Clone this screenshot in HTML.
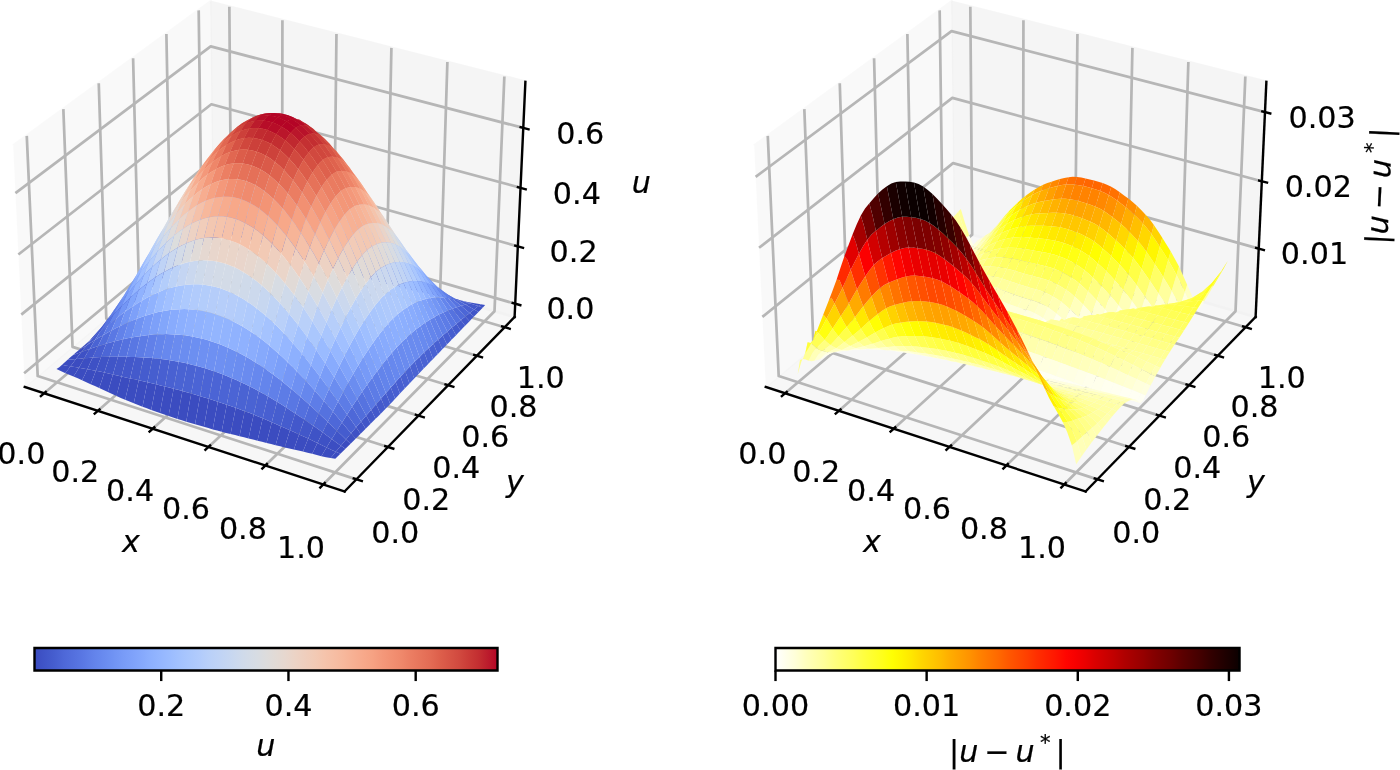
<!DOCTYPE html>
<html lang="en"><head><meta charset="utf-8"><title>u and |u - u*| surfaces</title>
<style>html,body{margin:0;padding:0;background:#fff;overflow:hidden}svg{display:block}text{font-family:"DejaVu Sans","Liberation Sans",sans-serif;stroke:#000;stroke-width:0.07px}</style>
</head><body>
<svg width="1400" height="770" preserveAspectRatio="none" viewBox="0 0 463.448276 254.896552">
<defs>
<style type="text/css">*{stroke-linejoin: round; stroke-linecap: butt}</style>
<linearGradient id="cbg0" x1="0" x2="1" y1="0" y2="0"><stop offset="0" stop-color="#3b4cc0"/><stop offset="0.02083" stop-color="#4055c8"/><stop offset="0.04167" stop-color="#465ecf"/><stop offset="0.0625" stop-color="#4e68d8"/><stop offset="0.08333" stop-color="#5470de"/><stop offset="0.1042" stop-color="#5a78e4"/><stop offset="0.125" stop-color="#6282ea"/><stop offset="0.1458" stop-color="#688aef"/><stop offset="0.1667" stop-color="#6f92f3"/><stop offset="0.1875" stop-color="#779af7"/><stop offset="0.2083" stop-color="#7ea1fa"/><stop offset="0.2292" stop-color="#85a8fc"/><stop offset="0.25" stop-color="#8db0fe"/><stop offset="0.2708" stop-color="#94b6ff"/><stop offset="0.2917" stop-color="#9bbcff"/><stop offset="0.3125" stop-color="#a3c2fe"/><stop offset="0.3333" stop-color="#aac7fd"/><stop offset="0.3542" stop-color="#b1cbfc"/><stop offset="0.375" stop-color="#b9d0f9"/><stop offset="0.3958" stop-color="#bfd3f6"/><stop offset="0.4167" stop-color="#c5d6f2"/><stop offset="0.4375" stop-color="#ccd9ed"/><stop offset="0.4583" stop-color="#d2dbe8"/><stop offset="0.4792" stop-color="#d7dce3"/><stop offset="0.5" stop-color="#dddcdc"/><stop offset="0.5208" stop-color="#e2dad5"/><stop offset="0.5417" stop-color="#e7d7ce"/><stop offset="0.5625" stop-color="#ecd3c5"/><stop offset="0.5833" stop-color="#efcebd"/><stop offset="0.6042" stop-color="#f2cab5"/><stop offset="0.625" stop-color="#f5c4ac"/><stop offset="0.6458" stop-color="#f6bea4"/><stop offset="0.6667" stop-color="#f7b89c"/><stop offset="0.6875" stop-color="#f7b093"/><stop offset="0.7083" stop-color="#f7a98b"/><stop offset="0.7292" stop-color="#f6a283"/><stop offset="0.75" stop-color="#f4987a"/><stop offset="0.7708" stop-color="#f29072"/><stop offset="0.7917" stop-color="#ef886b"/><stop offset="0.8125" stop-color="#eb7d62"/><stop offset="0.8333" stop-color="#e7745b"/><stop offset="0.8542" stop-color="#e36b54"/><stop offset="0.875" stop-color="#dd5f4b"/><stop offset="0.8958" stop-color="#d75445"/><stop offset="0.9167" stop-color="#d1493f"/><stop offset="0.9375" stop-color="#ca3b37"/><stop offset="0.9583" stop-color="#c32e31"/><stop offset="0.9792" stop-color="#bb1b2c"/><stop offset="1" stop-color="#b40426"/></linearGradient><linearGradient id="cbg1" x1="0" x2="1" y1="0" y2="0"><stop offset="0" stop-color="#ffffff"/><stop offset="0.02083" stop-color="#ffffeb"/><stop offset="0.04167" stop-color="#ffffd8"/><stop offset="0.0625" stop-color="#ffffc0"/><stop offset="0.08333" stop-color="#ffffac"/><stop offset="0.1042" stop-color="#ffff99"/><stop offset="0.125" stop-color="#ffff81"/><stop offset="0.1458" stop-color="#ffff6d"/><stop offset="0.1667" stop-color="#ffff5a"/><stop offset="0.1875" stop-color="#ffff42"/><stop offset="0.2083" stop-color="#ffff2e"/><stop offset="0.2292" stop-color="#ffff1b"/><stop offset="0.25" stop-color="#ffff03"/><stop offset="0.2708" stop-color="#fff400"/><stop offset="0.2917" stop-color="#ffe700"/><stop offset="0.3125" stop-color="#ffd700"/><stop offset="0.3333" stop-color="#ffca00"/><stop offset="0.3542" stop-color="#ffbd00"/><stop offset="0.375" stop-color="#ffad00"/><stop offset="0.3958" stop-color="#ffa000"/><stop offset="0.4167" stop-color="#ff9300"/><stop offset="0.4375" stop-color="#ff8300"/><stop offset="0.4583" stop-color="#ff7600"/><stop offset="0.4792" stop-color="#ff6900"/><stop offset="0.5" stop-color="#ff5900"/><stop offset="0.5208" stop-color="#ff4c00"/><stop offset="0.5417" stop-color="#ff3f00"/><stop offset="0.5625" stop-color="#ff2f00"/><stop offset="0.5833" stop-color="#ff2200"/><stop offset="0.6042" stop-color="#ff1500"/><stop offset="0.625" stop-color="#ff0500"/><stop offset="0.6458" stop-color="#f70000"/><stop offset="0.6667" stop-color="#ea0000"/><stop offset="0.6875" stop-color="#da0000"/><stop offset="0.7083" stop-color="#cd0000"/><stop offset="0.7292" stop-color="#c00000"/><stop offset="0.75" stop-color="#b00000"/><stop offset="0.7708" stop-color="#a30000"/><stop offset="0.7917" stop-color="#960000"/><stop offset="0.8125" stop-color="#860000"/><stop offset="0.8333" stop-color="#790000"/><stop offset="0.8542" stop-color="#6c0000"/><stop offset="0.875" stop-color="#5c0000"/><stop offset="0.8958" stop-color="#4f0000"/><stop offset="0.9167" stop-color="#420000"/><stop offset="0.9375" stop-color="#320000"/><stop offset="0.9583" stop-color="#250000"/><stop offset="0.9792" stop-color="#180000"/><stop offset="1" stop-color="#0b0000"/></linearGradient></defs>
<g id="figure_1">
<g id="patch_1">
<path d="M0 254.9L463.45 254.9L463.45 0L0 0z" style="fill: #ffffff"/>
</g>
<g id="patch_2">
<path d="M-1 174.57L182.48 174.57L182.48 -1" style="fill: none; opacity: 0"/>
</g>
<g id="pane3d_1">
<g id="patch_3">
<path d="M8.19 128.09L70.45 75.9L69.58 0.64L4.35 48.25" style="fill: #f5f5f5; opacity: 0.5; stroke: #f5f5f5; stroke-linejoin: miter"/>
</g>
</g>
<g id="pane3d_2">
<g id="patch_4">
<path d="M70.45 75.9L170.35 104.94L173.92 27.09L69.58 0.64" style="fill: #ededed; opacity: 0.5; stroke: #ededed; stroke-linejoin: miter"/>
</g>
</g>
<g id="pane3d_3">
<g id="patch_5">
<path d="M8.19 128.09L114.09 162.67L170.35 104.94L70.45 75.9" style="fill: #f1f1f1; opacity: 0.5; stroke: #f1f1f1; stroke-linejoin: miter"/>
</g>
</g>
<g id="grid3d_1">
<g id="Line3DCollection_1">
<path d="M14.61 130.18L76.53 77.67L75.92 2.25" style="fill: none; stroke: #b6b6b6; stroke-width: 0.9"/>
<path d="M32.42 136L93.38 82.57L93.49 6.7" style="fill: none; stroke: #b6b6b6; stroke-width: 0.9"/>
<path d="M50.55 141.92L110.52 87.55L111.38 11.23" style="fill: none; stroke: #b6b6b6; stroke-width: 0.9"/>
<path d="M69.03 147.95L127.94 92.61L129.57 15.85" style="fill: none; stroke: #b6b6b6; stroke-width: 0.9"/>
<path d="M87.84 154.1L145.67 97.77L148.1 20.54" style="fill: none; stroke: #b6b6b6; stroke-width: 0.9"/>
<path d="M107.01 160.36L163.7 103.01L166.96 25.32" style="fill: none; stroke: #b6b6b6; stroke-width: 0.9"/>
</g>
</g>
<g id="grid3d_2">
<g id="Line3DCollection_2">
<path d="M8.86 44.96L12.48 124.49L117.98 158.68" style="fill: none; stroke: #b6b6b6; stroke-width: 0.9"/>
<path d="M20.97 36.12L24.01 114.83L128.43 147.96" style="fill: none; stroke: #b6b6b6; stroke-width: 0.9"/>
<path d="M32.69 27.57L35.18 105.46L138.54 137.58" style="fill: none; stroke: #b6b6b6; stroke-width: 0.9"/>
<path d="M44.06 19.27L46.03 96.37L148.34 127.52" style="fill: none; stroke: #b6b6b6; stroke-width: 0.9"/>
<path d="M55.08 11.23L56.56 87.54L157.84 117.77" style="fill: none; stroke: #b6b6b6; stroke-width: 0.9"/>
<path d="M65.77 3.43L66.79 78.97L167.06 108.32" style="fill: none; stroke: #b6b6b6; stroke-width: 0.9"/>
</g>
</g>
<g id="grid3d_3">
<g id="Line3DCollection_3">
<path d="M170.55 100.54L70.4 71.64L7.98 123.58" style="fill: none; stroke: #b6b6b6; stroke-width: 0.9"/>
<path d="M171.42 81.56L70.19 53.27L7.04 104.14" style="fill: none; stroke: #b6b6b6; stroke-width: 0.9"/>
<path d="M172.31 62.17L69.97 34.52L6.08 84.26" style="fill: none; stroke: #b6b6b6; stroke-width: 0.9"/>
<path d="M173.22 42.35L69.75 15.37L5.1 63.92" style="fill: none; stroke: #b6b6b6; stroke-width: 0.9"/>
</g>
</g>
<g id="axis3d_1">
<g id="line2d_1">
<path d="M8.19 128.09L114.09 162.67" style="fill: none; stroke: #000000; stroke-width: 0.8; stroke-linecap: square"/>
</g>
<g id="xtick_1">
<g id="line2d_2">
<path d="M15.15 129.72L13.53 131.1" style="fill: none; stroke: #000000; stroke-width: 0.8; stroke-linecap: square"/>
</g>
<g id="text_1">
<text style="font-size: 10px; font-family: 'DejaVu Sans', 'Liberation Sans', sans-serif; text-anchor: middle" x="7.067" y="153.655" transform="rotate(-0 7.067 153.655)">0.0</text>
</g>
</g>
<g id="xtick_2">
<g id="line2d_3">
<path d="M32.95 135.53L31.35 136.93" style="fill: none; stroke: #000000; stroke-width: 0.8; stroke-linecap: square"/>
</g>
<g id="text_2">
<text style="font-size: 10px; font-family: 'DejaVu Sans', 'Liberation Sans', sans-serif; text-anchor: middle" x="24.902" y="159.646" transform="rotate(-0 24.902 159.646)">0.2</text>
</g>
</g>
<g id="xtick_3">
<g id="line2d_4">
<path d="M51.08 141.45L49.51 142.87" style="fill: none; stroke: #000000; stroke-width: 0.8; stroke-linecap: square"/>
</g>
<g id="text_3">
<text style="font-size: 10px; font-family: 'DejaVu Sans', 'Liberation Sans', sans-serif; text-anchor: middle" x="43.067" y="165.748" transform="rotate(-0 43.067 165.748)">0.4</text>
</g>
</g>
<g id="xtick_4">
<g id="line2d_5">
<path d="M69.54 147.47L67.99 148.92" style="fill: none; stroke: #000000; stroke-width: 0.8; stroke-linecap: square"/>
</g>
<g id="text_4">
<text style="font-size: 10px; font-family: 'DejaVu Sans', 'Liberation Sans', sans-serif; text-anchor: middle" x="61.568" y="171.963" transform="rotate(-0 61.568 171.963)">0.6</text>
</g>
</g>
<g id="xtick_5">
<g id="line2d_6">
<path d="M88.35 153.61L86.83 155.09" style="fill: none; stroke: #000000; stroke-width: 0.8; stroke-linecap: square"/>
</g>
<g id="text_5">
<text style="font-size: 10px; font-family: 'DejaVu Sans', 'Liberation Sans', sans-serif; text-anchor: middle" x="80.418" y="178.294" transform="rotate(-0 80.418 178.294)">0.8</text>
</g>
</g>
<g id="xtick_6">
<g id="line2d_7">
<path d="M107.51 159.86L106.02 161.37" style="fill: none; stroke: #000000; stroke-width: 0.8; stroke-linecap: square"/>
</g>
<g id="text_6">
<text style="font-size: 10px; font-family: 'DejaVu Sans', 'Liberation Sans', sans-serif; text-anchor: middle" x="99.624" y="184.746" transform="rotate(-0 99.624 184.746)">1.0</text>
</g>
</g>
<g id="text_7">
<g transform="translate(40.400 183.217)">
<text>
<tspan x="0" y="-0.53125" style="font-style: oblique; font-size: 10px; font-family: 'DejaVu Sans', 'Liberation Sans', sans-serif">x</tspan>
</text>
</g>
</g>
</g>
<g id="axis3d_2">
<g id="line2d_8">
<path d="M170.35 104.94L114.09 162.67" style="fill: none; stroke: #000000; stroke-width: 0.8; stroke-linecap: square"/>
</g>
<g id="xtick_7">
<g id="line2d_9">
<path d="M117.1 158.39L119.77 159.26" style="fill: none; stroke: #000000; stroke-width: 0.8; stroke-linecap: square"/>
</g>
<g id="text_8">
<text style="font-size: 10px; font-family: 'DejaVu Sans', 'Liberation Sans', sans-serif; text-anchor: middle" x="130.869" y="179.844" transform="rotate(-0 130.869 179.844)">0.0</text>
</g>
</g>
<g id="xtick_8">
<g id="line2d_10">
<path d="M127.55 147.68L130.19 148.52" style="fill: none; stroke: #000000; stroke-width: 0.8; stroke-linecap: square"/>
</g>
<g id="text_9">
<text style="font-size: 10px; font-family: 'DejaVu Sans', 'Liberation Sans', sans-serif; text-anchor: middle" x="141.115" y="168.902" transform="rotate(-0 141.115 168.902)">0.2</text>
</g>
</g>
<g id="xtick_9">
<g id="line2d_11">
<path d="M137.67 137.31L140.28 138.12" style="fill: none; stroke: #000000; stroke-width: 0.8; stroke-linecap: square"/>
</g>
<g id="text_10">
<text style="font-size: 10px; font-family: 'DejaVu Sans', 'Liberation Sans', sans-serif; text-anchor: middle" x="151.037" y="158.305" transform="rotate(-0 151.037 158.305)">0.4</text>
</g>
</g>
<g id="xtick_10">
<g id="line2d_12">
<path d="M147.48 127.26L150.07 128.05" style="fill: none; stroke: #000000; stroke-width: 0.8; stroke-linecap: square"/>
</g>
<g id="text_11">
<text style="font-size: 10px; font-family: 'DejaVu Sans', 'Liberation Sans', sans-serif; text-anchor: middle" x="160.651" y="148.038" transform="rotate(-0 160.651 148.038)">0.6</text>
</g>
</g>
<g id="xtick_11">
<g id="line2d_13">
<path d="M156.99 117.52L159.55 118.28" style="fill: none; stroke: #000000; stroke-width: 0.8; stroke-linecap: square"/>
</g>
<g id="text_12">
<text style="font-size: 10px; font-family: 'DejaVu Sans', 'Liberation Sans', sans-serif; text-anchor: middle" x="169.972" y="138.085" transform="rotate(-0 169.972 138.085)">0.8</text>
</g>
</g>
<g id="xtick_12">
<g id="line2d_14">
<path d="M166.22 108.07L168.74 108.81" style="fill: none; stroke: #000000; stroke-width: 0.8; stroke-linecap: square"/>
</g>
<g id="text_13">
<text style="font-size: 10px; font-family: 'DejaVu Sans', 'Liberation Sans', sans-serif; text-anchor: middle" x="179.011" y="128.431" transform="rotate(-0 179.011 128.431)">1.0</text>
</g>
</g>
<g id="text_14">
<g transform="translate(167.465 163.419)">
<text>
<tspan x="0" y="-0.53125" style="font-style: oblique; font-size: 10px; font-family: 'DejaVu Sans', 'Liberation Sans', sans-serif">y</tspan>
</text>
</g>
</g>
</g>
<g id="axis3d_3">
<g id="line2d_15">
<path d="M170.35 104.94L173.92 27.09" style="fill: none; stroke: #000000; stroke-width: 0.8; stroke-linecap: square"/>
</g>
<g id="xtick_13">
<g id="line2d_16">
<path d="M169.71 100.3L172.24 101.03" style="fill: none; stroke: #000000; stroke-width: 0.8; stroke-linecap: square"/>
</g>
<g id="text_15">
<text style="font-size: 10px; font-family: 'DejaVu Sans', 'Liberation Sans', sans-serif; text-anchor: middle" x="188.823" y="105.688" transform="rotate(-0 188.823 105.688)">0.0</text>
</g>
</g>
<g id="xtick_14">
<g id="line2d_17">
<path d="M170.57 81.33L173.12 82.04" style="fill: none; stroke: #000000; stroke-width: 0.8; stroke-linecap: square"/>
</g>
<g id="text_16">
<text style="font-size: 10px; font-family: 'DejaVu Sans', 'Liberation Sans', sans-serif; text-anchor: middle" x="189.886" y="86.767" transform="rotate(-0 189.886 86.767)">0.2</text>
</g>
</g>
<g id="xtick_15">
<g id="line2d_18">
<path d="M171.45 61.94L174.03 62.64" style="fill: none; stroke: #000000; stroke-width: 0.8; stroke-linecap: square"/>
</g>
<g id="text_17">
<text style="font-size: 10px; font-family: 'DejaVu Sans', 'Liberation Sans', sans-serif; text-anchor: middle" x="190.973" y="67.431" transform="rotate(-0 190.973 67.431)">0.4</text>
</g>
</g>
<g id="xtick_16">
<g id="line2d_19">
<path d="M172.35 42.12L174.96 42.8" style="fill: none; stroke: #000000; stroke-width: 0.8; stroke-linecap: square"/>
</g>
<g id="text_18">
<text style="font-size: 10px; font-family: 'DejaVu Sans', 'Liberation Sans', sans-serif; text-anchor: middle" x="192.084" y="47.666" transform="rotate(-0 192.084 47.666)">0.6</text>
</g>
</g>
<g id="text_19">
<g transform="translate(209.160 64.371)">
<text>
<tspan x="0" y="-0.53125" style="font-style: oblique; font-size: 10px; font-family: 'DejaVu Sans', 'Liberation Sans', sans-serif">u</tspan>
</text>
</g>
</g>
</g>
<g id="axes_1">
<g id="Poly3DCollection_1">
<path d="M72.04 76.61L73.38 77.04L74.72 77.44L75.52 77.1L74.18 76.53L72.84 75.93z" fill="#3c4ec2"/>
<path d="M74.72 77.44L76.06 77.8L77.4 78.12L78.2 78.11L76.86 77.63L75.52 77.1z" fill="#3c4ec2"/>
<path d="M70.44 77.98L71.77 78.07L73.11 78.13L73.92 77.78L74.72 77.44L73.38 77.04L72.04 76.61L71.24 77.3z" fill="#3c4ec2"/>
<path d="M77.4 78.12L78.74 78.41L80.09 78.7L80.89 79.02L79.54 78.57L78.2 78.11z" fill="#3c4ec2"/>
<path d="M73.11 78.13L74.45 78.15L75.79 78.13L76.6 78.12L77.4 78.12L76.06 77.8L74.72 77.44L73.92 77.78z" fill="#3f53c6"/>
<path d="M80.09 78.7L81.43 78.99L82.78 79.3L83.58 79.94L82.23 79.47L80.89 79.02z" fill="#3d50c3"/>
<path d="M68.83 79.36L70.16 79.1L71.5 78.83L72.31 78.48L73.11 78.13L71.77 78.07L70.44 77.98L69.63 78.67z" fill="#3c4ec2"/>
<path d="M75.79 78.13L77.14 78.1L78.48 78.06L79.29 78.38L80.09 78.7L78.74 78.41L77.4 78.12L76.6 78.12z" fill="#4358cb"/>
<path d="M82.78 79.3L84.13 79.63L85.49 79.98L86.28 80.92L84.93 80.43L83.58 79.94z" fill="#3e51c5"/>
<path d="M71.5 78.83L72.84 78.52L74.18 78.17L74.99 78.15L75.79 78.13L74.45 78.15L73.11 78.13L72.31 78.48z" fill="#4257c9"/>
<path d="M85.49 79.98L86.84 80.32L88.2 80.67L88.99 81.9L87.63 81.42L86.28 80.92z" fill="#3e51c5"/>
<path d="M78.48 78.06L79.83 78.04L81.18 78.03L81.98 78.67L82.78 79.3L81.43 78.99L80.09 78.7L79.29 78.38z" fill="#465ecf"/>
<path d="M67.21 80.74L68.54 80.15L69.87 79.55L70.69 79.19L71.5 78.83L70.16 79.1L68.83 79.36L68.02 80.05z" fill="#3c4ec2"/>
<path d="M88.2 80.67L89.56 81.01L90.92 81.35L91.7 82.86L90.34 82.38L88.99 81.9z" fill="#3f53c6"/>
<path d="M81.18 78.03L82.53 78.05L83.89 78.09L84.69 79.03L85.49 79.98L84.13 79.63L82.78 79.3L81.98 78.67z" fill="#4a63d3"/>
<path d="M74.18 78.17L75.52 77.81L76.87 77.45L77.67 77.75L78.48 78.06L77.14 78.1L75.79 78.13L74.99 78.15z" fill="#4961d2"/>
<path d="M69.87 79.55L71.21 78.91L72.55 78.24L73.36 78.2L74.18 78.17L72.84 78.52L71.5 78.83L70.69 79.19z" fill="#455cce"/>
<path d="M90.92 81.35L92.28 81.7L93.64 82.04L94.42 83.81L93.06 83.34L91.7 82.86z" fill="#3f53c6"/>
<path d="M65.59 82.12L66.91 81.22L68.24 80.3L69.06 79.92L69.87 79.55L68.54 80.15L67.21 80.74L66.4 81.43z" fill="#3c4ec2"/>
<path d="M83.89 78.09L85.25 78.14L86.61 78.19L87.41 79.43L88.2 80.67L86.84 80.32L85.49 79.98L84.69 79.03z" fill="#4e68d8"/>
<path d="M76.87 77.45L78.21 77.11L79.57 76.79L80.38 77.41L81.18 78.03L79.83 78.04L78.48 78.06L77.67 77.75z" fill="#4f69d9"/>
<path d="M93.64 82.04L95.01 82.39L96.38 82.74L97.15 84.73L95.78 84.27L94.42 83.81z" fill="#3f53c6"/>
<path d="M86.61 78.19L87.97 78.25L89.34 78.33L90.13 79.84L90.92 81.35L89.56 81.01L88.2 80.67L87.41 79.43z" fill="#506bda"/>
<path d="M72.55 78.24L73.89 77.57L75.24 76.89L76.05 77.17L76.87 77.45L75.52 77.81L74.18 78.17L73.36 78.2z" fill="#4f69d9"/>
<path d="M63.95 83.52L65.28 82.31L66.6 81.08L67.42 80.69L68.24 80.3L66.91 81.22L65.59 82.12L64.77 82.82z" fill="#3c4ec2"/>
<path d="M96.38 82.74L97.75 83.09L99.12 83.44L99.88 85.64L98.52 85.19L97.15 84.73z" fill="#4055c8"/>
<path d="M68.24 80.3L69.58 79.35L70.91 78.36L71.73 78.3L72.55 78.24L71.21 78.91L69.87 79.55L69.06 79.92z" fill="#485fd1"/>
<path d="M79.57 76.79L80.92 76.5L82.28 76.24L83.09 77.16L83.89 78.09L82.53 78.05L81.18 78.03L80.38 77.41z" fill="#5673e0"/>
<path d="M89.34 78.33L90.71 78.41L92.08 78.51L92.86 80.27L93.64 82.04L92.28 81.7L90.92 81.35L90.13 79.84z" fill="#5470de"/>
<path d="M99.12 83.44L100.49 83.8L101.87 84.15L102.62 86.53L101.25 86.09L99.88 85.64z" fill="#4055c8"/>
<path d="M75.24 76.89L76.59 76.24L77.94 75.61L78.76 76.19L79.57 76.79L78.21 77.11L76.87 77.45L76.05 77.17z" fill="#5977e3"/>
<path d="M82.28 76.24L83.64 75.99L85.01 75.76L85.81 76.97L86.61 78.19L85.25 78.14L83.89 78.09L83.09 77.16z" fill="#5d7ce6"/>
<path d="M62.31 84.92L63.63 83.42L64.96 81.9L65.78 81.49L66.6 81.08L65.28 82.31L63.95 83.52L63.13 84.22z" fill="#3c4ec2"/>
<path d="M92.08 78.51L93.45 78.62L94.82 78.74L95.6 80.74L96.38 82.74L95.01 82.39L93.64 82.04L92.86 80.27z" fill="#5673e0"/>
<path d="M101.87 84.15L103.25 84.52L104.63 84.89L105.37 87.41L104 86.97L102.62 86.53z" fill="#4257c9"/>
<path d="M70.91 78.36L72.26 77.38L73.6 76.39L74.42 76.63L75.24 76.89L73.89 77.57L72.55 78.24L71.73 78.3z" fill="#5470de"/>
<path d="M66.6 81.08L67.93 79.82L69.27 78.54L70.09 78.44L70.91 78.36L69.58 79.35L68.24 80.3L67.42 80.69z" fill="#4a63d3"/>
<path d="M104.63 84.89L106.01 85.26L107.39 85.64L108.13 88.28L106.75 87.85L105.37 87.41z" fill="#4257c9"/>
<path d="M94.82 78.74L96.2 78.88L97.58 79.03L98.35 81.24L99.12 83.44L97.75 83.09L96.38 82.74L95.6 80.74z" fill="#5977e3"/>
<path d="M85.01 75.76L86.37 75.54L87.74 75.34L88.54 76.83L89.34 78.33L87.97 78.25L86.61 78.19L85.81 76.97z" fill="#6384eb"/>
<path d="M77.94 75.61L79.3 75.02L80.66 74.45L81.47 75.33L82.28 76.24L80.92 76.5L79.57 76.79L78.76 76.19z" fill="#6282ea"/>
<path d="M60.66 86.33L61.98 84.56L63.3 82.77L64.13 82.33L64.96 81.9L63.63 83.42L62.31 84.92L61.49 85.62z" fill="#3c4ec2"/>
<path d="M107.39 85.64L108.78 86.03L110.16 86.41L110.89 89.13L109.51 88.71L108.13 88.28z" fill="#4257c9"/>
<path d="M73.6 76.39L74.95 75.43L76.3 74.51L77.12 75.05L77.94 75.61L76.59 76.24L75.24 76.89L74.42 76.63z" fill="#6282ea"/>
<path d="M97.58 79.03L98.96 79.2L100.34 79.39L101.11 81.77L101.87 84.15L100.49 83.8L99.12 83.44L98.35 81.24z" fill="#5b7ae5"/>
<path d="M64.96 81.9L66.28 80.36L67.62 78.79L68.44 78.66L69.27 78.54L67.93 79.82L66.6 81.08L65.78 81.49z" fill="#4c66d6"/>
<path d="M87.74 75.34L89.12 75.17L90.49 75.01L91.29 76.75L92.08 78.51L90.71 78.41L89.34 78.33L88.54 76.83z" fill="#688aef"/>
<path d="M69.27 78.54L70.61 77.26L71.95 75.98L72.78 76.18L73.6 76.39L72.26 77.38L70.91 78.36L70.09 78.44z" fill="#5a78e4"/>
<path d="M80.66 74.45L82.02 73.91L83.39 73.39L84.2 74.56L85.01 75.76L83.64 75.99L82.28 76.24L81.47 75.33z" fill="#6c8ff1"/>
<path d="M110.16 86.41L111.55 86.8L112.94 87.19L113.66 89.95L112.28 89.54L110.89 89.13z" fill="#4257c9"/>
<path d="M100.34 79.39L101.73 79.6L103.12 79.83L103.87 82.36L104.63 84.89L103.25 84.52L101.87 84.15L101.11 81.77z" fill="#5e7de7"/>
<path d="M59.01 87.74L60.32 85.72L61.64 83.69L62.47 83.22L63.3 82.77L61.98 84.56L60.66 86.33L59.84 87.03z" fill="#3c4ec2"/>
<path d="M90.49 75.01L91.87 74.89L93.25 74.78L94.04 76.75L94.82 78.74L93.45 78.62L92.08 78.51L91.29 76.75z" fill="#6e90f2"/>
<path d="M112.94 87.19L114.33 87.59L115.73 87.99L116.44 90.76L115.05 90.35L113.66 89.95z" fill="#4257c9"/>
<path d="M76.3 74.51L77.66 73.62L79.02 72.76L79.84 73.59L80.66 74.45L79.3 75.02L77.94 75.61L77.12 75.05z" fill="#6f92f3"/>
<path d="M103.12 79.83L104.51 80.09L105.9 80.36L106.65 83L107.39 85.64L106.01 85.26L104.63 84.89L103.87 82.36z" fill="#5f7fe8"/>
<path d="M63.3 82.77L64.62 80.96L65.95 79.13L66.79 78.95L67.62 78.79L66.28 80.36L64.96 81.9L64.13 82.33z" fill="#4f69d9"/>
<path d="M83.39 73.39L84.76 72.9L86.14 72.44L86.94 73.88L87.74 75.34L86.37 75.54L85.01 75.76L84.2 74.56z" fill="#7699f6"/>
<path d="M71.95 75.98L73.3 74.73L74.66 73.52L75.48 74L76.3 74.51L74.95 75.43L73.6 76.39L72.78 76.18z" fill="#6a8bef"/>
<path d="M67.62 78.79L68.95 77.23L70.3 75.67L71.13 75.81L71.95 75.98L70.61 77.26L69.27 78.54L68.44 78.66z" fill="#5f7fe8"/>
<path d="M115.73 87.99L117.12 88.4L118.52 88.82L119.23 91.57L117.84 91.17L116.44 90.76z" fill="#4257c9"/>
<path d="M93.25 74.78L94.64 74.71L96.02 74.67L96.8 76.84L97.58 79.03L96.2 78.88L94.82 78.74L94.04 76.75z" fill="#7396f5"/>
<path d="M57.35 89.16L58.65 86.92L59.96 84.66L60.8 84.17L61.64 83.69L60.32 85.72L59.01 87.74L58.18 88.45z" fill="#3c4ec2"/>
<path d="M105.9 80.36L107.29 80.66L108.69 80.97L109.43 83.69L110.16 86.41L108.78 86.03L107.39 85.64L106.65 83z" fill="#6180e9"/>
<path d="M118.52 88.82L119.92 89.24L121.32 89.67L122.02 92.36L120.63 91.97L119.23 91.57z" fill="#4257c9"/>
<path d="M79.02 72.76L80.39 71.94L81.76 71.14L82.58 72.25L83.39 73.39L82.02 73.91L80.66 74.45L79.84 73.59z" fill="#7b9ff9"/>
<path d="M86.14 72.44L87.51 72.01L88.89 71.61L89.69 73.3L90.49 75.01L89.12 75.17L87.74 75.34L86.94 73.88z" fill="#7ea1fa"/>
<path d="M96.02 74.67L97.41 74.65L98.8 74.67L99.57 77.02L100.34 79.39L98.96 79.2L97.58 79.03L96.8 76.84z" fill="#799cf8"/>
<path d="M61.64 83.69L62.96 81.63L64.28 79.56L65.12 79.33L65.95 79.13L64.62 80.96L63.3 82.77L62.47 83.22z" fill="#516ddb"/>
<path d="M108.69 80.97L110.08 81.3L111.48 81.66L112.21 84.42L112.94 87.19L111.55 86.8L110.16 86.41L109.43 83.69z" fill="#6282ea"/>
<path d="M121.32 89.67L122.73 90.09L124.13 90.52L124.83 93.13L123.42 92.75L122.02 92.36z" fill="#4257c9"/>
<path d="M74.66 73.52L76.01 72.34L77.38 71.21L78.2 71.97L79.02 72.76L77.66 73.62L76.3 74.51L75.48 74z" fill="#7b9ff9"/>
<path d="M55.68 90.59L56.98 88.15L58.28 85.7L59.13 85.17L59.96 84.66L58.65 86.92L57.35 89.16L56.51 89.87z" fill="#3b4cc0"/>
<path d="M65.95 79.13L67.29 77.3L68.63 75.48L69.46 75.56L70.3 75.67L68.95 77.23L67.62 78.79L66.79 78.95z" fill="#6485ec"/>
<path d="M70.3 75.67L71.64 74.14L73 72.66L73.83 73.07L74.66 73.52L73.3 74.73L71.95 75.98L71.13 75.81z" fill="#7396f5"/>
<path d="M111.48 81.66L112.88 82.04L114.28 82.44L115.01 85.21L115.73 87.99L114.33 87.59L112.94 87.19L112.21 84.42z" fill="#6282ea"/>
<path d="M98.8 74.67L100.19 74.73L101.59 74.82L102.36 77.32L103.12 79.83L101.73 79.6L100.34 79.39L99.57 77.02z" fill="#7da0f9"/>
<path d="M88.89 71.61L90.28 71.25L91.66 70.92L92.46 72.84L93.25 74.78L91.87 74.89L90.49 75.01L89.69 73.3z" fill="#86a9fc"/>
<path d="M81.76 71.14L83.13 70.38L84.51 69.66L85.33 71.03L86.14 72.44L84.76 72.9L83.39 73.39L82.58 72.25z" fill="#88abfd"/>
<path d="M124.13 90.52L125.54 90.95L126.95 91.4L127.64 93.89L126.23 93.51L124.83 93.13z" fill="#4257c9"/>
<path d="M59.96 84.66L61.28 82.38L62.61 80.09L63.45 79.81L64.28 79.56L62.96 81.63L61.64 83.69L60.8 84.17z" fill="#5470de"/>
<path d="M114.28 82.44L115.69 82.86L117.09 83.31L117.81 86.06L118.52 88.82L117.12 88.4L115.73 87.99L115.01 85.21z" fill="#6282ea"/>
<path d="M101.59 74.82L102.99 74.95L104.39 75.12L105.14 77.73L105.9 80.36L104.51 80.09L103.12 79.83L102.36 77.32z" fill="#80a3fa"/>
<path d="M54 92.02L55.29 89.42L56.6 86.8L57.44 86.24L58.28 85.7L56.98 88.15L55.68 90.59L54.84 91.3z" fill="#3b4cc0"/>
<path d="M126.95 91.4L128.36 91.84L129.77 92.29L130.46 94.63L129.04 94.26L127.64 93.89z" fill="#4257c9"/>
<path d="M77.38 71.21L78.74 70.11L80.12 69.05L80.94 70.07L81.76 71.14L80.39 71.94L79.02 72.76L78.2 71.97z" fill="#8badfd"/>
<path d="M91.66 70.92L93.05 70.64L94.45 70.4L95.24 72.52L96.02 74.67L94.64 74.71L93.25 74.78L92.46 72.84z" fill="#8fb1fe"/>
<path d="M64.28 79.56L65.62 77.49L66.95 75.43L67.79 75.44L68.63 75.48L67.29 77.3L65.95 79.13L65.12 79.33z" fill="#6a8bef"/>
<path d="M117.09 83.31L118.5 83.78L119.91 84.27L120.62 86.97L121.32 89.67L119.92 89.24L118.52 88.82L117.81 86.06z" fill="#6282ea"/>
<path d="M84.51 69.66L85.89 68.98L87.28 68.34L88.09 69.95L88.89 71.61L87.51 72.01L86.14 72.44L85.33 71.03z" fill="#94b6ff"/>
<path d="M73 72.66L74.36 71.21L75.72 69.81L76.55 70.49L77.38 71.21L76.01 72.34L74.66 73.52L73.83 73.07z" fill="#86a9fc"/>
<path d="M68.63 75.48L69.98 73.7L71.33 71.95L72.16 72.28L73 72.66L71.64 74.14L70.3 75.67L69.46 75.56z" fill="#7b9ff9"/>
<path d="M104.39 75.12L105.79 75.33L107.19 75.57L107.94 78.26L108.69 80.97L107.29 80.66L105.9 80.36L105.14 77.73z" fill="#82a6fb"/>
<path d="M129.77 92.29L131.18 92.74L132.6 93.19L133.28 95.35L131.87 94.99L130.46 94.63z" fill="#4055c8"/>
<path d="M119.91 84.27L121.32 84.77L122.73 85.29L123.43 87.91L124.13 90.52L122.73 90.09L121.32 89.67L120.62 86.97z" fill="#6282ea"/>
<path d="M58.28 85.7L59.6 83.22L60.92 80.74L61.76 80.4L62.61 80.09L61.28 82.38L59.96 84.66L59.13 85.17z" fill="#5572df"/>
<path d="M94.45 70.4L95.84 70.2L97.24 70.05L98.02 72.35L98.8 74.67L97.41 74.65L96.02 74.67L95.24 72.52z" fill="#96b7ff"/>
<path d="M52.31 93.46L53.6 90.72L54.9 87.96L55.75 87.37L56.6 86.8L55.29 89.42L54 92.02L53.15 92.74z" fill="#3b4cc0"/>
<path d="M132.6 93.19L134.02 93.65L135.44 94.1L136.12 96.05L134.7 95.71L133.28 95.35z" fill="#4055c8"/>
<path d="M107.19 75.57L108.6 75.85L110 76.17L110.74 78.9L111.48 81.66L110.08 81.3L108.69 80.97L107.94 78.26z" fill="#84a7fc"/>
<path d="M80.12 69.05L81.49 68.02L82.87 67.05L83.69 68.33L84.51 69.66L83.13 70.38L81.76 71.14L80.94 70.07z" fill="#9abbff"/>
<path d="M122.73 85.29L124.14 85.84L125.56 86.41L126.25 88.9L126.95 91.4L125.54 90.95L124.13 90.52L123.43 87.91z" fill="#6180e9"/>
<path d="M87.28 68.34L88.67 67.75L90.06 67.21L90.86 69.04L91.66 70.92L90.28 71.25L88.89 71.61L88.09 69.95z" fill="#9fbfff"/>
<path d="M62.61 80.09L63.93 77.8L65.27 75.53L66.11 75.46L66.95 75.43L65.62 77.49L64.28 79.56L63.45 79.81z" fill="#6e90f2"/>
<path d="M97.24 70.05L98.64 69.96L100.04 69.91L100.82 72.35L101.59 74.82L100.19 74.73L98.8 74.67L98.02 72.35z" fill="#9bbcff"/>
<path d="M135.44 94.1L136.86 94.54L138.28 94.99L138.96 96.7L137.54 96.38L136.12 96.05z" fill="#4055c8"/>
<path d="M110 76.17L111.41 76.52L112.82 76.92L113.56 79.67L114.28 82.44L112.88 82.04L111.48 81.66L110.74 78.9z" fill="#85a8fc"/>
<path d="M75.72 69.81L77.09 68.45L78.46 67.13L79.29 68.06L80.12 69.05L78.74 70.11L77.38 71.21L76.55 70.49z" fill="#9abbff"/>
<path d="M125.56 86.41L126.97 87L128.39 87.6L129.08 89.95L129.77 92.29L128.36 91.84L126.95 91.4L126.25 88.9z" fill="#5f7fe8"/>
<path d="M66.95 75.43L68.3 73.41L69.65 71.43L70.49 71.67L71.33 71.95L69.98 73.7L68.63 75.48L67.79 75.44z" fill="#82a6fb"/>
<path d="M56.6 86.8L57.91 84.16L59.22 81.51L60.07 81.11L60.92 80.74L59.6 83.22L58.28 85.7L57.44 86.24z" fill="#5673e0"/>
<path d="M50.62 94.91L51.91 92.06L53.2 89.2L54.05 88.57L54.9 87.96L53.6 90.72L52.31 93.46L51.46 94.18z" fill="#3b4cc0"/>
<path d="M71.33 71.95L72.69 70.25L74.05 68.6L74.88 69.18L75.72 69.81L74.36 71.21L73 72.66L72.16 72.28z" fill="#92b4fe"/>
<path d="M138.28 94.99L139.71 95.45L141.14 95.91L141.82 97.35L140.39 97.03L138.96 96.7z" fill="#4055c8"/>
<path d="M112.82 76.92L114.23 77.36L115.65 77.84L116.37 80.56L117.09 83.31L115.69 82.86L114.28 82.44L113.56 79.67z" fill="#85a8fc"/>
<path d="M90.06 67.21L91.45 66.72L92.85 66.29L93.65 68.32L94.45 70.4L93.05 70.64L91.66 70.92L90.86 69.04z" fill="#a9c6fd"/>
<path d="M128.39 87.6L129.8 88.23L131.22 88.87L131.91 91.03L132.6 93.19L131.18 92.74L129.77 92.29L129.08 89.95z" fill="#5d7ce6"/>
<path d="M82.87 67.05L84.26 66.13L85.65 65.26L86.46 66.77L87.28 68.34L85.89 68.98L84.51 69.66L83.69 68.33z" fill="#a9c6fd"/>
<path d="M100.04 69.91L101.45 69.92L102.85 69.99L103.62 72.54L104.39 75.12L102.99 74.95L101.59 74.82L100.82 72.35z" fill="#9fbfff"/>
<path d="M60.92 80.74L62.24 78.26L63.58 75.8L64.42 75.65L65.27 75.53L63.93 77.8L62.61 80.09L61.76 80.4z" fill="#7295f4"/>
<path d="M115.65 77.84L117.06 78.35L118.47 78.9L119.19 81.57L119.91 84.27L118.5 83.78L117.09 83.31L116.37 80.56z" fill="#85a8fc"/>
<path d="M131.22 88.87L132.64 89.53L134.07 90.2L134.75 92.14L135.44 94.1L134.02 93.65L132.6 93.19L131.91 91.03z" fill="#5b7ae5"/>
<path d="M141.14 95.91L142.56 96.36L144 96.82L144.68 97.98L143.25 97.67L141.82 97.35z" fill="#3f53c6"/>
<path d="M48.91 96.36L50.2 93.4L51.49 90.43L52.35 89.78L53.2 89.2L51.91 92.06L50.62 94.91L49.76 95.63z" fill="#3b4cc0"/>
<path d="M54.9 87.96L56.21 85.19L57.52 82.41L58.38 81.94L59.22 81.51L57.91 84.16L56.6 86.8L55.75 87.37z" fill="#5875e1"/>
<path d="M78.46 67.13L79.84 65.87L81.22 64.66L82.05 65.82L82.87 67.05L81.49 68.02L80.12 69.05L79.29 68.06z" fill="#aac7fd"/>
<path d="M102.85 69.99L104.26 70.1L105.67 70.28L106.44 72.9L107.19 75.57L105.79 75.33L104.39 75.12L103.62 72.54z" fill="#a3c2fe"/>
<path d="M92.85 66.29L94.25 65.91L95.66 65.6L96.45 67.8L97.24 70.05L95.84 70.2L94.45 70.4L93.65 68.32z" fill="#b1cbfc"/>
<path d="M65.27 75.53L66.61 73.3L67.96 71.1L68.81 71.24L69.65 71.43L68.3 73.41L66.95 75.43L66.11 75.46z" fill="#89acfd"/>
<path d="M134.07 90.2L135.49 90.88L136.91 91.57L137.6 93.28L138.28 94.99L136.86 94.54L135.44 94.1L134.75 92.14z" fill="#5977e3"/>
<path d="M118.47 78.9L119.89 79.49L121.31 80.11L122.02 82.69L122.73 85.29L121.32 84.77L119.91 84.27L119.19 81.57z" fill="#84a7fc"/>
<path d="M144 96.82L145.43 97.26L146.86 97.71L147.55 98.55L146.12 98.27L144.68 97.98z" fill="#3f53c6"/>
<path d="M74.05 68.6L75.42 67L76.79 65.45L77.63 66.26L78.46 67.13L77.09 68.45L75.72 69.81L74.88 69.18z" fill="#a6c4fe"/>
<path d="M85.65 65.26L87.04 64.45L88.44 63.7L89.25 65.42L90.06 67.21L88.67 67.75L87.28 68.34L86.46 66.77z" fill="#b5cdfa"/>
<path d="M69.65 71.43L71.01 69.5L72.37 67.62L73.21 68.08L74.05 68.6L72.69 70.25L71.33 71.95L70.49 71.67z" fill="#9bbcff"/>
<path d="M105.67 70.28L107.09 70.5L108.5 70.78L109.26 73.46L110 76.17L108.6 75.85L107.19 75.57L106.44 72.9z" fill="#a6c4fe"/>
<path d="M136.91 91.57L138.34 92.29L139.76 93.02L140.45 94.46L141.14 95.91L139.71 95.45L138.28 94.99L137.6 93.28z" fill="#5673e0"/>
<path d="M121.31 80.11L122.73 80.77L124.15 81.46L124.85 83.93L125.56 86.41L124.14 85.84L122.73 85.29L122.02 82.69z" fill="#81a4fb"/>
<path d="M59.22 81.51L60.55 78.87L61.88 76.25L62.73 76L63.58 75.8L62.24 78.26L60.92 80.74L60.07 81.11z" fill="#7597f6"/>
<path d="M47.2 97.82L48.49 94.82L49.78 91.82L50.64 91.11L51.49 90.43L50.2 93.4L48.91 96.36L48.06 97.09z" fill="#3b4cc0"/>
<path d="M146.86 97.71L148.3 98.15L149.74 98.6L150.44 99.12L148.99 98.84L147.55 98.55z" fill="#3f53c6"/>
<path d="M53.2 89.2L54.51 86.33L55.82 83.45L56.67 82.91L57.52 82.41L56.21 85.19L54.9 87.96L54.05 88.57z" fill="#5977e3"/>
<path d="M95.66 65.6L97.06 65.35L98.48 65.17L99.26 67.52L100.04 69.91L98.64 69.96L97.24 70.05L96.45 67.8z" fill="#b7cff9"/>
<path d="M124.15 81.46L125.57 82.2L126.99 82.96L127.69 85.28L128.39 87.6L126.97 87L125.56 86.41L124.85 83.93z" fill="#7ea1fa"/>
<path d="M139.76 93.02L141.19 93.76L142.62 94.51L143.31 95.66L144 96.82L142.56 96.36L141.14 95.91L140.45 94.46z" fill="#536edd"/>
<path d="M81.22 64.66L82.61 63.5L84 62.41L84.82 63.8L85.65 65.26L84.26 66.13L82.87 67.05L82.05 65.82z" fill="#bad0f8"/>
<path d="M108.5 70.78L109.92 71.12L111.34 71.52L112.08 74.2L112.82 76.92L111.41 76.52L110 76.17L109.26 73.46z" fill="#a7c5fe"/>
<path d="M88.44 63.7L89.84 63.01L91.24 62.39L92.05 64.31L92.85 66.29L91.45 66.72L90.06 67.21L89.25 65.42z" fill="#c0d4f5"/>
<path d="M63.58 75.8L64.92 73.38L66.26 71L67.11 71.02L67.96 71.1L66.61 73.3L65.27 75.53L64.42 75.65z" fill="#8fb1fe"/>
<path d="M149.74 98.6L151.18 99.05L152.62 99.5L153.33 99.67L151.88 99.39L150.44 99.12z" fill="#3e51c5"/>
<path d="M126.99 82.96L128.41 83.76L129.83 84.6L130.53 86.72L131.22 88.87L129.8 88.23L128.39 87.6L127.69 85.28z" fill="#7b9ff9"/>
<path d="M142.62 94.51L144.05 95.26L145.48 96.03L146.17 96.86L146.86 97.71L145.43 97.26L144 96.82L143.31 95.66z" fill="#506bda"/>
<path d="M76.79 65.45L78.17 63.95L79.56 62.51L80.39 63.55L81.22 64.66L79.84 65.87L78.46 67.13L77.63 66.26z" fill="#bad0f8"/>
<path d="M98.48 65.17L99.89 65.06L101.3 65.02L102.08 67.48L102.85 69.99L101.45 69.92L100.04 69.91L99.26 67.52z" fill="#bed2f6"/>
<path d="M111.34 71.52L112.76 71.97L114.18 72.47L114.91 75.14L115.65 77.84L114.23 77.36L112.82 76.92L112.08 74.2z" fill="#a7c5fe"/>
<path d="M45.48 99.29L46.77 96.3L48.06 93.3L48.92 92.55L49.78 91.82L48.49 94.82L47.2 97.82L46.34 98.55z" fill="#3b4cc0"/>
<path d="M67.96 71.1L69.32 68.96L70.68 66.87L71.52 67.21L72.37 67.62L71.01 69.5L69.65 71.43L68.81 71.24z" fill="#a3c2fe"/>
<path d="M57.52 82.41L58.84 79.64L60.17 76.89L61.03 76.55L61.88 76.25L60.55 78.87L59.22 81.51L58.38 81.94z" fill="#779af7"/>
<path d="M72.37 67.62L73.74 65.79L75.11 64.02L75.95 64.7L76.79 65.45L75.42 67L74.05 68.6L73.21 68.08z" fill="#b2ccfb"/>
<path d="M51.49 90.43L52.79 87.46L54.1 84.49L54.96 83.91L55.82 83.45L54.51 86.33L53.2 89.2L52.35 89.78z" fill="#5977e3"/>
<path d="M129.83 84.6L131.25 85.46L132.68 86.34L133.37 88.26L134.07 90.2L132.64 89.53L131.22 88.87L130.53 86.72z" fill="#779af7"/>
<path d="M152.62 99.5L154.07 99.96L155.52 100.41L156.23 100.21L154.78 99.94L153.33 99.67z" fill="#3e51c5"/>
<path d="M145.48 96.03L146.91 96.8L148.34 97.59L149.04 98.09L149.74 98.6L148.3 98.15L146.86 97.71L146.17 96.86z" fill="#4c66d6"/>
<path d="M114.18 72.47L115.6 73.03L117.02 73.65L117.75 76.26L118.47 78.9L117.06 78.35L115.65 77.84L114.91 75.14z" fill="#a7c5fe"/>
<path d="M91.24 62.39L92.65 61.85L94.06 61.37L94.86 63.45L95.66 65.6L94.25 65.91L92.85 66.29L92.05 64.31z" fill="#c9d7f0"/>
<path d="M84 62.41L85.4 61.39L86.8 60.44L87.62 62.03L88.44 63.7L87.04 64.45L85.65 65.26L84.82 63.8z" fill="#c9d7f0"/>
<path d="M132.68 86.34L134.1 87.26L135.52 88.2L136.22 89.88L136.91 91.57L135.49 90.88L134.07 90.2L133.37 88.26z" fill="#7295f4"/>
<path d="M101.3 65.02L102.72 65.06L104.14 65.16L104.91 67.69L105.67 70.28L104.26 70.1L102.85 69.99L102.08 67.48z" fill="#c1d4f4"/>
<path d="M148.34 97.59L149.78 98.38L151.21 99.19L151.92 99.34L152.62 99.5L151.18 99.05L149.74 98.6L149.04 98.09z" fill="#4a63d3"/>
<path d="M61.88 76.25L63.22 73.67L64.56 71.13L65.41 71.03L66.26 71L64.92 73.38L63.58 75.8L62.73 76z" fill="#93b5fe"/>
<path d="M155.52 100.41L156.96 100.86L158.41 101.31L159.14 100.74L157.68 100.48L156.23 100.21z" fill="#3e51c5"/>
<path d="M117.02 73.65L118.44 74.31L119.87 75.03L120.59 77.55L121.31 80.11L119.89 79.49L118.47 78.9L117.75 76.26z" fill="#a5c3fe"/>
<path d="M135.52 88.2L136.95 89.18L138.37 90.17L139.07 91.59L139.76 93.02L138.34 92.29L136.91 91.57L136.22 89.88z" fill="#6e90f2"/>
<path d="M43.76 100.76L45.04 97.82L46.33 94.86L47.19 94.07L48.06 93.3L46.77 96.3L45.48 99.29L44.62 100.02z" fill="#3b4cc0"/>
<path d="M49.78 91.82L51.08 88.81L52.38 85.81L53.24 85.13L54.1 84.49L52.79 87.46L51.49 90.43L50.64 91.11z" fill="#5a78e4"/>
<path d="M55.82 83.45L57.13 80.58L58.46 77.73L59.32 77.29L60.17 76.89L58.84 79.64L57.52 82.41L56.67 82.91z" fill="#799cf8"/>
<path d="M79.56 62.51L80.94 61.14L82.34 59.85L83.17 61.09L84 62.41L82.61 63.5L81.22 64.66L80.39 63.55z" fill="#cad8ef"/>
<path d="M151.21 99.19L152.65 100L154.08 100.81L154.8 100.61L155.52 100.41L154.07 99.96L152.62 99.5L151.92 99.34z" fill="#465ecf"/>
<path d="M138.37 90.17L139.8 91.2L141.22 92.24L141.92 93.37L142.62 94.51L141.19 93.76L139.76 93.02L139.07 91.59z" fill="#6788ee"/>
<path d="M104.14 65.16L105.56 65.33L106.98 65.58L107.75 68.15L108.5 70.78L107.09 70.5L105.67 70.28L104.91 67.69z" fill="#c5d6f2"/>
<path d="M158.41 101.31L159.87 101.76L160.6 101L159.14 100.74z" fill="#3e51c5"/>
<path d="M119.87 75.03L121.29 75.8L122.72 76.63L123.43 79.03L124.15 81.46L122.73 80.77L121.31 80.11L120.59 77.55z" fill="#a2c1ff"/>
<path d="M66.26 71L67.62 68.67L68.98 66.4L69.83 66.6L70.68 66.87L69.32 68.96L67.96 71.1L67.11 71.02z" fill="#abc8fd"/>
<path d="M94.06 61.37L95.47 60.98L96.89 60.67L97.68 62.89L98.48 65.17L97.06 65.35L95.66 65.6L94.86 63.45z" fill="#d1dae9"/>
<path d="M75.11 64.02L76.49 62.3L77.88 60.66L78.72 61.55L79.56 62.51L78.17 63.95L76.79 65.45L75.95 64.7z" fill="#c6d6f1"/>
<path d="M141.22 92.24L142.65 93.31L144.08 94.39L144.78 95.2L145.48 96.03L144.05 95.26L142.62 94.51L141.92 93.37z" fill="#6282ea"/>
<path d="M70.68 66.87L72.05 64.84L73.42 62.87L74.27 63.41L75.11 64.02L73.74 65.79L72.37 67.62L71.52 67.21z" fill="#bcd2f7"/>
<path d="M86.8 60.44L88.2 59.56L89.61 58.77L90.43 60.54L91.24 62.39L89.84 63.01L88.44 63.7L87.62 62.03z" fill="#d4dbe6"/>
<path d="M154.08 100.81L155.52 101.63L156.96 102.45L157.69 101.88L158.41 101.31L156.96 100.86L155.52 100.41L154.8 100.61z" fill="#4358cb"/>
<path d="M122.72 76.63L124.14 77.5L125.57 78.43L126.28 80.68L126.99 82.96L125.57 82.2L124.15 81.46L123.43 79.03z" fill="#9ebeff"/>
<path d="M106.98 65.58L108.41 65.9L109.83 66.29L110.59 68.88L111.34 71.52L109.92 71.12L108.5 70.78L107.75 68.15z" fill="#c6d6f1"/>
<path d="M42.02 102.24L43.3 99.37L44.6 96.5L45.46 95.67L46.33 94.86L45.04 97.82L43.76 100.76L42.89 101.5z" fill="#3b4cc0"/>
<path d="M144.08 94.39L145.5 95.49L146.93 96.61L147.64 97.09L148.34 97.59L146.91 96.8L145.48 96.03L144.78 95.2z" fill="#5b7ae5"/>
<path d="M60.17 76.89L61.51 74.18L62.85 71.51L63.71 71.29L64.56 71.13L63.22 73.67L61.88 76.25L61.03 76.55z" fill="#97b8ff"/>
<path d="M156.96 102.45L158.4 103.27L159.14 102.51L159.87 101.76L158.41 101.31L157.69 101.88z" fill="#3f53c6"/>
<path d="M125.57 78.43L126.99 79.4L128.42 80.42L129.13 82.49L129.83 84.6L128.41 83.76L126.99 82.96L126.28 80.68z" fill="#9abbff"/>
<path d="M48.06 93.3L49.35 90.3L50.66 87.3L51.52 86.53L52.38 85.81L51.08 88.81L49.78 91.82L48.92 92.55z" fill="#5a78e4"/>
<path d="M146.93 96.61L148.36 97.75L149.79 98.9L150.5 99.04L151.21 99.19L149.78 98.38L148.34 97.59L147.64 97.09z" fill="#5572df"/>
<path d="M54.1 84.49L55.42 81.54L56.74 78.62L57.6 78.09L58.46 77.73L57.13 80.58L55.82 83.45L54.96 83.91z" fill="#7b9ff9"/>
<path d="M96.89 60.67L98.31 60.45L99.73 60.31L100.52 62.63L101.3 65.02L99.89 65.06L98.48 65.17L97.68 62.89z" fill="#d6dce4"/>
<path d="M128.42 80.42L129.84 81.49L131.27 82.59L131.97 84.45L132.68 86.34L131.25 85.46L129.83 84.6L129.13 82.49z" fill="#93b5fe"/>
<path d="M109.83 66.29L111.26 66.75L112.69 67.29L113.43 69.85L114.18 72.47L112.76 71.97L111.34 71.52L110.59 68.88z" fill="#c7d7f0"/>
<path d="M82.34 59.85L83.74 58.62L85.14 57.48L85.97 58.92L86.8 60.44L85.4 61.39L84 62.41L83.17 61.09z" fill="#d8dce2"/>
<path d="M149.79 98.9L151.21 100.07L152.64 101.24L153.36 101.02L154.08 100.81L152.65 100L151.21 99.19L150.5 99.04z" fill="#4e68d8"/>
<path d="M131.27 82.59L132.69 83.74L134.12 84.92L134.82 86.55L135.52 88.2L134.1 87.26L132.68 86.34L131.97 84.45z" fill="#8db0fe"/>
<path d="M64.56 71.13L65.91 68.65L67.27 66.22L68.13 66.27L68.98 66.4L67.62 68.67L66.26 71L65.41 71.03z" fill="#b1cbfc"/>
<path d="M89.61 58.77L91.02 58.06L92.44 57.43L93.25 59.36L94.06 61.37L92.65 61.85L91.24 62.39L90.43 60.54z" fill="#dddcdc"/>
<path d="M152.64 101.24L154.07 102.42L155.5 103.61L156.23 103.03L156.96 102.45L155.52 101.63L154.08 100.81L153.36 101.02z" fill="#485fd1"/>
<path d="M40.28 103.73L41.56 100.97L42.85 98.19L43.73 97.34L44.6 96.5L43.3 99.37L42.02 102.24L41.15 102.99z" fill="#3b4cc0"/>
<path d="M134.12 84.92L135.54 86.15L136.97 87.42L137.67 88.78L138.37 90.17L136.95 89.18L135.52 88.2L134.82 86.55z" fill="#85a8fc"/>
<path d="M112.69 67.29L114.11 67.9L115.54 68.57L116.28 71.08L117.02 73.65L115.6 73.03L114.18 72.47L113.43 69.85z" fill="#c6d6f1"/>
<path d="M77.88 60.66L79.27 59.09L80.67 57.6L81.5 58.68L82.34 59.85L80.94 61.14L79.56 62.51L78.72 61.55z" fill="#d7dce3"/>
<path d="M99.73 60.31L101.15 60.26L102.58 60.29L103.36 62.69L104.14 65.16L102.72 65.06L101.3 65.02L100.52 62.63z" fill="#dbdcde"/>
<path d="M155.5 103.61L156.93 104.79L157.67 104.03L158.4 103.27L156.96 102.45L156.23 103.03z" fill="#4055c8"/>
<path d="M46.33 94.86L47.63 91.9L48.93 88.95L49.79 88.11L50.66 87.3L49.35 90.3L48.06 93.3L47.19 94.07z" fill="#5977e3"/>
<path d="M68.98 66.4L70.35 64.19L71.72 62.05L72.57 62.42L73.42 62.87L72.05 64.84L70.68 66.87L69.83 66.6z" fill="#c4d5f3"/>
<path d="M136.97 87.42L138.39 88.72L139.82 90.06L140.52 91.14L141.22 92.24L139.8 91.2L138.37 90.17L137.67 88.78z" fill="#7da0f9"/>
<path d="M58.46 77.73L59.79 74.92L61.13 72.15L61.99 71.8L62.85 71.51L61.51 74.18L60.17 76.89L59.32 77.29z" fill="#9abbff"/>
<path d="M73.42 62.87L74.8 60.97L76.19 59.14L77.03 59.86L77.88 60.66L76.49 62.3L75.11 64.02L74.27 63.41z" fill="#d1dae9"/>
<path d="M52.38 85.81L53.7 82.82L55.02 79.86L55.88 79.21L56.74 78.62L55.42 81.54L54.1 84.49L53.24 85.13z" fill="#7b9ff9"/>
<path d="M139.82 90.06L141.24 91.43L142.66 92.82L143.37 93.59L144.08 94.39L142.65 93.31L141.22 92.24L140.52 91.14z" fill="#7396f5"/>
<path d="M115.54 68.57L116.97 69.31L118.4 70.12L119.14 72.55L119.87 75.03L118.44 74.31L117.02 73.65L116.28 71.08z" fill="#c4d5f3"/>
<path d="M142.66 92.82L144.08 94.25L145.51 95.7L146.22 96.15L146.93 96.61L145.5 95.49L144.08 94.39L143.37 93.59z" fill="#6a8bef"/>
<path d="M92.44 57.43L93.86 56.9L95.28 56.47L96.09 58.53L96.89 60.67L95.47 60.98L94.06 61.37L93.25 59.36z" fill="#e4d9d2"/>
<path d="M145.51 95.7L146.93 97.17L148.35 98.67L149.07 98.78L149.79 98.9L148.36 97.75L146.93 96.61L146.22 96.15z" fill="#6180e9"/>
<path d="M85.14 57.48L86.55 56.43L87.97 55.47L88.79 57.08L89.61 58.77L88.2 59.56L86.8 60.44L85.97 58.92z" fill="#e3d9d3"/>
<path d="M102.58 60.29L104.01 60.42L105.44 60.63L106.21 63.07L106.98 65.58L105.56 65.33L104.14 65.16L103.36 62.69z" fill="#dedcdb"/>
<path d="M118.4 70.12L119.83 71.01L121.26 71.96L121.99 74.27L122.72 76.63L121.29 75.8L119.87 75.03L119.14 72.55z" fill="#c0d4f5"/>
<path d="M38.53 105.23L39.81 102.6L41.11 99.96L41.98 99.07L42.85 98.19L41.56 100.97L40.28 103.73L39.4 104.48z" fill="#3b4cc0"/>
<path d="M148.35 98.67L149.77 100.18L151.19 101.71L151.92 101.47L152.64 101.24L151.21 100.07L149.79 98.9L149.07 98.78z" fill="#5673e0"/>
<path d="M151.19 101.71L152.61 103.24L154.03 104.78L154.77 104.19L155.5 103.61L154.07 102.42L152.64 101.24L151.92 101.47z" fill="#4c66d6"/>
<path d="M62.85 71.51L64.2 68.9L65.56 66.35L66.42 66.24L67.27 66.22L65.91 68.65L64.56 71.13L63.71 71.29z" fill="#b6cefa"/>
<path d="M44.6 96.5L45.89 93.61L47.2 90.74L48.06 89.83L48.93 88.95L47.63 91.9L46.33 94.86L45.46 95.67z" fill="#5875e1"/>
<path d="M154.03 104.78L155.45 106.32L156.19 105.55L156.93 104.79L155.5 103.61L154.77 104.19z" fill="#4257c9"/>
<path d="M121.26 71.96L122.69 72.97L124.12 74.05L124.85 76.22L125.57 78.43L124.14 77.5L122.72 76.63L121.99 74.27z" fill="#bcd2f7"/>
<path d="M50.66 87.3L51.97 84.32L53.29 81.37L54.15 80.59L55.02 79.86L53.7 82.82L52.38 85.81L51.52 86.53z" fill="#7b9ff9"/>
<path d="M56.74 78.62L58.07 75.72L59.41 72.88L60.27 72.41L61.13 72.15L59.79 74.92L58.46 77.73L57.6 78.09z" fill="#9dbdff"/>
<path d="M105.44 60.63L106.87 60.93L108.3 61.31L109.07 63.77L109.83 66.29L108.41 65.9L106.98 65.58L106.21 63.07z" fill="#dfdbd9"/>
<path d="M124.12 74.05L125.55 75.2L126.98 76.4L127.7 78.39L128.42 80.42L126.99 79.4L125.57 78.43L124.85 76.22z" fill="#b6cefa"/>
<path d="M80.67 57.6L82.07 56.2L83.48 54.89L84.31 56.14L85.14 57.48L83.74 58.62L82.34 59.85L81.5 58.68z" fill="#e5d8d1"/>
<path d="M67.27 66.22L68.64 63.86L70.01 61.56L70.87 61.76L71.72 62.05L70.35 64.19L68.98 66.4L68.13 66.27z" fill="#cbd8ee"/>
<path d="M95.28 56.47L96.71 56.13L98.14 55.9L98.94 58.06L99.73 60.31L98.31 60.45L96.89 60.67L96.09 58.53z" fill="#ead4c8"/>
<path d="M126.98 76.4L128.41 77.67L129.84 78.99L130.56 80.77L131.27 82.59L129.84 81.49L128.42 80.42L127.7 78.39z" fill="#aec9fc"/>
<path d="M36.77 106.72L38.06 104.26L39.36 101.8L40.23 100.87L41.11 99.96L39.81 102.6L38.53 105.23L37.65 105.97z" fill="#3b4cc0"/>
<path d="M76.19 59.14L77.58 57.39L78.98 55.73L79.82 56.62L80.67 57.6L79.27 59.09L77.88 60.66L77.03 59.86z" fill="#e2dad5"/>
<path d="M71.72 62.05L73.1 59.97L74.49 57.98L75.34 58.51L76.19 59.14L74.8 60.97L73.42 62.87L72.57 62.42z" fill="#d9dce1"/>
<path d="M129.84 78.99L131.27 80.36L132.69 81.79L133.41 83.33L134.12 84.92L132.69 83.74L131.27 82.59L130.56 80.77z" fill="#a6c4fe"/>
<path d="M87.97 55.47L89.38 54.6L90.81 53.84L91.63 55.59L92.44 57.43L91.02 58.06L89.61 58.77L88.79 57.08z" fill="#ecd3c5"/>
<path d="M108.3 61.31L109.74 61.79L111.17 62.35L111.93 64.79L112.69 67.29L111.26 66.75L109.83 66.29L109.07 63.77z" fill="#e0dbd8"/>
<path d="M42.85 98.19L44.15 95.42L45.46 92.65L46.33 91.68L47.2 90.74L45.89 93.61L44.6 96.5L43.73 97.34z" fill="#5875e1"/>
<path d="M132.69 81.79L134.12 83.27L135.54 84.8L136.26 86.09L136.97 87.42L135.54 86.15L134.12 84.92L133.41 83.33z" fill="#9dbdff"/>
<path d="M135.54 84.8L136.97 86.38L138.39 88L139.1 89.01L139.82 90.06L138.39 88.72L136.97 87.42L136.26 86.09z" fill="#92b4fe"/>
<path d="M152.55 105.97L153.97 107.85L154.71 107.08L155.45 106.32L154.03 104.78L153.29 105.37z" fill="#4358cb"/>
<path d="M149.73 102.21L151.14 104.09L152.55 105.97L153.29 105.37L154.03 104.78L152.61 103.24L151.19 101.71L150.46 101.95z" fill="#506bda"/>
<path d="M138.39 88L139.81 89.66L141.23 91.36L141.95 92.08L142.66 92.82L141.24 91.43L139.82 90.06L139.1 89.01z" fill="#85a8fc"/>
<path d="M146.9 98.5L148.32 100.35L149.73 102.21L150.46 101.95L151.19 101.71L149.77 100.18L148.35 98.67L147.63 98.57z" fill="#5e7de7"/>
<path d="M141.23 91.36L142.65 93.1L144.07 94.87L144.79 95.27L145.51 95.7L144.08 94.25L142.66 92.82L141.95 92.08z" fill="#799cf8"/>
<path d="M144.07 94.87L145.49 96.67L146.9 98.5L147.63 98.57L148.35 98.67L146.93 97.17L145.51 95.7L144.79 95.27z" fill="#6b8df0"/>
<path d="M61.13 72.15L62.48 69.44L63.84 66.8L64.7 66.53L65.56 66.35L64.2 68.9L62.85 71.51L61.99 71.8z" fill="#bad0f8"/>
<path d="M48.93 88.95L50.24 86.02L51.56 83.11L52.43 82.21L53.29 81.37L51.97 84.32L50.66 87.3L49.79 88.11z" fill="#7a9df8"/>
<path d="M98.14 55.9L99.57 55.77L101 55.74L101.8 57.97L102.58 60.29L101.15 60.26L99.73 60.31L98.94 58.06z" fill="#eed0c0"/>
<path d="M111.17 62.35L112.61 63.01L114.05 63.74L114.8 66.12L115.54 68.57L114.11 67.9L112.69 67.29L111.93 64.79z" fill="#dfdbd9"/>
<path d="M55.02 79.86L56.35 76.94L57.68 74.06L58.55 73.42L59.41 72.88L58.07 75.72L56.74 78.62L55.88 79.21z" fill="#9ebeff"/>
<path d="M35 108.23L36.29 105.97L37.6 103.71L38.48 102.74L39.36 101.8L38.06 104.26L36.77 106.72L35.88 107.48z" fill="#3b4cc0"/>
<path d="M83.48 54.89L84.89 53.67L86.31 52.55L87.14 53.96L87.97 55.47L86.55 56.43L85.14 57.48L84.31 56.14z" fill="#efcebd"/>
<path d="M114.05 63.74L115.48 64.56L116.92 65.46L117.66 67.76L118.4 70.12L116.97 69.31L115.54 68.57L114.8 66.12z" fill="#dddcdc"/>
<path d="M41.11 99.96L42.41 97.32L43.72 94.7L44.59 93.66L45.46 92.65L44.15 95.42L42.85 98.19L41.98 99.07z" fill="#5572df"/>
<path d="M65.56 66.35L66.92 63.86L68.3 61.44L69.15 61.46L70.01 61.56L68.64 63.86L67.27 66.22L66.42 66.24z" fill="#d1dae9"/>
<path d="M90.81 53.84L92.23 53.18L93.66 52.63L94.47 54.5L95.28 56.47L93.86 56.9L92.44 57.43L91.63 55.59z" fill="#f2cbb7"/>
<path d="M151.07 107.19L152.47 109.4L153.22 108.62L153.97 107.85L152.55 105.97L151.81 106.57z" fill="#445acc"/>
<path d="M101 55.74L102.44 55.82L103.88 56L104.66 58.27L105.44 60.63L104.01 60.42L102.58 60.29L101.8 57.97z" fill="#f0cdbb"/>
<path d="M47.2 90.74L48.51 87.88L49.83 85.05L50.7 84.05L51.56 83.11L50.24 86.02L48.93 88.95L48.06 89.83z" fill="#799cf8"/>
<path d="M116.92 65.46L118.35 66.45L119.79 67.52L120.53 69.71L121.26 71.96L119.83 71.01L118.4 70.12L117.66 67.76z" fill="#d9dce1"/>
<path d="M78.98 55.73L80.38 54.16L81.79 52.69L82.64 53.73L83.48 54.89L82.07 56.2L80.67 57.6L79.82 56.62z" fill="#efcfbf"/>
<path d="M148.26 102.78L149.66 104.98L151.07 107.19L151.81 106.57L152.55 105.97L151.14 104.09L149.73 102.21L148.99 102.49z" fill="#5572df"/>
<path d="M70.01 61.56L71.39 59.34L72.78 57.21L73.63 57.54L74.49 57.98L73.1 59.97L71.72 62.05L70.87 61.76z" fill="#e0dbd8"/>
<path d="M59.41 72.88L60.76 70.08L62.11 67.35L62.97 66.95L63.84 66.8L62.48 69.44L61.13 72.15L60.27 72.41z" fill="#bcd2f7"/>
<path d="M74.49 57.98L75.88 56.07L77.28 54.26L78.13 54.94L78.98 55.73L77.58 57.39L76.19 59.14L75.34 58.51z" fill="#ead4c8"/>
<path d="M53.29 81.37L54.62 78.45L55.95 75.58L56.82 74.78L57.68 74.06L56.35 76.94L55.02 79.86L54.15 80.59z" fill="#9ebeff"/>
<path d="M145.44 98.42L146.85 100.59L148.26 102.78L148.99 102.49L149.73 102.21L148.32 100.35L146.9 98.5L146.17 98.45z" fill="#6485ec"/>
<path d="M119.79 67.52L121.23 68.68L122.66 69.91L123.4 71.95L124.12 74.05L122.69 72.97L121.26 71.96L120.53 69.71z" fill="#d5dbe5"/>
<path d="M142.62 94.16L144.03 96.27L145.44 98.42L146.17 98.45L146.9 98.5L145.49 96.67L144.07 94.87L143.34 94.5z" fill="#7699f6"/>
<path d="M33.22 109.75L34.52 107.72L35.83 105.69L36.72 104.69L37.6 103.71L36.29 105.97L35 108.23L34.11 108.99z" fill="#3b4cc0"/>
<path d="M122.66 69.91L124.1 71.22L125.53 72.6L126.26 74.47L126.98 76.4L125.55 75.2L124.12 74.05L123.4 71.95z" fill="#cedaeb"/>
<path d="M39.36 101.8L40.66 99.33L41.97 96.88L42.84 95.77L43.72 94.7L42.41 97.32L41.11 99.96L40.23 100.87z" fill="#5470de"/>
<path d="M139.79 90.04L141.2 92.08L142.62 94.16L143.34 94.5L144.07 94.87L142.65 93.1L141.23 91.36L140.51 90.68z" fill="#86a9fc"/>
<path d="M103.88 56L105.32 56.28L106.76 56.66L107.53 58.94L108.3 61.31L106.87 60.93L105.44 60.63L104.66 58.27z" fill="#f1ccb8"/>
<path d="M125.53 72.6L126.96 74.06L128.39 75.59L129.12 77.26L129.84 78.99L128.41 77.67L126.98 76.4L126.26 74.47z" fill="#c6d6f1"/>
<path d="M136.95 86.09L138.37 88.04L139.79 90.04L140.51 90.68L141.23 91.36L139.81 89.66L138.39 88L137.67 87.02z" fill="#96b7ff"/>
<path d="M93.66 52.63L95.09 52.19L96.53 51.87L97.34 53.83L98.14 55.9L96.71 56.13L95.28 56.47L94.47 54.5z" fill="#f5c4ac"/>
<path d="M128.39 75.59L129.82 77.18L131.25 78.84L131.97 80.29L132.69 81.79L131.27 80.36L129.84 78.99L129.12 77.26z" fill="#bcd2f7"/>
<path d="M86.31 52.55L87.73 51.55L89.15 50.65L89.98 52.19L90.81 53.84L89.38 54.6L87.97 55.47L87.14 53.96z" fill="#f5c4ac"/>
<path d="M134.1 82.35L135.53 84.19L136.95 86.09L137.67 87.02L138.39 88L136.97 86.38L135.54 84.8L134.83 83.55z" fill="#a5c3fe"/>
<path d="M131.25 78.84L132.68 80.56L134.1 82.35L134.83 83.55L135.54 84.8L134.12 83.27L132.69 81.79L131.97 80.29z" fill="#b2ccfb"/>
<path d="M45.46 92.65L46.77 89.9L48.09 87.18L48.96 86.09L49.83 85.05L48.51 87.88L47.2 90.74L46.33 91.68z" fill="#7699f6"/>
<path d="M149.58 108.43L150.97 110.95L151.72 110.17L152.47 109.4L151.07 107.19L150.32 107.81z" fill="#455cce"/>
<path d="M63.84 66.8L65.2 64.21L66.57 61.71L67.44 61.53L68.3 61.44L66.92 63.86L65.56 66.35L64.7 66.53z" fill="#d4dbe6"/>
<path d="M106.76 56.66L108.2 57.15L109.64 57.74L110.41 60L111.17 62.35L109.74 61.79L108.3 61.31L107.53 58.94z" fill="#f1ccb8"/>
<path d="M51.56 83.11L52.89 80.23L54.22 77.4L55.09 76.45L55.95 75.58L54.62 78.45L53.29 81.37L52.43 82.21z" fill="#9bbcff"/>
<path d="M146.77 103.41L148.18 105.92L149.58 108.43L150.32 107.81L151.07 107.19L149.66 104.98L148.26 102.78L147.52 103.08z" fill="#5977e3"/>
<path d="M57.68 74.06L59.03 71.23L60.38 68.46L61.25 67.85L62.11 67.35L60.76 70.08L59.41 72.88L58.55 73.42z" fill="#bed2f6"/>
<path d="M31.43 111.27L32.75 109.51L34.06 107.74L34.95 106.71L35.83 105.69L34.52 107.72L33.22 109.75L32.33 110.51z" fill="#3b4cc0"/>
<path d="M37.6 103.71L38.91 101.45L40.22 99.19L41.1 98.02L41.97 96.88L40.66 99.33L39.36 101.8L38.48 102.74z" fill="#536edd"/>
<path d="M81.79 52.69L83.21 51.32L84.63 50.07L85.47 51.26L86.31 52.55L84.89 53.67L83.48 54.89L82.64 53.73z" fill="#f5c2aa"/>
<path d="M68.3 61.44L69.68 59.11L71.06 56.86L71.92 56.98L72.78 57.21L71.39 59.34L70.01 61.56L69.15 61.46z" fill="#e5d8d1"/>
<path d="M96.53 51.87L97.97 51.66L99.41 51.57L100.21 53.6L101 55.74L99.57 55.77L98.14 55.9L97.34 53.83z" fill="#f6bda2"/>
<path d="M143.97 98.44L145.37 100.92L146.77 103.41L147.52 103.08L148.26 102.78L146.85 100.59L145.44 98.42L144.71 98.42z" fill="#6c8ff1"/>
<path d="M109.64 57.74L111.08 58.43L112.52 59.23L113.29 61.44L114.05 63.74L112.61 63.01L111.17 62.35L110.41 60z" fill="#f1cdba"/>
<path d="M43.72 94.7L45.03 92.08L46.36 89.5L47.22 88.31L48.09 87.18L46.77 89.9L45.46 92.65L44.59 93.66z" fill="#7396f5"/>
<path d="M77.28 54.26L78.69 52.54L80.1 50.93L80.95 51.75L81.79 52.69L80.38 54.16L78.98 55.73L78.13 54.94z" fill="#f4c6af"/>
<path d="M72.78 57.21L74.17 55.17L75.57 53.22L76.43 53.68L77.28 54.26L75.88 56.07L74.49 57.98L73.63 57.54z" fill="#efcebd"/>
<path d="M89.15 50.65L90.58 49.87L92.02 49.21L92.84 50.86L93.66 52.63L92.23 53.18L90.81 53.84L89.98 52.19z" fill="#f7b99e"/>
<path d="M141.15 93.58L142.56 96L143.97 98.44L144.71 98.42L145.44 98.42L144.03 96.27L142.62 94.16L141.89 93.85z" fill="#80a3fa"/>
<path d="M148.07 109.72L149.47 112.51L150.22 111.73L150.97 110.95L149.58 108.43L148.83 109.07z" fill="#465ecf"/>
<path d="M112.52 59.23L113.97 60.12L115.41 61.11L116.17 63.24L116.92 65.46L115.48 64.56L114.05 63.74L113.29 61.44z" fill="#efcebd"/>
<path d="M49.83 85.05L51.16 82.25L52.49 79.49L53.36 78.42L54.22 77.4L52.89 80.23L51.56 83.11L50.7 84.05z" fill="#9abbff"/>
<path d="M138.32 88.88L139.74 91.21L141.15 93.58L141.89 93.85L142.62 94.16L141.2 92.08L139.79 90.04L139.06 89.44z" fill="#94b6ff"/>
<path d="M62.11 67.35L63.47 64.68L64.84 62.09L65.71 61.75L66.57 61.71L65.2 64.21L63.84 66.8L62.97 66.95z" fill="#d7dce3"/>
<path d="M35.83 105.69L37.15 103.66L38.47 101.64L39.35 100.4L40.22 99.19L38.91 101.45L37.6 103.71L36.72 104.69z" fill="#506bda"/>
<path d="M99.41 51.57L100.85 51.6L102.29 51.75L103.09 53.82L103.88 56L102.44 55.82L101 55.74L100.21 53.6z" fill="#f7b89c"/>
<path d="M29.64 112.8L30.96 111.34L32.29 109.85L33.18 108.79L34.06 107.74L32.75 109.51L31.43 111.27L30.54 112.04z" fill="#3b4cc0"/>
<path d="M145.28 104.14L146.68 106.93L148.07 109.72L148.83 109.07L149.58 108.43L148.18 105.92L146.77 103.41L146.03 103.76z" fill="#5d7ce6"/>
<path d="M115.41 61.11L116.85 62.2L118.29 63.39L119.05 65.41L119.79 67.52L118.35 66.45L116.92 65.46L116.17 63.24z" fill="#edd2c3"/>
<path d="M55.95 75.58L57.3 72.76L58.65 69.99L59.52 69.18L60.38 68.46L59.03 71.23L57.68 74.06L56.82 74.78z" fill="#bed2f6"/>
<path d="M135.49 84.38L136.91 86.61L138.32 88.88L139.06 89.44L139.79 90.04L138.37 88.04L136.95 86.09L136.22 85.21z" fill="#a6c4fe"/>
<path d="M41.97 96.88L43.29 94.44L44.62 92.02L45.49 90.74L46.36 89.5L45.03 92.08L43.72 94.7L42.84 95.77z" fill="#6f92f3"/>
<path d="M118.29 63.39L119.74 64.67L121.18 66.05L121.92 67.94L122.66 69.91L121.23 68.68L119.79 67.52L119.05 65.41z" fill="#e9d5cb"/>
<path d="M132.64 80.12L134.07 82.22L135.49 84.38L136.22 85.21L136.95 86.09L135.53 84.19L134.1 82.35L133.37 81.21z" fill="#b6cefa"/>
<path d="M84.63 50.07L86.06 48.93L87.49 47.92L88.32 49.22L89.15 50.65L87.73 51.55L86.31 52.55L85.47 51.26z" fill="#f7b396"/>
<path d="M129.79 76.13L131.22 78.09L132.64 80.12L133.37 81.21L134.1 82.35L132.68 80.56L131.25 78.84L130.52 77.45z" fill="#c5d6f2"/>
<path d="M121.18 66.05L122.62 67.52L124.05 69.08L124.79 70.8L125.53 72.6L124.1 71.22L122.66 69.91L121.92 67.94z" fill="#e2dad5"/>
<path d="M126.92 72.44L128.36 74.25L129.79 76.13L130.52 77.45L131.25 78.84L129.82 77.18L128.39 75.59L127.66 73.98z" fill="#d1dae9"/>
<path d="M124.05 69.08L125.49 70.72L126.92 72.44L127.66 73.98L128.39 75.59L126.96 74.06L125.53 72.6L124.79 70.8z" fill="#dadce0"/>
<path d="M142.48 98.62L143.88 101.37L145.28 104.14L146.03 103.76L146.77 103.41L145.37 100.92L143.97 98.44L143.23 98.51z" fill="#7396f5"/>
<path d="M92.02 49.21L93.46 48.68L94.9 48.27L95.71 50.01L96.53 51.87L95.09 52.19L93.66 52.63L92.84 50.86z" fill="#f7af91"/>
<path d="M66.57 61.71L67.95 59.28L69.34 56.95L70.2 56.85L71.06 56.86L69.68 59.11L68.3 61.44L67.44 61.53z" fill="#e9d5cb"/>
<path d="M48.09 87.18L49.42 84.49L50.76 81.84L51.63 80.64L52.49 79.49L51.16 82.25L49.83 85.05L48.96 86.09z" fill="#96b7ff"/>
<path d="M102.29 51.75L103.74 52.02L105.18 52.4L105.97 54.48L106.76 56.66L105.32 56.28L103.88 56L103.09 53.82z" fill="#f7b599"/>
<path d="M146.56 111.04L147.95 114.08L148.71 113.3L149.47 112.51L148.07 109.72L147.32 110.37z" fill="#485fd1"/>
<path d="M34.06 107.74L35.39 105.97L36.72 104.21L37.59 102.91L38.47 101.64L37.15 103.66L35.83 105.69L34.95 106.71z" fill="#4e68d8"/>
<path d="M80.1 50.93L81.52 49.44L82.94 48.06L83.79 49L84.63 50.07L83.21 51.32L81.79 52.69L80.95 51.75z" fill="#f7b497"/>
<path d="M27.84 114.35L29.17 113.2L30.51 112.02L31.4 110.93L32.29 109.85L30.96 111.34L29.64 112.8L28.74 113.58z" fill="#3b4cc0"/>
<path d="M139.67 93.2L141.07 95.89L142.48 98.62L143.23 98.51L143.97 98.44L142.56 96L141.15 93.58L140.41 93.36z" fill="#89acfd"/>
<path d="M71.06 56.86L72.46 54.71L73.86 52.66L74.72 52.88L75.57 53.22L74.17 55.17L72.78 57.21L71.92 56.98z" fill="#f3c8b2"/>
<path d="M54.22 77.4L55.57 74.62L56.92 71.9L57.79 70.9L58.65 69.99L57.3 72.76L55.95 75.58L55.09 76.45z" fill="#bbd1f8"/>
<path d="M40.22 99.19L41.55 96.96L42.87 94.75L43.75 93.36L44.62 92.02L43.29 94.44L41.97 96.88L41.1 98.02z" fill="#6b8df0"/>
<path d="M60.38 68.46L61.74 65.76L63.11 63.14L63.98 62.55L64.84 62.09L63.47 64.68L62.11 67.35L61.25 67.85z" fill="#d8dce2"/>
<path d="M75.57 53.22L76.98 51.38L78.4 49.66L79.25 50.23L80.1 50.93L78.69 52.54L77.28 54.26L76.43 53.68z" fill="#f6bda2"/>
<path d="M143.78 104.96L145.17 108L146.56 111.04L147.32 110.37L148.07 109.72L146.68 106.93L145.28 104.14L144.53 104.54z" fill="#5f7fe8"/>
<path d="M105.18 52.4L106.63 52.9L108.08 53.51L108.86 55.57L109.64 57.74L108.2 57.15L106.76 56.66L105.97 54.48z" fill="#f7b599"/>
<path d="M136.84 87.94L138.26 90.55L139.67 93.2L140.41 93.36L141.15 93.58L139.74 91.21L138.32 88.88L137.59 88.38z" fill="#9fbfff"/>
<path d="M46.36 89.5L47.69 86.95L49.02 84.43L49.89 83.1L50.76 81.84L49.42 84.49L48.09 87.18L47.22 88.31z" fill="#92b4fe"/>
<path d="M94.9 48.27L96.34 48L97.79 47.85L98.6 49.65L99.41 51.57L97.97 51.66L96.53 51.87L95.71 50.01z" fill="#f6a586"/>
<path d="M87.49 47.92L88.92 47.03L90.36 46.27L91.19 47.68L92.02 49.21L90.58 49.87L89.15 50.65L88.32 49.22z" fill="#f6a586"/>
<path d="M32.29 109.85L33.62 108.37L34.96 106.9L35.84 105.54L36.72 104.21L35.39 105.97L34.06 107.74L33.18 108.79z" fill="#4a63d3"/>
<path d="M108.08 53.51L109.53 54.24L110.98 55.09L111.76 57.11L112.52 59.23L111.08 58.43L109.64 57.74L108.86 55.57z" fill="#f7b79b"/>
<path d="M145.04 112.39L146.43 115.65L147.19 114.87L147.95 114.08L146.56 111.04L145.8 111.71z" fill="#4961d2"/>
<path d="M134.01 82.92L135.43 85.4L136.84 87.94L137.59 88.38L138.32 88.88L136.91 86.61L135.49 84.38L134.75 83.62z" fill="#b3cdfb"/>
<path d="M38.47 101.64L39.8 99.64L41.13 97.67L42 96.19L42.87 94.75L41.55 96.96L40.22 99.19L39.35 100.4z" fill="#6788ee"/>
<path d="M140.98 98.94L142.38 101.94L143.78 104.96L144.53 104.54L145.28 104.14L143.88 101.37L142.48 98.62L141.73 98.76z" fill="#799cf8"/>
<path d="M64.84 62.09L66.22 59.58L67.61 57.17L68.47 56.89L69.34 56.95L67.95 59.28L66.57 61.71L65.71 61.75z" fill="#ecd3c5"/>
<path d="M52.49 79.49L53.84 76.79L55.19 74.15L56.05 72.98L56.92 71.9L55.57 74.62L54.22 77.4L53.36 78.42z" fill="#b9d0f9"/>
<path d="M26.03 115.91L27.37 115.1L28.72 114.25L29.62 113.13L30.51 112.02L29.17 113.2L27.84 114.35L26.93 115.13z" fill="#3b4cc0"/>
<path d="M131.16 78.16L132.59 80.5L134.01 82.92L134.75 83.62L135.49 84.38L134.07 82.22L132.64 80.12L131.9 79.1z" fill="#c6d6f1"/>
<path d="M110.98 55.09L112.43 56.05L113.88 57.13L114.65 59.07L115.41 61.11L113.97 60.12L112.52 59.23L111.76 57.11z" fill="#f7b99e"/>
<path d="M58.65 69.99L60.01 67.3L61.38 64.68L62.25 63.85L63.11 63.14L61.74 65.76L60.38 68.46L59.52 69.18z" fill="#d8dce2"/>
<path d="M44.62 92.02L45.95 89.64L47.29 87.3L48.16 85.83L49.02 84.43L47.69 86.95L46.36 89.5L45.49 90.74z" fill="#8caffe"/>
<path d="M97.79 47.85L99.24 47.84L100.69 47.96L101.49 49.8L102.29 51.75L100.85 51.6L99.41 51.57L98.6 49.65z" fill="#f59f80"/>
<path d="M82.94 48.06L84.37 46.81L85.8 45.69L86.65 46.74L87.49 47.92L86.06 48.93L84.63 50.07L83.79 49z" fill="#f6a283"/>
<path d="M142.26 105.86L143.65 109.12L145.04 112.39L145.8 111.71L146.56 111.04L145.17 108L143.78 104.96L143.02 105.4z" fill="#6282ea"/>
<path d="M128.3 73.71L129.73 75.89L131.16 78.16L131.9 79.1L132.64 80.12L131.22 78.09L129.79 76.13L129.05 74.88z" fill="#d5dbe5"/>
<path d="M138.17 93.03L139.57 95.97L140.98 98.94L141.73 98.76L142.48 98.62L141.07 95.89L139.67 93.2L138.92 93.09z" fill="#92b4fe"/>
<path d="M113.88 57.13L115.33 58.31L116.78 59.61L117.54 61.45L118.29 63.39L116.85 62.2L115.41 61.11L114.65 59.07z" fill="#f6bfa6"/>
<path d="M69.34 56.95L70.73 54.71L72.14 52.58L73 52.56L73.86 52.66L72.46 54.71L71.06 56.86L70.2 56.85z" fill="#f5c4ac"/>
<path d="M30.51 112.02L31.85 110.85L33.2 109.68L34.08 108.28L34.96 106.9L33.62 108.37L32.29 109.85L31.4 110.93z" fill="#485fd1"/>
<path d="M36.72 104.21L38.05 102.47L39.39 100.76L40.26 99.19L41.13 97.67L39.8 99.64L38.47 101.64L37.59 102.91z" fill="#6282ea"/>
<path d="M125.43 69.61L126.87 71.61L128.3 73.71L129.05 74.88L129.79 76.13L128.36 74.25L126.92 72.44L126.18 70.98z" fill="#e0dbd8"/>
<path d="M116.78 59.61L118.22 61.02L119.67 62.54L120.43 64.25L121.18 66.05L119.74 64.67L118.29 63.39L117.54 61.45z" fill="#f4c6af"/>
<path d="M122.55 65.87L124 67.69L125.43 69.61L126.18 70.98L126.92 72.44L125.49 70.72L124.05 69.08L123.31 67.43z" fill="#ead4c8"/>
<path d="M119.67 62.54L121.11 64.15L122.55 65.87L123.31 67.43L124.05 69.08L122.62 67.52L121.18 66.05L120.43 64.25z" fill="#f1cdba"/>
<path d="M78.4 49.66L79.82 48.05L81.24 46.57L82.09 47.25L82.94 48.06L81.52 49.44L80.1 50.93L79.25 50.23z" fill="#f7a889"/>
<path d="M90.36 46.27L91.8 45.65L93.25 45.17L94.08 46.66L94.9 48.27L93.46 48.68L92.02 49.21L91.19 47.68z" fill="#f39778"/>
<path d="M73.86 52.66L75.27 50.72L76.68 48.9L77.54 49.21L78.4 49.66L76.98 51.38L75.57 53.22L74.72 52.88z" fill="#f7b497"/>
<path d="M50.76 81.84L52.1 79.24L53.45 76.7L54.32 75.39L55.19 74.15L53.84 76.79L52.49 79.49L51.63 80.64z" fill="#b5cdfa"/>
<path d="M143.51 113.77L144.9 117.23L145.67 116.44L146.43 115.65L145.04 112.39L144.28 113.07z" fill="#4961d2"/>
<path d="M24.21 117.5L25.57 117.04L26.93 116.54L27.83 115.39L28.72 114.25L27.37 115.1L26.03 115.91L25.12 116.7z" fill="#3b4cc0"/>
<path d="M135.35 87.29L136.76 90.14L138.17 93.03L138.92 93.09L139.67 93.2L138.26 90.55L136.84 87.94L136.1 87.58z" fill="#aac7fd"/>
<path d="M42.87 94.75L44.21 92.57L45.55 90.43L46.42 88.84L47.29 87.3L45.95 89.64L44.62 92.02L43.75 93.36z" fill="#86a9fc"/>
<path d="M100.69 47.96L102.14 48.21L103.59 48.59L104.39 50.43L105.18 52.4L103.74 52.02L102.29 51.75L101.49 49.8z" fill="#f59c7d"/>
<path d="M139.46 99.4L140.86 102.62L142.26 105.86L143.02 105.4L143.78 104.96L142.38 101.94L140.98 98.94L140.22 99.15z" fill="#7ea1fa"/>
<path d="M63.11 63.14L64.49 60.6L65.88 58.16L66.74 57.59L67.61 57.17L66.22 59.58L64.84 62.09L63.98 62.55z" fill="#edd2c3"/>
<path d="M56.92 71.9L58.28 69.25L59.65 66.68L60.51 65.63L61.38 64.68L60.01 67.3L58.65 69.99L57.79 70.9z" fill="#d6dce4"/>
<path d="M34.96 106.9L36.3 105.44L37.65 104.01L38.52 102.36L39.39 100.76L38.05 102.47L36.72 104.21L35.84 105.54z" fill="#5d7ce6"/>
<path d="M28.72 114.25L30.07 113.4L31.43 112.56L32.31 111.11L33.2 109.68L31.85 110.85L30.51 112.02L29.62 113.13z" fill="#445acc"/>
<path d="M132.51 81.77L133.93 84.5L135.35 87.29L136.1 87.58L136.84 87.94L135.43 85.4L134.01 82.92L133.26 82.29z" fill="#c0d4f5"/>
<path d="M140.73 106.85L142.12 110.3L143.51 113.77L144.28 113.07L145.04 112.39L143.65 109.12L142.26 105.86L141.5 106.34z" fill="#6485ec"/>
<path d="M49.02 84.43L50.37 81.97L51.72 79.57L52.59 78.09L53.45 76.7L52.1 79.24L50.76 81.84L49.89 83.1z" fill="#aec9fc"/>
<path d="M103.59 48.59L105.05 49.1L106.5 49.74L107.3 51.56L108.08 53.51L106.63 52.9L105.18 52.4L104.39 50.43z" fill="#f49a7b"/>
<path d="M85.8 45.69L87.24 44.71L88.69 43.87L89.53 45L90.36 46.27L88.92 47.03L87.49 47.92L86.65 46.74z" fill="#f29072"/>
<path d="M41.13 97.67L42.47 95.72L43.82 93.81L44.69 92.09L45.55 90.43L44.21 92.57L42.87 94.75L42 96.19z" fill="#7ea1fa"/>
<path d="M93.25 45.17L94.7 44.84L96.15 44.64L96.97 46.18L97.79 47.85L96.34 48L94.9 48.27L94.08 46.66z" fill="#f18d6f"/>
<path d="M136.65 93.05L138.06 96.2L139.46 99.4L140.22 99.15L140.98 98.94L139.57 95.97L138.17 93.03L137.41 93.02z" fill="#9abbff"/>
<path d="M67.61 57.17L69 54.86L70.4 52.66L71.27 52.43L72.14 52.58L70.73 54.71L69.34 56.95L68.47 56.89z" fill="#f6bfa6"/>
<path d="M22.38 119.12L23.76 119.02L25.13 118.88L26.03 117.7L26.93 116.54L25.57 117.04L24.21 117.5L23.29 118.3z" fill="#3b4cc0"/>
<path d="M129.66 76.51L131.09 79.1L132.51 81.77L133.26 82.29L134.01 82.92L132.59 80.5L131.16 78.16L130.41 77.29z" fill="#d3dbe7"/>
<path d="M141.98 115.18L143.36 118.81L144.13 118.02L144.9 117.23L143.51 113.77L142.75 114.47z" fill="#4a63d3"/>
<path d="M33.2 109.68L34.55 108.54L35.9 107.41L36.78 105.69L37.65 104.01L36.3 105.44L34.96 106.9L34.08 108.28z" fill="#5673e0"/>
<path d="M55.19 74.15L56.55 71.57L57.92 69.07L58.78 67.83L59.65 66.68L58.28 69.25L56.92 71.9L56.05 72.98z" fill="#d3dbe7"/>
<path d="M26.93 116.54L28.29 116.03L29.66 115.53L30.55 114.04L31.43 112.56L30.07 113.4L28.72 114.25L27.83 115.39z" fill="#4257c9"/>
<path d="M106.5 49.74L107.96 50.5L109.42 51.4L110.2 53.19L110.98 55.09L109.53 54.24L108.08 53.51L107.3 51.56z" fill="#f59c7d"/>
<path d="M81.24 46.57L82.67 45.23L84.11 44.02L84.96 44.78L85.8 45.69L84.37 46.81L82.94 48.06L82.09 47.25z" fill="#f29274"/>
<path d="M61.38 64.68L62.76 62.16L64.14 59.72L65.01 58.88L65.88 58.16L64.49 60.6L63.11 63.14L62.25 63.85z" fill="#edd2c3"/>
<path d="M72.14 52.58L73.54 50.57L74.96 48.68L75.82 48.72L76.68 48.9L75.27 50.72L73.86 52.66L73 52.56z" fill="#f7ac8e"/>
<path d="M47.29 87.3L48.64 85.01L49.99 82.77L50.86 81.13L51.72 79.57L50.37 81.97L49.02 84.43L48.16 85.83z" fill="#a7c5fe"/>
<path d="M39.39 100.76L40.74 99.07L42.09 97.41L42.96 95.58L43.82 93.81L42.47 95.72L41.13 97.67L40.26 99.19z" fill="#779af7"/>
<path d="M126.8 71.63L128.23 74.02L129.66 76.51L130.41 77.29L131.16 78.16L129.73 75.89L128.3 73.71L127.55 72.62z" fill="#e1dad6"/>
<path d="M137.94 99.99L139.34 103.41L140.73 106.85L141.5 106.34L142.26 105.86L140.86 102.62L139.46 99.4L138.7 99.67z" fill="#82a6fb"/>
<path d="M76.68 48.9L78.1 47.2L79.53 45.64L80.39 46.03L81.24 46.57L79.82 48.05L78.4 49.66L77.54 49.21z" fill="#f59c7d"/>
<path d="M109.42 51.4L110.87 52.42L112.33 53.58L113.11 55.29L113.88 57.13L112.43 56.05L110.98 55.09L110.2 53.19z" fill="#f5a081"/>
<path d="M133.83 86.88L135.24 89.94L136.65 93.05L137.41 93.02L138.17 93.03L136.76 90.14L135.35 87.29L134.59 87.06z" fill="#b3cdfb"/>
<path d="M96.15 44.64L97.61 44.6L99.06 44.69L99.88 46.26L100.69 47.96L99.24 47.84L97.79 47.85L96.97 46.18z" fill="#ee8468"/>
<path d="M123.92 67.13L125.36 69.33L126.8 71.63L127.55 72.62L128.3 73.71L126.87 71.61L125.43 69.61L124.68 68.32z" fill="#edd2c3"/>
<path d="M31.43 112.56L32.79 111.75L34.16 110.95L35.03 109.16L35.9 107.41L34.55 108.54L33.2 109.68L32.31 111.11z" fill="#506bda"/>
<path d="M139.19 107.93L140.59 111.55L141.98 115.18L142.75 114.47L143.51 113.77L142.12 110.3L140.73 106.85L139.96 107.37z" fill="#6788ee"/>
<path d="M112.33 53.58L113.78 54.85L115.24 56.25L116.01 57.88L116.78 59.61L115.33 58.31L113.88 57.13L113.11 55.29z" fill="#f7a889"/>
<path d="M121.03 63.05L122.48 65.04L123.92 67.13L124.68 68.32L125.43 69.61L124 67.69L122.55 65.87L121.8 64.41z" fill="#f3c7b1"/>
<path d="M88.69 43.87L90.13 43.17L91.58 42.63L92.42 43.83L93.25 45.17L91.8 45.65L90.36 46.27L89.53 45z" fill="#ec8165"/>
<path d="M20.55 120.77L21.94 121.05L23.33 121.28L24.23 120.08L25.13 118.88L23.76 119.02L22.38 119.12L21.46 119.95z" fill="#3b4cc0"/>
<path d="M115.24 56.25L116.69 57.78L118.14 59.42L118.91 60.92L119.67 62.54L118.22 61.02L116.78 59.61L116.01 57.88z" fill="#f7b194"/>
<path d="M53.45 76.7L54.82 74.23L56.18 71.83L57.05 70.41L57.92 69.07L56.55 71.57L55.19 74.15L54.32 75.39z" fill="#cedaeb"/>
<path d="M118.14 59.42L119.59 61.18L121.03 63.05L121.8 64.41L122.55 65.87L121.11 64.15L119.67 62.54L118.91 60.92z" fill="#f7bca1"/>
<path d="M25.13 118.88L26.51 118.73L27.89 118.58L28.78 117.05L29.66 115.53L28.29 116.03L26.93 116.54L26.03 117.7z" fill="#3e51c5"/>
<path d="M37.65 104.01L39 102.6L40.36 101.23L41.22 99.29L42.09 97.41L40.74 99.07L39.39 100.76L38.52 102.36z" fill="#6e90f2"/>
<path d="M45.55 90.43L46.91 88.34L48.26 86.29L49.13 84.49L49.99 82.77L48.64 85.01L47.29 87.3L46.42 88.84z" fill="#9fbfff"/>
<path d="M140.43 116.64L141.82 120.4L142.59 119.61L143.36 118.81L141.98 115.18L141.21 115.9z" fill="#4a63d3"/>
<path d="M130.99 80.94L132.41 83.88L133.83 86.88L134.59 87.06L135.35 87.29L133.93 84.5L132.51 81.77L131.75 81.32z" fill="#cad8ef"/>
<path d="M65.88 58.16L67.27 55.83L68.67 53.6L69.54 53.05L70.4 52.66L69 54.86L67.61 57.17L66.74 57.59z" fill="#f6bda2"/>
<path d="M135.12 93.26L136.53 96.6L137.94 99.99L138.7 99.67L139.46 99.4L138.06 96.2L136.65 93.05L135.89 93.13z" fill="#9fbfff"/>
<path d="M59.65 66.68L61.02 64.19L62.41 61.8L63.28 60.7L64.14 59.72L62.76 62.16L61.38 64.68L60.51 65.63z" fill="#ebd3c6"/>
<path d="M29.66 115.53L31.04 115.06L32.41 114.61L33.29 112.77L34.16 110.95L32.79 111.75L31.43 112.56L30.55 114.04z" fill="#4a63d3"/>
<path d="M99.06 44.69L100.52 44.92L101.98 45.3L102.79 46.87L103.59 48.59L102.14 48.21L100.69 47.96L99.88 46.26z" fill="#ec7f63"/>
<path d="M35.9 107.41L37.26 106.31L38.63 105.23L39.5 103.21L40.36 101.23L39 102.6L37.65 104.01L36.78 105.69z" fill="#6485ec"/>
<path d="M43.82 93.81L45.18 91.93L46.54 90.11L47.4 88.17L48.26 86.29L46.91 88.34L45.55 90.43L44.69 92.09z" fill="#97b8ff"/>
<path d="M84.11 44.02L85.55 42.95L87 42.04L87.84 42.88L88.69 43.87L87.24 44.71L85.8 45.69L84.96 44.78z" fill="#ec7f63"/>
<path d="M51.72 79.57L53.08 77.23L54.45 74.97L55.32 73.35L56.18 71.83L54.82 74.23L53.45 76.7L52.59 78.09z" fill="#c9d7f0"/>
<path d="M136.4 100.74L137.8 104.32L139.19 107.93L139.96 107.37L140.73 106.85L139.34 103.41L137.94 99.99L137.17 100.34z" fill="#86a9fc"/>
<path d="M23.33 121.28L24.72 121.49L26.12 121.7L27.01 120.14L27.89 118.58L26.51 118.73L25.13 118.88L24.23 120.08z" fill="#3b4cc0"/>
<path d="M128.14 75.29L129.57 78.07L130.99 80.94L131.75 81.32L132.51 81.77L131.09 79.1L129.66 76.51L128.9 75.85z" fill="#dcdddd"/>
<path d="M70.4 52.66L71.81 50.58L73.23 48.63L74.09 48.45L74.96 48.68L73.54 50.57L72.14 52.58L71.27 52.43z" fill="#f7a688"/>
<path d="M137.65 109.11L139.04 112.87L140.43 116.64L141.21 115.9L141.98 115.18L140.59 111.55L139.19 107.93L138.42 108.51z" fill="#688aef"/>
<path d="M18.69 122.15L20.1 122.83L21.51 123.44L22.42 122.46L23.33 121.28L21.94 121.05L20.55 120.77L19.62 121.57z" fill="#3b4cc0"/>
<path d="M91.58 42.63L93.04 42.24L94.5 42L95.33 43.25L96.15 44.64L94.7 44.84L93.25 45.17L92.42 43.83z" fill="#e7745b"/>
<path d="M27.89 118.58L29.28 118.47L30.67 118.37L31.54 116.47L32.41 114.61L31.04 115.06L29.66 115.53L28.78 117.05z" fill="#4358cb"/>
<path d="M101.98 45.3L103.44 45.81L104.9 46.47L105.71 48.04L106.5 49.74L105.05 49.1L103.59 48.59L102.79 46.87z" fill="#ec7f63"/>
<path d="M79.53 45.64L80.96 44.21L82.4 42.94L83.26 43.4L84.11 44.02L82.67 45.23L81.24 46.57L80.39 46.03z" fill="#ee8468"/>
<path d="M34.16 110.95L35.53 110.17L36.9 109.41L37.77 107.3L38.63 105.23L37.26 106.31L35.9 107.41L35.03 109.16z" fill="#5b7ae5"/>
<path d="M74.96 48.68L76.38 46.91L77.81 45.29L78.67 45.39L79.53 45.64L78.1 47.2L76.68 48.9L75.82 48.72z" fill="#f39475"/>
<path d="M132.3 86.71L133.71 89.96L135.12 93.26L135.89 93.13L136.65 93.05L135.24 89.94L133.83 86.88L133.07 86.76z" fill="#bbd1f8"/>
<path d="M42.09 97.41L43.45 95.79L44.82 94.21L45.68 92.13L46.54 90.11L45.18 91.93L43.82 93.81L42.96 95.58z" fill="#8caffe"/>
<path d="M57.92 69.07L59.29 66.66L60.68 64.35L61.54 63.02L62.41 61.8L61.02 64.19L59.65 66.68L58.78 67.83z" fill="#e8d6cc"/>
<path d="M138.88 118.14L140.27 122.01L141.04 121.2L141.82 120.4L140.43 116.64L139.66 117.38z" fill="#4a63d3"/>
<path d="M125.27 69.97L126.7 72.58L128.14 75.29L128.9 75.85L129.66 76.51L128.23 74.02L126.8 71.63L126.04 70.73z" fill="#ebd3c6"/>
<path d="M64.14 59.72L65.54 57.4L66.94 55.18L67.8 54.32L68.67 53.6L67.27 55.83L65.88 58.16L65.01 58.88z" fill="#f6bea4"/>
<path d="M49.99 82.77L51.35 80.6L52.73 78.49L53.59 76.68L54.45 74.97L53.08 77.23L51.72 79.57L50.86 81.13z" fill="#c1d4f4"/>
<path d="M104.9 46.47L106.37 47.27L107.83 48.21L108.62 49.74L109.42 51.4L107.96 50.5L106.5 49.74L105.71 48.04z" fill="#ec8165"/>
<path d="M32.41 114.61L33.79 114.17L35.18 113.75L36.04 111.56L36.9 109.41L35.53 110.17L34.16 110.95L33.29 112.77z" fill="#516ddb"/>
<path d="M21.51 123.44L22.92 124.03L24.33 124.62L25.23 123.25L26.12 121.7L24.72 121.49L23.33 121.28L22.42 122.46z" fill="#3b4cc0"/>
<path d="M26.12 121.7L27.52 121.95L28.92 122.2L29.79 120.28L30.67 118.37L29.28 118.47L27.89 118.58L27.01 120.14z" fill="#3c4ec2"/>
<path d="M40.36 101.23L41.73 99.88L43.1 98.58L43.96 96.36L44.82 94.21L43.45 95.79L42.09 97.41L41.22 99.29z" fill="#81a4fb"/>
<path d="M133.58 93.68L134.99 97.19L136.4 100.74L137.17 100.34L137.94 99.99L136.53 96.6L135.12 93.26L134.35 93.44z" fill="#a5c3fe"/>
<path d="M122.39 65.07L123.83 67.46L125.27 69.97L126.04 70.73L126.8 71.63L125.36 69.33L123.92 67.13L123.16 66.04z" fill="#f4c6af"/>
<path d="M129.45 80.41L130.88 83.52L132.3 86.71L133.07 86.76L133.83 86.88L132.41 83.88L130.99 80.94L130.22 80.64z" fill="#d2dbe8"/>
<path d="M94.5 42L95.96 41.92L97.42 41.99L98.24 43.26L99.06 44.69L97.61 44.6L96.15 44.64L95.33 43.25z" fill="#e36b54"/>
<path d="M107.83 48.21L109.29 49.29L110.75 50.51L111.54 51.98L112.33 53.58L110.87 52.42L109.42 51.4L108.62 49.74z" fill="#ee8669"/>
<path d="M87 42.04L88.45 41.28L89.9 40.68L90.75 41.58L91.58 42.63L90.13 43.17L88.69 43.87L87.84 42.88z" fill="#e36c55"/>
<path d="M48.26 86.29L49.63 84.31L51 82.38L51.86 80.39L52.73 78.49L51.35 80.6L49.99 82.77L49.13 84.49z" fill="#b7cff9"/>
<path d="M119.49 60.66L120.94 62.8L122.39 65.07L123.16 66.04L123.92 67.13L122.48 65.04L121.03 63.05L120.27 61.8z" fill="#f7b89c"/>
<path d="M134.84 101.65L136.25 105.37L137.65 109.11L138.42 108.51L139.19 107.93L137.8 104.32L136.4 100.74L135.62 101.17z" fill="#89acfd"/>
<path d="M30.67 118.37L32.06 118.28L33.45 118.2L34.32 115.95L35.18 113.75L33.79 114.17L32.41 114.61L31.54 116.47z" fill="#485fd1"/>
<path d="M56.18 71.83L57.56 69.53L58.95 67.31L59.81 65.78L60.68 64.35L59.29 66.66L57.92 69.07L57.05 70.41z" fill="#e3d9d3"/>
<path d="M38.63 105.23L40 104.19L41.38 103.17L42.24 100.85L43.1 98.58L41.73 99.88L40.36 101.23L39.5 103.21z" fill="#7396f5"/>
<path d="M136.08 110.41L137.48 114.27L138.88 118.14L139.66 117.38L140.43 116.64L139.04 112.87L137.65 109.11L136.87 109.75z" fill="#6a8bef"/>
<path d="M110.75 50.51L112.21 51.87L113.67 53.36L114.46 54.75L115.24 56.25L113.78 54.85L112.33 53.58L111.54 51.98z" fill="#f29072"/>
<path d="M116.59 56.75L118.04 58.64L119.49 60.66L120.27 61.8L121.03 63.05L119.59 61.18L118.14 59.42L117.37 58.03z" fill="#f7a98b"/>
<path d="M68.67 53.6L70.08 51.5L71.5 49.53L72.36 48.99L73.23 48.63L71.81 50.58L70.4 52.66L69.54 53.05z" fill="#f6a385"/>
<path d="M113.67 53.36L115.13 54.99L116.59 56.75L117.37 58.03L118.14 59.42L116.69 57.78L115.24 56.25L114.46 54.75z" fill="#f59c7d"/>
<path d="M24.33 124.62L25.74 125.24L27.16 125.88L28.04 124.12L28.92 122.2L27.52 121.95L26.12 121.7L25.23 123.25z" fill="#3b4cc0"/>
<path d="M137.31 119.68L138.71 123.63L139.49 122.82L140.27 122.01L138.88 118.14L138.1 118.91z" fill="#4a63d3"/>
<path d="M62.41 61.8L63.8 59.52L65.2 57.35L66.07 56.2L66.94 55.18L65.54 57.4L64.14 59.72L63.28 60.7z" fill="#f5c0a7"/>
<path d="M36.9 109.41L38.29 108.68L39.67 107.98L40.53 105.55L41.38 103.17L40 104.19L38.63 105.23L37.77 107.3z" fill="#6788ee"/>
<path d="M28.92 122.2L30.32 122.47L31.73 122.74L32.59 120.46L33.45 118.2L32.06 118.28L30.67 118.37L29.79 120.28z" fill="#3e51c5"/>
<path d="M46.54 90.11L47.91 88.34L49.28 86.64L50.14 84.47L51 82.38L49.63 84.31L48.26 86.29L47.4 88.17z" fill="#adc9fd"/>
<path d="M82.4 42.94L83.85 41.81L85.3 40.84L86.15 41.36L87 42.04L85.55 42.95L84.11 44.02L83.26 43.4z" fill="#e46e56"/>
<path d="M126.59 74.41L128.03 77.37L129.45 80.41L130.22 80.64L130.99 80.94L129.57 78.07L128.14 75.29L127.37 74.8z" fill="#e4d9d2"/>
<path d="M130.75 86.81L132.17 90.21L133.58 93.68L134.35 93.44L135.12 93.26L133.71 89.96L132.3 86.71L131.53 86.72z" fill="#c1d4f4"/>
<path d="M73.23 48.63L74.65 46.81L76.08 45.14L76.95 44.99L77.81 45.29L76.38 46.91L74.96 48.68L74.09 48.45z" fill="#f08b6e"/>
<path d="M97.42 41.99L98.88 42.21L100.35 42.58L101.17 43.86L101.98 45.3L100.52 44.92L99.06 44.69L98.24 43.26z" fill="#e0654f"/>
<path d="M77.81 45.29L79.25 43.81L80.69 42.48L81.55 42.63L82.4 42.94L80.96 44.21L79.53 45.64L78.67 45.39z" fill="#e97a5f"/>
<path d="M54.45 74.97L55.83 72.78L57.22 70.69L58.08 68.94L58.95 67.31L57.56 69.53L56.18 71.83L55.32 73.35z" fill="#dddcdc"/>
<path d="M35.18 113.75L36.57 113.34L37.96 112.97L38.82 110.45L39.67 107.98L38.29 108.68L36.9 109.41L36.04 111.56z" fill="#5a78e4"/>
<path d="M44.82 94.21L46.19 92.69L47.57 91.22L48.42 88.89L49.28 86.64L47.91 88.34L46.54 90.11L45.68 92.13z" fill="#a1c0ff"/>
<path d="M27.16 125.88L28.58 126.52L30 127.16L30.87 125.01L31.73 122.74L30.32 122.47L28.92 122.2L28.04 124.12z" fill="#3b4cc0"/>
<path d="M132.02 94.32L133.43 97.97L134.84 101.65L135.62 101.17L136.4 100.74L134.99 97.19L133.58 93.68L132.8 93.97z" fill="#a9c6fd"/>
<path d="M89.9 40.68L91.36 40.25L92.82 39.97L93.66 40.91L94.5 42L93.04 42.24L91.58 42.63L90.75 41.58z" fill="#dc5d4a"/>
<path d="M33.45 118.2L34.85 118.13L36.26 118.09L37.11 115.51L37.96 112.97L36.57 113.34L35.18 113.75L34.32 115.95z" fill="#4c66d6"/>
<path d="M123.72 68.77L125.16 71.54L126.59 74.41L127.37 74.8L128.14 75.29L126.7 72.58L125.27 69.97L124.5 69.32z" fill="#f1ccb8"/>
<path d="M133.28 102.74L134.68 106.57L136.08 110.41L136.87 109.75L137.65 109.11L136.25 105.37L134.84 101.65L134.06 102.17z" fill="#8badfd"/>
<path d="M43.1 98.58L44.47 97.32L45.86 96.11L46.71 93.63L47.57 91.22L46.19 92.69L44.82 94.21L43.96 96.36z" fill="#92b4fe"/>
<path d="M134.51 111.79L135.92 115.73L137.31 119.68L138.1 118.91L138.88 118.14L137.48 114.27L136.08 110.41L135.3 111.08z" fill="#6a8bef"/>
<path d="M60.68 64.35L62.07 62.14L63.47 60.04L64.34 58.63L65.2 57.35L63.8 59.52L62.41 61.8L61.54 63.02z" fill="#f4c5ad"/>
<path d="M100.35 42.58L101.81 43.1L103.28 43.77L104.1 45.05L104.9 46.47L103.44 45.81L101.98 45.3L101.17 43.86z" fill="#df634e"/>
<path d="M31.73 122.74L33.14 123.02L34.55 123.31L35.4 120.69L36.26 118.09L34.85 118.13L33.45 118.2L32.59 120.46z" fill="#3f53c6"/>
<path d="M66.94 55.18L68.35 53.09L69.76 51.14L70.63 50.25L71.5 49.53L70.08 51.5L68.67 53.6L67.8 54.32z" fill="#f6a586"/>
<path d="M52.73 78.49L54.1 76.46L55.49 74.51L56.35 72.54L57.22 70.69L55.83 72.78L54.45 74.97L53.59 76.68z" fill="#d6dce4"/>
<path d="M127.9 80.2L129.33 83.47L130.75 86.81L131.53 86.72L132.3 86.71L130.88 83.52L129.45 80.41L128.68 80.26z" fill="#d8dce2"/>
<path d="M135.74 121.28L137.14 125.27L137.93 124.45L138.71 123.63L137.31 119.68L136.53 120.48z" fill="#4a63d3"/>
<path d="M41.38 103.17L42.76 102.2L44.15 101.28L45 98.66L45.86 96.11L44.47 97.32L43.1 98.58L42.24 100.85z" fill="#82a6fb"/>
<path d="M30 127.16L31.42 127.8L32.84 128.45L33.7 125.94L34.55 123.31L33.14 123.02L31.73 122.74L30.87 125.01z" fill="#3b4cc0"/>
<path d="M120.83 63.55L122.28 66.11L123.72 68.77L124.5 69.32L125.27 69.97L123.83 67.46L122.39 65.07L121.61 64.24z" fill="#f7ba9f"/>
<path d="M39.67 107.98L41.06 107.32L42.45 106.68L43.3 103.95L44.15 101.28L42.76 102.2L41.38 103.17L40.53 105.55z" fill="#7295f4"/>
<path d="M103.28 43.77L104.75 44.6L106.22 45.58L107.03 46.82L107.83 48.21L106.37 47.27L104.9 46.47L104.1 45.05z" fill="#e16751"/>
<path d="M85.3 40.84L86.75 40.03L88.21 39.39L89.06 39.95L89.9 40.68L88.45 41.28L87 42.04L86.15 41.36z" fill="#da5a49"/>
<path d="M51 82.38L52.38 80.53L53.77 78.76L54.63 76.58L55.49 74.51L54.1 76.46L52.73 78.49L51.86 80.39z" fill="#ccd9ed"/>
<path d="M37.96 112.97L39.36 112.62L40.76 112.3L41.61 109.47L42.45 106.68L41.06 107.32L39.67 107.98L38.82 110.45z" fill="#6282ea"/>
<path d="M92.82 39.97L94.29 39.87L95.76 39.91L96.59 40.87L97.42 41.99L95.96 41.92L94.5 42L93.66 40.91z" fill="#d65244"/>
<path d="M117.93 58.79L119.38 61.11L120.83 63.55L121.61 64.24L122.39 65.07L120.94 62.8L119.49 60.66L118.71 59.65z" fill="#f7a889"/>
<path d="M129.18 87.19L130.61 90.73L132.02 94.32L132.8 93.97L133.58 93.68L132.17 90.21L130.75 86.81L129.97 86.96z" fill="#c5d6f2"/>
<path d="M71.5 49.53L72.92 47.69L74.35 46.01L75.22 45.47L76.08 45.14L74.65 46.81L73.23 48.63L72.36 48.99z" fill="#ef886b"/>
<path d="M36.26 118.09L37.66 118.07L39.07 118.07L39.92 115.17L40.76 112.3L39.36 112.62L37.96 112.97L37.11 115.51z" fill="#516ddb"/>
<path d="M58.95 67.31L60.34 65.19L61.74 63.18L62.6 61.55L63.47 60.04L62.07 62.14L60.68 64.35L59.81 65.78z" fill="#f2cbb7"/>
<path d="M106.22 45.58L107.69 46.71L109.16 47.99L109.96 49.18L110.75 50.51L109.29 49.29L107.83 48.21L107.03 46.82z" fill="#e36c55"/>
<path d="M34.55 123.31L35.97 123.63L37.39 123.95L38.23 121L39.07 118.07L37.66 118.07L36.26 118.09L35.4 120.69z" fill="#4055c8"/>
<path d="M125.03 73.9L126.47 77.01L127.9 80.2L128.68 80.26L129.45 80.41L128.03 77.37L126.59 74.41L125.82 74.11z" fill="#ead4c8"/>
<path d="M80.69 42.48L82.14 41.31L83.59 40.3L84.44 40.48L85.3 40.84L83.85 41.81L82.4 42.94L81.55 42.63z" fill="#df634e"/>
<path d="M32.84 128.45L34.27 129.12L35.7 129.78L36.54 126.91L37.39 123.95L35.97 123.63L34.55 123.31L33.7 125.94z" fill="#3b4cc0"/>
<path d="M115.01 54.59L116.47 56.61L117.93 58.79L118.71 59.65L119.49 60.66L118.04 58.64L116.59 56.75L115.8 55.61z" fill="#f39577"/>
<path d="M76.08 45.14L77.52 43.61L78.96 42.24L79.83 42.12L80.69 42.48L79.25 43.81L77.81 45.29L76.95 44.99z" fill="#e57058"/>
<path d="M49.28 86.64L50.66 84.99L52.05 83.42L52.91 81.04L53.77 78.76L52.38 80.53L51 82.38L50.14 84.47z" fill="#c0d4f5"/>
<path d="M109.16 47.99L110.62 49.41L112.09 50.99L112.88 52.11L113.67 53.36L112.21 51.87L110.75 50.51L109.96 49.18z" fill="#e9785d"/>
<path d="M130.45 95.21L131.86 98.96L133.28 102.74L134.06 102.17L134.84 101.65L133.43 97.97L132.02 94.32L131.24 94.74z" fill="#abc8fd"/>
<path d="M112.09 50.99L113.55 52.72L115.01 54.59L115.8 55.61L116.59 56.75L115.13 54.99L113.67 53.36L112.88 52.11z" fill="#ee8669"/>
<path d="M65.2 57.35L66.61 55.3L68.03 53.39L68.9 52.19L69.76 51.14L68.35 53.09L66.94 55.18L66.07 56.2z" fill="#f7a98b"/>
<path d="M132.93 113.31L134.34 117.29L135.74 121.28L136.53 120.48L137.31 119.68L135.92 115.73L134.51 111.79L133.73 112.53z" fill="#6b8df0"/>
<path d="M131.7 103.96L133.11 107.86L134.51 111.79L135.3 111.08L136.08 110.41L134.68 106.57L133.28 102.74L132.49 103.33z" fill="#8caffe"/>
<path d="M47.57 91.22L48.95 89.8L50.34 88.46L51.2 85.89L52.05 83.42L50.66 84.99L49.28 86.64L48.42 88.89z" fill="#b2ccfb"/>
<path d="M134.16 122.94L135.57 126.92L136.35 126.1L137.14 125.27L135.74 121.28L134.95 122.1z" fill="#4a63d3"/>
<path d="M57.22 70.69L58.61 68.68L60.01 66.78L60.87 64.92L61.74 63.18L60.34 65.19L58.95 67.31L58.08 68.94z" fill="#eed0c0"/>
<path d="M95.76 39.91L97.23 40.12L98.7 40.48L99.52 41.45L100.35 42.58L98.88 42.21L97.42 41.99L96.59 40.87z" fill="#d24b40"/>
<path d="M45.86 96.11L47.25 94.95L48.64 93.85L49.49 91.11L50.34 88.46L48.95 89.8L47.57 91.22L46.71 93.63z" fill="#a2c1ff"/>
<path d="M122.15 67.99L123.59 70.9L125.03 73.9L125.82 74.11L126.59 74.41L125.16 71.54L123.72 68.77L122.94 68.33z" fill="#f5c4ac"/>
<path d="M35.7 129.78L37.13 130.43L38.56 131.08L39.39 127.87L40.23 124.6L38.8 124.27L37.39 123.95L36.54 126.91z" fill="#3b4cc0"/>
<path d="M126.33 80.33L127.76 83.72L129.18 87.19L129.97 86.96L130.75 86.81L129.33 83.47L127.9 80.2L127.12 80.22z" fill="#dddcdc"/>
<path d="M88.21 39.39L89.67 38.92L91.14 38.61L91.98 39.21L92.82 39.97L91.36 40.25L89.9 40.68L89.06 39.95z" fill="#d1493f"/>
<path d="M37.39 123.95L38.8 124.27L40.23 124.6L41.06 121.34L41.9 118.11L40.48 118.08L39.07 118.07L38.23 121z" fill="#4257c9"/>
<path d="M44.15 101.28L45.55 100.39L46.95 99.55L47.79 96.66L48.64 93.85L47.25 94.95L45.86 96.11L45 98.66z" fill="#90b2fe"/>
<path d="M39.07 118.07L40.48 118.08L41.9 118.11L42.74 114.9L43.58 111.73L42.17 112L40.76 112.3L39.92 115.17z" fill="#5572df"/>
<path d="M42.45 106.68L43.85 106.08L45.26 105.52L46.1 102.5L46.95 99.55L45.55 100.39L44.15 101.28L43.3 103.95z" fill="#7da0f9"/>
<path d="M40.76 112.3L42.17 112L43.58 111.73L44.42 108.6L45.26 105.52L43.85 106.08L42.45 106.68L41.61 109.47z" fill="#688aef"/>
<path d="M69.76 51.14L71.19 49.32L72.62 47.64L73.48 46.74L74.35 46.01L72.92 47.69L71.5 49.53L70.63 50.25z" fill="#f08a6c"/>
<path d="M63.47 60.04L64.88 58.05L66.29 56.19L67.16 54.72L68.03 53.39L66.61 55.3L65.2 57.35L64.34 58.63z" fill="#f7af91"/>
<path d="M55.49 74.51L56.88 72.65L58.28 70.89L59.15 68.78L60.01 66.78L58.61 68.68L57.22 70.69L56.35 72.54z" fill="#e7d7ce"/>
<path d="M127.6 87.88L129.03 91.52L130.45 95.21L131.24 94.74L132.02 94.32L130.61 90.73L129.18 87.19L128.4 87.5z" fill="#c9d7f0"/>
<path d="M98.7 40.48L100.17 41L101.64 41.68L102.47 42.65L103.28 43.77L101.81 43.1L100.35 42.58L99.52 41.45z" fill="#d1493f"/>
<path d="M119.25 62.52L120.7 65.2L122.15 67.99L122.94 68.33L123.72 68.77L122.28 66.11L120.83 63.55L120.04 62.97z" fill="#f7af91"/>
<path d="M38.56 131.08L39.99 131.72L41.42 132.33L42.25 128.82L43.08 125.26L41.65 124.93L40.23 124.6L39.39 127.87z" fill="#3b4cc0"/>
<path d="M83.59 40.3L85.04 39.46L86.51 38.78L87.36 39L88.21 39.39L86.75 40.03L85.3 40.84L84.44 40.48z" fill="#d24b40"/>
<path d="M131.34 114.98L132.75 118.96L134.16 122.94L134.95 122.1L135.74 121.28L134.34 117.29L132.93 113.31L132.14 114.13z" fill="#6a8bef"/>
<path d="M128.86 96.27L130.28 100.09L131.7 103.96L132.49 103.33L133.28 102.74L131.86 98.96L130.45 95.21L129.66 95.7z" fill="#aec9fc"/>
<path d="M130.11 105.41L131.52 109.35L132.93 113.31L133.73 112.53L134.51 111.79L133.11 107.86L131.7 103.96L130.9 104.65z" fill="#8db0fe"/>
<path d="M74.35 46.01L75.79 44.47L77.23 43.1L78.1 42.57L78.96 42.24L77.52 43.61L76.08 45.14L75.22 45.47z" fill="#e36c55"/>
<path d="M53.77 78.76L55.16 77.07L56.57 75.47L57.42 73.12L58.28 70.89L56.88 72.65L55.49 74.51L54.63 76.58z" fill="#dddcdc"/>
<path d="M123.45 73.8L124.89 77.02L126.33 80.33L127.12 80.22L127.9 80.2L126.47 77.01L125.03 73.9L124.25 73.8z" fill="#efcfbf"/>
<path d="M132.57 124.65L133.98 128.59L134.78 127.76L135.57 126.92L134.16 122.94L133.37 123.79z" fill="#4961d2"/>
<path d="M40.23 124.6L41.65 124.93L43.08 125.26L43.91 121.72L44.74 118.2L43.32 118.15L41.9 118.11L41.06 121.34z" fill="#4358cb"/>
<path d="M78.96 42.24L80.41 41.03L81.87 40L82.73 39.9L83.59 40.3L82.14 41.31L80.69 42.48L79.83 42.12z" fill="#d85646"/>
<path d="M116.34 57.53L117.8 59.96L119.25 62.52L120.04 62.97L120.83 63.55L119.38 61.11L117.93 58.79L117.14 58.09z" fill="#f49a7b"/>
<path d="M101.64 41.68L103.12 42.53L104.59 43.53L105.41 44.48L106.22 45.58L104.75 44.6L103.28 43.77L102.47 42.65z" fill="#d44e41"/>
<path d="M91.14 38.61L92.61 38.48L94.08 38.5L94.92 39.12L95.76 39.91L94.29 39.87L92.82 39.97L91.98 39.21z" fill="#cb3e38"/>
<path d="M61.74 63.18L63.15 61.28L64.56 59.5L65.43 57.79L66.29 56.19L64.88 58.05L63.47 60.04L62.6 61.55z" fill="#f7b79b"/>
<path d="M41.9 118.11L43.32 118.15L44.74 118.2L45.57 114.72L46.41 111.27L44.99 111.49L43.58 111.73L42.74 114.9z" fill="#5977e3"/>
<path d="M52.05 83.42L53.45 81.92L54.85 80.51L55.71 77.94L56.57 75.47L55.16 77.07L53.77 78.76L52.91 81.04z" fill="#d2dbe8"/>
<path d="M41.42 132.33L42.86 132.93L44.29 133.49L45.11 129.71L45.94 125.89L44.51 125.58L43.08 125.26L42.25 128.82z" fill="#3b4cc0"/>
<path d="M113.42 53.07L114.88 55.23L116.34 57.53L117.14 58.09L117.93 58.79L116.47 56.61L115.01 54.59L114.22 53.74z" fill="#ee8468"/>
<path d="M43.58 111.73L44.99 111.49L46.41 111.27L47.24 107.87L48.08 104.52L46.67 105L45.26 105.52L44.42 108.6z" fill="#7093f3"/>
<path d="M68.03 53.39L69.45 51.6L70.88 49.96L71.75 48.72L72.62 47.64L71.19 49.32L69.76 51.14L68.9 52.19z" fill="#f18f71"/>
<path d="M104.59 43.53L106.06 44.7L107.54 46.03L108.35 46.94L109.16 47.99L107.69 46.71L106.22 45.58L105.41 44.48z" fill="#d75445"/>
<path d="M50.34 88.46L51.74 87.18L53.15 85.97L54 83.19L54.85 80.51L53.45 81.92L52.05 83.42L51.2 85.89z" fill="#c3d5f4"/>
<path d="M45.26 105.52L46.67 105L48.08 104.52L48.92 101.23L49.76 98.02L48.35 98.76L46.95 99.55L46.1 102.5z" fill="#88abfd"/>
<path d="M124.74 80.83L126.17 84.32L127.6 87.88L128.4 87.5L129.18 87.19L127.76 83.72L126.33 80.33L125.53 80.53z" fill="#e0dbd8"/>
<path d="M110.48 49.2L111.95 51.06L113.42 53.07L114.22 53.74L115.01 54.59L113.55 52.72L112.09 50.99L111.29 50.02z" fill="#e67259"/>
<path d="M107.54 46.03L109.01 47.53L110.48 49.2L111.29 50.02L112.09 50.99L110.62 49.41L109.16 47.99L108.35 46.94z" fill="#de614d"/>
<path d="M48.64 93.85L50.04 92.8L51.45 91.82L52.3 88.85L53.15 85.97L51.74 87.18L50.34 88.46L49.49 91.11z" fill="#b1cbfc"/>
<path d="M46.95 99.55L48.35 98.76L49.76 98.02L50.6 94.88L51.45 91.82L50.04 92.8L48.64 93.85L47.79 96.66z" fill="#9dbdff"/>
<path d="M120.56 67.66L122.01 70.67L123.45 73.8L124.25 73.8L125.03 73.9L123.59 70.9L122.15 67.99L121.36 67.77z" fill="#f6bda2"/>
<path d="M43.08 125.26L44.51 125.58L45.94 125.89L46.76 122.1L47.59 118.33L46.16 118.26L44.74 118.2L43.91 121.72z" fill="#445acc"/>
<path d="M60.01 66.78L61.42 64.99L62.83 63.32L63.7 61.34L64.56 59.5L63.15 61.28L61.74 63.18L60.87 64.92z" fill="#f5c0a7"/>
<path d="M129.74 116.78L131.16 120.71L132.57 124.65L133.37 123.79L134.16 122.94L132.75 118.96L131.34 114.98L130.54 115.86z" fill="#688aef"/>
<path d="M126.01 88.78L127.44 92.49L128.86 96.27L129.66 95.7L130.45 95.21L129.03 91.52L127.6 87.88L126.81 88.29z" fill="#cbd8ee"/>
<path d="M86.51 38.78L87.97 38.29L89.44 37.97L90.29 38.2L91.14 38.61L89.67 38.92L88.21 39.39L87.36 39z" fill="#c83836"/>
<path d="M94.08 38.5L95.55 38.69L97.03 39.03L97.87 39.67L98.7 40.48L97.23 40.12L95.76 39.91L94.92 39.12z" fill="#c73635"/>
<path d="M128.5 107.08L129.92 111.02L131.34 114.98L132.14 114.13L132.93 113.31L131.52 109.35L130.11 105.41L129.31 106.22z" fill="#8caffe"/>
<path d="M127.26 97.64L128.69 101.5L130.11 105.41L130.9 104.65L131.7 103.96L130.28 100.09L128.86 96.27L128.06 96.91z" fill="#aec9fc"/>
<path d="M44.29 133.49L45.73 134.05L47.17 134.61L47.99 130.59L48.81 126.55L47.37 126.22L45.94 125.89L45.11 129.71z" fill="#3b4cc0"/>
<path d="M130.97 126.42L132.39 130.28L133.19 129.44L133.98 128.59L132.57 124.65L131.77 125.53z" fill="#485fd1"/>
<path d="M72.62 47.64L74.06 46.12L75.5 44.75L76.37 43.83L77.23 43.1L75.79 44.47L74.35 46.01L73.48 46.74z" fill="#e46e56"/>
<path d="M44.74 118.2L46.16 118.26L47.59 118.33L48.42 114.6L49.25 110.9L47.83 111.07L46.41 111.27L45.57 114.72z" fill="#5d7ce6"/>
<path d="M66.29 56.19L67.72 54.46L69.15 52.87L70.02 51.34L70.88 49.96L69.45 51.6L68.03 53.39L67.16 54.72z" fill="#f39778"/>
<path d="M58.28 70.89L59.69 69.23L61.11 67.68L61.97 65.43L62.83 63.32L61.42 64.99L60.01 66.78L59.15 68.78z" fill="#f2cab5"/>
<path d="M117.65 61.98L119.11 64.76L120.56 67.66L121.36 67.77L122.15 67.99L120.7 65.2L119.25 62.52L118.46 62.18z" fill="#f7a688"/>
<path d="M81.87 40L83.32 39.13L84.79 38.43L85.65 38.35L86.51 38.78L85.04 39.46L83.59 40.3L82.73 39.9z" fill="#cb3e38"/>
<path d="M77.23 43.1L78.68 41.88L80.14 40.83L81 40.31L81.87 40L80.41 41.03L78.96 42.24L78.1 42.57z" fill="#d65244"/>
<path d="M121.85 74.11L123.3 77.42L124.74 80.83L125.53 80.53L126.33 80.33L124.89 77.02L123.45 73.8L122.66 73.9z" fill="#f1ccb8"/>
<path d="M46.41 111.27L47.83 111.07L49.25 110.9L50.08 107.25L50.92 103.66L49.5 104.07L48.08 104.52L47.24 107.87z" fill="#779af7"/>
<path d="M97.03 39.03L98.51 39.53L99.99 40.21L100.82 40.87L101.64 41.68L100.17 41L98.7 40.48L97.87 39.67z" fill="#c53334"/>
<path d="M45.94 125.89L47.37 126.22L48.81 126.55L49.63 122.53L50.46 118.54L49.02 118.43L47.59 118.33L46.76 122.1z" fill="#455cce"/>
<path d="M56.57 75.47L57.97 73.97L59.39 72.56L60.25 70.06L61.11 67.68L59.69 69.23L58.28 70.89L57.42 73.12z" fill="#ebd3c6"/>
<path d="M48.08 104.52L49.5 104.07L50.92 103.66L51.76 100.14L52.6 96.69L51.18 97.33L49.76 98.02L48.92 101.23z" fill="#90b2fe"/>
<path d="M47.17 134.61L48.61 135.15L50.05 135.69L50.87 131.47L51.69 127.23L50.25 126.89L48.81 126.55L47.99 130.59z" fill="#3b4cc0"/>
<path d="M114.73 56.8L116.19 59.32L117.65 61.98L118.46 62.18L119.25 62.52L117.8 59.96L116.34 57.53L115.54 57.09z" fill="#f18d6f"/>
<path d="M54.85 80.51L56.26 79.18L57.68 77.94L58.53 75.19L59.39 72.56L57.97 73.97L56.57 75.47L55.71 77.94z" fill="#dfdbd9"/>
<path d="M89.44 37.97L90.91 37.74L92.39 37.52L93.24 38.05L94.08 38.5L92.61 38.48L91.14 38.61L90.29 38.2z" fill="#c12b30"/>
<path d="M123.13 81.57L124.57 85.14L126.01 88.78L126.81 88.29L127.6 87.88L126.17 84.32L124.74 80.83L123.94 81.15z" fill="#e3d9d3"/>
<path d="M49.76 98.02L51.18 97.33L52.6 96.69L53.44 93.33L54.28 90.05L52.86 90.9L51.45 91.82L50.6 94.88z" fill="#a9c6fd"/>
<path d="M64.56 59.5L65.99 57.85L67.42 56.33L68.28 54.54L69.15 52.87L67.72 54.46L66.29 56.19L65.43 57.79z" fill="#f5a081"/>
<path d="M128.12 118.69L129.55 122.55L130.97 126.42L131.77 125.53L132.57 124.65L131.16 120.71L129.74 116.78L128.93 117.72z" fill="#6788ee"/>
<path d="M53.15 85.97L54.56 84.84L55.98 83.78L56.83 80.81L57.68 77.94L56.26 79.18L54.85 80.51L54 83.19z" fill="#d1dae9"/>
<path d="M51.45 91.82L52.86 90.9L54.28 90.05L55.13 86.87L55.98 83.78L54.56 84.84L53.15 85.97L52.3 88.85z" fill="#bfd3f6"/>
<path d="M99.99 40.21L101.46 41.06L102.94 42.1L103.77 42.74L104.59 43.53L103.12 42.53L101.64 41.68L100.82 40.87z" fill="#c73635"/>
<path d="M126.89 108.96L128.31 112.86L129.74 116.78L130.54 115.86L131.34 114.98L129.92 111.02L128.5 107.08L127.7 108z" fill="#8badfd"/>
<path d="M47.59 118.33L49.02 118.43L50.46 118.54L51.28 114.59L52.11 110.67L50.68 110.77L49.25 110.9L48.42 114.6z" fill="#6180e9"/>
<path d="M70.88 49.96L72.32 48.46L73.77 47.12L74.63 45.85L75.5 44.75L74.06 46.12L72.62 47.64L71.75 48.72z" fill="#e7745b"/>
<path d="M124.4 90.08L125.83 93.83L127.26 97.64L128.06 96.91L128.86 96.27L127.44 92.49L126.01 88.78L125.2 89.38z" fill="#ccd9ed"/>
<path d="M125.64 99.32L127.08 103.18L128.5 107.08L129.31 106.22L130.11 105.41L128.69 101.5L127.26 97.64L126.45 98.44z" fill="#aec9fc"/>
<path d="M129.36 128.26L130.79 132.02L131.59 131.15L132.39 130.28L130.97 126.42L130.17 127.33z" fill="#485fd1"/>
<path d="M111.8 52.18L113.27 54.42L114.73 56.8L115.54 57.09L116.34 57.53L114.88 55.23L113.42 53.07L112.61 52.55z" fill="#e8765c"/>
<path d="M118.95 67.8L120.41 70.9L121.85 74.11L122.66 73.9L123.45 73.8L122.01 70.67L120.56 67.66L119.76 67.67z" fill="#f7b79b"/>
<path d="M102.94 42.1L104.42 43.35L105.9 44.79L106.72 45.29L107.54 46.03L106.06 44.7L104.59 43.53L103.77 42.74z" fill="#cc403a"/>
<path d="M48.81 126.55L50.25 126.89L51.69 127.23L52.51 123.03L53.33 118.85L51.89 118.68L50.46 118.54L49.63 122.53z" fill="#465ecf"/>
<path d="M108.85 48.17L110.33 50.1L111.8 52.18L112.61 52.55L113.42 53.07L111.95 51.06L110.48 49.2L109.67 48.6z" fill="#de614d"/>
<path d="M50.05 135.69L51.49 136.22L52.94 136.73L53.76 132.33L54.58 127.94L53.13 127.59L51.69 127.23L50.87 131.47z" fill="#3b4cc0"/>
<path d="M105.9 44.79L107.38 46.4L108.85 48.17L109.67 48.6L110.48 49.2L109.01 47.53L107.54 46.03L106.72 45.29z" fill="#d44e41"/>
<path d="M49.25 110.9L50.68 110.77L52.11 110.67L52.94 106.81L53.78 103L52.35 103.3L50.92 103.66L50.08 107.25z" fill="#7da0f9"/>
<path d="M84.79 38.43L86.26 37.91L87.73 37.57L88.59 37.51L89.44 37.97L87.97 38.29L86.51 38.78L85.65 38.35z" fill="#c0282f"/>
<path d="M62.83 63.32L64.26 61.76L65.69 60.33L66.55 58.26L67.42 56.33L65.99 57.85L64.56 59.5L63.7 61.34z" fill="#f7ad90"/>
<path d="M75.5 44.75L76.95 43.54L78.41 42.49L79.27 41.56L80.14 40.83L78.68 41.88L77.23 43.1L76.37 43.83z" fill="#d75445"/>
<path d="M92.39 37.52L93.87 37.74L95.35 38.13L96.19 38.51L97.03 39.03L95.55 38.69L94.08 38.5L93.24 38.05z" fill="#ba162b"/>
<path d="M80.14 40.83L81.6 39.95L83.06 39.25L83.93 38.73L84.79 38.43L83.32 39.13L81.87 40L81 40.31z" fill="#ca3b37"/>
<path d="M120.24 74.72L121.69 78.1L123.13 81.57L123.94 81.15L124.74 80.83L123.3 77.42L121.85 74.11L121.05 74.35z" fill="#f2c9b4"/>
<path d="M50.92 103.66L52.35 103.3L53.78 103L54.61 99.27L55.45 95.62L54.02 96.12L52.6 96.69L51.76 100.14z" fill="#9abbff"/>
<path d="M116.04 61.96L117.5 64.82L118.95 67.8L119.76 67.67L120.56 67.66L119.11 64.76L117.65 61.98L116.85 61.9z" fill="#f59d7e"/>
<path d="M69.15 52.87L70.59 51.43L72.03 50.13L72.9 48.55L73.77 47.12L72.32 48.46L70.88 49.96L70.02 51.34z" fill="#eb7d62"/>
<path d="M50.46 118.54L51.89 118.68L53.33 118.85L54.16 114.7L54.99 110.6L53.55 110.62L52.11 110.67L51.28 114.59z" fill="#6485ec"/>
<path d="M61.11 67.68L62.53 66.24L63.96 64.93L64.82 62.56L65.69 60.33L64.26 61.76L62.83 63.32L61.97 65.43z" fill="#f7ba9f"/>
<path d="M126.5 120.75L127.93 124.5L129.36 128.26L130.17 127.33L130.97 126.42L129.55 122.55L128.12 118.69L127.31 119.71z" fill="#6485ec"/>
<path d="M52.94 136.73L54.38 137.22L55.83 137.71L56.65 133.19L57.48 128.68L56.03 128.31L54.58 127.94L53.76 132.33z" fill="#3b4cc0"/>
<path d="M125.26 111.03L126.69 114.85L128.12 118.69L128.93 117.72L129.74 116.78L128.31 112.86L126.89 108.96L126.07 109.97z" fill="#88abfd"/>
<path d="M51.69 127.23L53.13 127.59L54.58 127.94L55.4 123.58L56.22 119.25L54.78 119.04L53.33 118.85L52.51 123.03z" fill="#485fd1"/>
<path d="M121.51 82.8L122.96 86.4L124.4 90.08L125.2 89.38L126.01 88.78L124.57 85.14L123.13 81.57L122.33 82.13z" fill="#e4d9d2"/>
<path d="M52.6 96.69L54.02 96.12L55.45 95.62L56.29 92.05L57.14 88.58L55.71 89.28L54.28 90.05L53.44 93.33z" fill="#b3cdfb"/>
<path d="M124.02 101.29L125.45 105.11L126.89 108.96L127.7 108L128.5 107.08L127.08 103.18L125.64 99.32L124.83 100.27z" fill="#abc8fd"/>
<path d="M59.39 72.56L60.81 71.27L62.24 70.08L63.1 67.43L63.96 64.93L62.53 66.24L61.11 67.68L60.25 70.06z" fill="#f3c8b2"/>
<path d="M122.77 91.77L124.21 95.52L125.64 99.32L126.45 98.44L127.26 97.64L125.83 93.83L124.4 90.08L123.58 90.88z" fill="#cbd8ee"/>
<path d="M127.75 130.09L129.18 133.72L129.99 132.88L130.79 132.02L129.36 128.26L128.56 129.18z" fill="#465ecf"/>
<path d="M95.35 38.13L96.83 38.71L98.31 39.47L99.15 39.68L99.99 40.21L98.51 39.53L97.03 39.03L96.19 38.51z" fill="#ba162b"/>
<path d="M54.28 90.05L55.71 89.28L57.14 88.58L57.98 85.21L58.83 81.94L57.4 82.82L55.98 83.78L55.13 86.87z" fill="#cad8ef"/>
<path d="M57.68 77.94L59.1 76.8L60.53 75.77L61.39 72.86L62.24 70.08L60.81 71.27L59.39 72.56L58.53 75.19z" fill="#ead4c8"/>
<path d="M113.11 56.64L114.57 59.23L116.04 61.96L116.85 61.9L117.65 61.98L116.19 59.32L114.73 56.8L113.92 56.65z" fill="#ee8468"/>
<path d="M55.98 83.78L57.4 82.82L58.83 81.94L59.68 78.8L60.53 75.77L59.1 76.8L57.68 77.94L56.83 80.81z" fill="#dcdddd"/>
<path d="M52.11 110.67L53.55 110.62L54.99 110.6L55.82 106.55L56.65 102.56L55.21 102.75L53.78 103L52.94 106.81z" fill="#82a6fb"/>
<path d="M87.73 37.57L89.21 37.41L90.68 37.44L91.54 37.38L92.39 37.52L90.91 37.74L89.44 37.97L88.59 37.51z" fill="#b8122a"/>
<path d="M67.42 56.33L68.85 54.95L70.3 53.71L71.16 51.85L72.03 50.13L70.59 51.43L69.15 52.87L68.28 54.54z" fill="#f08a6c"/>
<path d="M73.77 47.12L75.22 45.93L76.67 44.91L77.54 43.61L78.41 42.49L76.95 43.54L75.5 44.75L74.63 45.85z" fill="#da5a49"/>
<path d="M117.33 68.28L118.79 71.44L120.24 74.72L121.05 74.35L121.85 74.11L120.41 70.9L118.95 67.8L118.15 67.97z" fill="#f7b396"/>
<path d="M55.83 137.71L57.28 138.2L58.74 138.68L59.56 134.06L60.38 129.46L58.93 129.06L57.48 128.68L56.65 133.19z" fill="#3b4cc0"/>
<path d="M98.31 39.47L99.79 40.42L101.28 41.54L102.11 41.72L102.94 42.1L101.46 41.06L99.99 40.21L99.15 39.68z" fill="#bd1f2d"/>
<path d="M53.33 118.85L54.78 119.04L56.22 119.25L57.05 114.95L57.88 110.69L56.43 110.63L54.99 110.6L54.16 114.7z" fill="#6788ee"/>
<path d="M110.16 51.9L111.63 54.2L113.11 56.64L113.92 56.65L114.73 56.8L113.27 54.42L111.8 52.18L110.98 51.96z" fill="#e36b54"/>
<path d="M54.58 127.94L56.03 128.31L57.48 128.68L58.3 124.2L59.13 119.74L57.67 119.48L56.22 119.25L55.4 123.58z" fill="#4961d2"/>
<path d="M83.06 39.25L84.54 38.72L86.01 38.37L86.87 37.86L87.73 37.57L86.26 37.91L84.79 38.43L83.93 38.73z" fill="#bd1f2d"/>
<path d="M78.41 42.49L79.87 41.62L81.34 40.92L82.2 39.98L83.06 39.25L81.6 39.95L80.14 40.83L79.27 41.56z" fill="#cb3e38"/>
<path d="M53.78 103L55.21 102.75L56.65 102.56L57.49 98.64L58.33 94.82L56.89 95.18L55.45 95.62L54.61 99.27z" fill="#a1c0ff"/>
<path d="M107.21 47.78L108.68 49.76L110.16 51.9L110.98 51.96L111.8 52.18L110.33 50.1L108.85 48.17L108.03 47.89z" fill="#d75445"/>
<path d="M101.28 41.54L102.76 42.84L104.24 44.31L105.07 44.47L105.9 44.79L104.42 43.35L102.94 42.1L102.11 41.72z" fill="#c32e31"/>
<path d="M124.87 122.85L126.31 126.47L127.75 130.09L128.56 129.18L129.36 128.26L127.93 124.5L126.5 120.75L125.69 121.8z" fill="#6384eb"/>
<path d="M118.61 75.88L120.06 79.29L121.51 82.8L122.33 82.13L123.13 81.57L121.69 78.1L120.24 74.72L119.43 75.23z" fill="#f3c8b2"/>
<path d="M65.69 60.33L67.12 59.04L68.57 57.88L69.43 55.72L70.3 53.71L68.85 54.95L67.42 56.33L66.55 58.26z" fill="#f4987a"/>
<path d="M123.62 113.29L125.06 117.01L126.5 120.75L127.31 119.71L128.12 118.69L126.69 114.85L125.26 111.03L124.44 112.14z" fill="#85a8fc"/>
<path d="M104.24 44.31L105.73 45.96L107.21 47.78L108.03 47.89L108.85 48.17L107.38 46.4L105.9 44.79L105.07 44.47z" fill="#cc403a"/>
<path d="M122.38 103.5L123.82 107.24L125.26 111.03L126.07 109.97L126.89 108.96L125.45 105.11L124.02 101.29L123.2 102.36z" fill="#a9c6fd"/>
<path d="M119.87 84.5L121.32 88.1L122.77 91.77L123.58 90.88L124.4 90.08L122.96 86.4L121.51 82.8L120.7 83.6z" fill="#e3d9d3"/>
<path d="M121.13 93.82L122.57 97.52L124.02 101.29L124.83 100.27L125.64 99.32L124.21 95.52L122.77 91.77L121.95 92.76z" fill="#cad8ef"/>
<path d="M90.68 37.44L92.17 37.65L93.65 38.05L94.5 37.99L95.35 38.13L93.87 37.74L92.39 37.52L91.54 37.38z" fill="#b40426"/>
<path d="M114.4 62.31L115.87 65.23L117.33 68.28L118.15 67.97L118.95 67.8L117.5 64.82L116.04 61.96L115.22 62.06z" fill="#f4987a"/>
<path d="M55.45 95.62L56.89 95.18L58.33 94.82L59.17 91.08L60.01 87.44L58.57 87.97L57.14 88.58L56.29 92.05z" fill="#bcd2f7"/>
<path d="M126.13 131.93L127.57 135.38L128.38 134.55L129.18 133.72L127.75 130.09L126.94 131.01z" fill="#455cce"/>
<path d="M72.03 50.13L73.48 48.98L74.94 48L75.81 46.38L76.67 44.91L75.22 45.93L73.77 47.12L72.9 48.55z" fill="#e16751"/>
<path d="M54.99 110.6L56.43 110.63L57.88 110.69L58.71 106.48L59.55 102.34L58.1 102.42L56.65 102.56L55.82 106.55z" fill="#88abfd"/>
<path d="M58.74 138.68L60.19 139.14L61.65 139.6L62.47 134.93L63.3 130.28L61.84 129.87L60.38 129.46L59.56 134.06z" fill="#3b4cc0"/>
<path d="M63.96 64.93L65.4 63.73L66.84 62.67L67.7 60.2L68.57 57.88L67.12 59.04L65.69 60.33L64.82 62.56z" fill="#f7a98b"/>
<path d="M57.48 128.68L58.93 129.06L60.38 129.46L61.21 124.9L62.04 120.36L60.58 120.04L59.13 119.74L58.3 124.2z" fill="#4a63d3"/>
<path d="M56.22 119.25L57.67 119.48L59.13 119.74L59.96 115.32L60.79 110.95L59.33 110.8L57.88 110.69L57.05 114.95z" fill="#6a8bef"/>
<path d="M57.14 88.58L58.57 87.97L60.01 87.44L60.86 83.91L61.71 80.49L60.26 81.17L58.83 81.94L57.98 85.21z" fill="#d3dbe7"/>
<path d="M62.24 70.08L63.68 69.01L65.12 68.06L65.98 65.3L66.84 62.67L65.4 63.73L63.96 64.93L63.1 67.43z" fill="#f7ba9f"/>
<path d="M58.83 81.94L60.26 81.17L61.71 80.49L62.56 77.19L63.41 74.01L61.97 74.84L60.53 75.77L59.68 78.8z" fill="#e6d7cf"/>
<path d="M60.53 75.77L61.97 74.84L63.41 74.01L64.26 70.97L65.12 68.06L63.68 69.01L62.24 70.08L61.39 72.86z" fill="#f2cbb7"/>
<path d="M111.46 56.89L112.94 59.53L114.4 62.31L115.22 62.06L116.04 61.96L114.57 59.23L113.11 56.64L112.29 56.68z" fill="#eb7d62"/>
<path d="M76.67 44.91L78.14 44.06L79.6 43.38L80.47 42.06L81.34 40.92L79.87 41.62L78.41 42.49L77.54 43.61z" fill="#cf453c"/>
<path d="M86.01 38.37L87.49 38.21L88.97 38.24L89.83 37.72L90.68 37.44L89.21 37.41L87.73 37.57L86.87 37.86z" fill="#b50927"/>
<path d="M115.69 69.37L117.15 72.57L118.61 75.88L119.43 75.23L120.24 74.72L118.79 71.44L117.33 68.28L116.51 68.75z" fill="#f7b093"/>
<path d="M93.65 38.05L95.14 38.63L96.62 39.4L97.47 39.34L98.31 39.47L96.83 38.71L95.35 38.13L94.5 37.99z" fill="#b40426"/>
<path d="M56.65 102.56L58.1 102.42L59.55 102.34L60.38 98.28L61.22 94.31L59.77 94.52L58.33 94.82L57.49 98.64z" fill="#a7c5fe"/>
<path d="M70.3 53.71L71.75 52.63L73.2 51.7L74.07 49.78L74.94 48L73.48 48.98L72.03 50.13L71.16 51.85z" fill="#e8765c"/>
<path d="M121.97 115.67L123.42 119.25L124.87 122.85L125.69 121.8L126.5 120.75L125.06 117.01L123.62 113.29L122.8 114.47z" fill="#81a4fb"/>
<path d="M123.23 125.03L124.68 128.48L126.13 131.93L126.94 131.01L127.75 130.09L126.31 126.47L124.87 122.85L124.05 123.93z" fill="#5f7fe8"/>
<path d="M61.65 139.6L63.11 140.04L64.57 140.47L65.4 135.79L66.23 131.14L64.77 130.71L63.3 130.28L62.47 134.93z" fill="#3b4cc0"/>
<path d="M81.34 40.92L82.81 40.4L84.28 40.06L85.15 39.11L86.01 38.37L84.54 38.72L83.06 39.25L82.2 39.98z" fill="#be242e"/>
<path d="M120.72 105.97L122.17 109.61L123.62 113.29L124.44 112.14L125.26 111.03L123.82 107.24L122.38 103.5L121.55 104.71z" fill="#a5c3fe"/>
<path d="M116.96 77.59L118.42 81L119.87 84.5L120.7 83.6L121.51 82.8L120.06 79.29L118.61 75.88L117.79 76.67z" fill="#f2c9b4"/>
<path d="M119.48 96.17L120.93 99.81L122.38 103.5L123.2 102.36L124.02 101.29L122.57 97.52L121.13 93.82L120.3 94.96z" fill="#c6d6f1"/>
<path d="M60.38 129.46L61.84 129.87L63.3 130.28L64.13 125.67L64.96 121.09L63.5 120.71L62.04 120.36L61.21 124.9z" fill="#4a63d3"/>
<path d="M57.88 110.69L59.33 110.8L60.79 110.95L61.62 106.62L62.45 102.37L61 102.32L59.55 102.34L58.71 106.48z" fill="#8caffe"/>
<path d="M108.51 52.05L109.99 54.39L111.46 56.89L112.29 56.68L113.11 56.64L111.63 54.2L110.16 51.9L109.34 51.89z" fill="#df634e"/>
<path d="M118.22 86.62L119.68 90.18L121.13 93.82L121.95 92.76L122.77 91.77L121.32 88.1L119.87 84.5L119.05 85.52z" fill="#e1dad6"/>
<path d="M96.62 39.4L98.11 40.36L99.6 41.5L100.44 41.42L101.28 41.54L99.79 40.42L98.31 39.47L97.47 39.34z" fill="#b50927"/>
<path d="M59.13 119.74L60.58 120.04L62.04 120.36L62.87 115.86L63.7 111.4L62.24 111.15L60.79 110.95L59.96 115.32z" fill="#6b8df0"/>
<path d="M58.33 94.82L59.77 94.52L61.22 94.31L62.06 90.43L62.91 86.65L61.46 87L60.01 87.44L59.17 91.08z" fill="#c4d5f3"/>
<path d="M124.5 133.78L125.95 137.03L126.76 136.21L127.57 135.38L126.13 131.93L125.31 132.86z" fill="#445acc"/>
<path d="M68.57 57.88L70.02 56.87L71.47 56L72.34 53.77L73.2 51.7L71.75 52.63L70.3 53.71L69.43 55.72z" fill="#ee8669"/>
<path d="M105.54 47.85L107.03 49.87L108.51 52.05L109.34 51.89L110.16 51.9L108.68 49.76L107.21 47.78L106.38 47.72z" fill="#d1493f"/>
<path d="M99.6 41.5L101.09 42.82L102.57 44.32L103.41 44.22L104.24 44.31L102.76 42.84L101.28 41.54L100.44 41.42z" fill="#bb1b2c"/>
<path d="M112.75 63.35L114.22 66.3L115.69 69.37L116.51 68.75L117.33 68.28L115.87 65.23L114.4 62.31L113.58 62.74z" fill="#f39577"/>
<path d="M102.57 44.32L104.06 46L105.54 47.85L106.38 47.72L107.21 47.78L105.73 45.96L104.24 44.31L103.41 44.22z" fill="#c53334"/>
<path d="M74.94 48L76.4 47.18L77.87 46.53L78.74 44.87L79.6 43.38L78.14 44.06L76.67 44.91L75.81 46.38z" fill="#d65244"/>
<path d="M88.97 38.24L90.45 38.45L91.94 38.85L92.8 38.33L93.65 38.05L92.17 37.65L90.68 37.44L89.83 37.72z" fill="#b40426"/>
<path d="M64.57 140.47L66.03 140.89L67.5 141.31L68.33 136.65L69.17 132.03L67.7 131.58L66.23 131.14L65.4 135.79z" fill="#3b4cc0"/>
<path d="M60.01 87.44L61.46 87L62.91 86.65L63.75 82.98L64.6 79.43L63.15 79.91L61.71 80.49L60.86 83.91z" fill="#dadce0"/>
<path d="M66.84 62.67L68.29 61.75L69.75 60.96L70.61 58.4L71.47 56L70.02 56.87L68.57 57.88L67.7 60.2z" fill="#f49a7b"/>
<path d="M59.55 102.34L61 102.32L62.45 102.37L63.29 98.19L64.13 94.1L62.68 94.16L61.22 94.31L60.38 98.28z" fill="#adc9fd"/>
<path d="M63.3 130.28L64.77 130.71L66.23 131.14L67.06 126.52L67.9 121.93L66.43 121.49L64.96 121.09L64.13 125.67z" fill="#4b64d5"/>
<path d="M61.71 80.49L63.15 79.91L64.6 79.43L65.46 76.01L66.31 72.72L64.86 73.31L63.41 74.01L62.56 77.19z" fill="#edd2c3"/>
<path d="M120.32 118.19L121.77 121.6L123.23 125.03L124.05 123.93L124.87 122.85L123.42 119.25L121.97 115.67L121.15 116.91z" fill="#7da0f9"/>
<path d="M65.12 68.06L66.57 67.24L68.02 66.55L68.88 63.68L69.75 60.96L68.29 61.75L66.84 62.67L65.98 65.3z" fill="#f7ad90"/>
<path d="M79.6 43.38L81.08 42.87L82.55 42.54L83.42 41.21L84.28 40.06L82.81 40.4L81.34 40.92L80.47 42.06z" fill="#c43032"/>
<path d="M114.03 71.09L115.5 74.28L116.96 77.59L117.79 76.67L118.61 75.88L117.15 72.57L115.69 69.37L114.86 70.16z" fill="#f7b194"/>
<path d="M119.06 108.62L120.52 112.13L121.97 115.67L122.8 114.47L123.62 113.29L122.17 109.61L120.72 105.97L119.89 107.27z" fill="#9fbfff"/>
<path d="M84.28 40.06L85.76 39.9L87.25 39.93L88.11 38.98L88.97 38.24L87.49 38.21L86.01 38.37L85.15 39.11z" fill="#b70d28"/>
<path d="M63.41 74.01L64.86 73.31L66.31 72.72L67.17 69.56L68.02 66.55L66.57 67.24L65.12 68.06L64.26 70.97z" fill="#f5c1a9"/>
<path d="M121.58 127.29L123.04 130.53L124.5 133.78L125.31 132.86L126.13 131.93L124.68 128.48L123.23 125.03L122.41 126.15z" fill="#5d7ce6"/>
<path d="M62.04 120.36L63.5 120.71L64.96 121.09L65.8 116.54L66.64 112.03L65.17 111.69L63.7 111.4L62.87 115.86z" fill="#6c8ff1"/>
<path d="M60.79 110.95L62.24 111.15L63.7 111.4L64.54 106.99L65.38 102.65L63.91 102.47L62.45 102.37L61.62 106.62z" fill="#8fb1fe"/>
<path d="M117.81 98.84L119.27 102.38L120.72 105.97L121.55 104.71L122.38 103.5L120.93 99.81L119.48 96.17L118.64 97.47z" fill="#c1d4f4"/>
<path d="M109.8 57.87L111.28 60.54L112.75 63.35L113.58 62.74L114.4 62.31L112.94 59.53L111.46 56.89L110.63 57.28z" fill="#e97a5f"/>
<path d="M115.3 79.78L116.76 83.15L118.22 86.62L119.05 85.52L119.87 84.5L118.42 81L116.96 77.59L116.13 78.63z" fill="#f2cbb7"/>
<path d="M116.56 89.12L118.02 92.61L119.48 96.17L120.3 94.96L121.13 93.82L119.68 90.18L118.22 86.62L117.39 87.83z" fill="#dddcdc"/>
<path d="M91.94 38.85L93.43 39.44L94.92 40.22L95.77 39.69L96.62 39.4L95.14 38.63L93.65 38.05L92.8 38.33z" fill="#b40426"/>
<path d="M73.2 51.7L74.67 50.92L76.13 50.31L77 48.35L77.87 46.53L76.4 47.18L74.94 48L74.07 49.78z" fill="#df634e"/>
<path d="M61.22 94.31L62.68 94.16L64.13 94.1L64.98 90.11L65.82 86.23L64.36 86.39L62.91 86.65L62.06 90.43z" fill="#cad8ef"/>
<path d="M67.5 141.31L68.96 141.72L70.43 142.14L71.27 137.55L72.11 132.99L70.64 132.51L69.17 132.03L68.33 136.65z" fill="#3b4cc0"/>
<path d="M122.86 135.65L124.32 138.66L125.14 137.85L125.95 137.03L124.5 133.78L123.68 134.71z" fill="#4358cb"/>
<path d="M66.23 131.14L67.7 131.58L69.17 132.03L70.01 127.44L70.85 122.89L69.37 122.39L67.9 121.93L67.06 126.52z" fill="#4b64d5"/>
<path d="M106.84 52.99L108.32 55.35L109.8 57.87L110.63 57.28L111.46 56.89L109.99 54.39L108.51 52.05L107.68 52.42z" fill="#dd5f4b"/>
<path d="M94.92 40.22L96.41 41.18L97.9 42.33L98.75 41.8L99.6 41.5L98.11 40.36L96.62 39.4L95.77 39.69z" fill="#b40426"/>
<path d="M62.45 102.37L63.91 102.47L65.38 102.65L66.22 98.39L67.06 94.22L65.6 94.12L64.13 94.1L63.29 98.19z" fill="#b1cbfc"/>
<path d="M111.08 65.07L112.56 68.01L114.03 71.09L114.86 70.16L115.69 69.37L114.22 66.3L112.75 63.35L111.92 64.13z" fill="#f39778"/>
<path d="M71.47 56L72.93 55.29L74.4 54.73L75.27 52.43L76.13 50.31L74.67 50.92L73.2 51.7L72.34 53.77z" fill="#e8765c"/>
<path d="M64.96 121.09L66.43 121.49L67.9 121.93L68.74 117.37L69.58 112.85L68.11 112.42L66.64 112.03L65.8 116.54z" fill="#6e90f2"/>
<path d="M62.91 86.65L64.36 86.39L65.82 86.23L66.67 82.46L67.52 78.8L66.06 79.06L64.6 79.43L63.75 82.98z" fill="#e0dbd8"/>
<path d="M77.87 46.53L79.34 46.05L80.82 45.74L81.69 44.06L82.55 42.54L81.08 42.87L79.6 43.38L78.74 44.87z" fill="#cc403a"/>
<path d="M87.25 39.93L88.73 40.15L90.22 40.55L91.08 39.59L91.94 38.85L90.45 38.45L88.97 38.24L88.11 38.98z" fill="#b40426"/>
<path d="M63.7 111.4L65.17 111.69L66.64 112.03L67.48 107.58L68.32 103.19L66.85 102.89L65.38 102.65L64.54 106.99z" fill="#90b2fe"/>
<path d="M103.86 48.74L105.35 50.78L106.84 52.99L107.68 52.42L108.51 52.05L107.03 49.87L105.54 47.85L104.71 48.19z" fill="#d0473d"/>
<path d="M117.39 111.48L118.86 114.82L120.32 118.19L121.15 116.91L121.97 115.67L120.52 112.13L119.06 108.62L118.23 110.02z" fill="#98b9ff"/>
<path d="M118.65 120.86L120.12 124.07L121.58 127.29L122.41 126.15L123.23 125.03L121.77 121.6L120.32 118.19L119.49 119.51z" fill="#779af7"/>
<path d="M97.9 42.33L99.39 43.66L100.89 45.18L101.73 44.64L102.57 44.32L101.09 42.82L99.6 41.5L98.75 41.8z" fill="#b8122a"/>
<path d="M116.14 101.76L117.6 105.16L119.06 108.62L119.89 107.27L120.72 105.97L119.27 102.38L117.81 98.84L116.97 100.27z" fill="#bbd1f8"/>
<path d="M100.89 45.18L102.38 46.88L103.86 48.74L104.71 48.19L105.54 47.85L104.06 46L102.57 44.32L101.73 44.64z" fill="#c32e31"/>
<path d="M82.55 42.54L84.03 42.4L85.52 42.43L86.38 41.09L87.25 39.93L85.76 39.9L84.28 40.06L83.42 41.21z" fill="#bb1b2c"/>
<path d="M112.36 73.35L113.83 76.51L115.3 79.78L116.13 78.63L116.96 77.59L115.5 74.28L114.03 71.09L113.2 72.15z" fill="#f7b599"/>
<path d="M70.43 142.14L71.9 142.54L73.38 142.93L74.22 138.44L75.07 133.99L73.59 133.49L72.11 132.99L71.27 137.55z" fill="#3b4cc0"/>
<path d="M69.75 60.96L71.21 60.32L72.67 59.82L73.54 57.19L74.4 54.73L72.93 55.29L71.47 56L70.61 58.4z" fill="#f08b6e"/>
<path d="M64.6 79.43L66.06 79.06L67.52 78.8L68.38 75.28L69.23 71.9L67.77 72.25L66.31 72.72L65.46 76.01z" fill="#f1cdba"/>
<path d="M119.92 129.64L121.39 132.64L122.86 135.65L123.68 134.71L124.5 133.78L123.04 130.53L121.58 127.29L120.75 128.45z" fill="#5a78e4"/>
<path d="M114.88 91.98L116.35 95.38L117.81 98.84L118.64 97.47L119.48 96.17L118.02 92.61L116.56 89.12L115.72 90.51z" fill="#d9dce1"/>
<path d="M113.62 82.41L115.09 85.72L116.56 89.12L117.39 87.83L118.22 86.62L116.76 83.15L115.3 79.78L114.46 81.04z" fill="#efcebd"/>
<path d="M66.31 72.72L67.77 72.25L69.23 71.9L70.09 68.65L70.95 65.56L69.48 65.98L68.02 66.55L67.17 69.56z" fill="#f7b89c"/>
<path d="M68.02 66.55L69.48 65.98L70.95 65.56L71.81 62.61L72.67 59.82L71.21 60.32L69.75 60.96L68.88 63.68z" fill="#f6a283"/>
<path d="M69.17 132.03L70.64 132.51L72.11 132.99L72.96 128.47L73.8 123.98L72.32 123.41L70.85 122.89L70.01 127.44z" fill="#4b64d5"/>
<path d="M64.13 94.1L65.6 94.12L67.06 94.22L67.91 90.16L68.76 86.2L67.29 86.17L65.82 86.23L64.98 90.11z" fill="#cedaeb"/>
<path d="M108.12 59.59L109.61 62.26L111.08 65.07L111.92 64.13L112.75 63.35L111.28 60.54L109.8 57.87L108.96 58.64z" fill="#ea7b60"/>
<path d="M76.13 50.31L77.61 49.87L79.08 49.59L79.95 47.59L80.82 45.74L79.34 46.05L77.87 46.53L77 48.35z" fill="#d65244"/>
<path d="M67.9 121.93L69.37 122.39L70.85 122.89L71.69 118.36L72.53 113.87L71.06 113.34L69.58 112.85L68.74 117.37z" fill="#6e90f2"/>
<path d="M90.22 40.55L91.71 41.14L93.21 41.92L94.06 40.96L94.92 40.22L93.43 39.44L91.94 38.85L91.08 39.59z" fill="#b40426"/>
<path d="M65.38 102.65L66.85 102.89L68.32 103.19L69.16 98.89L70.01 94.68L68.53 94.41L67.06 94.22L66.22 98.39z" fill="#b3cdfb"/>
<path d="M66.64 112.03L68.11 112.42L69.58 112.85L70.42 108.39L71.27 104L69.79 103.56L68.32 103.19L67.48 107.58z" fill="#92b4fe"/>
<path d="M121.21 137.56L122.68 140.29L123.5 139.48L124.32 138.66L122.86 135.65L122.03 136.6z" fill="#4257c9"/>
<path d="M115.71 114.54L117.18 117.68L118.65 120.86L119.49 119.51L120.32 118.19L118.86 114.82L117.39 111.48L116.55 112.99z" fill="#92b4fe"/>
<path d="M73.38 142.93L74.85 143.3L76.33 143.67L77.18 139.33L78.03 135.02L76.55 134.5L75.07 133.99L74.22 138.44z" fill="#3b4cc0"/>
<path d="M109.4 67.39L110.88 70.3L112.36 73.35L113.2 72.15L114.03 71.09L112.56 68.01L111.08 65.07L110.25 66.16z" fill="#f59c7d"/>
<path d="M65.82 86.23L67.29 86.17L68.76 86.2L69.61 82.35L70.46 78.63L68.99 78.66L67.52 78.8L66.67 82.46z" fill="#e5d8d1"/>
<path d="M105.15 54.71L106.64 57.07L108.12 59.59L108.96 58.64L109.8 57.87L108.32 55.35L106.84 52.99L106 53.75z" fill="#de614d"/>
<path d="M80.82 45.74L82.3 45.61L83.79 45.66L84.65 43.96L85.52 42.43L84.03 42.4L82.55 42.54L81.69 44.06z" fill="#c53334"/>
<path d="M114.45 104.95L115.92 108.19L117.39 111.48L118.23 110.02L119.06 108.62L117.6 105.16L116.14 101.76L115.3 103.32z" fill="#b3cdfb"/>
<path d="M85.52 42.43L87.01 42.66L88.5 43.06L89.36 41.71L90.22 40.55L88.73 40.15L87.25 39.93L86.38 41.09z" fill="#b70d28"/>
<path d="M116.98 123.67L118.45 126.64L119.92 129.64L120.75 128.45L121.58 127.29L120.12 124.07L118.65 120.86L117.82 122.25z" fill="#7295f4"/>
<path d="M72.11 132.99L73.59 133.49L75.07 133.99L75.92 129.58L76.77 125.19L75.28 124.57L73.8 123.98L72.96 128.47z" fill="#4b64d5"/>
<path d="M93.21 41.92L94.7 42.89L96.19 44.04L97.05 43.08L97.9 42.33L96.41 41.18L94.92 40.22L94.06 40.96z" fill="#b40426"/>
<path d="M113.2 95.15L114.67 98.42L116.14 101.76L116.97 100.27L117.81 98.84L116.35 95.38L114.88 91.98L114.04 93.53z" fill="#d3dbe7"/>
<path d="M74.4 54.73L75.87 54.33L77.35 54.09L78.22 51.75L79.08 49.59L77.61 49.87L76.13 50.31L75.27 52.43z" fill="#e16751"/>
<path d="M110.67 76.09L112.15 79.2L113.62 82.41L114.46 81.04L115.3 79.78L113.83 76.51L112.36 73.35L111.52 74.66z" fill="#f7ba9f"/>
<path d="M111.94 85.45L113.41 88.67L114.88 91.98L115.72 90.51L116.56 89.12L115.09 85.72L113.62 82.41L112.78 83.88z" fill="#ebd3c6"/>
<path d="M70.85 122.89L72.32 123.41L73.8 123.98L74.65 119.52L75.5 115.1L74.01 114.46L72.53 113.87L71.69 118.36z" fill="#6e90f2"/>
<path d="M102.17 50.46L103.66 52.5L105.15 54.71L106 53.75L106.84 52.99L105.35 50.78L103.86 48.74L103.02 49.5z" fill="#d1493f"/>
<path d="M67.52 78.8L68.99 78.66L70.46 78.63L71.32 75.04L72.17 71.59L70.7 71.68L69.23 71.9L68.38 75.28z" fill="#f3c7b1"/>
<path d="M118.26 132.07L119.74 134.81L121.21 137.56L122.03 136.6L122.86 135.65L121.39 132.64L119.92 129.64L119.09 130.84z" fill="#5673e0"/>
<path d="M96.19 44.04L97.69 45.38L99.18 46.9L100.04 45.94L100.89 45.18L99.39 43.66L97.9 42.33L97.05 43.08z" fill="#ba162b"/>
<path d="M67.06 94.22L68.53 94.41L70.01 94.68L70.86 90.57L71.71 86.56L70.23 86.33L68.76 86.2L67.91 90.16z" fill="#d1dae9"/>
<path d="M99.18 46.9L100.68 48.59L102.17 50.46L103.02 49.5L103.86 48.74L102.38 46.88L100.89 45.18L100.04 45.94z" fill="#c43032"/>
<path d="M72.67 59.82L74.14 59.47L75.62 59.27L76.48 56.6L77.35 54.09L75.87 54.33L74.4 54.73L73.54 57.19z" fill="#ec7f63"/>
<path d="M69.58 112.85L71.06 113.34L72.53 113.87L73.38 109.44L74.23 105.07L72.75 104.5L71.27 104L70.42 108.39z" fill="#93b5fe"/>
<path d="M68.32 103.19L69.79 103.56L71.27 104L72.11 99.68L72.96 95.46L71.48 95.03L70.01 94.68L69.16 98.89z" fill="#b5cdfa"/>
<path d="M69.23 71.9L70.7 71.68L72.17 71.59L73.03 68.28L73.89 65.12L72.42 65.27L70.95 65.56L70.09 68.65z" fill="#f7b194"/>
<path d="M70.95 65.56L72.42 65.27L73.89 65.12L74.76 62.12L75.62 59.27L74.14 59.47L72.67 59.82L71.81 62.61z" fill="#f4987a"/>
<path d="M106.43 61.96L107.92 64.61L109.4 67.39L110.25 66.16L111.08 65.07L109.61 62.26L108.12 59.59L107.28 60.7z" fill="#ec8165"/>
<path d="M79.08 49.59L80.57 49.49L82.05 49.55L82.92 47.53L83.79 45.66L82.3 45.61L80.82 45.74L79.95 47.59z" fill="#d0473d"/>
<path d="M88.5 43.06L89.99 43.66L91.48 44.44L92.35 43.08L93.21 41.92L91.71 41.14L90.22 40.55L89.36 41.71z" fill="#b70d28"/>
<path d="M76.33 143.67L77.81 144.03L79.29 144.39L80.15 140.23L81 136.1L79.52 135.55L78.03 135.02L77.18 139.33z" fill="#3b4cc0"/>
<path d="M75.07 133.99L76.55 134.5L78.03 135.02L78.88 130.74L79.74 126.5L78.25 125.83L76.77 125.19L75.92 129.58z" fill="#4b64d5"/>
<path d="M112.76 108.4L114.24 111.45L115.71 114.54L116.55 112.99L117.39 111.48L115.92 108.19L114.45 104.95L113.61 106.64z" fill="#aac7fd"/>
<path d="M114.02 117.81L115.5 120.72L116.98 123.67L117.82 122.25L118.65 120.86L117.18 117.68L115.71 114.54L114.87 116.15z" fill="#89acfd"/>
<path d="M83.79 45.66L85.28 45.89L86.77 46.31L87.63 44.6L88.5 43.06L87.01 42.66L85.52 42.43L84.65 43.96z" fill="#c12b30"/>
<path d="M111.5 98.66L112.98 101.77L114.45 104.95L115.3 103.32L116.14 101.76L114.67 98.42L113.2 95.15L112.35 96.86z" fill="#cbd8ee"/>
<path d="M68.76 86.2L70.23 86.33L71.71 86.56L72.56 82.67L73.42 78.91L71.94 78.71L70.46 78.63L69.61 82.35z" fill="#e8d6cc"/>
<path d="M107.71 70.25L109.19 73.11L110.67 76.09L111.52 74.66L112.36 73.35L110.88 70.3L109.4 67.39L108.56 68.75z" fill="#f6a385"/>
<path d="M73.8 123.98L75.28 124.57L76.77 125.19L77.62 120.83L78.47 116.51L76.98 115.78L75.5 115.1L74.65 119.52z" fill="#6c8ff1"/>
<path d="M110.24 88.86L111.72 91.96L113.2 95.15L114.04 93.53L114.88 91.98L113.41 88.67L111.94 85.45L111.09 87.11z" fill="#e6d7cf"/>
<path d="M115.3 126.62L116.78 129.33L118.26 132.07L119.09 130.84L119.92 129.64L118.45 126.64L116.98 123.67L116.14 125.13z" fill="#6b8df0"/>
<path d="M108.98 79.31L110.46 82.33L111.94 85.45L112.78 83.88L113.62 82.41L112.15 79.2L110.67 76.09L109.83 77.65z" fill="#f5c1a9"/>
<path d="M119.56 139.49L121.04 141.93L121.86 141.11L122.68 140.29L121.21 137.56L120.38 138.52z" fill="#4055c8"/>
<path d="M103.45 57.12L104.94 59.47L106.43 61.96L107.28 60.7L108.12 59.59L106.64 57.07L105.15 54.71L104.3 55.83z" fill="#e26952"/>
<path d="M72.53 113.87L74.01 114.46L75.5 115.1L76.35 110.73L77.2 106.42L75.71 105.71L74.23 105.07L73.38 109.44z" fill="#92b4fe"/>
<path d="M77.35 54.09L78.83 54.01L80.32 54.1L81.18 51.74L82.05 49.55L80.57 49.49L79.08 49.59L78.22 51.75z" fill="#dc5d4a"/>
<path d="M91.48 44.44L92.98 45.4L94.48 46.55L95.34 45.2L96.19 44.04L94.7 42.89L93.21 41.92L92.35 43.08z" fill="#ba162b"/>
<path d="M70.01 94.68L71.48 95.03L72.96 95.46L73.82 91.34L74.67 87.33L73.19 86.9L71.71 86.56L70.86 90.57z" fill="#d3dbe7"/>
<path d="M71.27 104L72.75 104.5L74.23 105.07L75.08 100.79L75.93 96.59L74.45 95.98L72.96 95.46L72.11 99.68z" fill="#b6cefa"/>
<path d="M70.46 78.63L71.94 78.71L73.42 78.91L74.27 75.28L75.13 71.79L73.65 71.62L72.17 71.59L71.32 75.04z" fill="#f5c4ac"/>
<path d="M100.47 52.92L101.96 54.94L103.45 57.12L104.3 55.83L105.15 54.71L103.66 52.5L102.17 50.46L101.32 51.6z" fill="#d55042"/>
<path d="M78.03 135.02L79.52 135.55L81 136.1L81.86 132L82.72 127.93L81.23 127.2L79.74 126.5L78.88 130.74z" fill="#4a63d3"/>
<path d="M94.48 46.55L95.98 47.87L97.47 49.38L98.33 48.05L99.18 46.9L97.69 45.38L96.19 44.04L95.34 45.2z" fill="#c0282f"/>
<path d="M116.58 134.58L118.07 137.04L119.56 139.49L120.38 138.52L121.21 137.56L119.74 134.81L118.26 132.07L117.42 133.31z" fill="#516ddb"/>
<path d="M79.29 144.39L80.78 144.76L82.27 145.13L83.12 141.18L83.98 137.25L82.49 136.67L81 136.1L80.15 140.23z" fill="#3b4cc0"/>
<path d="M75.62 59.27L77.1 59.23L78.58 59.34L79.45 56.64L80.32 54.1L78.83 54.01L77.35 54.09L76.48 56.6z" fill="#e8765c"/>
<path d="M97.47 49.38L98.97 51.06L100.47 52.92L101.32 51.6L102.17 50.46L100.68 48.59L99.18 46.9L98.33 48.05z" fill="#ca3b37"/>
<path d="M76.77 125.19L78.25 125.83L79.74 126.5L80.59 122.28L81.45 118.1L79.96 117.28L78.47 116.51L77.62 120.83z" fill="#6b8df0"/>
<path d="M72.17 71.59L73.65 71.62L75.13 71.79L75.99 68.45L76.86 65.25L75.37 65.12L73.89 65.12L73.03 68.28z" fill="#f7ac8e"/>
<path d="M104.73 64.92L106.22 67.52L107.71 70.25L108.56 68.75L109.4 67.39L107.92 64.61L106.43 61.96L105.58 63.37z" fill="#f08b6e"/>
<path d="M82.05 49.55L83.54 49.8L85.03 50.21L85.9 48.18L86.77 46.31L85.28 45.89L83.79 45.66L82.92 47.53z" fill="#cc403a"/>
<path d="M86.77 46.31L88.26 46.9L89.76 47.67L90.62 45.97L91.48 44.44L89.99 43.66L88.5 43.06L87.63 44.6z" fill="#c0282f"/>
<path d="M111.06 112.12L112.54 114.94L114.02 117.81L114.87 116.15L115.71 114.54L114.24 111.45L112.76 108.4L111.91 110.23z" fill="#a1c0ff"/>
<path d="M73.89 65.12L75.37 65.12L76.86 65.25L77.72 62.22L78.58 59.34L77.1 59.23L75.62 59.27L74.76 62.12z" fill="#f29072"/>
<path d="M109.8 102.49L111.28 105.41L112.76 108.4L113.61 106.64L114.45 104.95L112.98 101.77L111.5 98.66L110.65 100.53z" fill="#c1d4f4"/>
<path d="M112.33 121.27L113.81 123.93L115.3 126.62L116.14 125.13L116.98 123.67L115.5 120.72L114.02 117.81L113.18 119.52z" fill="#80a3fa"/>
<path d="M108.53 92.67L110.02 95.62L111.5 98.66L112.35 96.86L113.2 95.15L111.72 91.96L110.24 88.86L109.39 90.71z" fill="#dedcdb"/>
<path d="M75.5 115.1L76.98 115.78L78.47 116.51L79.33 112.24L80.18 108.04L78.69 107.2L77.2 106.42L76.35 110.73z" fill="#90b2fe"/>
<path d="M71.71 86.56L73.19 86.9L74.67 87.33L75.53 83.43L76.38 79.66L74.9 79.22L73.42 78.91L72.56 82.67z" fill="#ead5c9"/>
<path d="M106 73.62L107.49 76.41L108.98 79.31L109.83 77.65L110.67 76.09L109.19 73.11L107.71 70.25L106.86 71.87z" fill="#f7ac8e"/>
<path d="M107.27 82.95L108.76 85.85L110.24 88.86L111.09 87.11L111.94 85.45L110.46 82.33L108.98 79.31L108.12 81.07z" fill="#f2cab5"/>
<path d="M74.23 105.07L75.71 105.71L77.2 106.42L78.06 102.2L78.91 98.06L77.42 97.28L75.93 96.59L75.08 100.79z" fill="#b5cdfa"/>
<path d="M72.96 95.46L74.45 95.98L75.93 96.59L76.79 92.5L77.65 88.51L76.16 87.87L74.67 87.33L73.82 91.34z" fill="#d3dbe7"/>
<path d="M113.61 129.71L115.1 132.14L116.58 134.58L117.42 133.31L118.26 132.07L116.78 129.33L115.3 126.62L114.45 128.15z" fill="#6485ec"/>
<path d="M101.74 60.17L103.24 62.47L104.73 64.92L105.58 63.37L106.43 61.96L104.94 59.47L103.45 57.12L102.6 58.57z" fill="#e67259"/>
<path d="M89.76 47.67L91.25 48.63L92.75 49.76L93.62 48.07L94.48 46.55L92.98 45.4L91.48 44.44L90.62 45.97z" fill="#c32e31"/>
<path d="M80.32 54.1L81.81 54.36L83.3 54.78L84.17 52.41L85.03 50.21L83.54 49.8L82.05 49.55L81.18 51.74z" fill="#d95847"/>
<path d="M81 136.1L82.49 136.67L83.98 137.25L84.85 133.36L85.71 129.49L84.21 128.69L82.72 127.93L81.86 132z" fill="#4a63d3"/>
<path d="M79.74 126.5L81.23 127.2L82.72 127.93L83.58 123.88L84.44 119.88L82.95 118.96L81.45 118.1L80.59 122.28z" fill="#6a8bef"/>
<path d="M73.42 78.91L74.9 79.22L76.38 79.66L77.24 76.02L78.11 72.52L76.62 72.09L75.13 71.79L74.27 75.28z" fill="#f5c1a9"/>
<path d="M82.27 145.13L83.75 145.51L85.25 145.89L86.11 142.17L86.97 138.48L85.48 137.86L83.98 137.25L83.12 141.18z" fill="#3b4cc0"/>
<path d="M85.03 50.21L86.53 50.81L88.02 51.57L88.89 49.54L89.76 47.67L88.26 46.9L86.77 46.31L85.9 48.18z" fill="#cb3e38"/>
<path d="M108.09 106.64L109.57 109.35L111.06 112.12L111.91 110.23L112.76 108.4L111.28 105.41L109.8 102.49L108.94 104.52z" fill="#b6cefa"/>
<path d="M78.47 116.51L79.96 117.28L81.45 118.1L82.31 113.97L83.17 109.9L81.68 108.94L80.18 108.04L79.33 112.24z" fill="#8fb1fe"/>
<path d="M109.35 116.08L110.84 118.66L112.33 121.27L113.18 119.52L114.02 117.81L112.54 114.94L111.06 112.12L110.21 114.07z" fill="#96b7ff"/>
<path d="M98.75 56.03L100.25 58.02L101.74 60.17L102.6 58.57L103.45 57.12L101.96 54.94L100.47 52.92L99.61 54.4z" fill="#dc5d4a"/>
<path d="M117.89 141.46L119.38 143.57L120.21 142.75L121.04 141.93L119.56 139.49L118.72 140.47z" fill="#3f53c6"/>
<path d="M92.75 49.76L94.25 51.07L95.75 52.55L96.61 50.89L97.47 49.38L95.98 47.87L94.48 46.55L93.62 48.07z" fill="#c83836"/>
<path d="M106.82 96.86L108.31 99.63L109.8 102.49L110.65 100.53L111.5 98.66L110.02 95.62L108.53 92.67L107.68 94.71z" fill="#d5dbe5"/>
<path d="M103.02 68.43L104.51 70.96L106 73.62L106.86 71.87L107.71 70.25L106.22 67.52L104.73 64.92L103.88 66.61z" fill="#f39778"/>
<path d="M78.58 59.34L80.07 59.61L81.56 60.04L82.43 57.32L83.3 54.78L81.81 54.36L80.32 54.1L79.45 56.64z" fill="#e67259"/>
<path d="M75.13 71.79L76.62 72.09L78.11 72.52L78.97 69.17L79.83 65.97L78.34 65.54L76.86 65.25L75.99 68.45z" fill="#f7a889"/>
<path d="M95.75 52.55L97.25 54.21L98.75 56.03L99.61 54.4L100.47 52.92L98.97 51.06L97.47 49.38L96.61 50.89z" fill="#d1493f"/>
<path d="M77.2 106.42L78.69 107.2L80.18 108.04L81.04 103.91L81.9 99.87L80.41 98.93L78.91 98.06L78.06 102.2z" fill="#b2ccfb"/>
<path d="M105.56 87.03L107.05 89.8L108.53 92.67L109.39 90.71L110.24 88.86L108.76 85.85L107.27 82.95L106.41 84.93z" fill="#edd2c3"/>
<path d="M110.63 124.92L112.12 127.3L113.61 129.71L114.45 128.15L115.3 126.62L113.81 123.93L112.33 121.27L111.48 123.08z" fill="#7699f6"/>
<path d="M74.67 87.33L76.16 87.87L77.65 88.51L78.5 84.63L79.37 80.88L77.87 80.21L76.38 79.66L75.53 83.43z" fill="#ead5c9"/>
<path d="M104.29 77.46L105.78 80.15L107.27 82.95L108.12 81.07L108.98 79.31L107.49 76.41L106 73.62L105.15 75.48z" fill="#f7b89c"/>
<path d="M76.86 65.25L78.34 65.54L79.83 65.97L80.7 62.92L81.56 60.04L80.07 59.61L78.58 59.34L77.72 62.22z" fill="#f18d6f"/>
<path d="M75.93 96.59L77.42 97.28L78.91 98.06L79.77 94.03L80.63 90.1L79.14 89.25L77.65 88.51L76.79 92.5z" fill="#d2dbe8"/>
<path d="M114.9 137.18L116.4 139.32L117.89 141.46L118.72 140.47L119.56 139.49L118.07 137.04L116.58 134.58L115.75 135.87z" fill="#4e68d8"/>
<path d="M82.72 127.93L84.21 128.69L85.71 129.49L86.57 125.65L87.43 121.85L85.94 120.84L84.44 119.88L83.58 123.88z" fill="#6788ee"/>
<path d="M83.98 137.25L85.48 137.86L86.97 138.48L87.84 134.82L88.7 131.19L87.2 130.33L85.71 129.49L84.85 133.36z" fill="#4961d2"/>
<path d="M81.45 118.1L82.95 118.96L84.44 119.88L85.3 115.92L86.17 112.01L84.67 110.93L83.17 109.9L82.31 113.97z" fill="#8badfd"/>
<path d="M88.02 51.57L89.52 52.51L91.02 53.63L91.89 51.62L92.75 49.76L91.25 48.63L89.76 47.67L88.89 49.54z" fill="#cd423b"/>
<path d="M83.3 54.78L84.79 55.37L86.29 56.12L87.16 53.76L88.02 51.57L86.53 50.81L85.03 50.21L84.17 52.41z" fill="#d85646"/>
<path d="M100.03 63.8L101.52 66.05L103.02 68.43L103.88 66.61L104.73 64.92L103.24 62.47L101.74 60.17L100.89 61.92z" fill="#ec8165"/>
<path d="M106.37 111.08L107.86 113.56L109.35 116.08L110.21 114.07L111.06 112.12L109.57 109.35L108.09 106.64L107.23 108.82z" fill="#a9c6fd"/>
<path d="M76.38 79.66L77.87 80.21L79.37 80.88L80.23 77.26L81.09 73.78L79.6 73.09L78.11 72.52L77.24 76.02z" fill="#f5c0a7"/>
<path d="M105.1 101.41L106.59 103.99L108.09 106.64L108.94 104.52L109.8 102.49L108.31 99.63L106.82 96.86L105.96 99.09z" fill="#c9d7f0"/>
<path d="M111.91 132.91L113.41 135.04L114.9 137.18L115.75 135.87L116.58 134.58L115.1 132.14L113.61 129.71L112.76 131.3z" fill="#5d7ce6"/>
<path d="M80.18 108.04L81.68 108.94L83.17 109.9L84.03 105.91L84.9 102L83.4 100.89L81.9 99.87L81.04 103.91z" fill="#afcafc"/>
<path d="M107.64 120.28L109.13 122.59L110.63 124.92L111.48 123.08L112.33 121.27L110.84 118.66L109.35 116.08L108.5 118.16z" fill="#88abfd"/>
<path d="M85.25 145.89L86.74 146.26L88.24 146.64L89.1 143.18L89.97 139.76L88.47 139.11L86.97 138.48L86.11 142.17z" fill="#3b4cc0"/>
<path d="M103.84 91.56L105.33 94.16L106.82 96.86L107.68 94.71L108.53 92.67L107.05 89.8L105.56 87.03L104.7 89.24z" fill="#e4d9d2"/>
<path d="M101.3 72.46L102.8 74.9L104.29 77.46L105.15 75.48L106 73.62L104.51 70.96L103.02 68.43L102.16 70.38z" fill="#f6a385"/>
<path d="M91.02 53.63L92.52 54.91L94.03 56.37L94.89 54.39L95.75 52.55L94.25 51.07L92.75 49.76L91.89 51.62z" fill="#d24b40"/>
<path d="M78.91 98.06L80.41 98.93L81.9 99.87L82.76 95.93L83.63 92.09L82.13 91.04L80.63 90.1L79.77 94.03z" fill="#cfdaea"/>
<path d="M97.03 59.77L98.53 61.71L100.03 63.8L100.89 61.92L101.74 60.17L100.25 58.02L98.75 56.03L97.89 57.83z" fill="#e36c55"/>
<path d="M102.57 81.81L104.06 84.36L105.56 87.03L106.41 84.93L107.27 82.95L105.78 80.15L104.29 77.46L103.43 79.57z" fill="#f5c2aa"/>
<path d="M81.56 60.04L83.06 60.62L84.56 61.36L85.42 58.66L86.29 56.12L84.79 55.37L83.3 54.78L82.43 57.32z" fill="#e57058"/>
<path d="M77.65 88.51L79.14 89.25L80.63 90.1L81.49 86.27L82.36 82.57L80.86 81.67L79.37 80.88L78.5 84.63z" fill="#e9d5cb"/>
<path d="M78.11 72.52L79.6 73.09L81.09 73.78L81.96 70.45L82.82 67.26L81.33 66.54L79.83 65.97L78.97 69.17z" fill="#f7a889"/>
<path d="M85.71 129.49L87.2 130.33L88.7 131.19L89.57 127.58L90.43 124L88.93 122.9L87.43 121.85L86.57 125.65z" fill="#6485ec"/>
<path d="M94.03 56.37L95.53 57.99L97.03 59.77L97.89 57.83L98.75 56.03L97.25 54.21L95.75 52.55L94.89 54.39z" fill="#da5a49"/>
<path d="M84.44 119.88L85.94 120.84L87.43 121.85L88.3 118.09L89.17 114.38L87.67 113.17L86.17 112.01L85.3 115.92z" fill="#86a9fc"/>
<path d="M79.83 65.97L81.33 66.54L82.82 67.26L83.69 64.23L84.56 61.36L83.06 60.62L81.56 60.04L80.7 62.92z" fill="#f08b6e"/>
<path d="M108.92 128.74L110.42 130.81L111.91 132.91L112.76 131.3L113.61 129.71L112.12 127.3L110.63 124.92L109.77 126.81z" fill="#6b8df0"/>
<path d="M86.29 56.12L87.79 57.04L89.29 58.13L90.16 55.79L91.02 53.63L89.52 52.51L88.02 51.57L87.16 53.76z" fill="#da5a49"/>
<path d="M86.97 138.48L88.47 139.11L89.97 139.76L90.84 136.36L91.7 132.99L90.2 132.07L88.7 131.19L87.84 134.82z" fill="#485fd1"/>
<path d="M83.17 109.9L84.67 110.93L86.17 112.01L87.03 108.19L87.9 104.44L86.4 103.18L84.9 102L84.03 105.91z" fill="#abc8fd"/>
<path d="M103.38 106.32L104.87 108.67L106.37 111.08L107.23 108.82L108.09 106.64L106.59 103.99L105.1 101.41L104.24 103.82z" fill="#bad0f8"/>
<path d="M104.65 115.81L106.14 118.03L107.64 120.28L108.5 118.16L109.35 116.08L107.86 113.56L106.37 111.08L105.51 113.41z" fill="#9abbff"/>
<path d="M102.11 96.49L103.61 98.91L105.1 101.41L105.96 99.09L106.82 96.86L105.33 94.16L103.84 91.56L102.97 93.97z" fill="#d8dce2"/>
<path d="M98.3 67.99L99.8 70.16L101.3 72.46L102.16 70.38L103.02 68.43L101.52 66.05L100.03 63.8L99.16 65.82z" fill="#f29072"/>
<path d="M79.37 80.88L80.86 81.67L82.36 82.57L83.22 79.01L84.09 75.57L82.59 74.61L81.09 73.78L80.23 77.26z" fill="#f5c2aa"/>
<path d="M81.9 99.87L83.4 100.89L84.9 102L85.76 98.18L86.63 94.46L85.12 93.22L83.63 92.09L82.76 95.93z" fill="#ccd9ed"/>
<path d="M105.92 124.69L107.42 126.7L108.92 128.74L109.77 126.81L110.63 124.92L109.13 122.59L107.64 120.28L106.78 122.46z" fill="#7a9df8"/>
<path d="M87.43 121.85L88.93 122.9L90.43 124L91.3 120.47L92.17 116.99L90.67 115.66L89.17 114.38L88.3 118.09z" fill="#81a4fb"/>
<path d="M100.84 86.64L102.34 89.05L103.84 91.56L104.7 89.24L105.56 87.03L104.06 84.36L102.57 81.81L101.71 84.16z" fill="#efcebd"/>
<path d="M80.63 90.1L82.13 91.04L83.63 92.09L84.49 88.35L85.35 84.73L83.85 83.6L82.36 82.57L81.49 86.27z" fill="#e7d7ce"/>
<path d="M99.57 77.04L101.07 79.36L102.57 81.81L103.43 79.57L104.29 77.46L102.8 74.9L101.3 72.46L100.44 74.68z" fill="#f7b396"/>
<path d="M88.7 131.19L90.2 132.07L91.7 132.99L92.57 129.64L93.44 126.32L91.94 125.14L90.43 124L89.57 127.58z" fill="#6180e9"/>
<path d="M89.29 58.13L90.79 59.38L92.29 60.79L93.16 58.5L94.03 56.37L92.52 54.91L91.02 53.63L90.16 55.79z" fill="#df634e"/>
<path d="M116.22 143.45L117.72 145.22L118.55 144.39L119.38 143.57L117.89 141.46L117.06 142.45z" fill="#3e51c5"/>
<path d="M84.56 61.36L86.05 62.26L87.55 63.31L88.42 60.64L89.29 58.13L87.79 57.04L86.29 56.12L85.42 58.66z" fill="#e7745b"/>
<path d="M86.17 112.01L87.67 113.17L89.17 114.38L90.03 110.75L90.9 107.18L89.4 105.77L87.9 104.44L87.03 108.19z" fill="#a5c3fe"/>
<path d="M95.3 64.09L96.8 65.97L98.3 67.99L99.16 65.82L100.03 63.8L98.53 61.71L97.03 59.77L96.16 61.85z" fill="#eb7d62"/>
<path d="M101.65 111.54L103.15 113.65L104.65 115.81L105.51 113.41L106.37 111.08L104.87 108.67L103.38 106.32L102.51 108.89z" fill="#aac7fd"/>
<path d="M81.09 73.78L82.59 74.61L84.09 75.57L84.95 72.28L85.82 69.14L84.32 68.13L82.82 67.26L81.96 70.45z" fill="#f7a98b"/>
<path d="M88.24 146.64L89.74 147.01L91.24 147.38L92.11 144.22L92.97 141.08L91.47 140.42L89.97 139.76L89.1 143.18z" fill="#3b4cc0"/>
<path d="M113.22 139.85L114.72 141.66L116.22 143.45L117.06 142.45L117.89 141.46L116.4 139.32L114.9 137.18L114.06 138.5z" fill="#4961d2"/>
<path d="M92.29 60.79L93.8 62.36L95.3 64.09L96.16 61.85L97.03 59.77L95.53 57.99L94.03 56.37L93.16 58.5z" fill="#e46e56"/>
<path d="M82.82 67.26L84.32 68.13L85.82 69.14L86.69 66.15L87.55 63.31L86.05 62.26L84.56 61.36L83.69 64.23z" fill="#f18f71"/>
<path d="M100.38 101.82L101.88 104.03L103.38 106.32L104.24 103.82L105.1 101.41L103.61 98.91L102.11 96.49L101.24 99.11z" fill="#cad8ef"/>
<path d="M102.92 120.79L104.42 122.72L105.92 124.69L106.78 122.46L107.64 120.28L106.14 118.03L104.65 115.81L103.78 118.27z" fill="#89acfd"/>
<path d="M84.9 102L86.4 103.18L87.9 104.44L88.76 100.77L89.63 97.2L88.13 95.78L86.63 94.46L85.76 98.18z" fill="#c7d7f0"/>
<path d="M90.43 124L91.94 125.14L93.44 126.32L94.31 123.04L95.17 119.81L93.67 118.37L92.17 116.99L91.3 120.47z" fill="#7b9ff9"/>
<path d="M110.21 136.23L111.71 138.04L113.22 139.85L114.06 138.5L114.9 137.18L113.41 135.04L111.91 132.91L111.06 134.56z" fill="#5572df"/>
<path d="M89.97 139.76L91.47 140.42L92.97 141.08L93.84 137.97L94.71 134.88L93.21 133.92L91.7 132.99L90.84 136.36z" fill="#465ecf"/>
<path d="M99.11 91.92L100.61 94.16L102.11 96.49L102.97 93.97L103.84 91.56L102.34 89.05L100.84 86.64L99.98 89.22z" fill="#e5d8d1"/>
<path d="M89.17 114.38L90.67 115.66L92.17 116.99L93.04 113.57L93.9 110.22L92.4 108.67L90.9 107.18L90.03 110.75z" fill="#9ebeff"/>
<path d="M82.36 82.57L83.85 83.6L85.35 84.73L86.22 81.24L87.09 77.88L85.59 76.67L84.09 75.57L83.22 79.01z" fill="#f4c5ad"/>
<path d="M96.57 72.77L98.07 74.84L99.57 77.04L100.44 74.68L101.3 72.46L99.8 70.16L98.3 67.99L97.44 70.31z" fill="#f6a283"/>
<path d="M83.63 92.09L85.12 93.22L86.63 94.46L87.49 90.84L88.36 87.33L86.86 85.98L85.35 84.73L84.49 88.35z" fill="#e3d9d3"/>
<path d="M87.55 63.31L89.06 64.52L90.56 65.88L91.43 63.25L92.29 60.79L90.79 59.38L89.29 58.13L88.42 60.64z" fill="#ea7b60"/>
<path d="M97.84 82.14L99.34 84.33L100.84 86.64L101.71 84.16L102.57 81.81L101.07 79.36L99.57 77.04L98.71 79.52z" fill="#f5c1a9"/>
<path d="M99.92 117.05L101.42 118.9L102.92 120.79L103.78 118.27L104.65 115.81L103.15 113.65L101.65 111.54L100.78 114.27z" fill="#97b8ff"/>
<path d="M98.65 107.51L100.15 109.5L101.65 111.54L102.51 108.89L103.38 106.32L101.88 104.03L100.38 101.82L99.51 104.62z" fill="#b9d0f9"/>
<path d="M107.2 132.7L108.71 134.45L110.21 136.23L111.06 134.56L111.91 132.91L110.42 130.81L108.92 128.74L108.06 130.7z" fill="#6180e9"/>
<path d="M91.7 132.99L93.21 133.92L94.71 134.88L95.58 131.81L96.45 128.77L94.94 127.53L93.44 126.32L92.57 129.64z" fill="#5d7ce6"/>
<path d="M87.9 104.44L89.4 105.77L90.9 107.18L91.77 103.71L92.63 100.31L91.13 98.71L89.63 97.2L88.76 100.77z" fill="#c0d4f5"/>
<path d="M92.17 116.99L93.67 118.37L95.17 119.81L96.04 116.63L96.91 113.52L95.41 111.84L93.9 110.22L93.04 113.57z" fill="#96b7ff"/>
<path d="M97.38 97.64L98.88 99.69L100.38 101.82L101.24 99.11L102.11 96.49L100.61 94.16L99.11 91.92L98.24 94.73z" fill="#d7dce3"/>
<path d="M104.2 129.28L105.7 130.98L107.2 132.7L108.06 130.7L108.92 128.74L107.42 126.7L105.92 124.69L105.06 126.96z" fill="#6c8ff1"/>
<path d="M93.44 126.32L94.94 127.53L96.45 128.77L97.31 125.77L98.18 122.81L96.68 121.29L95.17 119.81L94.31 123.04z" fill="#7597f6"/>
<path d="M96.91 113.52L98.41 115.26L99.92 117.05L100.78 114.27L101.65 111.54L100.15 109.5L98.65 107.51L97.78 110.48z" fill="#a3c2fe"/>
<path d="M93.57 69.04L95.07 70.83L96.57 72.77L97.44 70.31L98.3 67.99L96.8 65.97L95.3 64.09L94.43 66.49z" fill="#f29274"/>
<path d="M84.09 75.57L85.59 76.67L87.09 77.88L87.95 74.66L88.82 71.59L87.32 70.29L85.82 69.14L84.95 72.28z" fill="#f7af91"/>
<path d="M90.56 65.88L92.06 67.38L93.57 69.04L94.43 66.49L95.3 64.09L93.8 62.36L92.29 60.79L91.43 63.25z" fill="#ee8468"/>
<path d="M85.82 69.14L87.32 70.29L88.82 71.59L89.69 68.65L90.56 65.88L89.06 64.52L87.55 63.31L86.69 66.15z" fill="#f39475"/>
<path d="M90.9 107.18L92.4 108.67L93.9 110.22L94.77 106.95L95.64 103.76L94.14 102L92.63 100.31L91.77 103.71z" fill="#b9d0f9"/>
<path d="M95.17 119.81L96.68 121.29L98.18 122.81L99.05 119.9L99.92 117.05L98.41 115.26L96.91 113.52L96.04 116.63z" fill="#8db0fe"/>
<path d="M101.19 125.98L102.69 127.61L104.2 129.28L105.06 126.96L105.92 124.69L104.42 122.72L102.92 120.79L102.05 123.36z" fill="#779af7"/>
<path d="M86.63 94.46L88.13 95.78L89.63 97.2L90.5 93.73L91.36 90.37L89.86 88.8L88.36 87.33L87.49 90.84z" fill="#dedcdb"/>
<path d="M93.9 110.22L95.41 111.84L96.91 113.52L97.78 110.48L98.65 107.51L97.14 105.6L95.64 103.76L94.77 106.95z" fill="#aec9fc"/>
<path d="M98.18 122.81L99.69 124.38L101.19 125.98L102.05 123.36L102.92 120.79L101.42 118.9L99.92 117.05L99.05 119.9z" fill="#82a6fb"/>
<path d="M95.64 103.76L97.14 105.6L98.65 107.51L99.51 104.62L100.38 101.82L98.88 99.69L97.38 97.64L96.51 100.65z" fill="#c5d6f2"/>
<path d="M96.11 87.74L97.61 89.78L99.11 91.92L99.98 89.22L100.84 86.64L99.34 84.33L97.84 82.14L96.97 84.88z" fill="#efcfbf"/>
<path d="M85.35 84.73L86.86 85.98L88.36 87.33L89.23 83.95L90.09 80.7L88.59 79.23L87.09 77.88L86.22 81.24z" fill="#f2cab5"/>
<path d="M94.84 78.11L96.34 80.07L97.84 82.14L98.71 79.52L99.57 77.04L98.07 74.84L96.57 72.77L95.7 75.37z" fill="#f7b497"/>
<path d="M89.63 97.2L91.13 98.71L92.63 100.31L93.5 97.01L94.37 93.81L92.87 92.04L91.36 90.37L90.5 93.73z" fill="#d7dce3"/>
<path d="M92.63 100.31L94.14 102L95.64 103.76L96.51 100.65L97.38 97.64L95.87 95.68L94.37 93.81L93.5 97.01z" fill="#cfdaea"/>
<path d="M94.37 93.81L95.87 95.68L97.38 97.64L98.24 94.73L99.11 91.92L97.61 89.78L96.11 87.74L95.24 90.72z" fill="#e1dad6"/>
<path d="M96.45 128.77L97.95 130.05L99.46 131.35L100.32 128.64L101.19 125.98L99.69 124.38L98.18 122.81L97.31 125.77z" fill="#6e90f2"/>
<path d="M88.82 71.59L90.33 73.02L91.83 74.58L92.7 71.74L93.57 69.04L92.06 67.38L90.56 65.88L89.69 68.65z" fill="#f59d7e"/>
<path d="M87.09 77.88L88.59 79.23L90.09 80.7L90.96 77.57L91.83 74.58L90.33 73.02L88.82 71.59L87.95 74.66z" fill="#f7b497"/>
<path d="M91.83 74.58L93.33 76.28L94.84 78.11L95.7 75.37L96.57 72.77L95.07 70.83L93.57 69.04L92.7 71.74z" fill="#f7a889"/>
<path d="M88.36 87.33L89.86 88.8L91.36 90.37L92.23 87.12L93.1 83.99L91.6 82.28L90.09 80.7L89.23 83.95z" fill="#efcfbf"/>
<path d="M94.71 134.88L96.22 135.86L97.72 136.85L98.59 134.09L99.46 131.35L97.95 130.05L96.45 128.77L95.58 131.81z" fill="#5977e3"/>
<path d="M93.1 83.99L94.6 85.81L96.11 87.74L96.97 84.88L97.84 82.14L96.34 80.07L94.84 78.11L93.97 80.99z" fill="#f3c7b1"/>
<path d="M91.36 90.37L92.87 92.04L94.37 93.81L95.24 90.72L96.11 87.74L94.6 85.81L93.1 83.99L92.23 87.12z" fill="#ead5c9"/>
<path d="M92.97 141.08L94.48 141.75L95.99 142.43L96.85 139.63L97.72 136.85L96.22 135.86L94.71 134.88L93.84 137.97z" fill="#455cce"/>
<path d="M90.09 80.7L91.6 82.28L93.1 83.99L93.97 80.99L94.84 78.11L93.33 76.28L91.83 74.58L90.96 77.57z" fill="#f6bda2"/>
<path d="M91.24 147.38L92.74 147.75L94.25 148.11L95.12 145.25L95.99 142.43L94.48 141.75L92.97 141.08L92.11 144.22z" fill="#3b4cc0"/>
<path d="M99.46 131.35L100.96 132.67L102.47 134.02L103.33 131.64L104.2 129.28L102.69 127.61L101.19 125.98L100.32 128.64z" fill="#6687ed"/>
<path d="M102.47 134.02L103.98 135.4L105.48 136.79L106.35 134.73L107.2 132.7L105.7 130.98L104.2 129.28L103.33 131.64z" fill="#5e7de7"/>
<path d="M105.48 136.79L106.99 138.2L108.5 139.65L109.36 137.93L110.21 136.23L108.71 134.45L107.2 132.7L106.35 134.73z" fill="#5572df"/>
<path d="M97.72 136.85L99.23 137.85L100.74 138.87L101.6 136.44L102.47 134.02L100.96 132.67L99.46 131.35L98.59 134.09z" fill="#5470de"/>
<path d="M108.5 139.65L110.01 141.11L111.52 142.58L112.37 141.21L113.22 139.85L111.71 138.04L110.21 136.23L109.36 137.93z" fill="#4e68d8"/>
<path d="M111.52 142.58L113.03 144.04L114.54 145.48L115.38 144.46L116.22 143.45L114.72 141.66L113.22 139.85L112.37 141.21z" fill="#455cce"/>
<path d="M114.54 145.48L116.05 146.87L116.89 146.04L117.72 145.22L116.22 143.45L115.38 144.46z" fill="#3d50c3"/>
<path d="M95.99 142.43L97.5 143.11L99.01 143.8L99.87 141.33L100.74 138.87L99.23 137.85L97.72 136.85L96.85 139.63z" fill="#4358cb"/>
<path d="M100.74 138.87L102.25 139.91L103.76 140.96L104.62 138.86L105.48 136.79L103.98 135.4L102.47 134.02L101.6 136.44z" fill="#506bda"/>
<path d="M94.25 148.11L95.76 148.46L97.27 148.8L98.14 146.29L99.01 143.8L97.5 143.11L95.99 142.43L95.12 145.25z" fill="#3b4cc0"/>
<path d="M103.76 140.96L105.27 142.03L106.79 143.13L107.65 141.38L108.5 139.65L106.99 138.2L105.48 136.79L104.62 138.86z" fill="#4b64d5"/>
<path d="M99.01 143.8L100.52 144.49L102.03 145.19L102.9 143.07L103.76 140.96L102.25 139.91L100.74 138.87L99.87 141.33z" fill="#4257c9"/>
<path d="M106.79 143.13L108.3 144.24L109.82 145.35L110.67 143.96L111.52 142.58L110.01 141.11L108.5 139.65L107.65 141.38z" fill="#455cce"/>
<path d="M109.82 145.35L111.33 146.45L112.85 147.52L113.7 146.5L114.54 145.48L113.03 144.04L111.52 142.58L110.67 143.96z" fill="#4055c8"/>
<path d="M97.27 148.8L98.78 149.15L100.3 149.5L101.17 147.34L102.03 145.19L100.52 144.49L99.01 143.8L98.14 146.29z" fill="#3b4cc0"/>
<path d="M102.03 145.19L103.55 145.91L105.07 146.65L105.93 144.88L106.79 143.13L105.27 142.03L103.76 140.96L102.9 143.07z" fill="#3f53c6"/>
<path d="M112.85 147.52L114.37 148.53L115.21 147.7L116.05 146.87L114.54 145.48L113.7 146.5z" fill="#3b4cc0"/>
<path d="M105.07 146.65L106.59 147.4L108.11 148.15L108.96 146.75L109.82 145.35L108.3 144.24L106.79 143.13L105.93 144.88z" fill="#3e51c5"/>
<path d="M100.3 149.5L101.82 149.85L103.34 150.23L104.2 148.43L105.07 146.65L103.55 145.91L102.03 145.19L101.17 147.34z" fill="#3b4cc0"/>
<path d="M108.11 148.15L109.63 148.88L111.16 149.57L112.01 148.54L112.85 147.52L111.33 146.45L109.82 145.35L108.96 146.75z" fill="#3c4ec2"/>
<path d="M103.34 150.23L104.87 150.62L106.39 151L107.25 149.57L108.11 148.15L106.59 147.4L105.07 146.65L104.2 148.43z" fill="#3b4cc0"/>
<path d="M111.16 149.57L112.68 150.19L113.53 149.36L114.37 148.53L112.85 147.52L112.01 148.54z" fill="#3b4cc0"/>
<path d="M106.39 151L107.92 151.35L109.45 151.65L110.31 150.61L111.16 149.57L109.63 148.88L108.11 148.15L107.25 149.57z" fill="#3b4cc0"/>
<path d="M109.45 151.65L110.99 151.86L111.84 151.02L112.68 150.19L111.16 149.57L110.31 150.61z" fill="#3b4cc0"/>
</g>
</g>
<g id="patch_6">
<path d="M239.26 174.57L427.78 174.57L427.78 -1 M239.26 -1L239.26 174.57" style="fill: none; opacity: 0"/>
</g>
<g id="pane3d_4">
<g id="patch_7">
<path d="M253.49 128.09L315.75 75.9L314.88 0.64L249.65 48.25" style="fill: #f5f5f5; opacity: 0.5; stroke: #f5f5f5; stroke-linejoin: miter"/>
</g>
</g>
<g id="pane3d_5">
<g id="patch_8">
<path d="M315.75 75.9L415.65 104.94L419.21 27.09L314.88 0.64" style="fill: #ededed; opacity: 0.5; stroke: #ededed; stroke-linejoin: miter"/>
</g>
</g>
<g id="pane3d_6">
<g id="patch_9">
<path d="M253.49 128.09L359.39 162.67L415.65 104.94L315.75 75.9" style="fill: #f1f1f1; opacity: 0.5; stroke: #f1f1f1; stroke-linejoin: miter"/>
</g>
</g>
<g id="grid3d_4">
<g id="Line3DCollection_4">
<path d="M259.9 130.18L321.82 77.67L321.21 2.25" style="fill: none; stroke: #b6b6b6; stroke-width: 0.9"/>
<path d="M277.71 136L338.68 82.57L338.79 6.7" style="fill: none; stroke: #b6b6b6; stroke-width: 0.9"/>
<path d="M295.85 141.92L355.81 87.55L356.67 11.23" style="fill: none; stroke: #b6b6b6; stroke-width: 0.9"/>
<path d="M314.32 147.95L373.24 92.61L374.87 15.85" style="fill: none; stroke: #b6b6b6; stroke-width: 0.9"/>
<path d="M333.14 154.1L390.97 97.77L393.39 20.54" style="fill: none; stroke: #b6b6b6; stroke-width: 0.9"/>
<path d="M352.31 160.36L409 103.01L412.25 25.32" style="fill: none; stroke: #b6b6b6; stroke-width: 0.9"/>
</g>
</g>
<g id="grid3d_5">
<g id="Line3DCollection_5">
<path d="M254.16 44.96L257.78 124.49L363.28 158.68" style="fill: none; stroke: #b6b6b6; stroke-width: 0.9"/>
<path d="M266.26 36.12L269.3 114.83L373.73 147.96" style="fill: none; stroke: #b6b6b6; stroke-width: 0.9"/>
<path d="M277.99 27.57L280.48 105.46L383.84 137.58" style="fill: none; stroke: #b6b6b6; stroke-width: 0.9"/>
<path d="M289.35 19.27L291.33 96.37L393.64 127.52" style="fill: none; stroke: #b6b6b6; stroke-width: 0.9"/>
<path d="M300.37 11.23L301.86 87.54L403.14 117.77" style="fill: none; stroke: #b6b6b6; stroke-width: 0.9"/>
<path d="M311.06 3.43L312.09 78.97L412.36 108.32" style="fill: none; stroke: #b6b6b6; stroke-width: 0.9"/>
</g>
</g>
<g id="grid3d_6">
<g id="Line3DCollection_6">
<path d="M416.68 82.32L315.5 54L252.37 104.91" style="fill: none; stroke: #b6b6b6; stroke-width: 0.9"/>
<path d="M417.7 60L315.25 32.42L251.27 82.03" style="fill: none; stroke: #b6b6b6; stroke-width: 0.9"/>
<path d="M418.75 37.11L314.99 10.31L250.14 58.54" style="fill: none; stroke: #b6b6b6; stroke-width: 0.9"/>
</g>
</g>
<g id="axis3d_4">
<g id="line2d_20">
<path d="M253.49 128.09L359.39 162.67" style="fill: none; stroke: #000000; stroke-width: 0.8; stroke-linecap: square"/>
</g>
<g id="xtick_17">
<g id="line2d_21">
<path d="M260.44 129.72L258.82 131.1" style="fill: none; stroke: #000000; stroke-width: 0.8; stroke-linecap: square"/>
</g>
<g id="text_20">
<text style="font-size: 10px; font-family: 'DejaVu Sans', 'Liberation Sans', sans-serif; text-anchor: middle" x="252.363" y="153.655" transform="rotate(-0 252.363 153.655)">0.0</text>
</g>
</g>
<g id="xtick_18">
<g id="line2d_22">
<path d="M278.25 135.53L276.65 136.93" style="fill: none; stroke: #000000; stroke-width: 0.8; stroke-linecap: square"/>
</g>
<g id="text_21">
<text style="font-size: 10px; font-family: 'DejaVu Sans', 'Liberation Sans', sans-serif; text-anchor: middle" x="270.199" y="159.646" transform="rotate(-0 270.199 159.646)">0.2</text>
</g>
</g>
<g id="xtick_19">
<g id="line2d_23">
<path d="M296.37 141.45L294.8 142.87" style="fill: none; stroke: #000000; stroke-width: 0.8; stroke-linecap: square"/>
</g>
<g id="text_22">
<text style="font-size: 10px; font-family: 'DejaVu Sans', 'Liberation Sans', sans-serif; text-anchor: middle" x="288.363" y="165.748" transform="rotate(-0 288.363 165.748)">0.4</text>
</g>
</g>
<g id="xtick_20">
<g id="line2d_24">
<path d="M314.84 147.47L313.29 148.92" style="fill: none; stroke: #000000; stroke-width: 0.8; stroke-linecap: square"/>
</g>
<g id="text_23">
<text style="font-size: 10px; font-family: 'DejaVu Sans', 'Liberation Sans', sans-serif; text-anchor: middle" x="306.865" y="171.963" transform="rotate(-0 306.865 171.963)">0.6</text>
</g>
</g>
<g id="xtick_21">
<g id="line2d_25">
<path d="M333.64 153.61L332.13 155.09" style="fill: none; stroke: #000000; stroke-width: 0.8; stroke-linecap: square"/>
</g>
<g id="text_24">
<text style="font-size: 10px; font-family: 'DejaVu Sans', 'Liberation Sans', sans-serif; text-anchor: middle" x="325.714" y="178.294" transform="rotate(-0 325.714 178.294)">0.8</text>
</g>
</g>
<g id="xtick_22">
<g id="line2d_26">
<path d="M352.8 159.86L351.32 161.37" style="fill: none; stroke: #000000; stroke-width: 0.8; stroke-linecap: square"/>
</g>
<g id="text_25">
<text style="font-size: 10px; font-family: 'DejaVu Sans', 'Liberation Sans', sans-serif; text-anchor: middle" x="344.920" y="184.746" transform="rotate(-0 344.920 184.746)">1.0</text>
</g>
</g>
<g id="text_26">
<g transform="translate(285.696 183.217)">
<text>
<tspan x="0" y="-0.53125" style="font-style: oblique; font-size: 10px; font-family: 'DejaVu Sans', 'Liberation Sans', sans-serif">x</tspan>
</text>
</g>
</g>
</g>
<g id="axis3d_5">
<g id="line2d_27">
<path d="M415.65 104.94L359.39 162.67" style="fill: none; stroke: #000000; stroke-width: 0.8; stroke-linecap: square"/>
</g>
<g id="xtick_23">
<g id="line2d_28">
<path d="M362.39 158.39L365.06 159.26" style="fill: none; stroke: #000000; stroke-width: 0.8; stroke-linecap: square"/>
</g>
<g id="text_27">
<text style="font-size: 10px; font-family: 'DejaVu Sans', 'Liberation Sans', sans-serif; text-anchor: middle" x="376.165" y="179.844" transform="rotate(-0 376.165 179.844)">0.0</text>
</g>
</g>
<g id="xtick_24">
<g id="line2d_29">
<path d="M372.85 147.68L375.49 148.52" style="fill: none; stroke: #000000; stroke-width: 0.8; stroke-linecap: square"/>
</g>
<g id="text_28">
<text style="font-size: 10px; font-family: 'DejaVu Sans', 'Liberation Sans', sans-serif; text-anchor: middle" x="386.411" y="168.902" transform="rotate(-0 386.411 168.902)">0.2</text>
</g>
</g>
<g id="xtick_25">
<g id="line2d_30">
<path d="M382.97 137.31L385.58 138.12" style="fill: none; stroke: #000000; stroke-width: 0.8; stroke-linecap: square"/>
</g>
<g id="text_29">
<text style="font-size: 10px; font-family: 'DejaVu Sans', 'Liberation Sans', sans-serif; text-anchor: middle" x="396.334" y="158.305" transform="rotate(-0 396.334 158.305)">0.4</text>
</g>
</g>
<g id="xtick_26">
<g id="line2d_31">
<path d="M392.78 127.26L395.36 128.05" style="fill: none; stroke: #000000; stroke-width: 0.8; stroke-linecap: square"/>
</g>
<g id="text_30">
<text style="font-size: 10px; font-family: 'DejaVu Sans', 'Liberation Sans', sans-serif; text-anchor: middle" x="405.948" y="148.038" transform="rotate(-0 405.948 148.038)">0.6</text>
</g>
</g>
<g id="xtick_27">
<g id="line2d_32">
<path d="M402.29 117.52L404.84 118.28" style="fill: none; stroke: #000000; stroke-width: 0.8; stroke-linecap: square"/>
</g>
<g id="text_31">
<text style="font-size: 10px; font-family: 'DejaVu Sans', 'Liberation Sans', sans-serif; text-anchor: middle" x="415.268" y="138.085" transform="rotate(-0 415.268 138.085)">0.8</text>
</g>
</g>
<g id="xtick_28">
<g id="line2d_33">
<path d="M411.51 108.07L414.04 108.81" style="fill: none; stroke: #000000; stroke-width: 0.8; stroke-linecap: square"/>
</g>
<g id="text_32">
<text style="font-size: 10px; font-family: 'DejaVu Sans', 'Liberation Sans', sans-serif; text-anchor: middle" x="424.308" y="128.431" transform="rotate(-0 424.308 128.431)">1.0</text>
</g>
</g>
<g id="text_33">
<g transform="translate(412.761 163.419)">
<text>
<tspan x="0" y="-0.53125" style="font-style: oblique; font-size: 10px; font-family: 'DejaVu Sans', 'Liberation Sans', sans-serif">y</tspan>
</text>
</g>
</g>
</g>
<g id="axis3d_6">
<g id="line2d_34">
<path d="M415.65 104.94L419.21 27.09" style="fill: none; stroke: #000000; stroke-width: 0.8; stroke-linecap: square"/>
</g>
<g id="xtick_29">
<g id="line2d_35">
<path d="M415.83 82.08L418.38 82.79" style="fill: none; stroke: #000000; stroke-width: 0.8; stroke-linecap: square"/>
</g>
<g id="text_34">
<text style="font-size: 10px; font-family: 'DejaVu Sans', 'Liberation Sans', sans-serif; text-anchor: middle" x="435.141" y="87.515" transform="rotate(-0 435.141 87.515)">0.01</text>
</g>
</g>
<g id="xtick_30">
<g id="line2d_36">
<path d="M416.84 59.77L419.43 60.46" style="fill: none; stroke: #000000; stroke-width: 0.8; stroke-linecap: square"/>
</g>
<g id="text_35">
<text style="font-size: 10px; font-family: 'DejaVu Sans', 'Liberation Sans', sans-serif; text-anchor: middle" x="436.391" y="65.264" transform="rotate(-0 436.391 65.264)">0.02</text>
</g>
</g>
<g id="xtick_31">
<g id="line2d_37">
<path d="M417.88 36.89L420.5 37.56" style="fill: none; stroke: #000000; stroke-width: 0.8; stroke-linecap: square"/>
</g>
<g id="text_36">
<text style="font-size: 10px; font-family: 'DejaVu Sans', 'Liberation Sans', sans-serif; text-anchor: middle" x="437.674" y="42.444" transform="rotate(-0 437.674 42.444)">0.03</text>
</g>
</g>
<g id="text_37">
<g transform="translate(460.118 81.094) rotate(-87.378092)">
<text>
<tspan x="0" y="-0.976562" style="font-size: 10px; font-family: 'DejaVu Sans', 'Liberation Sans', sans-serif">|</tspan>
<tspan x="11.655273" y="-0.976562" style="font-size: 10px; font-family: 'DejaVu Sans', 'Liberation Sans', sans-serif">−</tspan>
<tspan x="35.267904" y="-0.976562" style="font-size: 10px; font-family: 'DejaVu Sans', 'Liberation Sans', sans-serif">|</tspan>
<tspan x="3.369141" y="-0.976562" style="font-style: oblique; font-size: 10px; font-family: 'DejaVu Sans', 'Liberation Sans', sans-serif">u</tspan>
<tspan x="21.982422" y="-0.976562" style="font-style: oblique; font-size: 10px; font-family: 'DejaVu Sans', 'Liberation Sans', sans-serif">u</tspan>
<tspan x="30.130697" y="-4.804688" style="font-size: 7px; font-family: 'DejaVu Sans', 'Liberation Sans', sans-serif">*</tspan>
</text>
</g>
</g>
</g>
<g id="axes_2">
<g id="Poly3DCollection_2">
<path d="M320.02 78.53L321.39 81.6L322.71 80.56L323.51 79.72L322.18 81.03L320.82 77.88z" fill="#ffffe7"/>
<path d="M317.27 70.04L318.65 74.56L320.02 78.53L320.82 77.88L319.45 73.81L318.07 69.17z" fill="#ffff99"/>
<path d="M318.43 79.83L319.79 82.74L321.12 82.25L321.92 81.41L322.71 80.56L321.39 81.6L320.02 78.53L319.23 79.17z" fill="#ffffe7"/>
<path d="M322.71 80.56L324.05 79.64L325.38 78.91L326.18 77.98L324.84 78.75L323.51 79.72z" fill="#ffffd4"/>
<path d="M315.66 71.78L317.05 76.06L318.43 79.83L319.23 79.17L320.02 78.53L318.65 74.56L317.27 70.04L316.47 70.91z" fill="#ffff9d"/>
<path d="M321.12 82.25L322.46 81.42L323.8 80.76L324.59 79.83L325.38 78.91L324.05 79.64L322.71 80.56L321.92 81.41z" fill="#ffffd8"/>
<path d="M316.82 81.14L318.19 83.9L319.53 83.93L320.33 83.09L321.12 82.25L319.79 82.74L318.43 79.83L317.62 80.48z" fill="#ffffe7"/>
<path d="M325.38 78.91L326.73 78.09L328.07 76.95L328.86 75.92L327.52 77.12L326.18 77.98z" fill="#ffffac"/>
<path d="M314.05 73.53L315.44 77.58L316.82 81.14L317.62 80.48L318.43 79.83L317.05 76.06L315.66 71.78L314.86 72.66z" fill="#ffff9d"/>
<path d="M319.53 83.93L320.86 83.18L322.2 82.6L323 81.68L323.8 80.76L322.46 81.42L321.12 82.25L320.33 83.09z" fill="#ffffdf"/>
<path d="M315.21 82.47L316.58 85.08L317.92 85.6L318.73 84.77L319.53 83.93L318.19 83.9L316.82 81.14L316.01 81.8z" fill="#ffffe7"/>
<path d="M323.8 80.76L325.14 80.03L326.48 79L327.28 77.98L328.07 76.95L326.73 78.09L325.38 78.91L324.59 79.83z" fill="#ffffb0"/>
<path d="M312.43 75.29L313.82 79.11L315.21 82.47L316.01 81.8L316.82 81.14L315.44 77.58L314.05 73.53L313.24 74.41z" fill="#ffffa0"/>
<path d="M317.92 85.6L319.26 84.94L320.6 84.43L321.4 83.52L322.2 82.6L320.86 83.18L319.53 83.93L318.73 84.77z" fill="#ffffe3"/>
<path d="M328.07 76.95L329.41 75.52L330.76 73.95L331.56 72.77L330.21 74.42L328.86 75.92z" fill="#ffff79"/>
<path d="M322.2 82.6L323.55 81.96L324.89 81.04L325.69 80.03L326.48 79L325.14 80.03L323.8 80.76L323 81.68z" fill="#ffffbc"/>
<path d="M313.58 83.81L314.96 86.27L316.31 87.27L317.12 86.44L317.92 85.6L316.58 85.08L315.21 82.47L314.4 83.14z" fill="#ffffe7"/>
<path d="M326.48 79L327.83 77.71L329.18 76.29L329.97 75.13L330.76 73.95L329.41 75.52L328.07 76.95L327.28 77.98z" fill="#ffff81"/>
<path d="M310.81 77.06L312.2 80.65L313.58 83.81L314.4 83.14L315.21 82.47L313.82 79.11L312.43 75.29L311.62 76.17z" fill="#ffffa4"/>
<path d="M316.31 87.27L317.65 86.69L318.99 86.26L319.8 85.35L320.6 84.43L319.26 84.94L317.92 85.6L317.12 86.44z" fill="#ffffeb"/>
<path d="M320.6 84.43L321.95 83.88L323.29 83.07L324.09 82.06L324.89 81.04L323.55 81.96L322.2 82.6L321.4 83.52z" fill="#ffffc4"/>
<path d="M311.96 85.17L313.33 87.48L314.69 88.93L315.5 88.1L316.31 87.27L314.96 86.27L313.58 83.81L312.77 84.49z" fill="#ffffeb"/>
<path d="M324.89 81.04L326.24 79.88L327.59 78.61L328.39 77.46L329.18 76.29L327.83 77.71L326.48 79L325.69 80.03z" fill="#ffff8d"/>
<path d="M330.76 73.95L332.12 72.38L333.48 70.96L334.27 69.62L332.91 71.12L331.56 72.77z" fill="#ffff3a"/>
<path d="M314.69 88.93L316.03 88.43L317.38 88.07L318.19 87.17L318.99 86.26L317.65 86.69L316.31 87.27L315.5 88.1z" fill="#ffffef"/>
<path d="M309.18 78.83L310.57 82.2L311.96 85.17L312.77 84.49L313.58 83.81L312.2 80.65L310.81 77.06L309.99 77.94z" fill="#ffffa4"/>
<path d="M318.99 86.26L320.34 85.78L321.69 85.08L322.49 84.07L323.29 83.07L321.95 83.88L320.6 84.43L319.8 85.35z" fill="#ffffcc"/>
<path d="M329.18 76.29L330.54 74.88L331.9 73.62L332.69 72.29L333.48 70.96L332.12 72.38L330.76 73.95L329.97 75.13z" fill="#ffff4a"/>
<path d="M323.29 83.07L324.64 82.04L325.99 80.91L326.79 79.77L327.59 78.61L326.24 79.88L324.89 81.04L324.09 82.06z" fill="#ffff99"/>
<path d="M310.32 86.54L311.7 88.71L313.06 90.25L313.88 89.69L314.69 88.93L313.33 87.48L311.96 85.17L311.14 85.85z" fill="#ffffeb"/>
<path d="M313.06 90.25L314.41 90.16L315.76 89.87L316.57 88.97L317.38 88.07L316.03 88.43L314.69 88.93L313.88 89.69z" fill="#fffff3"/>
<path d="M307.54 80.61L308.93 83.76L310.32 86.54L311.14 85.85L311.96 85.17L310.57 82.2L309.18 78.83L308.36 79.72z" fill="#ffffa8"/>
<path d="M317.38 88.07L318.73 87.67L320.08 87.07L320.88 86.08L321.69 85.08L320.34 85.78L318.99 86.26L318.19 87.17z" fill="#ffffd4"/>
<path d="M327.59 78.61L328.94 77.36L330.31 76.25L331.1 74.93L331.9 73.62L330.54 74.88L329.18 76.29L328.39 77.46z" fill="#ffff5a"/>
<path d="M333.48 70.96L334.85 69.67L336.21 68.44L337.01 66.93L335.64 68.25L334.27 69.62z" fill="#ffff03"/>
<path d="M321.69 85.08L323.04 84.17L324.39 83.19L325.19 82.05L325.99 80.91L324.64 82.04L323.29 83.07L322.49 84.07z" fill="#ffffa4"/>
<path d="M308.68 87.92L310.05 89.95L311.42 91.41L312.24 90.83L313.06 90.25L311.7 88.71L310.32 86.54L309.5 87.23z" fill="#ffffe7"/>
<path d="M331.9 73.62L333.26 72.49L334.63 71.42L335.42 69.93L336.21 68.44L334.85 69.67L333.48 70.96L332.69 72.29z" fill="#ffff17"/>
<path d="M325.99 80.91L327.35 79.81L328.71 78.84L329.51 77.55L330.31 76.25L328.94 77.36L327.59 78.61L326.79 79.77z" fill="#ffff69"/>
<path d="M315.76 89.87L317.11 89.55L318.46 89.05L319.27 88.06L320.08 87.07L318.73 87.67L317.38 88.07L316.57 88.97z" fill="#ffffdc"/>
<path d="M311.42 91.41L312.78 91.88L314.13 91.66L314.94 90.77L315.76 89.87L314.41 90.16L313.06 90.25L312.24 90.83z" fill="#fffff7"/>
<path d="M305.89 82.39L307.29 85.33L308.68 87.92L309.5 87.23L310.32 86.54L308.93 83.76L307.54 80.61L306.72 81.5z" fill="#ffffac"/>
<path d="M320.08 87.07L321.43 86.29L322.78 85.44L323.59 84.32L324.39 83.19L323.04 84.17L321.69 85.08L320.88 86.08z" fill="#ffffb0"/>
<path d="M330.31 76.25L331.67 75.27L333.04 74.35L333.83 72.89L334.63 71.42L333.26 72.49L331.9 73.62L331.1 74.93z" fill="#ffff2a"/>
<path d="M307.03 89.33L308.41 91.22L309.78 92.58L310.6 91.99L311.42 91.41L310.05 89.95L308.68 87.92L307.85 88.62z" fill="#ffffe7"/>
<path d="M324.39 83.19L325.75 82.23L327.11 81.41L327.91 80.13L328.71 78.84L327.35 79.81L325.99 80.91L325.19 82.05z" fill="#ffff79"/>
<path d="M336.21 68.44L337.59 67.29L338.97 66.27L339.76 64.6L338.38 65.7L337.01 66.93z" fill="#ffe100"/>
<path d="M314.13 91.66L315.48 91.42L316.83 91.01L317.65 90.03L318.46 89.05L317.11 89.55L315.76 89.87L314.94 90.77z" fill="#ffffe3"/>
<path d="M309.78 92.58L311.14 93.59L312.49 93.44L313.31 92.55L314.13 91.66L312.78 91.88L311.42 91.41L310.6 91.99z" fill="#fffff7"/>
<path d="M304.24 84.19L305.64 86.92L307.03 89.33L307.85 88.62L308.68 87.92L307.29 85.33L305.89 82.39L305.07 83.29z" fill="#ffffb0"/>
<path d="M318.46 89.05L319.81 88.39L321.17 87.67L321.97 86.56L322.78 85.44L321.43 86.29L320.08 87.07L319.27 88.06z" fill="#ffffbc"/>
<path d="M334.63 71.42L336 70.43L337.38 69.57L338.17 67.93L338.97 66.27L337.59 67.29L336.21 68.44L335.42 69.93z" fill="#ffef00"/>
<path d="M328.71 78.84L330.08 78.01L331.44 77.25L332.24 75.8L333.04 74.35L331.67 75.27L330.31 76.25L329.51 77.55z" fill="#ffff42"/>
<path d="M322.78 85.44L324.14 84.62L325.5 83.94L326.31 82.68L327.11 81.41L325.75 82.23L324.39 83.19L323.59 84.32z" fill="#ffff89"/>
<path d="M305.37 90.75L306.75 92.51L308.12 93.79L308.95 93.18L309.78 92.58L308.41 91.22L307.03 89.33L306.2 90.04z" fill="#ffffe3"/>
<path d="M333.04 74.35L334.41 73.53L335.79 72.82L336.58 71.2L337.38 69.57L336 70.43L334.63 71.42L333.83 72.89z" fill="#ffff03"/>
<path d="M312.49 93.44L313.85 93.27L315.2 92.95L316.02 91.98L316.83 91.01L315.48 91.42L314.13 91.66L313.31 92.55z" fill="#ffffeb"/>
<path d="M327.11 81.41L328.47 80.72L329.84 80.1L330.65 78.68L331.44 77.25L330.08 78.01L328.71 78.84L327.91 80.13z" fill="#ffff56"/>
<path d="M316.83 91.01L318.19 90.46L319.55 89.87L320.36 88.77L321.17 87.67L319.81 88.39L318.46 89.05L317.65 90.03z" fill="#ffffc8"/>
<path d="M302.58 85.99L303.98 88.52L305.37 90.75L306.2 90.04L307.03 89.33L305.64 86.92L304.24 84.19L303.41 85.09z" fill="#ffffb0"/>
<path d="M308.12 93.79L309.49 94.81L310.85 95.2L311.67 94.32L312.49 93.44L311.14 93.59L309.78 92.58L308.95 93.18z" fill="#fffffb"/>
<path d="M338.97 66.27L340.35 65.38L341.73 64.56L342.53 62.73L341.14 63.63L339.76 64.6z" fill="#ffc500"/>
<path d="M321.17 87.67L322.53 86.99L323.89 86.44L324.7 85.19L325.5 83.94L324.14 84.62L322.78 85.44L321.97 86.56z" fill="#ffff99"/>
<path d="M331.44 77.25L332.82 76.57L334.19 76.02L334.99 74.43L335.79 72.82L334.41 73.53L333.04 74.35L332.24 75.8z" fill="#ffff1b"/>
<path d="M337.38 69.57L338.76 68.85L340.14 68.19L340.94 66.39L341.73 64.56L340.35 65.38L338.97 66.27L338.17 67.93z" fill="#ffd400"/>
<path d="M325.5 83.94L326.87 83.39L328.24 82.9L329.04 81.5L329.84 80.1L328.47 80.72L327.11 81.41L326.31 82.68z" fill="#ffff69"/>
<path d="M310.85 95.2L312.21 95.09L313.56 94.86L314.38 93.91L315.2 92.95L313.85 93.27L312.49 93.44L311.67 94.32z" fill="#ffffef"/>
<path d="M303.7 92.2L305.08 93.83L306.46 95.02L307.29 94.4L308.12 93.79L306.75 92.51L305.37 90.75L304.54 91.47z" fill="#ffffe3"/>
<path d="M315.2 92.95L316.56 92.51L317.92 92.04L318.73 90.96L319.55 89.87L318.19 90.46L316.83 91.01L316.02 91.98z" fill="#ffffd0"/>
<path d="M335.79 72.82L337.17 72.25L338.55 71.75L339.35 69.98L340.14 68.19L338.76 68.85L337.38 69.57L336.58 71.2z" fill="#ffe900"/>
<path d="M300.92 87.8L302.31 90.13L303.7 92.2L304.54 91.47L305.37 90.75L303.98 88.52L302.58 85.99L301.75 86.9z" fill="#ffffb4"/>
<path d="M329.84 80.1L331.22 79.57L332.6 79.16L333.4 77.6L334.19 76.02L332.82 76.57L331.44 77.25L330.65 78.68z" fill="#ffff36"/>
<path d="M306.46 95.02L307.83 95.98L309.2 96.83L310.03 96.07L310.85 95.2L309.49 94.81L308.12 93.79L307.29 94.4z" fill="#fffffb"/>
<path d="M319.55 89.87L320.91 89.32L322.27 88.9L323.08 87.67L323.89 86.44L322.53 86.99L321.17 87.67L320.36 88.77z" fill="#ffffa8"/>
<path d="M341.73 64.56L343.12 63.82L344.51 63.19L345.31 61.19L343.91 61.9L342.53 62.73z" fill="#ffad00"/>
<path d="M323.89 86.44L325.26 86.01L326.63 85.66L327.44 84.29L328.24 82.9L326.87 83.39L325.5 83.94L324.7 85.19z" fill="#ffff7d"/>
<path d="M334.19 76.02L335.57 75.59L336.96 75.24L337.76 73.5L338.55 71.75L337.17 72.25L335.79 72.82L334.99 74.43z" fill="#fffe00"/>
<path d="M340.14 68.19L341.53 67.61L342.92 67.14L343.72 65.17L344.51 63.19L343.12 63.82L341.73 64.56L340.94 66.39z" fill="#ffbf00"/>
<path d="M328.24 82.9L329.61 82.51L330.99 82.24L331.79 80.7L332.6 79.16L331.22 79.57L329.84 80.1L329.04 81.5z" fill="#ffff4e"/>
<path d="M309.2 96.83L310.56 96.89L311.92 96.75L312.74 95.81L313.56 94.86L312.21 95.09L310.85 95.2L310.03 96.07z" fill="#fffff7"/>
<path d="M313.56 94.86L314.92 94.53L316.28 94.18L317.1 93.11L317.92 92.04L316.56 92.51L315.2 92.95L314.38 93.91z" fill="#ffffdc"/>
<path d="M302.03 93.66L303.41 95.17L304.79 96.28L305.62 95.65L306.46 95.02L305.08 93.83L303.7 92.2L302.87 92.93z" fill="#ffffe3"/>
<path d="M317.92 92.04L319.28 91.62L320.65 91.32L321.46 90.11L322.27 88.9L320.91 89.32L319.55 89.87L318.73 90.96z" fill="#ffffb8"/>
<path d="M299.24 89.62L300.64 91.76L302.03 93.66L302.87 92.93L303.7 92.2L302.31 90.13L300.92 87.8L300.08 88.71z" fill="#ffffb8"/>
<path d="M338.55 71.75L339.94 71.33L341.33 71L342.13 69.08L342.92 67.14L341.53 67.61L340.14 68.19L339.35 69.98z" fill="#ffd700"/>
<path d="M332.6 79.16L333.98 78.87L335.36 78.65L336.16 76.95L336.96 75.24L335.57 75.59L334.19 76.02L333.4 77.6z" fill="#ffff1b"/>
<path d="M322.27 88.9L323.64 88.6L325.01 88.37L325.82 87.02L326.63 85.66L325.26 86.01L323.89 86.44L323.08 87.67z" fill="#ffff8d"/>
<path d="M304.79 96.28L306.16 97.18L307.53 97.98L308.37 97.4L309.2 96.83L307.83 95.98L306.46 95.02L305.62 95.65z" fill="#fffff7"/>
<path d="M326.63 85.66L328.01 85.4L329.38 85.26L330.19 83.75L330.99 82.24L329.61 82.51L328.24 82.9L327.44 84.29z" fill="#ffff65"/>
<path d="M344.51 63.19L345.91 62.69L347.3 62.3L348.1 60.14L346.7 60.61L345.31 61.19z" fill="#ff9800"/>
<path d="M336.96 75.24L338.34 74.96L339.73 74.78L340.53 72.9L341.33 71L339.94 71.33L338.55 71.75L337.76 73.5z" fill="#ffef00"/>
<path d="M311.92 96.75L313.28 96.52L314.64 96.27L315.46 95.23L316.28 94.18L314.92 94.53L313.56 94.86L312.74 95.81z" fill="#ffffe3"/>
<path d="M342.92 67.14L344.31 66.78L345.71 66.54L346.51 64.43L347.3 62.3L345.91 62.69L344.51 63.19L343.72 65.17z" fill="#ffad00"/>
<path d="M330.99 82.24L332.37 82.08L333.76 81.99L334.56 80.33L335.36 78.65L333.98 78.87L332.6 79.16L331.79 80.7z" fill="#ffff3a"/>
<path d="M307.53 97.98L308.9 98.68L310.26 98.61L311.09 97.68L311.92 96.75L310.56 96.89L309.2 96.83L308.37 97.4z" fill="#fffffb"/>
<path d="M316.28 94.18L317.65 93.87L319.02 93.69L319.83 92.51L320.65 91.32L319.28 91.62L317.92 92.04L317.1 93.11z" fill="#ffffc4"/>
<path d="M320.65 91.32L322.02 91.13L323.39 91.02L324.2 89.7L325.01 88.37L323.64 88.6L322.27 88.9L321.46 90.11z" fill="#ffffa0"/>
<path d="M300.35 95.14L301.73 96.53L303.11 97.56L303.95 96.92L304.79 96.28L303.41 95.17L302.03 93.66L301.19 94.4z" fill="#ffffdf"/>
<path d="M297.56 91.44L298.96 93.4L300.35 95.14L301.19 94.4L302.03 93.66L300.64 91.76L299.24 89.62L298.4 90.53z" fill="#ffffbc"/>
<path d="M335.36 78.65L336.74 78.51L338.13 78.46L338.93 76.63L339.73 74.78L338.34 74.96L336.96 75.24L336.16 76.95z" fill="#ffff07"/>
<path d="M341.33 71L342.72 70.79L344.12 70.68L344.91 68.62L345.71 66.54L344.31 66.78L342.92 67.14L342.13 69.08z" fill="#ffc700"/>
<path d="M325.01 88.37L326.39 88.24L327.77 88.21L328.58 86.74L329.38 85.26L328.01 85.4L326.63 85.66L325.82 87.02z" fill="#ffff79"/>
<path d="M303.11 97.56L304.48 98.4L305.85 99.15L306.69 98.56L307.53 97.98L306.16 97.18L304.79 96.28L303.95 96.92z" fill="#fffff3"/>
<path d="M329.38 85.26L330.76 85.22L332.15 85.26L332.95 83.64L333.76 81.99L332.37 82.08L330.99 82.24L330.19 83.75z" fill="#ffff52"/>
<path d="M347.3 62.3L348.7 61.92L350.11 61.57L350.9 59.27L349.5 59.69L348.1 60.14z" fill="#ff8800"/>
<path d="M339.73 74.78L341.12 74.7L342.52 74.71L343.32 72.71L344.12 70.68L342.72 70.79L341.33 71L340.53 72.9z" fill="#ffe100"/>
<path d="M333.76 81.99L335.14 81.98L336.53 82.06L337.33 80.27L338.13 78.46L336.74 78.51L335.36 78.65L334.56 80.33z" fill="#ffff2a"/>
<path d="M310.26 98.61L311.63 98.48L312.99 98.34L313.82 97.31L314.64 96.27L313.28 96.52L311.92 96.75L311.09 97.68z" fill="#ffffeb"/>
<path d="M314.64 96.27L316.01 96.08L317.38 96.01L318.2 94.85L319.02 93.69L317.65 93.87L316.28 94.18L315.46 95.23z" fill="#ffffd0"/>
<path d="M345.71 66.54L347.11 66.3L348.51 66.08L349.31 63.84L350.11 61.57L348.7 61.92L347.3 62.3L346.51 64.43z" fill="#ffa000"/>
<path d="M319.02 93.69L320.39 93.61L321.77 93.61L322.58 92.33L323.39 91.02L322.02 91.13L320.65 91.32L319.83 92.51z" fill="#ffffb0"/>
<path d="M305.85 99.15L307.23 99.89L308.6 100.45L309.43 99.53L310.26 98.61L308.9 98.68L307.53 97.98L306.69 98.56z" fill="#fffffb"/>
<path d="M323.39 91.02L324.77 91L326.15 91.09L326.96 89.66L327.77 88.21L326.39 88.24L325.01 88.37L324.2 89.7z" fill="#ffff91"/>
<path d="M338.13 78.46L339.52 78.51L340.92 78.64L341.72 76.69L342.52 74.71L341.12 74.7L339.73 74.78L338.93 76.63z" fill="#fffc00"/>
<path d="M327.77 88.21L329.15 88.29L330.54 88.44L331.34 86.86L332.15 85.26L330.76 85.22L329.38 85.26L328.58 86.74z" fill="#ffff6d"/>
<path d="M344.12 70.68L345.51 70.57L346.91 70.48L347.71 68.29L348.51 66.08L347.11 66.3L345.71 66.54L344.91 68.62z" fill="#ffbd00"/>
<path d="M295.87 93.28L297.27 95.05L298.66 96.64L299.5 95.89L300.35 95.14L298.96 93.4L297.56 91.44L296.72 92.36z" fill="#ffffc0"/>
<path d="M298.66 96.64L300.04 97.91L301.42 98.86L302.26 98.21L303.11 97.56L301.73 96.53L300.35 95.14L299.5 95.89z" fill="#ffffdf"/>
<path d="M332.15 85.26L333.54 85.37L334.93 85.55L335.73 83.82L336.53 82.06L335.14 81.98L333.76 81.99L332.95 83.64z" fill="#ffff46"/>
<path d="M342.52 74.71L343.91 74.73L345.31 74.75L346.11 72.63L346.91 70.48L345.51 70.57L344.12 70.68L343.32 72.71z" fill="#ffda00"/>
<path d="M336.53 82.06L337.92 82.22L339.32 82.45L340.12 80.56L340.92 78.64L339.52 78.51L338.13 78.46L337.33 80.27z" fill="#ffff1f"/>
<path d="M301.42 98.86L302.8 99.64L304.17 100.34L305.01 99.74L305.85 99.15L304.48 98.4L303.11 97.56L302.26 98.21z" fill="#ffffef"/>
<path d="M350.11 61.57L351.51 61.27L352.92 61.06L353.72 58.65L352.31 58.91L350.9 59.27z" fill="#ff7900"/>
<path d="M312.99 98.34L314.36 98.25L315.74 98.27L316.56 97.15L317.38 96.01L316.01 96.08L314.64 96.27L313.82 97.31z" fill="#ffffdc"/>
<path d="M317.38 96.01L318.75 96.03L320.13 96.14L320.95 94.88L321.77 93.61L320.39 93.61L319.02 93.69L318.2 94.85z" fill="#ffffc0"/>
<path d="M321.77 93.61L323.15 93.7L324.53 93.88L325.34 92.5L326.15 91.09L324.77 91L323.39 91.02L322.58 92.33z" fill="#ffffa4"/>
<path d="M308.6 100.45L309.97 100.41L311.34 100.37L312.17 99.36L312.99 98.34L311.63 98.48L310.26 98.61L309.43 99.53z" fill="#fffff3"/>
<path d="M326.15 91.09L327.54 91.27L328.92 91.52L329.73 89.99L330.54 88.44L329.15 88.29L327.77 88.21L326.96 89.66z" fill="#ffff85"/>
<path d="M348.51 66.08L349.91 65.91L351.32 65.81L352.12 63.45L352.92 61.06L351.51 61.27L350.11 61.57L349.31 63.84z" fill="#ff9300"/>
<path d="M330.54 88.44L331.93 88.65L333.32 88.94L334.12 87.26L334.93 85.55L333.54 85.37L332.15 85.26L331.34 86.86z" fill="#ffff65"/>
<path d="M340.92 78.64L342.31 78.77L343.71 78.9L344.51 76.84L345.31 74.75L343.91 74.73L342.52 74.71L341.72 76.69z" fill="#fff400"/>
<path d="M334.93 85.55L336.32 85.82L337.71 86.15L338.51 84.32L339.32 82.45L337.92 82.22L336.53 82.06L335.73 83.82z" fill="#ffff42"/>
<path d="M346.91 70.48L348.31 70.42L349.72 70.42L350.52 68.13L351.32 65.81L349.91 65.91L348.51 66.08L347.71 68.29z" fill="#ffb200"/>
<path d="M304.17 100.34L305.55 101.04L306.93 101.79L307.77 101.25L308.6 100.45L307.23 99.89L305.85 99.15L305.01 99.74z" fill="#fffffb"/>
<path d="M339.32 82.45L340.71 82.69L342.11 82.92L342.91 80.93L343.71 78.9L342.31 78.77L340.92 78.64L340.12 80.56z" fill="#ffff17"/>
<path d="M294.18 95.12L295.55 95.85L296.93 96.53L297.78 96.01L298.66 96.64L297.27 95.05L295.87 93.28L295.03 94.2z" fill="#ffffbc"/>
<path d="M345.31 74.75L346.71 74.8L348.12 74.89L348.92 72.67L349.72 70.42L348.31 70.42L346.91 70.48L346.11 72.63z" fill="#ffd200"/>
<path d="M324.53 93.88L325.91 94.17L327.3 94.51L328.11 93.03L328.92 91.52L327.54 91.27L326.15 91.09L325.34 92.5z" fill="#ffff9d"/>
<path d="M320.13 96.14L321.51 96.32L322.9 96.6L323.71 95.25L324.53 93.88L323.15 93.7L321.77 93.61L320.95 94.88z" fill="#ffffb8"/>
<path d="M328.92 91.52L330.31 91.84L331.7 92.22L332.51 90.59L333.32 88.94L331.93 88.65L330.54 88.44L329.73 89.99z" fill="#ffff81"/>
<path d="M315.74 98.27L317.11 98.4L318.49 98.59L319.31 97.37L320.13 96.14L318.75 96.03L317.38 96.01L316.56 97.15z" fill="#ffffd0"/>
<path d="M352.92 61.06L354.33 60.98L355.74 61.05L356.54 58.56L355.13 58.52L353.72 58.65z" fill="#ff6e00"/>
<path d="M333.32 88.94L334.71 89.3L336.1 89.72L336.91 87.95L337.71 86.15L336.32 85.82L334.93 85.55L334.12 87.26z" fill="#ffff61"/>
<path d="M311.34 100.37L312.71 100.38L314.09 100.5L314.91 99.39L315.74 98.27L314.36 98.25L312.99 98.34L312.17 99.36z" fill="#ffffe7"/>
<path d="M351.32 65.81L352.73 65.8L354.14 65.92L354.94 63.5L355.74 61.05L354.33 60.98L352.92 61.06L352.12 63.45z" fill="#ff8800"/>
<path d="M343.71 78.9L345.11 79.05L346.51 79.23L347.32 77.08L348.12 74.89L346.71 74.8L345.31 74.75L344.51 76.84z" fill="#ffef00"/>
<path d="M296.93 96.53L298.3 97.12L299.67 97.62L300.53 97.33L301.42 98.86L300.04 97.91L298.66 96.64L297.78 96.01z" fill="#ffffcc"/>
<path d="M306.93 101.79L308.3 102.31L309.67 102.37L310.51 101.37L311.34 100.37L309.97 100.41L308.6 100.45L307.77 101.25z" fill="#fffffb"/>
<path d="M337.71 86.15L339.11 86.48L340.5 86.8L341.31 84.88L342.11 82.92L340.71 82.69L339.32 82.45L338.51 84.32z" fill="#ffff3e"/>
<path d="M349.72 70.42L351.13 70.49L352.53 70.66L353.33 68.31L354.14 65.92L352.73 65.8L351.32 65.81L350.52 68.13z" fill="#ffaa00"/>
<path d="M342.11 82.92L343.51 83.16L344.91 83.41L345.71 81.34L346.51 79.23L345.11 79.05L343.71 78.9L342.91 80.93z" fill="#ffff0f"/>
<path d="M327.3 94.51L328.69 94.91L330.08 95.37L330.89 93.81L331.7 92.22L330.31 91.84L328.92 91.52L328.11 93.03z" fill="#ffff99"/>
<path d="M348.12 74.89L349.52 75.04L350.93 75.25L351.73 72.97L352.53 70.66L351.13 70.49L349.72 70.42L348.92 72.67z" fill="#ffca00"/>
<path d="M331.7 92.22L333.09 92.66L334.49 93.15L335.3 91.46L336.1 89.72L334.71 89.3L333.32 88.94L332.51 90.59z" fill="#ffff81"/>
<path d="M322.9 96.6L324.28 96.96L325.67 97.38L326.49 95.96L327.3 94.51L325.91 94.17L324.53 93.88L323.71 95.25z" fill="#ffffb4"/>
<path d="M299.67 97.62L301.04 98.06L302.42 98.46L303.28 98.3L304.17 100.34L302.8 99.64L301.42 98.86L300.53 97.33z" fill="#ffffd4"/>
<path d="M336.1 89.72L337.5 90.13L338.9 90.53L339.7 88.69L340.5 86.8L339.11 86.48L337.71 86.15L336.91 87.95z" fill="#ffff5e"/>
<path d="M318.49 98.59L319.88 98.86L321.26 99.22L322.08 97.92L322.9 96.6L321.51 96.32L320.13 96.14L319.31 97.37z" fill="#ffffc8"/>
<path d="M355.74 61.05L357.15 61.29L358.56 61.6L359.36 59.08L357.95 58.79L356.54 58.56z" fill="#ff6900"/>
<path d="M314.09 100.5L315.46 100.7L316.85 100.98L317.67 99.79L318.49 98.59L317.11 98.4L315.74 98.27L314.91 99.39z" fill="#ffffdc"/>
<path d="M354.14 65.92L355.55 66.19L356.96 66.53L357.76 64.08L358.56 61.6L357.15 61.29L355.74 61.05L354.94 63.5z" fill="#ff8300"/>
<path d="M346.51 79.23L347.92 79.44L349.33 79.69L350.13 77.49L350.93 75.25L349.52 75.04L348.12 74.89L347.32 77.08z" fill="#ffe900"/>
<path d="M340.5 86.8L341.9 87.12L343.31 87.44L344.11 85.45L344.91 83.41L343.51 83.16L342.11 82.92L341.31 84.88z" fill="#ffff3a"/>
<path d="M292.48 96.97L293.85 97.5L295.22 98.02L296.07 97.2L296.93 96.53L295.55 95.85L294.18 95.12L293.33 96.04z" fill="#ffffbc"/>
<path d="M309.67 102.37L311.05 102.47L312.43 102.67L313.26 101.59L314.09 100.5L312.71 100.38L311.34 100.37L310.51 101.37z" fill="#ffffef"/>
<path d="M352.53 70.66L353.94 70.95L355.35 71.32L356.15 68.95L356.96 66.53L355.55 66.19L354.14 65.92L353.33 68.31z" fill="#ffa500"/>
<path d="M330.08 95.37L331.48 95.88L332.87 96.44L333.68 94.81L334.49 93.15L333.09 92.66L331.7 92.22L330.89 93.81z" fill="#ffff9d"/>
<path d="M302.42 98.46L303.79 98.83L305.17 99.19L306.03 99.19L306.93 101.79L305.55 101.04L304.17 100.34L303.28 98.3z" fill="#ffffd8"/>
<path d="M344.91 83.41L346.32 83.68L347.72 83.98L348.52 81.86L349.33 79.69L347.92 79.44L346.51 79.23L345.71 81.34z" fill="#ffff0b"/>
<path d="M334.49 93.15L335.89 93.63L337.28 94.1L338.09 92.34L338.9 90.53L337.5 90.13L336.1 89.72L335.3 91.46z" fill="#ffff81"/>
<path d="M325.67 97.38L327.06 97.86L328.46 98.38L329.27 96.89L330.08 95.37L328.69 94.91L327.3 94.51L326.49 95.96z" fill="#ffffb4"/>
<path d="M350.93 75.25L352.34 75.57L353.75 75.97L354.55 73.66L355.35 71.32L353.94 70.95L352.53 70.66L351.73 72.97z" fill="#ffc700"/>
<path d="M338.9 90.53L340.3 90.92L341.7 91.3L342.5 89.4L343.31 87.44L341.9 87.12L340.5 86.8L339.7 88.69z" fill="#ffff5e"/>
<path d="M321.26 99.22L322.65 99.65L324.04 100.14L324.86 98.78L325.67 97.38L324.28 96.96L322.9 96.6L322.08 97.92z" fill="#ffffc8"/>
<path d="M358.56 61.6L359.97 61.94L361.39 62.32L362.19 59.76L360.78 59.4L359.36 59.08z" fill="#ff6600"/>
<path d="M295.22 98.02L296.59 98.48L297.96 98.89L298.82 98.14L299.67 97.62L298.3 97.12L296.93 96.53L296.07 97.2z" fill="#ffffc0"/>
<path d="M356.96 66.53L358.37 66.92L359.78 67.35L360.59 64.86L361.39 62.32L359.97 61.94L358.56 61.6L357.76 64.08z" fill="#ff8300"/>
<path d="M316.85 100.98L318.23 101.33L319.62 101.75L320.44 100.5L321.26 99.22L319.88 98.86L318.49 98.59L317.67 99.79z" fill="#ffffd8"/>
<path d="M349.33 79.69L350.73 80.03L352.14 80.46L352.95 78.23L353.75 75.97L352.34 75.57L350.93 75.25L350.13 77.49z" fill="#ffe700"/>
<path d="M343.31 87.44L344.71 87.77L346.11 88.1L346.92 86.06L347.72 83.98L346.32 83.68L344.91 83.41L344.11 85.45z" fill="#ffff36"/>
<path d="M392.19 96.73L393.55 99.65L394.9 102.6L395.68 100.51L394.34 97.36L392.99 94.27z" fill="#ffffc4"/>
<path d="M312.43 102.67L313.81 102.96L315.19 103.3L316.02 102.15L316.85 100.98L315.46 100.7L314.09 100.5L313.26 101.59z" fill="#ffffe7"/>
<path d="M355.35 71.32L356.76 71.75L358.18 72.24L358.98 69.81L359.78 67.35L358.37 66.92L356.96 66.53L356.15 68.95z" fill="#ffa500"/>
<path d="M332.87 96.44L334.27 96.97L335.67 97.5L336.48 95.82L337.28 94.1L335.89 93.63L334.49 93.15L333.68 94.81z" fill="#ffff9d"/>
<path d="M305.17 99.19L306.55 99.52L307.93 99.8L308.79 100.01L309.67 102.37L308.3 102.31L306.93 101.79L306.03 99.19z" fill="#ffffd8"/>
<path d="M337.28 94.1L338.68 94.55L340.09 94.99L340.89 93.17L341.7 91.3L340.3 90.92L338.9 90.53L338.09 92.34z" fill="#ffff81"/>
<path d="M394.9 102.6L396.38 101.77L397.92 99.54L398.62 99.73L397.08 102.2L395.68 100.51z" fill="#ffffdf"/>
<path d="M328.46 98.38L329.85 98.95L331.25 99.55L332.06 98.01L332.87 96.44L331.48 95.88L330.08 95.37L329.27 96.89z" fill="#ffffb4"/>
<path d="M347.72 83.98L349.13 84.33L350.54 84.79L351.34 82.64L352.14 80.46L350.73 80.03L349.33 79.69L348.52 81.86z" fill="#ffff0b"/>
<path d="M290.77 98.82L292.14 99.39L293.52 99.94L294.37 98.94L295.22 98.02L293.85 97.5L292.48 96.97L291.62 97.89z" fill="#ffffc0"/>
<path d="M353.75 75.97L355.16 76.43L356.57 76.97L357.37 74.62L358.18 72.24L356.76 71.75L355.35 71.32L354.55 73.66z" fill="#ffc700"/>
<path d="M324.04 100.14L325.43 100.68L326.83 101.25L327.64 99.83L328.46 98.38L327.06 97.86L325.67 97.38L324.86 98.78z" fill="#ffffc8"/>
<path d="M341.7 91.3L343.1 91.68L344.51 92.04L345.31 90.09L346.11 88.1L344.71 87.77L343.31 87.44L342.5 89.4z" fill="#ffff5e"/>
<path d="M390.6 101.49L391.97 104.08L393.47 102.82L394.16 103.36L394.9 102.6L393.55 99.65L392.19 96.73L391.4 99.14z" fill="#ffffdc"/>
<path d="M361.39 62.32L362.81 62.75L364.22 63.24L365.03 60.6L363.61 60.15L362.19 59.76z" fill="#ff6600"/>
<path d="M297.96 98.89L299.34 99.25L300.71 99.58L301.56 98.88L302.42 98.46L301.04 98.06L299.67 97.62L298.82 98.14z" fill="#ffffc0"/>
<path d="M359.78 67.35L361.2 67.84L362.61 68.4L363.42 65.84L364.22 63.24L362.81 62.75L361.39 62.32L360.59 64.86z" fill="#ff8300"/>
<path d="M319.62 101.75L321.01 102.25L322.4 102.78L323.22 101.48L324.04 100.14L322.65 99.65L321.26 99.22L320.44 100.5z" fill="#ffffd8"/>
<path d="M352.14 80.46L353.55 80.96L354.96 81.54L355.77 79.27L356.57 76.97L355.16 76.43L353.75 75.97L352.95 78.23z" fill="#ffe700"/>
<path d="M346.11 88.1L347.52 88.47L348.93 88.95L349.73 86.89L350.54 84.79L349.13 84.33L347.72 83.98L346.92 86.06z" fill="#ffff32"/>
<path d="M358.18 72.24L359.59 72.79L361 73.41L361.81 70.92L362.61 68.4L361.2 67.84L359.78 67.35L358.98 69.81z" fill="#ffa800"/>
<path d="M315.19 103.3L316.58 103.72L317.97 104.19L318.8 102.98L319.62 101.75L318.23 101.33L316.85 100.98L316.02 102.15z" fill="#ffffe7"/>
<path d="M389.47 91L390.83 93.79L392.19 96.73L392.99 94.27L391.64 91.18L390.28 88.26z" fill="#ffff75"/>
<path d="M335.67 97.5L337.07 98L338.47 98.47L339.28 96.75L340.09 94.99L338.68 94.55L337.28 94.1L336.48 95.82z" fill="#ffffa0"/>
<path d="M331.25 99.55L332.65 100.13L334.05 100.69L334.86 99.12L335.67 97.5L334.27 96.97L332.87 96.44L332.06 98.01z" fill="#ffffb8"/>
<path d="M387.86 96.32L389.23 98.86L390.6 101.49L391.4 99.14L392.19 96.73L390.83 93.79L389.47 91L388.66 93.69z" fill="#ffffa0"/>
<path d="M340.09 94.99L341.49 95.4L342.9 95.79L343.7 93.94L344.51 92.04L343.1 91.68L341.7 91.3L340.89 93.17z" fill="#ffff81"/>
<path d="M356.57 76.97L357.98 77.58L359.4 78.26L360.2 75.85L361 73.41L359.59 72.79L358.18 72.24L357.37 74.62z" fill="#ffca00"/>
<path d="M350.54 84.79L351.95 85.33L353.36 85.95L354.16 83.77L354.96 81.54L353.55 80.96L352.14 80.46L351.34 82.64z" fill="#ffff0b"/>
<path d="M293.52 99.94L294.89 100.44L296.26 100.87L297.11 99.82L297.96 98.89L296.59 98.48L295.22 98.02L294.37 98.94z" fill="#ffffc0"/>
<path d="M326.83 101.25L328.22 101.86L329.62 102.49L330.44 101.04L331.25 99.55L329.85 98.95L328.46 98.38L327.64 99.83z" fill="#ffffcc"/>
<path d="M307.93 99.8L309.31 100.04L310.7 100.22L311.55 100.62L312.43 102.67L311.05 102.47L309.67 102.37L308.79 100.01z" fill="#ffffd4"/>
<path d="M364.22 63.24L365.64 63.79L367.06 64.53L367.87 61.81L366.45 61.12L365.03 60.6z" fill="#ff6900"/>
<path d="M344.51 92.04L345.91 92.43L347.32 92.93L348.13 90.96L348.93 88.95L347.52 88.47L346.11 88.1L345.31 90.09z" fill="#ffff5a"/>
<path d="M362.61 68.4L364.03 69.03L365.44 69.83L366.25 67.2L367.06 64.53L365.64 63.79L364.22 63.24L363.42 65.84z" fill="#ff8800"/>
<path d="M386.26 101.41L387.64 103.71L389.06 104.68L389.81 103.79L390.6 101.49L389.23 98.86L387.86 96.32L387.06 98.9z" fill="#ffffd4"/>
<path d="M354.96 81.54L356.38 82.21L357.79 82.95L358.59 80.63L359.4 78.26L357.98 77.58L356.57 76.97L355.77 79.27z" fill="#ffec00"/>
<path d="M322.4 102.78L323.8 103.36L325.19 103.96L326.01 102.63L326.83 101.25L325.43 100.68L324.04 100.14L323.22 101.48z" fill="#ffffdc"/>
<path d="M300.71 99.58L302.09 99.88L303.47 100.16L304.32 99.51L305.17 99.19L303.79 98.83L302.42 98.46L301.56 98.88z" fill="#ffffbc"/>
<path d="M361 73.41L362.42 74.11L363.83 74.99L364.64 72.43L365.44 69.83L364.03 69.03L362.61 68.4L361.81 70.92z" fill="#ffad00"/>
<path d="M348.93 88.95L350.34 89.52L351.75 90.19L352.56 88.1L353.36 85.95L351.95 85.33L350.54 84.79L349.73 86.89z" fill="#ffff36"/>
<path d="M289.05 100.69L290.43 101.37L291.81 102.01L292.66 100.97L293.52 99.94L292.14 99.39L290.77 98.82L289.91 99.75z" fill="#ffffc8"/>
<path d="M393.47 102.82L394.98 101.04L396.5 99.26L397.21 99.38L397.92 99.54L396.38 101.77L394.9 102.6L394.16 103.36z" fill="#ffffd0"/>
<path d="M386.71 86.11L388.09 88.48L389.47 91L390.28 88.26L388.91 85.65L387.53 83.21z" fill="#ffff32"/>
<path d="M359.4 78.26L360.81 79.04L362.22 79.97L363.03 77.5L363.83 74.99L362.42 74.11L361 73.41L360.2 75.85z" fill="#ffd200"/>
<path d="M385.09 91.74L386.48 93.98L387.86 96.32L388.66 93.69L389.47 91L388.09 88.48L386.71 86.11L385.9 88.96z" fill="#ffff5e"/>
<path d="M317.97 104.19L319.36 104.73L320.76 105.29L321.58 104.06L322.4 102.78L321.01 102.25L319.62 101.75L318.8 102.98z" fill="#ffffe7"/>
<path d="M334.05 100.69L335.45 101.23L336.85 101.73L337.66 100.13L338.47 98.47L337.07 98L335.67 97.5L334.86 99.12z" fill="#ffffbc"/>
<path d="M353.36 85.95L354.77 86.67L356.18 87.48L356.99 85.24L357.79 82.95L356.38 82.21L354.96 81.54L354.16 83.77z" fill="#ffff13"/>
<path d="M338.47 98.47L339.88 98.91L341.28 99.32L342.09 97.58L342.9 95.79L341.49 95.4L340.09 94.99L339.28 96.75z" fill="#ffffa0"/>
<path d="M383.48 97.14L384.87 99.25L386.26 101.41L387.06 98.9L387.86 96.32L386.48 93.98L385.09 91.74L384.29 94.47z" fill="#ffff9d"/>
<path d="M367.06 64.53L368.47 65.43L369.89 66.44L370.7 63.66L369.28 62.68L367.87 61.81z" fill="#ff7100"/>
<path d="M389.06 104.68L390.56 103.26L392.06 101.87L392.76 102.32L393.47 102.82L391.97 104.08L390.6 101.49L389.81 103.79z" fill="#ffffe3"/>
<path d="M329.62 102.49L331.02 103.09L332.42 103.67L333.24 102.21L334.05 100.69L332.65 100.13L331.25 99.55L330.44 101.04z" fill="#ffffd4"/>
<path d="M365.44 69.83L366.86 70.8L368.27 71.88L369.08 69.18L369.89 66.44L368.47 65.43L367.06 64.53L366.25 67.2z" fill="#ff9000"/>
<path d="M342.9 95.79L344.3 96.19L345.71 96.72L346.52 94.85L347.32 92.93L345.91 92.43L344.51 92.04L343.7 93.94z" fill="#ffff81"/>
<path d="M357.79 82.95L359.2 83.8L360.61 84.79L361.42 82.4L362.22 79.97L360.81 79.04L359.4 78.26L358.59 80.63z" fill="#fff400"/>
<path d="M296.26 100.87L297.64 101.25L299.02 101.59L299.86 100.51L300.71 99.58L299.34 99.25L297.96 98.89L297.11 99.82z" fill="#ffffc0"/>
<path d="M363.83 74.99L365.24 76.01L366.66 77.15L367.46 74.54L368.27 71.88L366.86 70.8L365.44 69.83L364.64 72.43z" fill="#ffb700"/>
<path d="M381.87 102.3L383.27 104.27L384.67 105.7L385.46 103.87L386.26 101.41L384.87 99.25L383.48 97.14L382.68 99.75z" fill="#ffffd0"/>
<path d="M347.32 92.93L348.73 93.54L350.14 94.25L350.95 92.25L351.75 90.19L350.34 89.52L348.93 88.95L348.13 90.96z" fill="#ffff5e"/>
<path d="M325.19 103.96L326.59 104.59L327.99 105.22L328.81 103.88L329.62 102.49L328.22 101.86L326.83 101.25L326.01 102.63z" fill="#ffffdf"/>
<path d="M310.7 100.22L312.08 100.35L313.47 100.43L314.32 101L315.19 103.3L313.81 102.96L312.43 102.67L311.55 100.62z" fill="#ffffcc"/>
<path d="M362.22 79.97L363.63 81.06L365.04 82.26L365.85 79.73L366.66 77.15L365.24 76.01L363.83 74.99L363.03 77.5z" fill="#ffdc00"/>
<path d="M382.32 87.49L383.71 89.58L385.09 91.74L385.9 88.96L386.71 86.11L385.33 83.86L383.94 81.7L383.13 84.62z" fill="#ffff26"/>
<path d="M380.7 93.05L382.09 95.08L383.48 97.14L384.29 94.47L385.09 91.74L383.71 89.58L382.32 87.49L381.51 90.3z" fill="#ffff65"/>
<path d="M351.75 90.19L353.16 90.96L354.58 91.83L355.38 89.67L356.18 87.48L354.77 86.67L353.36 85.95L352.56 88.1z" fill="#ffff3e"/>
<path d="M383.94 81.7L385.33 83.86L386.71 86.11L387.53 83.21L386.14 80.91L384.76 78.72z" fill="#fff900"/>
<path d="M369.89 66.44L371.3 67.51L372.71 68.59L373.53 65.74L372.11 64.7L370.7 63.66z" fill="#ff7e00"/>
<path d="M379.08 98.39L380.48 100.34L381.87 102.3L382.68 99.75L383.48 97.14L382.09 95.08L380.7 93.05L379.89 95.75z" fill="#ffffa0"/>
<path d="M368.27 71.88L369.68 73.02L371.09 74.18L371.9 71.41L372.71 68.59L371.3 67.51L369.89 66.44L369.08 69.18z" fill="#ff9d00"/>
<path d="M356.18 87.48L357.59 88.38L359.01 89.44L359.81 87.14L360.61 84.79L359.2 83.8L357.79 82.95L356.99 85.24z" fill="#ffff1f"/>
<path d="M366.66 77.15L368.07 78.35L369.48 79.58L370.29 76.9L371.09 74.18L369.68 73.02L368.27 71.88L367.46 74.54z" fill="#ffc500"/>
<path d="M291.81 102.01L293.19 102.58L294.56 103.08L295.42 101.97L296.26 100.87L294.89 100.44L293.52 99.94L292.66 100.97z" fill="#ffffcc"/>
<path d="M384.67 105.7L386.16 104.5L387.65 103.3L388.36 103.95L389.06 104.68L387.64 103.71L386.26 101.41L385.46 103.87z" fill="#ffffe7"/>
<path d="M360.61 84.79L362.02 85.94L363.43 87.19L364.24 84.74L365.04 82.26L363.63 81.06L362.22 79.97L361.42 82.4z" fill="#fffe00"/>
<path d="M303.47 100.16L304.85 100.39L306.23 100.57L307.08 99.99L307.93 99.8L306.55 99.52L305.17 99.19L304.32 99.51z" fill="#ffffb8"/>
<path d="M365.04 82.26L366.45 83.52L367.86 84.81L368.67 82.22L369.48 79.58L368.07 78.35L366.66 77.15L365.85 79.73z" fill="#ffec00"/>
<path d="M320.76 105.29L322.15 105.89L323.55 106.49L324.37 105.25L325.19 103.96L323.8 103.36L322.4 102.78L321.58 104.06z" fill="#ffffeb"/>
<path d="M377.91 89.02L379.3 91.02L380.7 93.05L381.51 90.3L382.32 87.49L380.92 85.4L379.53 83.36L378.72 86.22z" fill="#ffff36"/>
<path d="M377.47 103.48L378.87 105.34L380.3 106.01L381.07 104.78L381.87 102.3L380.48 100.34L379.08 98.39L378.28 100.97z" fill="#ffffd8"/>
<path d="M379.53 83.36L380.92 85.4L382.32 87.49L383.13 84.62L383.94 81.7L382.55 79.56L381.16 77.49L380.34 80.45z" fill="#fff600"/>
<path d="M376.29 94.46L377.69 96.42L379.08 98.39L379.89 95.75L380.7 93.05L379.3 91.02L377.91 89.02L377.1 91.77z" fill="#ffff71"/>
<path d="M336.85 101.73L338.26 102.2L339.67 102.63L340.48 101.01L341.28 99.32L339.88 98.91L338.47 98.47L337.66 100.13z" fill="#ffffc0"/>
<path d="M371.09 74.18L372.51 75.43L373.92 76.79L374.73 73.95L375.54 71.07L374.13 69.77L372.71 68.59L371.9 71.41z" fill="#ffad00"/>
<path d="M369.48 79.58L370.89 80.9L372.3 82.33L373.11 79.58L373.92 76.79L372.51 75.43L371.09 74.18L370.29 76.9z" fill="#ffd700"/>
<path d="M372.71 68.59L374.13 69.77L375.54 71.07L376.35 68.14L374.94 66.88L373.53 65.74z" fill="#ff8e00"/>
<path d="M381.16 77.49L382.55 79.56L383.94 81.7L384.76 78.72L383.37 76.56L381.97 74.48z" fill="#ffd400"/>
<path d="M341.28 99.32L342.69 99.74L344.1 100.3L344.91 98.54L345.71 96.72L344.3 96.19L342.9 95.79L342.09 97.58z" fill="#ffffa0"/>
<path d="M332.42 103.67L333.83 104.22L335.23 104.74L336.04 103.27L336.85 101.73L335.45 101.23L334.05 100.69L333.24 102.21z" fill="#ffffd8"/>
<path d="M374.68 99.67L376.08 101.58L377.47 103.48L378.28 100.97L379.08 98.39L377.69 96.42L376.29 94.46L375.48 97.09z" fill="#ffffac"/>
<path d="M363.43 87.19L364.84 88.5L366.25 89.86L367.06 87.36L367.86 84.81L366.45 83.52L365.04 82.26L364.24 84.74z" fill="#ffff1b"/>
<path d="M345.71 96.72L347.12 97.37L348.54 98.13L349.34 96.21L350.14 94.25L348.73 93.54L347.32 92.93L346.52 94.85z" fill="#ffff85"/>
<path d="M367.86 84.81L369.27 86.2L370.68 87.67L371.49 85.02L372.3 82.33L370.89 80.9L369.48 79.58L368.67 82.22z" fill="#fffe00"/>
<path d="M359.01 89.44L360.42 90.64L361.82 91.94L362.63 89.59L363.43 87.19L362.02 85.94L360.61 84.79L359.81 87.14z" fill="#ffff32"/>
<path d="M350.14 94.25L351.56 95.07L352.97 96L353.77 93.94L354.58 91.83L353.16 90.96L351.75 90.19L350.95 92.25z" fill="#ffff69"/>
<path d="M354.58 91.83L355.99 92.8L357.4 93.91L358.2 91.7L359.01 89.44L357.59 88.38L356.18 87.48L355.38 89.67z" fill="#ffff4e"/>
<path d="M375.11 85.44L376.51 87.13L377.91 89.02L378.72 86.22L379.53 83.36L378.13 81.47L376.73 79.8L375.92 82.64z" fill="#ffff07"/>
<path d="M397.92 99.54L399.46 97.26L401.02 94.93L401.73 94.61L400.17 97.2L398.62 99.73z" fill="#ffff99"/>
<path d="M372.3 82.33L373.7 83.84L375.11 85.44L375.92 82.64L376.73 79.8L375.32 78.25L373.92 76.79L373.11 79.58z" fill="#ffec00"/>
<path d="M373.49 90.87L374.89 92.59L376.29 94.46L377.1 91.77L377.91 89.02L376.51 87.13L375.11 85.44L374.3 88.18z" fill="#ffff46"/>
<path d="M373.92 76.79L375.32 78.25L376.73 79.8L377.54 76.91L378.36 73.97L376.95 72.47L375.54 71.07L374.73 73.95z" fill="#ffbf00"/>
<path d="M376.73 79.8L378.13 81.47L379.53 83.36L380.34 80.45L381.16 77.49L379.76 75.6L378.36 73.97L377.54 76.91z" fill="#ffd700"/>
<path d="M370.68 87.67L372.09 89.24L373.49 90.87L374.3 88.18L375.11 85.44L373.7 83.84L372.3 82.33L371.49 85.02z" fill="#ffff1f"/>
<path d="M375.54 71.07L376.95 72.47L378.36 73.97L379.17 70.98L377.76 69.51L376.35 68.14z" fill="#ffa000"/>
<path d="M366.25 89.86L367.66 91.3L369.07 92.83L369.87 90.27L370.68 87.67L369.27 86.2L367.86 84.81L367.06 87.36z" fill="#ffff36"/>
<path d="M371.88 96.09L373.28 97.82L374.68 99.67L375.48 97.09L376.29 94.46L374.89 92.59L373.49 90.87L372.68 93.51z" fill="#ffff81"/>
<path d="M378.36 73.97L379.76 75.6L381.16 77.49L381.97 74.48L380.58 72.59L379.17 70.98z" fill="#ffb700"/>
<path d="M327.99 105.22L329.39 105.82L330.79 106.4L331.61 105.07L332.42 103.67L331.02 103.09L329.62 102.49L328.81 103.88z" fill="#ffffe7"/>
<path d="M369.07 92.83L370.47 94.43L371.88 96.09L372.68 93.51L373.49 90.87L372.09 89.24L370.68 87.67L369.87 90.27z" fill="#ffff5a"/>
<path d="M299.02 101.59L300.4 101.91L301.78 102.2L302.62 101.08L303.47 100.16L302.09 99.88L300.71 99.58L299.86 100.51z" fill="#ffffc0"/>
<path d="M361.82 91.94L363.23 93.31L364.64 94.72L365.45 92.31L366.25 89.86L364.84 88.5L363.43 87.19L362.63 89.59z" fill="#ffff4e"/>
<path d="M287.33 102.56L288.71 103.31L290.09 104.01L290.95 103.02L291.81 102.01L290.43 101.37L289.05 100.69L288.19 101.62z" fill="#ffffd0"/>
<path d="M373.07 104.64L374.47 106.48L375.92 106.15L376.67 105.93L377.47 103.48L376.08 101.58L374.68 99.67L373.87 102.19z" fill="#ffffdf"/>
<path d="M380.3 106.01L381.77 105.03L383.25 104.07L383.96 104.85L384.67 105.7L383.27 104.27L381.87 102.3L381.07 104.78z" fill="#ffffe7"/>
<path d="M370.27 101.09L371.67 102.82L373.07 104.64L373.87 102.19L374.68 99.67L373.28 97.82L371.88 96.09L371.07 98.62z" fill="#ffffb8"/>
<path d="M357.4 93.91L358.81 95.16L360.22 96.51L361.02 94.25L361.82 91.94L360.42 90.64L359.01 89.44L358.2 91.7z" fill="#ffff65"/>
<path d="M364.64 94.72L366.05 96.21L367.46 97.78L368.26 95.33L369.07 92.83L367.66 91.3L366.25 89.86L365.45 92.31z" fill="#ffff6d"/>
<path d="M367.46 97.78L368.86 99.41L370.27 101.09L371.07 98.62L371.88 96.09L370.47 94.43L369.07 92.83L368.26 95.33z" fill="#ffff91"/>
<path d="M352.97 96L354.38 97.03L355.79 98.21L356.59 96.08L357.4 93.91L355.99 92.8L354.58 91.83L353.77 93.94z" fill="#ffff79"/>
<path d="M313.47 100.43L314.85 100.48L316.24 100.51L317.1 101.21L317.97 104.19L316.58 103.72L315.19 103.3L314.32 101z" fill="#ffffc8"/>
<path d="M323.55 106.49L324.95 107.1L326.35 107.7L327.17 106.5L327.99 105.22L326.59 104.59L325.19 103.96L324.37 105.25z" fill="#fffff3"/>
<path d="M294.56 103.08L295.94 103.53L297.32 103.94L298.17 102.76L299.02 101.59L297.64 101.25L296.26 100.87L295.42 101.97z" fill="#ffffcc"/>
<path d="M360.22 96.51L361.63 97.92L363.03 99.39L363.84 97.08L364.64 94.72L363.23 93.31L361.82 91.94L361.02 94.25z" fill="#ffff81"/>
<path d="M348.54 98.13L349.95 99.01L351.36 100L352.16 98.02L352.97 96L351.56 95.07L350.14 94.25L349.34 96.21z" fill="#ffff91"/>
<path d="M363.03 99.39L364.44 100.92L365.85 102.52L366.65 100.17L367.46 97.78L366.05 96.21L364.64 94.72L363.84 97.08z" fill="#ffffa0"/>
<path d="M344.1 100.3L345.51 100.99L346.92 101.82L347.73 100L348.54 98.13L347.12 97.37L345.71 96.72L344.91 98.54z" fill="#ffffa8"/>
<path d="M365.85 102.52L367.25 104.17L368.66 105.86L369.46 103.5L370.27 101.09L368.86 99.41L367.46 97.78L366.65 100.17z" fill="#ffffc4"/>
<path d="M339.67 102.63L341.08 103.06L342.49 103.66L343.29 102.01L344.1 100.3L342.69 99.74L341.28 99.32L340.48 101.01z" fill="#ffffc0"/>
<path d="M306.23 100.57L307.61 100.7L308.99 100.79L309.84 100.26L310.7 100.22L309.31 100.04L307.93 99.8L307.08 99.99z" fill="#ffffb0"/>
<path d="M368.66 105.86L370.07 107.27L371.53 106.36L372.27 107.02L373.07 104.64L371.67 102.82L370.27 101.09L369.46 103.5z" fill="#ffffe3"/>
<path d="M335.23 104.74L336.64 105.22L338.05 105.65L338.86 104.18L339.67 102.63L338.26 102.2L336.85 101.73L336.04 103.27z" fill="#ffffd8"/>
<path d="M355.79 98.21L357.2 99.51L358.61 100.9L359.41 98.73L360.22 96.51L358.81 95.16L357.4 93.91L356.59 96.08z" fill="#ffff91"/>
<path d="M375.92 106.15L377.39 105.23L378.86 104.36L379.58 105.14L380.3 106.01L378.87 105.34L377.47 103.48L376.67 105.93z" fill="#ffffe7"/>
<path d="M330.79 106.4L332.2 106.93L333.6 107.44L334.42 106.13L335.23 104.74L333.83 104.22L332.42 103.67L331.61 105.07z" fill="#ffffeb"/>
<path d="M358.61 100.9L360.02 102.36L361.43 103.87L362.23 101.65L363.03 99.39L361.63 97.92L360.22 96.51L359.41 98.73z" fill="#ffffac"/>
<path d="M290.09 104.01L291.47 104.63L292.85 105.19L293.71 104.16L294.56 103.08L293.19 102.58L291.81 102.01L290.95 103.02z" fill="#ffffd4"/>
<path d="M351.36 100L352.77 101.1L354.18 102.34L354.99 100.29L355.79 98.21L354.38 97.03L352.97 96L352.16 98.02z" fill="#ffffa0"/>
<path d="M361.43 103.87L362.84 105.44L364.24 107.06L365.05 104.81L365.85 102.52L364.44 100.92L363.03 99.39L362.23 101.65z" fill="#ffffd0"/>
<path d="M392.06 101.87L393.56 100.49L395.07 99.14L395.79 99.18L396.5 99.26L394.98 101.04L393.47 102.82L392.76 102.32z" fill="#ffffb4"/>
<path d="M301.78 102.2L303.16 102.46L304.54 102.67L305.38 101.5L306.23 100.57L304.85 100.39L303.47 100.16L302.62 101.08z" fill="#ffffb8"/>
<path d="M346.92 101.82L348.34 102.77L349.75 103.84L350.55 101.94L351.36 100L349.95 99.01L348.54 98.13L347.73 100z" fill="#ffffb4"/>
<path d="M326.35 107.7L327.75 108.27L329.16 108.79L329.98 107.64L330.79 106.4L329.39 105.82L327.99 105.22L327.17 106.5z" fill="#fffff7"/>
<path d="M354.18 102.34L355.59 103.7L357 105.14L357.81 103.04L358.61 100.9L357.2 99.51L355.79 98.21L354.99 100.29z" fill="#ffffbc"/>
<path d="M387.65 103.3L389.14 102.19L390.63 101.14L391.35 101.48L392.06 101.87L390.56 103.26L389.06 104.68L388.36 103.95z" fill="#ffffc8"/>
<path d="M364.24 107.06L365.67 107.37L367.12 106.55L367.87 107.32L368.66 105.86L367.25 104.17L365.85 102.52L365.05 104.81z" fill="#ffffe7"/>
<path d="M357 105.14L358.41 106.65L359.82 108.2L360.62 106.05L361.43 103.87L360.02 102.36L358.61 100.9L357.81 103.04z" fill="#ffffdc"/>
<path d="M342.49 103.66L343.9 104.42L345.31 105.32L346.12 103.59L346.92 101.82L345.51 100.99L344.1 100.3L343.29 102.01z" fill="#ffffc8"/>
<path d="M297.32 103.94L298.7 104.33L300.09 104.7L300.93 103.44L301.78 102.2L300.4 101.91L299.02 101.59L298.17 102.76z" fill="#ffffcc"/>
<path d="M316.24 100.51L317.64 100.52L319.03 100.52L319.88 101.31L320.76 105.29L319.36 104.73L317.97 104.19L317.1 101.21z" fill="#ffffc0"/>
<path d="M396.5 99.26L398.03 97.46L399.57 95.64L400.29 95.27L401.02 94.93L399.46 97.26L397.92 99.54L397.21 99.38z" fill="#ffff89"/>
<path d="M285.59 104.43L286.98 105.15L288.36 105.83L289.23 104.94L290.09 104.01L288.71 103.31L287.33 102.56L286.46 103.5z" fill="#ffffd4"/>
<path d="M338.05 105.65L339.46 106.11L340.87 106.78L341.68 105.25L342.49 103.66L341.08 103.06L339.67 102.63L338.86 104.18z" fill="#ffffdc"/>
<path d="M371.53 106.36L372.99 105.45L374.45 104.58L375.19 105.33L375.92 106.15L374.47 106.48L373.07 104.64L372.27 107.02z" fill="#ffffe7"/>
<path d="M349.75 103.84L351.16 105.02L352.57 106.34L353.38 104.35L354.18 102.34L352.77 101.1L351.36 100L350.55 101.94z" fill="#ffffc8"/>
<path d="M292.85 105.19L294.23 105.7L295.62 106.18L296.47 105.09L297.32 103.94L295.94 103.53L294.56 103.08L293.71 104.16z" fill="#ffffd8"/>
<path d="M383.25 104.07L384.73 103.1L386.22 102.18L386.93 102.7L387.65 103.3L386.16 104.5L384.67 105.7L383.96 104.85z" fill="#ffffd0"/>
<path d="M333.6 107.44L335.01 107.91L336.42 108.35L337.23 107.05L338.05 105.65L336.64 105.22L335.23 104.74L334.42 106.13z" fill="#ffffeb"/>
<path d="M308.99 100.79L310.38 100.84L311.77 100.86L312.61 100.37L313.47 100.43L312.08 100.35L310.7 100.22L309.84 100.26z" fill="#ffffa8"/>
<path d="M359.82 108.2L361.26 107.55L362.71 106.78L363.47 107.45L364.24 107.06L362.84 105.44L361.43 103.87L360.62 106.05z" fill="#ffffeb"/>
<path d="M352.57 106.34L353.98 107.77L355.4 108.47L356.2 107.22L357 105.14L355.59 103.7L354.18 102.34L353.38 104.35z" fill="#ffffe3"/>
<path d="M345.31 105.32L346.72 106.38L348.14 107.56L348.94 105.71L349.75 103.84L348.34 102.77L346.92 101.82L346.12 103.59z" fill="#ffffd4"/>
<path d="M329.16 108.79L330.56 109.21L331.97 109.63L332.79 108.64L333.6 107.44L332.2 106.93L330.79 106.4L329.98 107.64z" fill="#fffffb"/>
<path d="M340.87 106.78L342.28 107.64L343.69 108.7L344.5 107.02L345.31 105.32L343.9 104.42L342.49 103.66L341.68 105.25z" fill="#ffffe3"/>
<path d="M304.54 102.67L305.92 102.84L307.31 102.96L308.15 101.72L308.99 100.79L307.61 100.7L306.23 100.57L305.38 101.5z" fill="#ffffb0"/>
<path d="M288.36 105.83L289.74 106.44L291.13 107.01L291.99 106.14L292.85 105.19L291.47 104.63L290.09 104.01L289.23 104.94z" fill="#ffffdc"/>
<path d="M367.12 106.55L368.58 105.73L370.04 104.9L370.79 105.59L371.53 106.36L370.07 107.27L368.66 105.86L367.87 107.32z" fill="#ffffe3"/>
<path d="M348.14 107.56L349.55 108.87L350.97 108.7L351.77 108.32L352.57 106.34L351.16 105.02L349.75 103.84L348.94 105.71z" fill="#ffffeb"/>
<path d="M300.09 104.7L301.47 105.04L302.86 105.35L303.7 103.99L304.54 102.67L303.16 102.46L301.78 102.2L300.93 103.44z" fill="#ffffc8"/>
<path d="M378.86 104.36L380.33 103.53L381.81 102.77L382.53 103.37L383.25 104.07L381.77 105.03L380.3 106.01L379.58 105.14z" fill="#ffffcc"/>
<path d="M355.4 108.47L356.84 107.77L358.28 107.04L359.05 107.65L359.82 108.2L358.41 106.65L357 105.14L356.2 107.22z" fill="#ffffef"/>
<path d="M319.03 100.52L320.43 100.53L321.83 100.58L322.68 101.41L323.55 106.49L322.15 105.89L320.76 105.29L319.88 101.31z" fill="#ffffbc"/>
<path d="M336.42 108.35L337.83 108.84L339.25 109.68L340.06 108.24L340.87 106.78L339.46 106.11L338.05 105.65L337.23 107.05z" fill="#ffffef"/>
<path d="M295.62 106.18L297 106.64L298.39 107.09L299.24 105.93L300.09 104.7L298.7 104.33L297.32 103.94L296.47 105.09z" fill="#ffffd8"/>
<path d="M343.69 108.7L345.11 109.46L346.53 108.94L347.33 109.35L348.14 107.56L346.72 106.38L345.31 105.32L344.5 107.02z" fill="#ffffef"/>
<path d="M331.97 109.63L333.38 110.07L334.79 110.53L335.61 109.52L336.42 108.35L335.01 107.91L333.6 107.44L332.79 108.64z" fill="#fffffb"/>
<path d="M283.85 106.27L285.24 106.92L286.62 107.55L287.49 106.67L288.36 105.83L286.98 105.15L285.59 104.43L284.73 105.36z" fill="#ffffdc"/>
<path d="M311.77 100.86L313.16 100.85L314.55 100.84L315.4 100.37L316.24 100.51L314.85 100.48L313.47 100.43L312.61 100.37z" fill="#ffff9d"/>
<path d="M401.02 94.93L402.58 92.53L404.15 90.06L404.89 89.19L403.31 91.94L401.73 94.61z" fill="#ffff3e"/>
<path d="M362.71 106.78L364.16 105.99L365.61 105.22L366.37 105.85L367.12 106.55L365.67 107.37L364.24 107.06L363.47 107.45z" fill="#ffffdf"/>
<path d="M291.13 107.01L292.51 107.54L293.9 108.04L294.76 107.17L295.62 106.18L294.23 105.7L292.85 105.19L291.99 106.14z" fill="#ffffdf"/>
<path d="M350.97 108.7L352.41 108.04L353.84 107.31L354.62 107.9L355.4 108.47L353.98 107.77L352.57 106.34L351.77 108.32z" fill="#ffffeb"/>
<path d="M374.45 104.58L375.92 103.79L377.39 103.07L378.13 103.66L378.86 104.36L377.39 105.23L375.92 106.15L375.19 105.33z" fill="#ffffc8"/>
<path d="M390.63 101.14L392.13 100.14L393.63 99.19L394.35 99.14L395.07 99.14L393.56 100.49L392.06 101.87L391.35 101.48z" fill="#ffff95"/>
<path d="M339.25 109.68L340.66 109.81L342.08 109.21L342.89 109.61L343.69 108.7L342.28 107.64L340.87 106.78L340.06 108.24z" fill="#fffff3"/>
<path d="M307.31 102.96L308.7 103.07L310.09 103.14L310.93 101.82L311.77 100.86L310.38 100.84L308.99 100.79L308.15 101.72z" fill="#ffffa8"/>
<path d="M302.86 105.35L304.24 105.62L305.63 105.86L306.47 104.38L307.31 102.96L305.92 102.84L304.54 102.67L303.7 103.99z" fill="#ffffc0"/>
<path d="M395.07 99.14L396.59 97.8L398.11 96.46L398.84 96.03L399.57 95.64L398.03 97.46L396.5 99.26L395.79 99.18z" fill="#ffff75"/>
<path d="M321.83 100.58L323.24 100.67L324.64 100.84L325.48 101.62L326.35 107.7L324.95 107.1L323.55 106.49L322.68 101.41z" fill="#ffffb4"/>
<path d="M298.39 107.09L299.77 107.51L301.16 107.91L302.01 106.68L302.86 105.35L301.47 105.04L300.09 104.7L299.24 105.93z" fill="#ffffd8"/>
<path d="M386.22 102.18L387.7 101.37L389.19 100.66L389.91 100.87L390.63 101.14L389.14 102.19L387.65 103.3L386.93 102.7z" fill="#ffffa4"/>
<path d="M286.62 107.55L288.01 108.13L289.39 108.68L290.26 107.82L291.13 107.01L289.74 106.44L288.36 105.83L287.49 106.67z" fill="#ffffdf"/>
<path d="M346.53 108.94L347.96 108.3L349.4 107.56L350.19 108.17L350.97 108.7L349.55 108.87L348.14 107.56L347.33 109.35z" fill="#ffffeb"/>
<path d="M358.28 107.04L359.73 106.29L361.18 105.54L361.94 106.14L362.71 106.78L361.26 107.55L359.82 108.2L359.05 107.65z" fill="#ffffdc"/>
<path d="M293.9 108.04L295.28 108.53L296.67 109L297.53 108.12L298.39 107.09L297 106.64L295.62 106.18L294.76 107.17z" fill="#ffffdf"/>
<path d="M370.04 104.9L371.5 104.1L372.97 103.38L373.71 103.93L374.45 104.58L372.99 105.45L371.53 106.36L370.79 105.59z" fill="#ffffc0"/>
<path d="M334.79 110.53L336.2 109.44L337.62 105.27L338.43 110.05L339.25 109.68L337.83 108.84L336.42 108.35L335.61 109.52z" fill="#ffffef"/>
<path d="M314.55 100.84L315.95 100.85L317.34 100.88L318.19 100.36L319.03 100.52L317.64 100.52L316.24 100.51L315.4 100.37z" fill="#ffff91"/>
<path d="M399.57 95.64L401.11 93.77L402.66 91.84L403.41 90.94L404.15 90.06L402.58 92.53L401.02 94.93L400.29 95.27z" fill="#ffff3e"/>
<path d="M381.81 102.77L383.28 102.04L384.76 101.41L385.49 101.75L386.22 102.18L384.73 103.1L383.25 104.07L382.53 103.37z" fill="#ffffa4"/>
<path d="M282.11 108.1L283.49 108.74L284.88 109.35L285.75 108.44L286.62 107.55L285.24 106.92L283.85 106.27L282.98 107.19z" fill="#ffffdf"/>
<path d="M324.64 100.84L326.05 101.11L327.47 101.45L328.3 102.04L329.16 108.79L327.75 108.27L326.35 107.7L325.48 101.62z" fill="#ffffb4"/>
<path d="M301.16 107.91L302.55 108.29L303.95 108.66L304.79 107.31L305.63 105.86L304.24 105.62L302.86 105.35L302.01 106.68z" fill="#ffffd4"/>
<path d="M305.63 105.86L307.02 106.09L308.41 106.31L309.25 104.68L310.09 103.14L308.7 103.07L307.31 102.96L306.47 104.38z" fill="#ffffb8"/>
<path d="M289.39 108.68L290.78 109.2L292.16 109.71L293.03 108.84L293.9 108.04L292.51 107.54L291.13 107.01L290.26 107.82z" fill="#ffffe3"/>
<path d="M342.08 109.21L343.51 108.4L344.94 107.45L345.74 108.39L346.53 108.94L345.11 109.46L343.69 108.7L342.89 109.61z" fill="#ffffe7"/>
<path d="M310.09 103.14L311.48 103.22L312.88 103.31L313.71 101.87L314.55 100.84L313.16 100.85L311.77 100.86L310.93 101.82z" fill="#ffff9d"/>
<path d="M353.84 107.31L355.29 106.57L356.73 105.84L357.51 106.43L358.28 107.04L356.84 107.77L355.4 108.47L354.62 107.9z" fill="#ffffd4"/>
<path d="M365.61 105.22L367.07 104.48L368.53 103.79L369.29 104.29L370.04 104.9L368.58 105.73L367.12 106.55L366.37 105.85z" fill="#ffffbc"/>
<path d="M296.67 109L298.06 109.46L299.45 109.91L300.31 109L301.16 107.91L299.77 107.51L298.39 107.09L297.53 108.12z" fill="#ffffe3"/>
<path d="M377.39 103.07L378.87 102.43L380.34 101.88L381.08 102.26L381.81 102.77L380.33 103.53L378.86 104.36L378.13 103.66z" fill="#ffffa0"/>
<path d="M284.88 109.35L286.26 109.94L287.65 110.5L288.52 109.57L289.39 108.68L288.01 108.13L286.62 107.55L285.75 108.44z" fill="#ffffe3"/>
<path d="M404.15 90.06L405.73 87.51L406.48 86.35L404.89 89.19z" fill="#fffc00"/>
<path d="M317.34 100.88L318.75 100.95L320.15 101.12L320.99 100.45L321.83 100.58L320.43 100.53L319.03 100.52L318.19 100.36z" fill="#ffff85"/>
<path d="M292.16 109.71L293.55 110.2L294.94 110.69L295.81 109.8L296.67 109L295.28 108.53L293.9 108.04L293.03 108.84z" fill="#ffffe3"/>
<path d="M349.4 107.56L350.83 106.78L352.27 106.02L353.06 106.69L353.84 107.31L352.41 108.04L350.97 108.7L350.19 108.17z" fill="#ffffd0"/>
<path d="M393.63 99.19L395.13 98.29L396.64 97.4L397.37 96.91L398.11 96.46L396.59 97.8L395.07 99.14L394.35 99.14z" fill="#ffff65"/>
<path d="M327.47 101.45L328.88 101.79L330.3 102.15L331.13 102.76L331.97 109.63L330.56 109.21L329.16 108.79L328.3 102.04z" fill="#ffffb0"/>
<path d="M303.95 108.66L305.34 109.04L306.74 109.49L307.58 107.93L308.41 106.31L307.02 106.09L305.63 105.86L304.79 107.31z" fill="#ffffd0"/>
<path d="M389.19 100.66L390.68 100.02L392.17 99.46L392.9 99.3L393.63 99.19L392.13 100.14L390.63 101.14L389.91 100.87z" fill="#ffff7d"/>
<path d="M361.18 105.54L362.63 104.84L364.09 104.21L364.85 104.66L365.61 105.22L364.16 105.99L362.71 106.78L361.94 106.14z" fill="#ffffb8"/>
<path d="M308.41 106.31L309.81 106.56L311.21 106.9L312.04 105.02L312.88 103.31L311.48 103.22L310.09 103.14L309.25 104.68z" fill="#ffffb0"/>
<path d="M299.45 109.91L300.85 110.36L302.24 110.86L303.1 109.85L303.95 108.66L302.55 108.29L301.16 107.91L300.31 109z" fill="#ffffe3"/>
<path d="M312.88 103.31L314.27 103.45L315.68 103.7L316.51 102.02L317.34 100.88L315.95 100.85L314.55 100.84L313.71 101.87z" fill="#ffff91"/>
<path d="M337.62 105.27L339.05 105.68L340.47 106.09L341.28 107.99L342.08 109.21L340.66 109.81L339.25 109.68L338.43 110.05z" fill="#ffffd4"/>
<path d="M372.97 103.38L374.44 102.77L375.91 102.26L376.65 102.59L377.39 103.07L375.92 103.79L374.45 104.58L373.71 103.93z" fill="#ffff9d"/>
<path d="M280.35 109.94L281.74 110.64L283.13 111.29L284 110.3L284.88 109.35L283.49 108.74L282.11 108.1L281.23 109.02z" fill="#ffffe3"/>
<path d="M398.11 96.46L399.63 95.09L401.17 93.68L401.92 92.75L402.66 91.84L401.11 93.77L399.57 95.64L398.84 96.03z" fill="#ffff3a"/>
<path d="M287.65 110.5L289.04 111.06L290.43 111.61L291.3 110.62L292.16 109.71L290.78 109.2L289.39 108.68L288.52 109.57z" fill="#ffffe7"/>
<path d="M384.76 101.41L386.24 100.9L387.73 100.5L388.46 100.53L389.19 100.66L387.7 101.37L386.22 102.18L385.49 101.75z" fill="#ffff85"/>
<path d="M294.94 110.69L296.34 111.18L297.73 111.7L298.59 110.72L299.45 109.91L298.06 109.46L296.67 109L295.81 109.8z" fill="#ffffe7"/>
<path d="M344.94 107.45L346.37 106.51L347.81 105.78L348.6 106.76L349.4 107.56L347.96 108.3L346.53 108.94L345.74 108.39z" fill="#ffffc8"/>
<path d="M330.3 102.15L331.72 102.52L333.14 102.9L333.96 103.53L334.79 110.53L333.38 110.07L331.97 109.63L331.13 102.76z" fill="#ffffb0"/>
<path d="M356.73 105.84L358.18 105.17L359.63 104.6L360.41 105.01L361.18 105.54L359.73 106.29L358.28 107.04L357.51 106.43z" fill="#ffffb4"/>
<path d="M402.66 91.84L404.22 89.85L404.98 88.68L405.73 87.51L404.15 90.06L403.41 90.94z" fill="#ffff03"/>
<path d="M306.74 109.49L308.14 109.99L309.54 110.49L310.38 108.78L311.21 106.9L309.81 106.56L308.41 106.31L307.58 107.93z" fill="#ffffd0"/>
<path d="M320.15 101.12L321.56 101.44L322.97 101.76L323.8 100.91L324.64 100.84L323.24 100.67L321.83 100.58L320.99 100.45z" fill="#ffff7d"/>
<path d="M368.53 103.79L370 103.19L371.46 102.73L372.22 102.97L372.97 103.38L371.5 104.1L370.04 104.9L369.29 104.29z" fill="#ffff99"/>
<path d="M283.13 111.29L284.52 111.92L285.91 112.55L286.78 111.49L287.65 110.5L286.26 109.94L284.88 109.35L284 110.3z" fill="#ffffeb"/>
<path d="M302.24 110.86L303.64 111.41L305.04 111.95L305.89 110.87L306.74 109.49L305.34 109.04L303.95 108.66L303.1 109.85z" fill="#ffffe3"/>
<path d="M311.21 106.9L312.61 107.32L314.02 107.74L314.85 105.69L315.68 103.7L314.27 103.45L312.88 103.31L312.04 105.02z" fill="#ffffac"/>
<path d="M380.34 101.88L381.81 101.43L383.29 101.09L384.03 101.18L384.76 101.41L383.28 102.04L381.81 102.77L381.08 102.26z" fill="#ffff81"/>
<path d="M315.68 103.7L317.08 104.04L318.49 104.39L319.32 102.55L320.15 101.12L318.75 100.95L317.34 100.88L316.51 102.02z" fill="#ffff89"/>
<path d="M290.43 111.61L291.82 112.16L293.22 112.75L294.08 111.66L294.94 110.69L293.55 110.2L292.16 109.71L291.3 110.62z" fill="#ffffeb"/>
<path d="M297.73 111.7L299.13 112.25L300.53 112.8L301.38 111.77L302.24 110.86L300.85 110.36L299.45 109.91L298.59 110.72z" fill="#ffffe7"/>
<path d="M352.27 106.02L353.72 105.39L355.16 105.03L355.95 105.3L356.73 105.84L355.29 106.57L353.84 107.31L353.06 106.69z" fill="#ffffac"/>
<path d="M340.47 106.09L341.9 106.5L343.33 106.91L344.14 105.8L344.94 107.45L343.51 108.4L342.08 109.21L341.28 107.99z" fill="#ffffbc"/>
<path d="M278.59 111.8L279.98 112.66L281.37 113.42L282.25 112.33L283.13 111.29L281.74 110.64L280.35 109.94L279.47 110.87z" fill="#ffffeb"/>
<path d="M364.09 104.21L365.54 103.69L367 103.35L367.77 103.44L368.53 103.79L367.07 104.48L365.61 105.22L364.85 104.66z" fill="#ffff99"/>
<path d="M392.17 99.46L393.66 98.95L395.15 98.49L395.9 97.93L396.64 97.4L395.13 98.29L393.63 99.19L392.9 99.3z" fill="#ffff5a"/>
<path d="M309.54 110.49L310.94 110.99L312.35 111.49L313.18 109.71L314.02 107.74L312.61 107.32L311.21 106.9L310.38 108.78z" fill="#ffffd0"/>
<path d="M285.91 112.55L287.3 113.21L288.7 113.88L289.56 112.69L290.43 111.61L289.04 111.06L287.65 110.5L286.78 111.49z" fill="#ffffef"/>
<path d="M375.91 102.26L377.38 101.87L378.85 101.61L379.6 101.65L380.34 101.88L378.87 102.43L377.39 103.07L376.65 102.59z" fill="#ffff81"/>
<path d="M305.04 111.95L306.44 112.49L307.85 113.03L308.7 111.93L309.54 110.49L308.14 109.99L306.74 109.49L305.89 110.87z" fill="#ffffe3"/>
<path d="M396.64 97.4L398.15 96.5L399.66 95.57L400.42 94.62L401.17 93.68L399.63 95.09L398.11 96.46L397.37 96.91z" fill="#ffff3a"/>
<path d="M322.97 101.76L324.38 102.09L325.8 102.43L326.63 101.57L327.47 101.45L326.05 101.11L324.64 100.84L323.8 100.91z" fill="#ffff79"/>
<path d="M314.02 107.74L315.42 108.17L316.83 108.6L317.66 106.47L318.49 104.39L317.08 104.04L315.68 103.7L314.85 105.69z" fill="#ffffa8"/>
<path d="M333.14 102.9L334.56 103.29L335.98 103.69L336.81 104.33L337.62 105.27L336.2 109.44L334.79 110.53L333.96 103.53z" fill="#ffffa0"/>
<path d="M387.73 100.5L389.21 100.2L390.69 99.99L391.43 99.68L392.17 99.46L390.68 100.02L389.19 100.66L388.46 100.53z" fill="#ffff65"/>
<path d="M293.22 112.75L294.61 113.33L296.01 113.92L296.87 112.77L297.73 111.7L296.34 111.18L294.94 110.69L294.08 111.66z" fill="#ffffef"/>
<path d="M401.17 93.68L402.71 92.22L403.46 91.03L404.22 89.85L402.66 91.84L401.92 92.75z" fill="#ffff0b"/>
<path d="M318.49 104.39L319.9 104.75L321.31 105.12L322.14 103.22L322.97 101.76L321.56 101.44L320.15 101.12L319.32 102.55z" fill="#ffff85"/>
<path d="M347.81 105.78L349.24 105.89L350.68 106.29L351.48 105.45L352.27 106.02L350.83 106.78L349.4 107.56L348.6 106.76z" fill="#ffffa8"/>
<path d="M281.37 113.42L282.77 114.15L284.16 114.89L285.04 113.69L285.91 112.55L284.52 111.92L283.13 111.29L282.25 112.33z" fill="#fffff3"/>
<path d="M300.53 112.8L301.93 113.35L303.33 113.89L304.19 112.85L305.04 111.95L303.64 111.41L302.24 110.86L301.38 111.77z" fill="#ffffeb"/>
<path d="M359.63 104.6L361.08 104.24L362.53 104.32L363.31 103.95L364.09 104.21L362.63 104.84L361.18 105.54L360.41 105.01z" fill="#ffff95"/>
<path d="M288.7 113.88L290.09 114.55L291.49 115.21L292.35 113.93L293.22 112.75L291.82 112.16L290.43 111.61L289.56 112.69z" fill="#fffff3"/>
<path d="M371.46 102.73L372.93 102.43L374.39 102.32L375.15 102.12L375.91 102.26L374.44 102.77L372.97 103.38L372.22 102.97z" fill="#ffff7d"/>
<path d="M312.35 111.49L313.76 111.98L315.17 112.48L316 110.64L316.83 108.6L315.42 108.17L314.02 107.74L313.18 109.71z" fill="#ffffd0"/>
<path d="M383.29 101.09L384.76 100.89L386.24 100.8L386.99 100.58L387.73 100.5L386.24 100.9L384.76 101.41L384.03 101.18z" fill="#ffff69"/>
<path d="M307.85 113.03L309.25 113.57L310.66 114.11L311.51 112.98L312.35 111.49L310.94 110.99L309.54 110.49L308.7 111.93z" fill="#ffffe7"/>
<path d="M296.01 113.92L297.41 114.51L298.81 115.1L299.67 113.9L300.53 112.8L299.13 112.25L297.73 111.7L296.87 112.77z" fill="#ffffef"/>
<path d="M325.8 102.43L327.22 102.78L328.63 103.14L329.47 102.26L330.3 102.15L328.88 101.79L327.47 101.45L326.63 101.57z" fill="#ffff75"/>
<path d="M316.83 108.6L318.24 109.03L319.65 109.47L320.48 107.27L321.31 105.12L319.9 104.75L318.49 104.39L317.66 106.47z" fill="#ffffa8"/>
<path d="M276.82 113.72L278.22 114.81L279.62 115.73L280.5 114.55L281.37 113.42L279.98 112.66L278.59 111.8L277.7 112.75z" fill="#fffff3"/>
<path d="M343.33 106.91L344.76 107.32L346.19 107.73L347 106.6L347.81 105.78L346.37 106.51L344.94 107.45L344.14 105.8z" fill="#ffffa4"/>
<path d="M355.16 105.03L356.6 105.31L358.05 105.7L358.85 104.63L359.63 104.6L358.18 105.17L356.73 105.84L355.95 105.3z" fill="#ffff95"/>
<path d="M284.16 114.89L285.56 115.5L286.94 115.57L287.83 115.13L288.7 113.88L287.3 113.21L285.91 112.55L285.04 113.69z" fill="#fffff7"/>
<path d="M303.33 113.89L304.73 114.44L306.14 114.99L306.99 113.93L307.85 113.03L306.44 112.49L305.04 111.95L304.19 112.85z" fill="#ffffef"/>
<path d="M321.31 105.12L322.72 105.5L324.14 105.88L324.97 103.93L325.8 102.43L324.38 102.09L322.97 101.76L322.14 103.22z" fill="#ffff81"/>
<path d="M367 103.35L368.46 103.29L369.91 103.66L370.69 102.81L371.46 102.73L370 103.19L368.53 103.79L367.77 103.44z" fill="#ffff7d"/>
<path d="M378.85 101.61L380.32 101.49L381.78 101.51L382.54 101.17L383.29 101.09L381.81 101.43L380.34 101.88L379.6 101.65z" fill="#ffff69"/>
<path d="M291.49 115.21L292.89 115.75L294.28 115.95L295.15 115.17L296.01 113.92L294.61 113.33L293.22 112.75L292.35 113.93z" fill="#fffff7"/>
<path d="M395.15 98.49L396.65 98.02L398.15 97.53L398.91 96.54L399.66 95.57L398.15 96.5L396.64 97.4L395.9 97.93z" fill="#ffff3a"/>
<path d="M399.66 95.57L401.18 94.61L401.95 93.41L402.71 92.22L401.17 93.68L400.42 94.62z" fill="#ffff13"/>
<path d="M335.98 103.69L337.41 104.1L338.84 104.5L339.66 105.14L340.47 106.09L339.05 105.68L337.62 105.27L336.81 104.33z" fill="#ffff8d"/>
<path d="M315.17 112.48L316.58 112.98L317.99 113.48L318.82 111.58L319.65 109.47L318.24 109.03L316.83 108.6L316 110.64z" fill="#ffffd0"/>
<path d="M390.69 99.99L392.17 99.86L393.65 99.77L394.4 99.1L395.15 98.49L393.66 98.95L392.17 99.46L391.43 99.68z" fill="#ffff4e"/>
<path d="M310.66 114.11L312.07 114.65L313.48 115.19L314.33 114.03L315.17 112.48L313.76 111.98L312.35 111.49L311.51 112.98z" fill="#ffffeb"/>
<path d="M350.68 106.29L352.12 106.7L353.56 107.1L354.36 106L355.16 105.03L353.72 105.39L352.27 106.02L351.48 105.45z" fill="#ffff99"/>
<path d="M298.81 115.1L300.21 115.69L301.62 116.28L302.47 115.03L303.33 113.89L301.93 113.35L300.53 112.8L299.67 113.9z" fill="#fffff3"/>
<path d="M279.62 115.73L281 115.86L282.37 115.86L283.28 115.66L284.16 114.89L282.77 114.15L281.37 113.42L280.5 114.55z" fill="#fffffb"/>
<path d="M362.53 104.32L363.98 104.71L365.42 105.09L366.22 104L367 103.35L365.54 103.69L364.09 104.21L363.31 103.95z" fill="#ffff81"/>
<path d="M328.63 103.14L330.06 103.51L331.48 103.9L332.31 103L333.14 102.9L331.72 102.52L330.3 102.15L329.47 102.26z" fill="#ffff71"/>
<path d="M319.65 109.47L321.07 109.92L322.48 110.36L323.31 108.09L324.14 105.88L322.72 105.5L321.31 105.12L320.48 107.27z" fill="#ffffa8"/>
<path d="M374.39 102.32L375.85 102.49L377.31 102.87L378.09 101.89L378.85 101.61L377.38 101.87L375.91 102.26L375.15 102.12z" fill="#ffff69"/>
<path d="M306.14 114.99L307.55 115.55L308.96 116.1L309.81 115.02L310.66 114.11L309.25 113.57L307.85 113.03L306.99 113.93z" fill="#fffff3"/>
<path d="M286.94 115.57L288.32 115.65L289.71 115.73L290.61 115.69L291.49 115.21L290.09 114.55L288.7 113.88L287.83 115.13z" fill="#fffff7"/>
<path d="M386.24 100.8L387.71 100.82L389.19 100.92L389.94 100.4L390.69 99.99L389.21 100.2L387.73 100.5L386.99 100.58z" fill="#ffff56"/>
<path d="M324.14 105.88L325.56 106.28L326.98 106.68L327.8 104.67L328.63 103.14L327.22 102.78L325.8 102.43L324.97 103.93z" fill="#ffff81"/>
<path d="M346.19 107.73L347.62 108.14L349.06 108.56L349.87 107.41L350.68 106.29L349.24 105.89L347.81 105.78L347 106.6z" fill="#ffff9d"/>
<path d="M294.28 115.95L295.67 116.14L297.06 116.33L297.95 116.31L298.81 115.1L297.41 114.51L296.01 113.92L295.15 115.17z" fill="#fffffb"/>
<path d="M358.05 105.7L359.49 106.09L360.93 106.49L361.73 105.4L362.53 104.32L361.08 104.24L359.63 104.6L358.85 104.63z" fill="#ffff89"/>
<path d="M338.84 104.5L340.27 104.91L341.7 105.33L342.52 105.95L343.33 106.91L341.9 106.5L340.47 106.09L339.66 105.14z" fill="#ffff8d"/>
<path d="M313.48 115.19L314.9 115.73L316.31 116.27L317.15 115.08L317.99 113.48L316.58 112.98L315.17 112.48L314.33 114.03z" fill="#ffffeb"/>
<path d="M317.99 113.48L319.4 113.98L320.82 114.48L321.65 112.53L322.48 110.36L321.07 109.92L319.65 109.47L318.82 111.58z" fill="#ffffd0"/>
<path d="M275.04 115.7L276.44 116.61L277.8 116.34L278.72 116.12L279.62 115.73L278.22 114.81L276.82 113.72L275.93 114.7z" fill="#fffff7"/>
<path d="M369.91 103.66L371.36 104.04L372.82 104.42L373.61 103.28L374.39 102.32L372.93 102.43L371.46 102.73L370.69 102.81z" fill="#ffff71"/>
<path d="M301.62 116.28L303.03 116.87L304.43 117.28L305.29 116.16L306.14 114.99L304.73 114.44L303.33 113.89L302.47 115.03z" fill="#fffff7"/>
<path d="M381.78 101.51L383.25 101.67L384.72 101.95L385.48 101.21L386.24 100.8L384.76 100.89L383.29 101.09L382.54 101.17z" fill="#ffff5a"/>
<path d="M398.15 97.53L399.66 97.03L400.42 95.81L401.18 94.61L399.66 95.57L398.91 96.54z" fill="#ffff1f"/>
<path d="M353.56 107.1L355 107.5L356.44 107.9L357.24 106.79L358.05 105.7L356.6 105.31L355.16 105.03L354.36 106z" fill="#ffff91"/>
<path d="M282.37 115.86L283.75 115.79L285.13 115.68L286.04 115.68L286.94 115.57L285.56 115.5L284.16 114.89L283.28 115.66z" fill="#fffff7"/>
<path d="M322.48 110.36L323.9 110.81L325.32 111.26L326.15 108.94L326.98 106.68L325.56 106.28L324.14 105.88L323.31 108.09z" fill="#ffffa8"/>
<path d="M331.48 103.9L332.91 104.3L334.33 104.72L335.16 103.81L335.98 103.69L334.56 103.29L333.14 102.9L332.31 103z" fill="#ffff71"/>
<path d="M308.96 116.1L310.37 116.65L311.78 117.21L312.63 116.11L313.48 115.19L312.07 114.65L310.66 114.11L309.81 115.02z" fill="#fffff7"/>
<path d="M365.42 105.09L366.87 105.48L368.33 105.87L369.12 104.77L369.91 103.66L368.46 103.29L367 103.35L366.22 104z" fill="#ffff79"/>
<path d="M393.65 99.77L395.14 99.68L396.63 99.59L397.39 98.55L398.15 97.53L396.65 98.02L395.15 98.49L394.4 99.1z" fill="#ffff3a"/>
<path d="M289.71 115.73L291.09 115.81L292.48 115.87L293.38 115.98L294.28 115.95L292.89 115.75L291.49 115.21L290.61 115.69z" fill="#fffff3"/>
<path d="M326.98 106.68L328.4 107.09L329.82 107.51L330.65 105.46L331.48 103.9L330.06 103.51L328.63 103.14L327.8 104.67z" fill="#ffff81"/>
<path d="M349.06 108.56L350.5 108.97L351.94 109.38L352.75 108.23L353.56 107.1L352.12 106.7L350.68 106.29L349.87 107.41z" fill="#ffff9d"/>
<path d="M377.31 102.87L378.77 103.24L380.23 103.61L381.01 102.42L381.78 101.51L380.32 101.49L378.85 101.61L378.09 101.89z" fill="#ffff5e"/>
<path d="M297.06 116.33L298.46 116.54L299.86 116.74L300.75 116.82L301.62 116.28L300.21 115.69L298.81 115.1L297.95 116.31z" fill="#fffff7"/>
<path d="M316.31 116.27L317.73 116.81L319.14 117.35L319.99 116.12L320.82 114.48L319.4 113.98L317.99 113.48L317.15 115.08z" fill="#ffffef"/>
<path d="M389.19 100.92L390.66 101.1L392.14 101.31L392.9 100.5L393.65 99.77L392.17 99.86L390.69 99.99L389.94 100.4z" fill="#ffff4a"/>
<path d="M320.82 114.48L322.24 114.98L323.66 115.48L324.49 113.48L325.32 111.26L323.9 110.81L322.48 110.36L321.65 112.53z" fill="#ffffd4"/>
<path d="M341.7 105.33L343.14 105.75L344.58 106.19L345.39 106.79L346.19 107.73L344.76 107.32L343.33 106.91L342.52 105.95z" fill="#ffff8d"/>
<path d="M360.93 106.49L362.38 106.89L363.83 107.28L364.63 106.19L365.42 105.09L363.98 104.71L362.53 104.32L361.73 105.4z" fill="#ffff85"/>
<path d="M304.43 117.28L305.84 117.58L307.24 117.88L308.11 117.29L308.96 116.1L307.55 115.55L306.14 114.99L305.29 116.16z" fill="#fffffb"/>
<path d="M277.8 116.34L279.17 116.18L280.55 115.99L281.46 115.97L282.37 115.86L281 115.86L279.62 115.73L278.72 116.12z" fill="#fffff3"/>
<path d="M372.82 104.42L374.27 104.8L375.73 105.19L376.52 104.04L377.31 102.87L375.85 102.49L374.39 102.32L373.61 103.28z" fill="#ffff69"/>
<path d="M311.78 117.21L313.2 117.77L314.61 118.32L315.46 117.21L316.31 116.27L314.9 115.73L313.48 115.19L312.63 116.11z" fill="#fffff7"/>
<path d="M325.32 111.26L326.74 111.72L328.17 112.19L329 109.82L329.82 107.51L328.4 107.09L326.98 106.68L326.15 108.94z" fill="#ffffa8"/>
<path d="M356.44 107.9L357.88 108.31L359.33 108.71L360.13 107.59L360.93 106.49L359.49 106.09L358.05 105.7L357.24 106.79z" fill="#ffff91"/>
<path d="M334.33 104.72L335.76 105.15L337.19 105.58L338.02 104.64L338.84 104.5L337.41 104.1L335.98 103.69L335.16 103.81z" fill="#ffff71"/>
<path d="M384.72 101.95L386.19 102.31L387.66 102.68L388.43 101.62L389.19 100.92L387.71 100.82L386.24 100.8L385.48 101.21z" fill="#ffff4e"/>
<path d="M368.33 105.87L369.78 106.26L371.24 106.65L372.03 105.54L372.82 104.42L371.36 104.04L369.91 103.66L369.12 104.77z" fill="#ffff75"/>
<path d="M285.13 115.68L286.51 115.57L287.89 115.47L288.8 115.67L289.71 115.73L288.32 115.65L286.94 115.57L286.04 115.68z" fill="#ffffe7"/>
<path d="M329.82 107.51L331.25 107.95L332.68 108.39L333.51 106.32L334.33 104.72L332.91 104.3L331.48 103.9L330.65 105.46z" fill="#ffff7d"/>
<path d="M396.63 99.59L398.12 99.49L398.89 98.25L399.66 97.03L398.15 97.53L397.39 98.55z" fill="#ffff2a"/>
<path d="M351.94 109.38L353.38 109.8L354.83 110.21L355.63 109.04L356.44 107.9L355 107.5L353.56 107.1L352.75 108.23z" fill="#ffff9d"/>
<path d="M319.14 117.35L320.57 117.89L321.99 118.43L322.83 117.17L323.66 115.48L322.24 114.98L320.82 114.48L319.99 116.12z" fill="#fffff3"/>
<path d="M323.66 115.48L325.08 115.98L326.51 116.48L327.34 114.45L328.17 112.19L326.74 111.72L325.32 111.26L324.49 113.48z" fill="#ffffd4"/>
<path d="M292.48 115.87L293.88 115.92L295.27 115.97L296.17 116.23L297.06 116.33L295.67 116.14L294.28 115.95L293.38 115.98z" fill="#ffffeb"/>
<path d="M299.86 116.74L301.26 116.96L302.67 117.18L303.55 117.34L304.43 117.28L303.03 116.87L301.62 116.28L300.75 116.82z" fill="#fffff7"/>
<path d="M273.26 117.78L274.61 117.18L275.97 116.64L276.89 116.52L277.8 116.34L276.44 116.61L275.04 115.7L274.15 116.73z" fill="#fffff3"/>
<path d="M380.23 103.61L381.69 103.99L383.16 104.36L383.94 103.16L384.72 101.95L383.25 101.67L381.78 101.51L381.01 102.42z" fill="#ffff5a"/>
<path d="M344.58 106.19L346.02 106.64L347.46 107.1L348.26 107.65L349.06 108.56L347.62 108.14L346.19 107.73L345.39 106.79z" fill="#ffff8d"/>
<path d="M363.83 107.28L365.28 107.68L366.74 108.08L367.53 106.97L368.33 105.87L366.87 105.48L365.42 105.09L364.63 106.19z" fill="#ffff81"/>
<path d="M307.24 117.88L308.65 118.18L310.07 118.49L310.93 118.32L311.78 117.21L310.37 116.65L308.96 116.1L308.11 117.29z" fill="#fffffb"/>
<path d="M392.14 101.31L393.62 101.54L395.1 101.77L395.87 100.66L396.63 99.59L395.14 99.68L393.65 99.77L392.9 100.5z" fill="#ffff3e"/>
<path d="M314.61 118.32L316.03 118.88L317.45 119.3L318.3 118.31L319.14 117.35L317.73 116.81L316.31 116.27L315.46 117.21z" fill="#fffffb"/>
<path d="M375.73 105.19L377.2 105.57L378.66 105.95L379.44 104.79L380.23 103.61L378.77 103.24L377.31 102.87L376.52 104.04z" fill="#ffff69"/>
<path d="M328.17 112.19L329.59 112.66L331.02 113.13L331.85 110.73L332.68 108.39L331.25 107.95L329.82 107.51L329 109.82z" fill="#ffffa8"/>
<path d="M337.19 105.58L338.63 106.01L340.06 106.45L340.89 105.49L341.7 105.33L340.27 104.91L338.84 104.5L338.02 104.64z" fill="#ffff71"/>
<path d="M359.33 108.71L360.78 109.12L362.23 109.52L363.03 108.39L363.83 107.28L362.38 106.89L360.93 106.49L360.13 107.59z" fill="#ffff8d"/>
<path d="M387.66 102.68L389.13 103.04L390.6 103.41L391.37 102.24L392.14 101.31L390.66 101.1L389.19 100.92L388.43 101.62z" fill="#ffff4a"/>
<path d="M371.24 106.65L372.7 107.04L374.16 107.44L374.95 106.32L375.73 105.19L374.27 104.8L372.82 104.42L372.03 105.54z" fill="#ffff75"/>
<path d="M280.55 115.99L281.92 115.68L283.29 115.31L284.21 115.56L285.13 115.68L283.75 115.79L282.37 115.86L281.46 115.97z" fill="#ffffdf"/>
<path d="M321.99 118.43L323.41 118.97L324.84 119.51L325.67 118.21L326.51 116.48L325.08 115.98L323.66 115.48L322.83 117.17z" fill="#fffff3"/>
<path d="M332.68 108.39L334.11 108.85L335.54 109.3L336.37 107.2L337.19 105.58L335.76 105.15L334.33 104.72L333.51 106.32z" fill="#ffff7d"/>
<path d="M354.83 110.21L356.27 110.63L357.72 111.05L358.53 109.86L359.33 108.71L357.88 108.31L356.44 107.9L355.63 109.04z" fill="#ffff99"/>
<path d="M326.51 116.48L327.93 116.98L329.36 117.48L330.19 115.42L331.02 113.13L329.59 112.66L328.17 112.19L327.34 114.45z" fill="#ffffd4"/>
<path d="M347.46 107.1L348.9 107.56L350.35 108.02L351.14 108.53L351.94 109.38L350.5 108.97L349.06 108.56L348.26 107.65z" fill="#ffff8d"/>
<path d="M383.16 104.36L384.63 104.74L386.1 105.11L386.88 103.9L387.66 102.68L386.19 102.31L384.72 101.95L383.94 103.16z" fill="#ffff56"/>
<path d="M302.67 117.18L304.08 117.42L305.49 117.68L306.37 117.89L307.24 117.88L305.84 117.58L304.43 117.28L303.55 117.34z" fill="#fffff3"/>
<path d="M310.07 118.49L311.48 118.79L312.9 119.1L313.76 118.96L314.61 118.32L313.2 117.77L311.78 117.21L310.93 118.32z" fill="#fffffb"/>
<path d="M366.74 108.08L368.19 108.47L369.65 108.87L370.45 107.76L371.24 106.65L369.78 106.26L368.33 105.87L367.53 106.97z" fill="#ffff81"/>
<path d="M287.89 115.47L289.28 115.36L290.66 115.23L291.58 115.64L292.48 115.87L291.09 115.81L289.71 115.73L288.8 115.67z" fill="#ffffdc"/>
<path d="M295.27 115.97L296.67 116.04L298.07 116.11L298.97 116.52L299.86 116.74L298.46 116.54L297.06 116.33L296.17 116.23z" fill="#ffffe3"/>
<path d="M395.1 101.77L396.58 101.99L397.35 100.73L398.12 99.49L396.63 99.59L395.87 100.66z" fill="#ffff36"/>
<path d="M317.45 119.3L318.87 119.63L320.3 119.96L321.14 119.41L321.99 118.43L320.57 117.89L319.14 117.35L318.3 118.31z" fill="#fffffb"/>
<path d="M378.66 105.95L380.12 106.34L381.59 106.72L382.38 105.55L383.16 104.36L381.69 103.99L380.23 103.61L379.44 104.79z" fill="#ffff65"/>
<path d="M331.02 113.13L332.45 113.61L333.88 114.09L334.71 111.67L335.54 109.3L334.11 108.85L332.68 108.39L331.85 110.73z" fill="#ffffa8"/>
<path d="M340.06 106.45L341.5 106.9L342.94 107.37L343.76 106.37L344.58 106.19L343.14 105.75L341.7 105.33L340.89 105.49z" fill="#ffff71"/>
<path d="M362.23 109.52L363.69 109.93L365.14 110.34L365.94 109.2L366.74 108.08L365.28 107.68L363.83 107.28L363.03 108.39z" fill="#ffff8d"/>
<path d="M275.97 116.64L277.33 116.26L278.7 115.84L279.62 115.95L280.55 115.99L279.17 116.18L277.8 116.34L276.89 116.52z" fill="#ffffdf"/>
<path d="M374.16 107.44L375.62 107.83L377.09 108.22L377.87 107.09L378.66 105.95L377.2 105.57L375.73 105.19L374.95 106.32z" fill="#ffff75"/>
<path d="M324.84 119.51L326.26 120.05L327.69 120.4L328.53 119.25L329.36 117.48L327.93 116.98L326.51 116.48L325.67 118.21z" fill="#fffff7"/>
<path d="M390.6 103.41L392.08 103.77L393.55 104.14L394.33 102.91L395.1 101.77L393.62 101.54L392.14 101.31L391.37 102.24z" fill="#ffff46"/>
<path d="M335.54 109.3L336.97 109.77L338.41 110.24L339.24 108.1L340.06 106.45L338.63 106.01L337.19 105.58L336.37 107.2z" fill="#ffff81"/>
<path d="M329.36 117.48L330.79 117.98L332.22 118.48L333.05 116.4L333.88 114.09L332.45 113.61L331.02 113.13L330.19 115.42z" fill="#ffffd8"/>
<path d="M357.72 111.05L359.17 111.46L360.63 111.88L361.43 110.68L362.23 109.52L360.78 109.12L359.33 108.71L358.53 109.86z" fill="#ffff99"/>
<path d="M271.44 118.92L272.76 117.5L274.1 116.63L275.04 116.69L275.97 116.64L274.61 117.18L273.26 117.78L272.36 118.56z" fill="#ffffe7"/>
<path d="M350.35 108.02L351.79 108.5L353.24 108.98L354.04 109.42L354.83 110.21L353.38 109.8L351.94 109.38L351.14 108.53z" fill="#ffff8d"/>
<path d="M386.1 105.11L387.57 105.49L389.04 105.87L389.82 104.64L390.6 103.41L389.13 103.04L387.66 102.68L386.88 103.9z" fill="#ffff56"/>
<path d="M312.9 119.1L314.31 119.41L315.73 119.72L316.6 119.59L317.45 119.3L316.03 118.88L314.61 118.32L313.76 118.96z" fill="#fffff7"/>
<path d="M369.65 108.87L371.11 109.27L372.58 109.67L373.37 108.55L374.16 107.44L372.7 107.04L371.24 106.65L370.45 107.76z" fill="#ffff81"/>
<path d="M305.49 117.68L306.9 117.94L308.31 118.2L309.19 118.47L310.07 118.49L308.65 118.18L307.24 117.88L306.37 117.89z" fill="#ffffeb"/>
<path d="M283.29 115.31L284.66 114.94L286.04 114.59L286.97 115.11L287.89 115.47L286.51 115.57L285.13 115.68L284.21 115.56z" fill="#ffffcc"/>
<path d="M320.3 119.96L321.72 120.29L323.15 120.61L323.99 120.24L324.84 119.51L323.41 118.97L321.99 118.43L321.14 119.41z" fill="#ffffff"/>
<path d="M333.88 114.09L335.32 114.57L336.75 115.06L337.58 112.62L338.41 110.24L336.97 109.77L335.54 109.3L334.71 111.67z" fill="#ffffa8"/>
<path d="M381.59 106.72L383.06 107.11L384.53 107.5L385.32 106.32L386.1 105.11L384.63 104.74L383.16 104.36L382.38 105.55z" fill="#ffff65"/>
<path d="M342.94 107.37L344.38 107.85L345.83 108.35L346.65 107.32L347.46 107.1L346.02 106.64L344.58 106.19L343.76 106.37z" fill="#ffff71"/>
<path d="M298.07 116.11L299.47 116.2L300.88 116.31L301.78 116.85L302.67 117.18L301.26 116.96L299.86 116.74L298.97 116.52z" fill="#ffffdc"/>
<path d="M365.14 110.34L366.6 110.74L368.06 111.15L368.86 110L369.65 108.87L368.19 108.47L366.74 108.08L365.94 109.2z" fill="#ffff8d"/>
<path d="M290.66 115.23L292.05 115.06L293.45 114.9L294.36 115.54L295.27 115.97L293.88 115.92L292.48 115.87L291.58 115.64z" fill="#ffffcc"/>
<path d="M393.55 104.14L395.03 104.51L395.81 103.25L396.58 101.99L395.1 101.77L394.33 102.91z" fill="#ffff42"/>
<path d="M327.69 120.4L329.12 120.75L330.56 121.1L331.39 120.29L332.22 118.48L330.79 117.98L329.36 117.48L328.53 119.25z" fill="#fffff7"/>
<path d="M377.09 108.22L378.55 108.61L380.02 109.01L380.81 107.87L381.59 106.72L380.12 106.34L378.66 105.95L377.87 107.09z" fill="#ffff71"/>
<path d="M338.41 110.24L339.85 110.71L341.29 111.19L342.12 109.04L342.94 107.37L341.5 106.9L340.06 106.45L339.24 108.1z" fill="#ffff81"/>
<path d="M332.22 118.48L333.66 118.98L335.09 119.48L335.92 117.38L336.75 115.06L335.32 114.57L333.88 114.09L333.05 116.4z" fill="#ffffd8"/>
<path d="M360.63 111.88L362.08 112.3L363.54 112.72L364.34 111.51L365.14 110.34L363.69 109.93L362.23 109.52L361.43 110.68z" fill="#ffff99"/>
<path d="M353.24 108.98L354.69 109.48L356.14 109.98L356.94 110.33L357.72 111.05L356.27 110.63L354.83 110.21L354.04 109.42z" fill="#ffff8d"/>
<path d="M389.04 105.87L390.52 106.24L392 106.62L392.78 105.39L393.55 104.14L392.08 103.77L390.6 103.41L389.82 104.64z" fill="#ffff52"/>
<path d="M372.58 109.67L374.04 110.07L375.51 110.47L376.3 109.34L377.09 108.22L375.62 107.83L374.16 107.44L373.37 108.55z" fill="#ffff7d"/>
<path d="M278.7 115.84L280.06 115.24L281.43 114.55L282.36 114.99L283.29 115.31L281.92 115.68L280.55 115.99L279.62 115.95z" fill="#ffffc4"/>
<path d="M315.73 119.72L317.16 120.04L318.58 120.35L319.44 120.24L320.3 119.96L318.87 119.63L317.45 119.3L316.6 119.59z" fill="#fffff7"/>
<path d="M323.15 120.61L324.58 120.94L326.01 121.27L326.85 120.9L327.69 120.4L326.26 120.05L324.84 119.51L323.99 120.24z" fill="#fffffb"/>
<path d="M308.31 118.2L309.73 118.48L311.15 118.75L312.03 119.05L312.9 119.1L311.48 118.79L310.07 118.49L309.19 118.47z" fill="#ffffe7"/>
<path d="M336.75 115.06L338.19 115.54L339.63 116.04L340.46 113.59L341.29 111.19L339.85 110.71L338.41 110.24L337.58 112.62z" fill="#ffffac"/>
<path d="M345.83 108.35L347.27 108.86L348.72 109.37L349.54 108.3L350.35 108.02L348.9 107.56L347.46 107.1L346.65 107.32z" fill="#ffff71"/>
<path d="M384.53 107.5L386.01 107.88L387.48 108.27L388.26 107.08L389.04 105.87L387.57 105.49L386.1 105.11L385.32 106.32z" fill="#ffff61"/>
<path d="M368.06 111.15L369.52 111.56L370.99 111.97L371.78 110.81L372.58 109.67L371.11 109.27L369.65 108.87L368.86 110z" fill="#ffff8d"/>
<path d="M300.88 116.31L302.29 116.46L303.7 116.65L304.6 117.28L305.49 117.68L304.08 117.42L302.67 117.18L301.78 116.85z" fill="#ffffd4"/>
<path d="M330.56 121.1L331.99 121.45L333.43 121.8L334.26 121.32L335.09 119.48L333.66 118.98L332.22 118.48L331.39 120.29z" fill="#fffff7"/>
<path d="M341.29 111.19L342.73 111.69L344.17 112.21L345 110.05L345.83 108.35L344.38 107.85L342.94 107.37L342.12 109.04z" fill="#ffff81"/>
<path d="M335.09 119.48L336.53 119.99L337.97 120.49L338.8 118.37L339.63 116.04L338.19 115.54L336.75 115.06L335.92 117.38z" fill="#ffffdc"/>
<path d="M380.02 109.01L381.49 109.4L382.97 109.8L383.75 108.65L384.53 107.5L383.06 107.11L381.59 106.72L380.81 107.87z" fill="#ffff71"/>
<path d="M286.04 114.59L287.43 114.21L288.81 113.81L289.74 114.63L290.66 115.23L289.28 115.36L287.89 115.47L286.97 115.11z" fill="#ffffb8"/>
<path d="M274.1 116.63L275.46 115.98L276.82 115.27L277.76 115.62L278.7 115.84L277.33 116.26L275.97 116.64L275.04 116.69z" fill="#ffffc8"/>
<path d="M293.45 114.9L294.84 114.78L296.24 114.66L297.16 115.51L298.07 116.11L296.67 116.04L295.27 115.97L294.36 115.54z" fill="#ffffc0"/>
<path d="M363.54 112.72L365 113.14L366.46 113.56L367.26 112.33L368.06 111.15L366.6 110.74L365.14 110.34L364.34 111.51z" fill="#ffff99"/>
<path d="M392 106.62L393.48 107L394.26 105.76L395.03 104.51L393.55 104.14L392.78 105.39z" fill="#ffff52"/>
<path d="M356.14 109.98L357.6 110.49L359.05 111.03L359.84 111.28L360.63 111.88L359.17 111.46L357.72 111.05L356.94 110.33z" fill="#ffff8d"/>
<path d="M375.51 110.47L376.98 110.88L378.45 111.28L379.24 110.14L380.02 109.01L378.55 108.61L377.09 108.22L376.3 109.34z" fill="#ffff7d"/>
<path d="M269.58 119.42L270.88 117.44L272.21 116.18L273.16 116.45L274.1 116.63L272.76 117.5L271.44 118.92L270.51 119.21z" fill="#ffffd4"/>
<path d="M339.63 116.04L341.07 116.54L342.52 117.04L343.35 114.6L344.17 112.21L342.73 111.69L341.29 111.19L340.46 113.59z" fill="#ffffac"/>
<path d="M318.58 120.35L320.01 120.67L321.44 120.99L322.3 120.88L323.15 120.61L321.72 120.29L320.3 119.96L319.44 120.24z" fill="#fffff3"/>
<path d="M348.72 109.37L350.17 109.89L351.62 110.42L352.43 109.32L353.24 108.98L351.79 108.5L350.35 108.02L349.54 108.3z" fill="#ffff75"/>
<path d="M326.01 121.27L327.44 121.6L328.88 121.93L329.72 121.57L330.56 121.1L329.12 120.75L327.69 120.4L326.85 120.9z" fill="#fffff7"/>
<path d="M311.15 118.75L312.57 119.04L314 119.33L314.87 119.65L315.73 119.72L314.31 119.41L312.9 119.1L312.03 119.05z" fill="#ffffe3"/>
<path d="M387.48 108.27L388.96 108.66L390.44 109.05L391.22 107.85L392 106.62L390.52 106.24L389.04 105.87L388.26 107.08z" fill="#ffff61"/>
<path d="M370.99 111.97L372.45 112.38L373.92 112.79L374.71 111.62L375.51 110.47L374.04 110.07L372.58 109.67L371.78 110.81z" fill="#ffff89"/>
<path d="M344.17 112.21L345.62 112.72L347.07 113.25L347.9 111.09L348.72 109.37L347.27 108.86L345.83 108.35L345 110.05z" fill="#ffff85"/>
<path d="M333.43 121.8L334.87 122.16L336.31 122.51L337.14 122.36L337.97 120.49L336.53 119.99L335.09 119.48L334.26 121.32z" fill="#fffff7"/>
<path d="M337.97 120.49L339.41 120.99L340.86 121.5L341.69 119.37L342.52 117.04L341.07 116.54L339.63 116.04L338.8 118.37z" fill="#ffffdc"/>
<path d="M303.7 116.65L305.12 116.85L306.53 117.05L307.43 117.75L308.31 118.2L306.9 117.94L305.49 117.68L304.6 117.28z" fill="#ffffcc"/>
<path d="M382.97 109.8L384.44 110.19L385.92 110.59L386.7 109.44L387.48 108.27L386.01 107.88L384.53 107.5L383.75 108.65z" fill="#ffff71"/>
<path d="M359.05 111.03L360.51 111.59L361.97 112.15L362.76 112.27L363.54 112.72L362.08 112.3L360.63 111.88L359.84 111.28z" fill="#ffff8d"/>
<path d="M366.46 113.56L367.92 113.98L369.39 114.4L370.19 113.16L370.99 111.97L369.52 111.56L368.06 111.15L367.26 112.33z" fill="#ffff99"/>
<path d="M281.43 114.55L282.79 113.87L284.17 113.19L285.11 113.96L286.04 114.59L284.66 114.94L283.29 115.31L282.36 114.99z" fill="#ffffa8"/>
<path d="M378.45 111.28L379.92 111.68L381.39 112.08L382.18 110.94L382.97 109.8L381.49 109.4L380.02 109.01L379.24 110.14z" fill="#ffff7d"/>
<path d="M342.52 117.04L343.96 117.55L345.41 118.06L346.24 115.64L347.07 113.25L345.62 112.72L344.17 112.21L343.35 114.6z" fill="#ffffb0"/>
<path d="M390.44 109.05L391.93 109.44L392.7 108.23L393.48 107L392 106.62L391.22 107.85z" fill="#ffff61"/>
<path d="M296.24 114.66L297.65 114.57L299.06 114.52L299.97 115.55L300.88 116.31L299.47 116.2L298.07 116.11L297.16 115.51z" fill="#ffffb0"/>
<path d="M351.62 110.42L353.07 110.97L354.53 111.52L355.34 110.38L356.14 109.98L354.69 109.48L353.24 108.98L352.43 109.32z" fill="#ffff75"/>
<path d="M321.44 120.99L322.87 121.31L324.31 121.64L325.16 121.53L326.01 121.27L324.58 120.94L323.15 120.61L322.3 120.88z" fill="#ffffef"/>
<path d="M288.81 113.81L290.2 113.34L291.59 112.88L292.52 114.02L293.45 114.9L292.05 115.06L290.66 115.23L289.74 114.63z" fill="#ffffa4"/>
<path d="M328.88 121.93L330.31 122.25L331.75 122.58L332.59 122.24L333.43 121.8L331.99 121.45L330.56 121.1L329.72 121.57z" fill="#fffff7"/>
<path d="M314 119.33L315.42 119.64L316.85 119.94L317.72 120.28L318.58 120.35L317.16 120.04L315.73 119.72L314.87 119.65z" fill="#ffffdf"/>
<path d="M373.92 112.79L375.39 113.2L376.86 113.61L377.66 112.43L378.45 111.28L376.98 110.88L375.51 110.47L374.71 111.62z" fill="#ffff89"/>
<path d="M347.07 113.25L348.52 113.78L349.97 114.31L350.8 112.16L351.62 110.42L350.17 109.89L348.72 109.37L347.9 111.09z" fill="#ffff85"/>
<path d="M340.86 121.5L342.3 122L343.75 122.5L344.58 120.38L345.41 118.06L343.96 117.55L342.52 117.04L341.69 119.37z" fill="#ffffdc"/>
<path d="M336.31 122.51L337.75 122.86L339.2 123.22L340.03 123.19L340.86 121.5L339.41 120.99L337.97 120.49L337.14 122.36z" fill="#fffff7"/>
<path d="M276.82 115.27L278.17 114.31L279.53 113.23L280.48 113.98L281.43 114.55L280.06 115.24L278.7 115.84L277.76 115.62z" fill="#ffffa4"/>
<path d="M385.92 110.59L387.4 110.99L388.88 111.38L389.66 110.22L390.44 109.05L388.96 108.66L387.48 108.27L386.7 109.44z" fill="#ffff6d"/>
<path d="M361.97 112.15L363.43 112.72L364.9 113.29L365.68 113.27L366.46 113.56L365 113.14L363.54 112.72L362.76 112.27z" fill="#ffff91"/>
<path d="M369.39 114.4L370.86 114.82L372.32 115.24L373.12 113.99L373.92 112.79L372.45 112.38L370.99 111.97L370.19 113.16z" fill="#ffff95"/>
<path d="M306.53 117.05L307.95 117.27L309.38 117.5L310.27 118.26L311.15 118.75L309.73 118.48L308.31 118.2L307.43 117.75z" fill="#ffffc4"/>
<path d="M345.41 118.06L346.86 118.58L348.31 119.09L349.14 116.69L349.97 114.31L348.52 113.78L347.07 113.25L346.24 115.64z" fill="#ffffb0"/>
<path d="M354.53 111.52L355.98 112.08L357.44 112.67L358.25 111.5L359.05 111.03L357.6 110.49L356.14 109.98L355.34 110.38z" fill="#ffff79"/>
<path d="M381.39 112.08L382.87 112.49L384.35 112.89L385.14 111.74L385.92 110.59L384.44 110.19L382.97 109.8L382.18 110.94z" fill="#ffff79"/>
<path d="M272.21 116.18L273.56 115.22L274.91 114.17L275.87 114.78L276.82 115.27L275.46 115.98L274.1 116.63L273.16 116.45z" fill="#ffffa8"/>
<path d="M324.31 121.64L325.74 121.96L327.18 122.29L328.03 122.18L328.88 121.93L327.44 121.6L326.01 121.27L325.16 121.53z" fill="#ffffeb"/>
<path d="M349.97 114.31L351.42 114.86L352.88 115.41L353.7 113.26L354.53 111.52L353.07 110.97L351.62 110.42L350.8 112.16z" fill="#ffff89"/>
<path d="M331.75 122.58L333.2 122.91L334.64 123.24L335.48 122.91L336.31 122.51L334.87 122.16L333.43 121.8L332.59 122.24z" fill="#fffff3"/>
<path d="M299.06 114.52L300.47 114.55L301.88 114.64L302.8 115.79L303.7 116.65L302.29 116.46L300.88 116.31L299.97 115.55z" fill="#ffffa4"/>
<path d="M376.86 113.61L378.34 114.03L379.81 114.44L380.61 113.25L381.39 112.08L379.92 111.68L378.45 111.28L377.66 112.43z" fill="#ffff89"/>
<path d="M343.75 122.5L345.2 123L346.65 123.51L347.48 121.39L348.31 119.09L346.86 118.58L345.41 118.06L344.58 120.38z" fill="#ffffdf"/>
<path d="M388.88 111.38L390.37 111.78L391.15 110.62L391.93 109.44L390.44 109.05L389.66 110.22z" fill="#ffff6d"/>
<path d="M316.85 119.94L318.28 120.26L319.72 120.57L320.58 120.91L321.44 120.99L320.01 120.67L318.58 120.35L317.72 120.28z" fill="#ffffdc"/>
<path d="M267.69 119.43L268.97 116.86L270.29 115.2L271.26 115.84L272.21 116.18L270.88 117.44L269.58 119.42L268.64 119.58z" fill="#ffffb8"/>
<path d="M339.2 123.22L340.65 123.58L342.1 123.93L342.92 123.96L343.75 122.5L342.3 122L340.86 121.5L340.03 123.19z" fill="#fffff7"/>
<path d="M284.17 113.19L285.54 112.5L286.92 111.76L287.87 112.87L288.81 113.81L287.43 114.21L286.04 114.59L285.11 113.96z" fill="#ffff8d"/>
<path d="M364.9 113.29L366.36 113.88L367.83 114.48L368.61 114.3L369.39 114.4L367.92 113.98L366.46 113.56L365.68 113.27z" fill="#ffff91"/>
<path d="M372.32 115.24L373.8 115.66L375.27 116.09L376.07 114.83L376.86 113.61L375.39 113.2L373.92 112.79L373.12 113.99z" fill="#ffff95"/>
<path d="M291.59 112.88L292.98 112.49L294.38 112.1L295.32 113.53L296.24 114.66L294.84 114.78L293.45 114.9L292.52 114.02z" fill="#ffff8d"/>
<path d="M357.44 112.67L358.9 113.29L360.36 113.91L361.17 112.7L361.97 112.15L360.51 111.59L359.05 111.03L358.25 111.5z" fill="#ffff7d"/>
<path d="M348.31 119.09L349.76 119.61L351.22 120.14L352.05 117.76L352.88 115.41L351.42 114.86L349.97 114.31L349.14 116.69z" fill="#ffffb4"/>
<path d="M309.38 117.5L310.8 117.75L312.23 118.02L313.12 118.81L314 119.33L312.57 119.04L311.15 118.75L310.27 118.26z" fill="#ffffc0"/>
<path d="M384.35 112.89L385.83 113.3L387.32 113.7L388.1 112.54L388.88 111.38L387.4 110.99L385.92 110.59L385.14 111.74z" fill="#ffff79"/>
<path d="M352.88 115.41L354.33 115.97L355.79 116.54L356.62 114.42L357.44 112.67L355.98 112.08L354.53 111.52L353.7 113.26z" fill="#ffff8d"/>
<path d="M346.65 123.51L348.1 124.01L349.56 124.52L350.39 122.41L351.22 120.14L349.76 119.61L348.31 119.09L347.48 121.39z" fill="#ffffdf"/>
<path d="M327.18 122.29L328.62 122.62L330.07 122.95L330.91 122.84L331.75 122.58L330.31 122.25L328.88 121.93L328.03 122.18z" fill="#ffffe7"/>
<path d="M334.64 123.24L336.09 123.57L337.54 123.9L338.37 123.58L339.2 123.22L337.75 122.86L336.31 122.51L335.48 122.91z" fill="#ffffef"/>
<path d="M379.81 114.44L381.29 114.85L382.78 115.27L383.56 114.07L384.35 112.89L382.87 112.49L381.39 112.08L380.61 113.25z" fill="#ffff85"/>
<path d="M342.1 123.93L343.55 124.29L345.01 124.65L345.83 124.73L346.65 123.51L345.2 123L343.75 122.5L342.92 123.96z" fill="#fffff3"/>
<path d="M319.72 120.57L321.15 120.9L322.59 121.23L323.45 121.56L324.31 121.64L322.87 121.31L321.44 120.99L320.58 120.91z" fill="#ffffd8"/>
<path d="M367.83 114.48L369.29 115.11L370.76 115.76L371.55 115.38L372.32 115.24L370.86 114.82L369.39 114.4L368.61 114.3z" fill="#ffff95"/>
<path d="M301.88 114.64L303.3 114.74L304.72 114.86L305.63 116.11L306.53 117.05L305.12 116.85L303.7 116.65L302.8 115.79z" fill="#ffff9d"/>
<path d="M279.53 113.23L280.89 112.15L282.25 111.09L283.22 112.24L284.17 113.19L282.79 113.87L281.43 114.55L280.48 113.98z" fill="#ffff7d"/>
<path d="M360.36 113.91L361.82 114.53L363.29 115.17L364.1 113.93L364.9 113.29L363.43 112.72L361.97 112.15L361.17 112.7z" fill="#ffff81"/>
<path d="M375.27 116.09L376.75 116.51L378.23 116.94L379.02 115.66L379.81 114.44L378.34 114.03L376.86 113.61L376.07 114.83z" fill="#ffff95"/>
<path d="M351.22 120.14L352.68 120.66L354.13 121.2L354.96 118.86L355.79 116.54L354.33 115.97L352.88 115.41L352.05 117.76z" fill="#ffffb4"/>
<path d="M387.32 113.7L388.8 114.11L389.59 112.94L390.37 111.78L388.88 111.38L388.1 112.54z" fill="#ffff79"/>
<path d="M312.23 118.02L313.66 118.31L315.1 118.62L315.98 119.41L316.85 119.94L315.42 119.64L314 119.33L313.12 118.81z" fill="#ffffbc"/>
<path d="M355.79 116.54L357.25 117.13L358.72 117.73L359.54 115.64L360.36 113.91L358.9 113.29L357.44 112.67L356.62 114.42z" fill="#ffff91"/>
<path d="M349.56 124.52L351.02 125.03L352.48 125.54L353.3 123.45L354.13 121.2L352.68 120.66L351.22 120.14L350.39 122.41z" fill="#ffffe3"/>
<path d="M294.38 112.1L295.78 111.75L297.19 111.48L298.13 113.17L299.06 114.52L297.65 114.57L296.24 114.66L295.32 113.53z" fill="#ffff79"/>
<path d="M286.92 111.76L288.3 110.91L289.69 110.09L290.64 111.59L291.59 112.88L290.2 113.34L288.81 113.81L287.87 112.87z" fill="#ffff6d"/>
<path d="M382.78 115.27L384.26 115.68L385.74 116.1L386.53 114.89L387.32 113.7L385.83 113.3L384.35 112.89L383.56 114.07z" fill="#ffff85"/>
<path d="M274.91 114.17L276.25 112.8L277.6 111.27L278.57 112.32L279.53 113.23L278.17 114.31L276.82 115.27L275.87 114.78z" fill="#ffff7d"/>
<path d="M330.07 122.95L331.51 123.28L332.96 123.62L333.8 123.5L334.64 123.24L333.2 122.91L331.75 122.58L330.91 122.84z" fill="#ffffe3"/>
<path d="M370.76 115.76L372.23 116.4L373.71 117.05L374.49 116.47L375.27 116.09L373.8 115.66L372.32 115.24L371.55 115.38z" fill="#ffff95"/>
<path d="M337.54 123.9L338.99 124.23L340.44 124.56L341.27 124.25L342.1 123.93L340.65 123.58L339.2 123.22L338.37 123.58z" fill="#ffffeb"/>
<path d="M345.01 124.65L346.46 125.01L347.92 125.37L348.74 125.49L349.56 124.52L348.1 124.01L346.65 123.51L345.83 124.73z" fill="#fffff3"/>
<path d="M363.29 115.17L364.75 115.82L366.22 116.49L367.03 115.22L367.83 114.48L366.36 113.88L364.9 113.29L364.1 113.93z" fill="#ffff89"/>
<path d="M322.59 121.23L324.03 121.57L325.47 121.92L326.33 122.22L327.18 122.29L325.74 121.96L324.31 121.64L323.45 121.56z" fill="#ffffd4"/>
<path d="M354.13 121.2L355.59 121.74L357.06 122.28L357.89 119.99L358.72 117.73L357.25 117.13L355.79 116.54L354.96 118.86z" fill="#ffffb8"/>
<path d="M378.23 116.94L379.71 117.36L381.19 117.79L381.98 116.5L382.78 115.27L381.29 114.85L379.81 114.44L379.02 115.66z" fill="#ffff95"/>
<path d="M304.72 114.86L306.15 115L307.57 115.16L308.48 116.49L309.38 117.5L307.95 117.27L306.53 117.05L305.63 116.11z" fill="#ffff95"/>
<path d="M358.72 117.73L360.18 118.33L361.64 118.93L362.47 116.89L363.29 115.17L361.82 114.53L360.36 113.91L359.54 115.64z" fill="#ffff95"/>
<path d="M270.29 115.2L271.63 113.91L272.97 112.52L273.95 113.49L274.91 114.17L273.56 115.22L272.21 116.18L271.26 115.84z" fill="#ffff81"/>
<path d="M315.1 118.62L316.53 118.92L317.97 119.24L318.85 120.04L319.72 120.57L318.28 120.26L316.85 119.94L315.98 119.41z" fill="#ffffb8"/>
<path d="M265.76 118.82L267.02 115.64L268.32 113.57L269.31 114.32L270.29 115.2L268.97 116.86L267.69 119.43L266.72 119.04z" fill="#ffff95"/>
<path d="M385.74 116.1L387.23 116.51L388.02 115.3L388.8 114.11L387.32 113.7L386.53 114.89z" fill="#ffff85"/>
<path d="M352.48 125.54L353.94 126.06L355.4 126.57L356.23 124.49L357.06 122.28L355.59 121.74L354.13 121.2L353.3 123.45z" fill="#ffffe3"/>
<path d="M373.71 117.05L375.18 117.71L376.65 118.38L377.44 117.58L378.23 116.94L376.75 116.51L375.27 116.09L374.49 116.47z" fill="#ffff99"/>
<path d="M366.22 116.49L367.69 117.19L369.16 117.91L369.97 116.6L370.76 115.76L369.29 115.11L367.83 114.48L367.03 115.22z" fill="#ffff8d"/>
<path d="M332.96 123.62L334.41 123.95L335.86 124.29L336.7 124.16L337.54 123.9L336.09 123.57L334.64 123.24L333.8 123.5z" fill="#ffffdf"/>
<path d="M347.92 125.37L349.38 125.73L350.85 126.1L351.66 126.26L352.48 125.54L351.02 125.03L349.56 124.52L348.74 125.49z" fill="#fffff3"/>
<path d="M340.44 124.56L341.9 124.9L343.35 125.23L344.18 124.92L345.01 124.65L343.55 124.29L342.1 123.93L341.27 124.25z" fill="#ffffe7"/>
<path d="M357.06 122.28L358.52 122.83L359.99 123.38L360.82 121.14L361.64 118.93L360.18 118.33L358.72 117.73L357.89 119.99z" fill="#ffffbc"/>
<path d="M325.47 121.92L326.92 122.28L328.37 122.64L329.22 122.9L330.07 122.95L328.62 122.62L327.18 122.29L326.33 122.22z" fill="#ffffd0"/>
<path d="M282.25 111.09L283.62 110L284.99 108.84L285.96 110.42L286.92 111.76L285.54 112.5L284.17 113.19L283.22 112.24z" fill="#ffff56"/>
<path d="M297.19 111.48L298.6 111.32L300.02 111.27L300.96 113.13L301.88 114.64L300.47 114.55L299.06 114.52L298.13 113.17z" fill="#ffff69"/>
<path d="M361.64 118.93L363.11 119.55L364.58 120.18L365.4 118.19L366.22 116.49L364.75 115.82L363.29 115.17L362.47 116.89z" fill="#ffff9d"/>
<path d="M381.19 117.79L382.67 118.21L384.16 118.64L384.95 117.34L385.74 116.1L384.26 115.68L382.78 115.27L381.98 116.5z" fill="#ffff95"/>
<path d="M307.57 115.16L309 115.36L310.44 115.59L311.34 116.97L312.23 118.02L310.8 117.75L309.38 117.5L308.48 116.49z" fill="#ffff8d"/>
<path d="M355.4 126.57L356.87 127.09L358.33 127.6L359.16 125.54L359.99 123.38L358.52 122.83L357.06 122.28L356.23 124.49z" fill="#ffffe7"/>
<path d="M289.69 110.09L291.08 109.36L292.47 108.64L293.43 110.49L294.38 112.1L292.98 112.49L291.59 112.88L290.64 111.59z" fill="#ffff4e"/>
<path d="M369.16 117.91L370.63 118.63L372.1 119.36L372.91 118.02L373.71 117.05L372.23 116.4L370.76 115.76L369.97 116.6z" fill="#ffff95"/>
<path d="M317.97 119.24L319.41 119.58L320.85 119.93L321.72 120.71L322.59 121.23L321.15 120.9L319.72 120.57L318.85 120.04z" fill="#ffffb4"/>
<path d="M376.65 118.38L378.13 119.05L379.61 119.73L380.4 118.71L381.19 117.79L379.71 117.36L378.23 116.94L377.44 117.58z" fill="#ffff9d"/>
<path d="M359.99 123.38L361.46 123.93L362.93 124.5L363.75 122.33L364.58 120.18L363.11 119.55L361.64 118.93L360.82 121.14z" fill="#ffffc0"/>
<path d="M384.16 118.64L385.65 119.07L386.44 117.77L387.23 116.51L385.74 116.1L384.95 117.34z" fill="#ffff95"/>
<path d="M350.85 126.1L352.31 126.46L353.78 126.82L354.59 127.03L355.4 126.57L353.94 126.06L352.48 125.54L351.66 126.26z" fill="#fffff3"/>
<path d="M364.58 120.18L366.05 120.84L367.52 121.5L368.34 119.58L369.16 117.91L367.69 117.19L366.22 116.49L365.4 118.19z" fill="#ffffa0"/>
<path d="M335.86 124.29L337.32 124.63L338.77 124.97L339.61 124.82L340.44 124.56L338.99 124.23L337.54 123.9L336.7 124.16z" fill="#ffffdc"/>
<path d="M343.35 125.23L344.82 125.56L346.28 125.89L347.1 125.59L347.92 125.37L346.46 125.01L345.01 124.65L344.18 124.92z" fill="#ffffe7"/>
<path d="M328.37 122.64L329.82 123L331.27 123.36L332.12 123.59L332.96 123.62L331.51 123.28L330.07 122.95L329.22 122.9z" fill="#ffffcc"/>
<path d="M277.6 111.27L278.94 109.73L280.3 108.22L281.28 109.74L282.25 111.09L280.89 112.15L279.53 113.23L278.57 112.32z" fill="#ffff4a"/>
<path d="M372.1 119.36L373.58 120.09L375.05 120.83L375.86 119.47L376.65 118.38L375.18 117.71L373.71 117.05L372.91 118.02z" fill="#ffff9d"/>
<path d="M300.02 111.27L301.44 111.24L302.87 111.23L303.8 113.24L304.72 114.86L303.3 114.74L301.88 114.64L300.96 113.13z" fill="#ffff5e"/>
<path d="M358.33 127.6L359.8 128.12L361.27 128.63L362.1 126.61L362.93 124.5L361.46 123.93L359.99 123.38L359.16 125.54z" fill="#ffffeb"/>
<path d="M264.06 123.92L265.27 119.78L266.55 117.02L267.36 113.3L268.32 113.57L267.02 115.64L265.76 118.82L264.82 119.17z" fill="#ffff8d"/>
<path d="M310.44 115.59L311.87 115.86L313.31 116.15L314.21 117.55L315.1 118.62L313.66 118.31L312.23 118.02L311.34 116.97z" fill="#ffff89"/>
<path d="M379.61 119.73L381.09 120.42L382.57 121.1L383.37 119.85L384.16 118.64L382.67 118.21L381.19 117.79L380.4 118.71z" fill="#ffffa0"/>
<path d="M320.85 119.93L322.3 120.31L323.75 120.7L324.61 121.44L325.47 121.92L324.03 121.57L322.59 121.23L321.72 120.71z" fill="#ffffb0"/>
<path d="M362.93 124.5L364.4 125.07L365.87 125.64L366.7 123.56L367.52 121.5L366.05 120.84L364.58 120.18L363.75 122.33z" fill="#ffffc4"/>
<path d="M367.52 121.5L369 122.17L370.47 122.84L371.29 121L372.1 119.36L370.63 118.63L369.16 117.91L368.34 119.58z" fill="#ffffa8"/>
<path d="M272.97 112.52L274.3 110.72L275.63 108.71L276.62 110.13L277.6 111.27L276.25 112.8L274.91 114.17L273.95 113.49z" fill="#ffff4a"/>
<path d="M353.78 126.82L355.25 127.18L356.73 127.55L357.53 127.8L358.33 127.6L356.87 127.09L355.4 126.57L354.59 127.03z" fill="#ffffef"/>
<path d="M338.77 124.97L340.23 125.31L341.69 125.66L342.53 125.49L343.35 125.23L341.9 124.9L340.44 124.56L339.61 124.82z" fill="#ffffd8"/>
<path d="M346.28 125.89L347.74 126.23L349.21 126.56L350.03 126.27L350.85 126.1L349.38 125.73L347.92 125.37L347.1 125.59z" fill="#ffffe3"/>
<path d="M375.05 120.83L376.53 121.58L378.01 122.33L378.81 120.94L379.61 119.73L378.13 119.05L376.65 118.38L375.86 119.47z" fill="#ffffa4"/>
<path d="M331.27 123.36L332.72 123.73L334.18 124.11L335.02 124.29L335.86 124.29L334.41 123.95L332.96 123.62L332.12 123.59z" fill="#ffffcc"/>
<path d="M382.57 121.1L384.06 121.8L384.85 120.41L385.65 119.07L384.16 118.64L383.37 119.85z" fill="#ffffa0"/>
<path d="M284.99 108.84L286.36 107.54L287.74 106.27L288.72 108.32L289.69 110.09L288.3 110.91L286.92 111.76L285.96 110.42z" fill="#ffff2a"/>
<path d="M292.47 108.64L293.87 107.98L295.28 107.43L296.24 109.59L297.19 111.48L295.78 111.75L294.38 112.1L293.43 110.49z" fill="#ffff32"/>
<path d="M361.27 128.63L362.75 129.15L364.22 129.67L365.05 127.68L365.87 125.64L364.4 125.07L362.93 124.5L362.1 126.61z" fill="#ffffeb"/>
<path d="M268.32 113.57L269.65 111.96L270.98 110.22L271.98 111.32L272.97 112.52L271.63 113.91L270.29 115.2L269.31 114.32z" fill="#ffff52"/>
<path d="M370.47 122.84L371.95 123.52L373.43 124.2L374.24 122.43L375.05 120.83L373.58 120.09L372.1 119.36L371.29 121z" fill="#ffffb0"/>
<path d="M365.87 125.64L367.35 126.22L368.83 126.8L369.65 124.81L370.47 122.84L369 122.17L367.52 121.5L366.7 123.56z" fill="#ffffcc"/>
<path d="M313.31 116.15L314.75 116.46L316.2 116.78L317.09 118.18L317.97 119.24L316.53 118.92L315.1 118.62L314.21 117.55z" fill="#ffff85"/>
<path d="M323.75 120.7L325.2 121.1L326.65 121.51L327.51 122.19L328.37 122.64L326.92 122.28L325.47 121.92L324.61 121.44z" fill="#ffffac"/>
<path d="M302.87 111.23L304.29 111.26L305.73 111.33L306.66 113.45L307.57 115.16L306.15 115L304.72 114.86L303.8 113.24z" fill="#ffff52"/>
<path d="M378.01 122.33L379.49 123.09L380.97 123.87L381.77 122.44L382.57 121.1L381.09 120.42L379.61 119.73L378.81 120.94z" fill="#ffffac"/>
<path d="M356.73 127.55L358.2 127.91L359.68 128.28L360.48 128.58L361.27 128.63L359.8 128.12L358.33 127.6L357.53 127.8z" fill="#ffffef"/>
<path d="M341.69 125.66L343.16 126L344.62 126.35L345.45 126.16L346.28 125.89L344.82 125.56L343.35 125.23L342.53 125.49z" fill="#ffffd8"/>
<path d="M349.21 126.56L350.68 126.9L352.15 127.23L352.97 126.95L353.78 126.82L352.31 126.46L350.85 126.1L350.03 126.27z" fill="#ffffdf"/>
<path d="M364.22 129.67L365.7 130.19L367.18 130.64L368 128.77L368.83 126.8L367.35 126.22L365.87 125.64L365.05 127.68z" fill="#ffffef"/>
<path d="M334.18 124.11L335.64 124.5L337.1 124.89L337.94 125.01L338.77 124.97L337.32 124.63L335.86 124.29L335.02 124.29z" fill="#ffffc8"/>
<path d="M373.43 124.2L374.91 124.88L376.39 125.56L377.2 123.88L378.01 122.33L376.53 121.58L375.05 120.83L374.24 122.43z" fill="#ffffb8"/>
<path d="M368.83 126.8L370.31 127.38L371.79 127.96L372.61 126.06L373.43 124.2L371.95 123.52L370.47 122.84L369.65 124.81z" fill="#ffffd0"/>
<path d="M380.97 123.87L382.45 124.67L383.26 123.21L384.06 121.8L382.57 121.1L381.77 122.44z" fill="#ffffb4"/>
<path d="M280.3 108.22L281.66 106.66L283.02 105.02L284.01 107.03L284.99 108.84L283.62 110L282.25 111.09L281.28 109.74z" fill="#ffff13"/>
<path d="M316.2 116.78L317.64 117.13L319.09 117.51L319.98 118.89L320.85 119.93L319.41 119.58L317.97 119.24L317.09 118.18z" fill="#ffff81"/>
<path d="M326.65 121.51L328.1 121.92L329.56 122.34L330.42 122.97L331.27 123.36L329.82 123L328.37 122.64L327.51 122.19z" fill="#ffffac"/>
<path d="M295.28 107.43L296.69 107.04L298.11 106.81L299.07 109.19L300.02 111.27L298.6 111.32L297.19 111.48L296.24 109.59z" fill="#ffff1b"/>
<path d="M305.73 111.33L307.16 111.45L308.6 111.62L309.52 113.81L310.44 115.59L309 115.36L307.57 115.16L306.66 113.45z" fill="#ffff4a"/>
<path d="M359.68 128.28L361.16 128.64L362.64 129.01L363.43 129.36L364.22 129.67L362.75 129.15L361.27 128.63L360.48 128.58z" fill="#ffffef"/>
<path d="M376.39 125.56L377.87 126.26L379.36 126.97L380.17 125.38L380.97 123.87L379.49 123.09L378.01 122.33L377.2 123.88z" fill="#ffffc0"/>
<path d="M367.18 130.64L368.66 131.04L370.15 131.43L370.96 129.86L371.79 127.96L370.31 127.38L368.83 126.8L368 128.77z" fill="#ffffef"/>
<path d="M371.79 127.96L373.27 128.54L374.75 129.13L375.57 127.32L376.39 125.56L374.91 124.88L373.43 124.2L372.61 126.06z" fill="#ffffd4"/>
<path d="M344.62 126.35L346.09 126.69L347.56 127.03L348.39 126.83L349.21 126.56L347.74 126.23L346.28 125.89L345.45 126.16z" fill="#ffffd4"/>
<path d="M352.15 127.23L353.63 127.57L355.1 127.9L355.92 127.63L356.73 127.55L355.25 127.18L353.78 126.82L352.97 126.95z" fill="#ffffdc"/>
<path d="M337.1 124.89L338.56 125.29L340.02 125.69L340.86 125.74L341.69 125.66L340.23 125.31L338.77 124.97L337.94 125.01z" fill="#ffffc4"/>
<path d="M287.74 106.27L289.12 105.13L290.51 103.99L291.5 106.48L292.47 108.64L291.08 109.36L289.69 110.09L288.72 108.32z" fill="#ffff03"/>
<path d="M275.63 108.71L276.96 106.69L278.3 104.7L279.31 106.6L280.3 108.22L278.94 109.73L277.6 111.27L276.62 110.13z" fill="#ffff0b"/>
<path d="M379.36 126.97L380.84 127.72L381.65 126.17L382.45 124.67L380.97 123.87L380.17 125.38z" fill="#ffffc8"/>
<path d="M266.55 117.02L267.85 114.83L269.16 112.47L270 109.52L270.98 110.22L269.65 111.96L268.32 113.57L267.36 113.3z" fill="#ffff3a"/>
<path d="M319.09 117.51L320.54 117.93L322 118.38L322.87 119.7L323.75 120.7L322.3 120.31L320.85 119.93L319.98 118.89z" fill="#ffff7d"/>
<path d="M329.56 122.34L331.02 122.77L332.48 123.23L333.33 123.78L334.18 124.11L332.72 123.73L331.27 123.36L330.42 122.97z" fill="#ffffac"/>
<path d="M362.64 129.01L364.12 129.38L365.61 129.75L366.4 130.15L367.18 130.64L365.7 130.19L364.22 129.67L363.43 129.36z" fill="#ffffef"/>
<path d="M374.75 129.13L376.24 129.72L377.73 130.32L378.54 128.62L379.36 126.97L377.87 126.26L376.39 125.56L375.57 127.32z" fill="#ffffdc"/>
<path d="M308.6 111.62L310.04 111.87L311.49 112.14L312.41 114.36L313.31 116.15L311.87 115.86L310.44 115.59L309.52 113.81z" fill="#ffff42"/>
<path d="M370.15 131.43L371.64 131.82L373.13 132.22L373.94 130.96L374.75 129.13L373.27 128.54L371.79 127.96L370.96 129.86z" fill="#fffff3"/>
<path d="M270.98 110.22L272.3 107.97L273.61 105.47L274.62 107.06L275.63 108.71L274.3 110.72L272.97 112.52L271.98 111.32z" fill="#ffff0f"/>
<path d="M355.1 127.9L356.58 128.24L358.06 128.58L358.87 128.31L359.68 128.28L358.2 127.91L356.73 127.55L355.92 127.63z" fill="#ffffd8"/>
<path d="M347.56 127.03L349.04 127.38L350.51 127.72L351.33 127.5L352.15 127.23L350.68 126.9L349.21 126.56L348.39 126.83z" fill="#ffffd0"/>
<path d="M298.11 106.81L299.54 106.62L300.97 106.46L301.92 109L302.87 111.23L301.44 111.24L300.02 111.27L299.07 109.19z" fill="#ffff0b"/>
<path d="M340.02 125.69L341.49 126.09L342.96 126.48L343.79 126.46L344.62 126.35L343.16 126L341.69 125.66L340.86 125.74z" fill="#ffffc4"/>
<path d="M377.73 130.32L379.22 130.94L380.03 129.3L380.84 127.72L379.36 126.97L378.54 128.62z" fill="#ffffdf"/>
<path d="M322 118.38L323.45 118.85L324.91 119.33L325.78 120.57L326.65 121.51L325.2 121.1L323.75 120.7L322.87 119.7z" fill="#ffff7d"/>
<path d="M332.48 123.23L333.94 123.7L335.41 124.19L336.25 124.64L337.1 124.89L335.64 124.5L334.18 124.11L333.33 123.78z" fill="#ffffa8"/>
<path d="M365.61 129.75L367.1 130.12L368.59 130.49L369.37 130.93L370.15 131.43L368.66 131.04L367.18 130.64L366.4 130.15z" fill="#ffffeb"/>
<path d="M283.02 105.02L284.38 103.18L285.74 101.39L286.75 103.95L287.74 106.27L286.36 107.54L284.99 108.84L284.01 107.03z" fill="#ffe700"/>
<path d="M373.13 132.22L374.62 132.61L376.11 133.02L376.91 132.06L377.73 130.32L376.24 129.72L374.75 129.13L373.94 130.96z" fill="#fffff3"/>
<path d="M311.49 112.14L312.94 112.43L314.39 112.75L315.3 114.97L316.2 116.78L314.75 116.46L313.31 116.15L312.41 114.36z" fill="#ffff3e"/>
<path d="M290.51 103.99L291.91 102.94L293.32 102.04L294.3 104.91L295.28 107.43L293.87 107.98L292.47 108.64L291.5 106.48z" fill="#ffe700"/>
<path d="M358.06 128.58L359.55 128.91L361.03 129.25L361.84 128.99L362.64 129.01L361.16 128.64L359.68 128.28L358.87 128.31z" fill="#ffffd4"/>
<path d="M350.51 127.72L351.99 128.07L353.47 128.42L354.29 128.17L355.1 127.9L353.63 127.57L352.15 127.23L351.33 127.5z" fill="#ffffcc"/>
<path d="M342.96 126.48L344.43 126.87L345.91 127.27L346.74 127.19L347.56 127.03L346.09 126.69L344.62 126.35L343.79 126.46z" fill="#ffffc0"/>
<path d="M324.91 119.33L326.37 119.82L327.83 120.31L328.7 121.47L329.56 122.34L328.1 121.92L326.65 121.51L325.78 120.57z" fill="#ffff7d"/>
<path d="M300.97 106.46L302.4 106.35L303.84 106.3L304.79 108.98L305.73 111.33L304.29 111.26L302.87 111.23L301.92 109z" fill="#fffc00"/>
<path d="M335.41 124.19L336.87 124.68L338.34 125.18L339.18 125.53L340.02 125.69L338.56 125.29L337.1 124.89L336.25 124.64z" fill="#ffffa8"/>
<path d="M376.11 133.02L377.61 133.43L378.41 132.61L379.22 130.94L377.73 130.32L376.91 132.06z" fill="#fffff3"/>
<path d="M368.59 130.49L370.08 130.85L371.58 131.22L372.36 131.71L373.13 132.22L371.64 131.82L370.15 131.43L369.37 130.93z" fill="#ffffeb"/>
<path d="M314.39 112.75L315.84 113.12L317.3 113.55L318.2 115.74L319.09 117.51L317.64 117.13L316.2 116.78L315.3 114.97z" fill="#ffff3a"/>
<path d="M278.3 104.7L279.65 102.66L281 100.51L282.01 102.9L283.02 105.02L281.66 106.66L280.3 108.22L279.31 106.6z" fill="#ffda00"/>
<path d="M361.03 129.25L362.52 129.59L364.01 129.93L364.81 129.68L365.61 129.75L364.12 129.38L362.64 129.01L361.84 128.99z" fill="#ffffd4"/>
<path d="M353.47 128.42L354.95 128.77L356.43 129.12L357.25 128.85L358.06 128.58L356.58 128.24L355.1 127.9L354.29 128.17z" fill="#ffffc8"/>
<path d="M345.91 127.27L347.38 127.66L348.86 128.06L349.69 127.91L350.51 127.72L349.04 127.38L347.56 127.03L346.74 127.19z" fill="#ffffbc"/>
<path d="M327.83 120.31L329.3 120.83L330.76 121.4L331.62 122.45L332.48 123.23L331.02 122.77L329.56 122.34L328.7 121.47z" fill="#ffff7d"/>
<path d="M338.34 125.18L339.81 125.67L341.29 126.15L342.12 126.4L342.96 126.48L341.49 126.09L340.02 125.69L339.18 125.53z" fill="#ffffa8"/>
<path d="M269.16 112.47L270.44 109.48L271.73 106.17L272.61 104.19L273.61 105.47L272.3 107.97L270.98 110.22L270 109.52z" fill="#ffef00"/>
<path d="M303.84 106.3L305.28 106.32L306.72 106.43L307.67 109.19L308.6 111.62L307.16 111.45L305.73 111.33L304.79 108.98z" fill="#fff400"/>
<path d="M371.58 131.22L373.08 131.59L374.58 131.97L375.35 132.5L376.11 133.02L374.62 132.61L373.13 132.22L372.36 131.71z" fill="#ffffe7"/>
<path d="M293.32 102.04L294.73 101.37L296.15 100.93L297.14 104.06L298.11 106.81L296.69 107.04L295.28 107.43L294.3 104.91z" fill="#ffd200"/>
<path d="M273.61 105.47L274.93 102.96L276.26 100.48L277.29 102.58L278.3 104.7L276.96 106.69L275.63 108.71L274.62 107.06z" fill="#ffd400"/>
<path d="M317.3 113.55L318.75 114.03L320.22 114.55L321.11 116.67L322 118.38L320.54 117.93L319.09 117.51L318.2 115.74z" fill="#ffff3a"/>
<path d="M364.01 129.93L365.5 130.27L367 130.61L367.8 130.37L368.59 130.49L367.1 130.12L365.61 129.75L364.81 129.68z" fill="#ffffd0"/>
<path d="M356.43 129.12L357.92 129.47L359.41 129.82L360.22 129.53L361.03 129.25L359.55 128.91L358.06 128.58L357.25 128.85z" fill="#ffffc4"/>
<path d="M285.74 101.39L287.12 99.76L288.5 98.14L289.51 101.2L290.51 103.99L289.12 105.13L287.74 106.27L286.75 103.95z" fill="#ffc200"/>
<path d="M348.86 128.06L350.34 128.45L351.82 128.86L352.65 128.65L353.47 128.42L351.99 128.07L350.51 127.72L349.69 127.91z" fill="#ffffbc"/>
<path d="M330.76 121.4L332.23 121.99L333.7 122.61L334.56 123.53L335.41 124.19L333.94 123.7L332.48 123.23L331.62 122.45z" fill="#ffff81"/>
<path d="M341.29 126.15L342.76 126.63L344.24 127.11L345.07 127.26L345.91 127.27L344.43 126.87L342.96 126.48L342.12 126.4z" fill="#ffffa8"/>
<path d="M374.58 131.97L376.08 132.35L376.85 132.92L377.61 133.43L376.11 133.02L375.35 132.5z" fill="#ffffe7"/>
<path d="M320.22 114.55L321.68 115.11L323.15 115.69L324.03 117.7L324.91 119.33L323.45 118.85L322 118.38L321.11 116.67z" fill="#ffff3a"/>
<path d="M306.72 106.43L308.17 106.63L309.63 106.88L310.56 109.68L311.49 112.14L310.04 111.87L308.6 111.62L307.67 109.19z" fill="#ffef00"/>
<path d="M333.7 122.61L335.18 123.25L336.65 123.88L337.5 124.65L338.34 125.18L336.87 124.68L335.41 124.19L334.56 123.53z" fill="#ffff81"/>
<path d="M367 130.61L368.5 130.95L370 131.29L370.79 131.06L371.58 131.22L370.08 130.85L368.59 130.49L367.8 130.37z" fill="#ffffcc"/>
<path d="M351.82 128.86L353.31 129.26L354.8 129.67L355.62 129.39L356.43 129.12L354.95 128.77L353.47 128.42L352.65 128.65z" fill="#ffffb8"/>
<path d="M359.41 129.82L360.9 130.18L362.4 130.53L363.2 130.22L364.01 129.93L362.52 129.59L361.03 129.25L360.22 129.53z" fill="#ffffc0"/>
<path d="M296.15 100.93L297.58 100.53L299.01 100.18L300 103.52L300.97 106.46L299.54 106.62L298.11 106.81L297.14 104.06z" fill="#ffc200"/>
<path d="M344.24 127.11L345.72 127.6L347.2 128.08L348.03 128.13L348.86 128.06L347.38 127.66L345.91 127.27L345.07 127.26z" fill="#ffffa8"/>
<path d="M323.15 115.69L324.61 116.29L326.08 116.89L326.96 118.79L327.83 120.31L326.37 119.82L324.91 119.33L324.03 117.7z" fill="#ffff3e"/>
<path d="M281 100.51L282.34 98.1L283.7 95.75L284.73 98.7L285.74 101.39L284.38 103.18L283.02 105.02L282.01 102.9z" fill="#ffaa00"/>
<path d="M309.63 106.88L311.08 107.16L312.54 107.48L313.47 110.29L314.39 112.75L312.94 112.43L311.49 112.14L310.56 109.68z" fill="#ffec00"/>
<path d="M336.65 123.88L338.13 124.51L339.6 125.12L340.45 125.74L341.29 126.15L339.81 125.67L338.34 125.18L337.5 124.65z" fill="#ffff85"/>
<path d="M354.8 129.67L356.29 130.09L357.78 130.51L358.6 130.14L359.41 129.82L357.92 129.47L356.43 129.12L355.62 129.39z" fill="#ffffb4"/>
<path d="M370 131.29L371.5 131.63L373.01 131.97L373.8 131.75L374.58 131.97L373.08 131.59L371.58 131.22L370.79 131.06z" fill="#ffffc8"/>
<path d="M362.4 130.53L363.89 130.88L365.39 131.24L366.2 130.9L367 130.61L365.5 130.27L364.01 129.93L363.2 130.22z" fill="#ffffbc"/>
<path d="M347.2 128.08L348.68 128.57L350.17 129.07L351 129.02L351.82 128.86L350.34 128.45L348.86 128.06L348.03 128.13z" fill="#ffffa8"/>
<path d="M288.5 98.14L289.89 96.63L291.29 95.33L292.31 98.83L293.32 102.04L291.91 102.94L290.51 103.99L289.51 101.2z" fill="#ffa000"/>
<path d="M326.08 116.89L327.55 117.53L329.03 118.24L329.9 120L330.76 121.4L329.3 120.83L327.83 120.31L326.96 118.79z" fill="#ffff42"/>
<path d="M299.01 100.18L300.45 99.89L301.89 99.69L302.87 103.2L303.84 106.3L302.4 106.35L300.97 106.46L300 103.52z" fill="#ffb500"/>
<path d="M339.6 125.12L341.08 125.72L342.56 126.33L343.4 126.82L344.24 127.11L342.76 126.63L341.29 126.15L340.45 125.74z" fill="#ffff89"/>
<path d="M276.26 100.48L277.6 97.93L278.93 95.26L279.97 97.9L281 100.51L279.65 102.66L278.3 104.7L277.29 102.58z" fill="#ffa000"/>
<path d="M312.54 107.48L314 107.87L315.47 108.34L316.39 111.11L317.3 113.55L315.84 113.12L314.39 112.75L313.47 110.29z" fill="#ffe900"/>
<path d="M271.73 106.17L273.02 102.84L274.32 99.54L275.24 98.58L276.26 100.48L274.93 102.96L273.61 105.47L272.61 104.19z" fill="#ffb000"/>
<path d="M373.01 131.97L374.51 132.31L375.3 132.09L376.08 132.35L374.58 131.97L373.8 131.75z" fill="#ffffc4"/>
<path d="M357.78 130.51L359.27 130.93L360.77 131.35L361.58 130.9L362.4 130.53L360.9 130.18L359.41 129.82L358.6 130.14z" fill="#ffffb4"/>
<path d="M365.39 131.24L366.89 131.59L368.39 131.94L369.2 131.58L370 131.29L368.5 130.95L367 130.61L366.2 130.9z" fill="#ffffb8"/>
<path d="M350.17 129.07L351.66 129.58L353.15 130.09L353.97 129.93L354.8 129.67L353.31 129.26L351.82 128.86L351 129.02z" fill="#ffffa4"/>
<path d="M329.03 118.24L330.5 119.01L331.98 119.82L332.84 121.38L333.7 122.61L332.23 121.99L330.76 121.4L329.9 120z" fill="#ffff46"/>
<path d="M342.56 126.33L344.05 126.93L345.53 127.55L346.37 127.9L347.2 128.08L345.72 127.6L344.24 127.11L343.4 126.82z" fill="#ffff89"/>
<path d="M315.47 108.34L316.93 108.9L318.4 109.52L319.31 112.2L320.22 114.55L318.75 114.03L317.3 113.55L316.39 111.11z" fill="#ffe900"/>
<path d="M331.98 119.82L333.46 120.64L334.94 121.47L335.8 122.83L336.65 123.88L335.18 123.25L333.7 122.61L332.84 121.38z" fill="#ffff4e"/>
<path d="M301.89 99.69L303.34 99.6L304.79 99.62L305.77 103.23L306.72 106.43L305.28 106.32L303.84 106.3L302.87 103.2z" fill="#ffad00"/>
<path d="M360.77 131.35L362.26 131.76L363.77 132.17L364.58 131.65L365.39 131.24L363.89 130.88L362.4 130.53L361.58 130.9z" fill="#ffffb0"/>
<path d="M353.15 130.09L354.64 130.62L356.13 131.15L356.96 130.86L357.78 130.51L356.29 130.09L354.8 129.67L353.97 129.93z" fill="#ffffa8"/>
<path d="M368.39 131.94L369.9 132.3L371.41 132.66L372.21 132.28L373.01 131.97L371.5 131.63L370 131.29L369.2 131.58z" fill="#ffffb8"/>
<path d="M291.29 95.33L292.71 94.33L294.13 93.63L295.15 97.44L296.15 100.93L294.73 101.37L293.32 102.04L292.31 98.83z" fill="#ff8600"/>
<path d="M283.7 95.75L285.07 93.61L286.44 91.48L287.48 94.95L288.5 98.14L287.12 99.76L285.74 101.39L284.73 98.7z" fill="#ff7b00"/>
<path d="M345.53 127.55L347.02 128.17L348.51 128.8L349.34 129.01L350.17 129.07L348.68 128.57L347.2 128.08L346.37 127.9z" fill="#ffff8d"/>
<path d="M318.4 109.52L319.88 110.19L321.35 110.89L322.25 113.45L323.15 115.69L321.68 115.11L320.22 114.55L319.31 112.2z" fill="#ffec00"/>
<path d="M334.94 121.47L336.42 122.28L337.91 123.07L338.76 124.23L339.6 125.12L338.13 124.51L336.65 123.88L335.8 122.83z" fill="#ffff56"/>
<path d="M371.41 132.66L372.92 133.04L373.72 132.63L374.51 132.31L373.01 131.97L372.21 132.28z" fill="#ffffb4"/>
<path d="M356.13 131.15L357.63 131.69L359.13 132.22L359.95 131.81L360.77 131.35L359.27 130.93L357.78 130.51L356.96 130.86z" fill="#ffffa8"/>
<path d="M363.77 132.17L365.27 132.57L366.77 132.97L367.59 132.39L368.39 131.94L366.89 131.59L365.39 131.24L364.58 131.65z" fill="#ffffac"/>
<path d="M304.79 99.62L306.25 99.77L307.71 100L308.68 103.65L309.63 106.88L308.17 106.63L306.72 106.43L305.77 103.23z" fill="#ffa500"/>
<path d="M348.51 128.8L350 129.45L351.49 130.12L352.32 130.17L353.15 130.09L351.66 129.58L350.17 129.07L349.34 129.01z" fill="#ffff91"/>
<path d="M321.35 110.89L322.83 111.61L324.31 112.34L325.2 114.77L326.08 116.89L324.61 116.29L323.15 115.69L322.25 113.45z" fill="#fff100"/>
<path d="M337.91 123.07L339.39 123.84L340.88 124.62L341.72 125.6L342.56 126.33L341.08 125.72L339.6 125.12L338.76 124.23z" fill="#ffff5e"/>
<path d="M278.93 95.26L280.26 92.26L281.61 89.33L282.66 92.59L283.7 95.75L282.34 98.1L281 100.51L279.97 97.9z" fill="#ff6900"/>
<path d="M359.13 132.22L360.63 132.75L362.13 133.24L362.95 132.72L363.77 132.17L362.26 131.76L360.77 131.35L359.95 131.81z" fill="#ffffa8"/>
<path d="M294.13 93.63L295.57 92.99L297 92.41L298.02 96.46L299.01 100.18L297.58 100.53L296.15 100.93L295.15 97.44z" fill="#ff7300"/>
<path d="M366.77 132.97L368.28 133.4L369.79 133.85L370.6 133.17L371.41 132.66L369.9 132.3L368.39 131.94L367.59 132.39z" fill="#ffffac"/>
<path d="M324.31 112.34L325.79 113.13L327.27 114.03L328.15 116.28L329.03 118.24L327.55 117.53L326.08 116.89L325.2 114.77z" fill="#fff600"/>
<path d="M351.49 130.12L352.99 130.8L354.48 131.49L355.31 131.37L356.13 131.15L354.64 130.62L353.15 130.09L352.32 130.17z" fill="#ffff95"/>
<path d="M340.88 124.62L342.37 125.4L343.86 126.19L344.7 126.98L345.53 127.55L344.05 126.93L342.56 126.33L341.72 125.6z" fill="#ffff61"/>
<path d="M307.71 100L309.18 100.26L310.64 100.57L311.6 104.24L312.54 107.48L311.08 107.16L309.63 106.88L308.68 103.65z" fill="#ffa200"/>
<path d="M274.32 99.54L275.62 96.16L276.93 92.6L277.89 92.72L278.93 95.26L277.6 97.93L276.26 100.48L275.24 98.58z" fill="#ff7100"/>
<path d="M327.27 114.03L328.75 115.01L330.24 116.04L331.11 118.06L331.98 119.82L330.5 119.01L329.03 118.24L328.15 116.28z" fill="#fffc00"/>
<path d="M369.79 133.85L371.3 134.36L372.11 133.6L372.92 133.04L371.41 132.66L370.6 133.17z" fill="#ffffa8"/>
<path d="M362.13 133.24L363.63 133.73L365.14 134.23L365.96 133.6L366.77 132.97L365.27 132.57L363.77 132.17L362.95 132.72z" fill="#ffffa4"/>
<path d="M286.44 91.48L287.83 89.49L289.22 87.75L290.27 91.67L291.29 95.33L289.89 96.63L288.5 98.14L287.48 94.95z" fill="#ff5100"/>
<path d="M343.86 126.19L345.35 126.99L346.84 127.81L347.68 128.4L348.51 128.8L347.02 128.17L345.53 127.55L344.7 126.98z" fill="#ffff69"/>
<path d="M354.48 131.49L355.98 132.19L357.48 132.9L358.3 132.6L359.13 132.22L357.63 131.69L356.13 131.15L355.31 131.37z" fill="#ffff99"/>
<path d="M310.64 100.57L312.12 100.98L313.59 101.52L314.53 105.14L315.47 108.34L314 107.87L312.54 107.48L311.6 104.24z" fill="#ffa000"/>
<path d="M330.24 116.04L331.73 117.1L333.21 118.17L334.08 119.94L334.94 121.47L333.46 120.64L331.98 119.82L331.11 118.06z" fill="#ffff0b"/>
<path d="M297 92.41L298.44 91.93L299.89 91.56L300.9 95.8L301.89 99.69L300.45 99.89L299.01 100.18L298.02 96.46z" fill="#ff6400"/>
<path d="M346.84 127.81L348.34 128.66L349.83 129.53L350.66 129.91L351.49 130.12L350 129.45L348.51 128.8L347.68 128.4z" fill="#ffff71"/>
<path d="M365.14 134.23L366.65 134.77L368.16 135.38L368.98 134.6L369.79 133.85L368.28 133.4L366.77 132.97L365.96 133.6z" fill="#ffffa4"/>
<path d="M357.48 132.9L358.98 133.58L360.49 134.2L361.31 133.75L362.13 133.24L360.63 132.75L359.13 132.22L358.3 132.6z" fill="#ffff9d"/>
<path d="M333.21 118.17L334.7 119.2L336.19 120.2L337.05 121.75L337.91 123.07L336.42 122.28L334.94 121.47L334.08 119.94z" fill="#ffff17"/>
<path d="M313.59 101.52L315.07 102.17L316.55 102.9L317.48 106.42L318.4 109.52L316.93 108.9L315.47 108.34L314.53 105.14z" fill="#ffa200"/>
<path d="M349.83 129.53L351.33 130.43L352.83 131.35L353.66 131.49L354.48 131.49L352.99 130.8L351.49 130.12L350.66 129.91z" fill="#ffff7d"/>
<path d="M368.16 135.38L369.67 136.12L370.49 135.21L371.3 134.36L369.79 133.85L368.98 134.6z" fill="#ffffa8"/>
<path d="M336.19 120.2L337.69 121.19L339.18 122.18L340.03 123.5L340.88 124.62L339.39 123.84L337.91 123.07L337.05 121.75z" fill="#ffff22"/>
<path d="M360.49 134.2L361.99 134.81L363.5 135.45L364.32 134.85L365.14 134.23L363.63 133.73L362.13 133.24L361.31 133.75z" fill="#ffffa0"/>
<path d="M316.55 102.9L318.04 103.71L319.52 104.56L320.44 107.92L321.35 110.89L319.88 110.19L318.4 109.52L317.48 106.42z" fill="#ffa800"/>
<path d="M299.89 91.56L301.35 91.32L302.81 91.24L303.81 95.6L304.79 99.62L303.34 99.6L301.89 99.69L300.9 95.8z" fill="#ff5600"/>
<path d="M281.61 89.33L282.96 86.66L284.33 84L285.39 87.81L286.44 91.48L285.07 93.61L283.7 95.75L282.66 92.59z" fill="#ff2f00"/>
<path d="M352.83 131.35L354.33 132.28L355.83 133.21L356.66 133.11L357.48 132.9L355.98 132.19L354.48 131.49L353.66 131.49z" fill="#ffff85"/>
<path d="M339.18 122.18L340.67 123.17L342.17 124.17L343.01 125.27L343.86 126.19L342.37 125.4L340.88 124.62L340.03 123.5z" fill="#ffff32"/>
<path d="M289.22 87.75L290.64 86.41L292.07 85.44L293.11 89.66L294.13 93.63L292.71 94.33L291.29 95.33L290.27 91.67z" fill="#ff3200"/>
<path d="M363.5 135.45L365.01 136.16L366.52 136.98L367.34 136.17L368.16 135.38L366.65 134.77L365.14 134.23L364.32 134.85z" fill="#ffffa4"/>
<path d="M319.52 104.56L321.01 105.44L322.5 106.33L323.41 109.52L324.31 112.34L322.83 111.61L321.35 110.89L320.44 107.92z" fill="#ffad00"/>
<path d="M342.17 124.17L343.67 125.19L345.16 126.24L346 127.11L346.84 127.81L345.35 126.99L343.86 126.19L343.01 125.27z" fill="#ffff3e"/>
<path d="M355.83 133.21L357.33 134.11L358.84 134.91L359.66 134.59L360.49 134.2L358.98 133.58L357.48 132.9L356.66 133.11z" fill="#ffff8d"/>
<path d="M276.93 92.6L278.23 88.64L279.55 84.76L280.55 86.07L281.61 89.33L280.26 92.26L278.93 95.26L277.89 92.72z" fill="#ff2a00"/>
<path d="M366.52 136.98L368.02 138.03L368.85 137.06L369.67 136.12L368.16 135.38L367.34 136.17z" fill="#ffffa8"/>
<path d="M302.81 91.24L304.27 91.33L305.75 91.53L306.74 95.94L307.71 100L306.25 99.77L304.79 99.62L303.81 95.6z" fill="#ff4f00"/>
<path d="M322.5 106.33L323.99 107.3L325.48 108.43L326.38 111.41L327.27 114.03L325.79 113.13L324.31 112.34L323.41 109.52z" fill="#ffb500"/>
<path d="M345.16 126.24L346.66 127.33L348.16 128.46L349 129.06L349.83 129.53L348.34 128.66L346.84 127.81L346 127.11z" fill="#ffff4a"/>
<path d="M358.84 134.91L360.34 135.69L361.85 136.51L362.68 136L363.5 135.45L361.99 134.81L360.49 134.2L359.66 134.59z" fill="#ffff95"/>
<path d="M325.48 108.43L326.98 109.66L328.47 110.98L329.36 113.68L330.24 116.04L328.75 115.01L327.27 114.03L326.38 111.41z" fill="#ffc200"/>
<path d="M348.16 128.46L349.66 129.63L351.16 130.82L352 131.14L352.83 131.35L351.33 130.43L349.83 129.53L349 129.06z" fill="#ffff5a"/>
<path d="M292.07 85.44L293.5 84.54L294.94 83.73L295.98 88.2L297 92.41L295.57 92.99L294.13 93.63L293.11 89.66z" fill="#ff1700"/>
<path d="M328.47 110.98L329.97 112.33L331.47 113.68L332.34 116.08L333.21 118.17L331.73 117.1L330.24 116.04L329.36 113.68z" fill="#ffcf00"/>
<path d="M361.85 136.51L363.36 137.45L364.87 138.57L365.69 137.78L366.52 136.98L365.01 136.16L363.5 135.45L362.68 136z" fill="#ffffa0"/>
<path d="M305.75 91.53L307.22 91.77L308.7 92.09L309.68 96.5L310.64 100.57L309.18 100.26L307.71 100L306.74 95.94z" fill="#ff4900"/>
<path d="M351.16 130.82L352.66 132.03L354.17 133.24L355 133.27L355.83 133.21L354.33 132.28L352.83 131.35L352 131.14z" fill="#ffff6d"/>
<path d="M331.47 113.68L332.96 115L334.46 116.26L335.33 118.37L336.19 120.2L334.7 119.2L333.21 118.17L332.34 116.08z" fill="#ffdc00"/>
<path d="M364.87 138.57L366.37 140.07L367.2 139.04L368.02 138.03L366.52 136.98L365.69 137.78z" fill="#ffffac"/>
<path d="M284.33 84L285.71 81.51L287.1 79.33L288.17 83.63L289.22 87.75L287.83 89.49L286.44 91.48L285.39 87.81z" fill="#fc0000"/>
<path d="M354.17 133.24L355.67 134.39L357.18 135.41L358.01 135.19L358.84 134.91L357.33 134.11L355.83 133.21L355 133.27z" fill="#ffff7d"/>
<path d="M334.46 116.26L335.96 117.51L337.46 118.75L338.32 120.59L339.18 122.18L337.69 121.19L336.19 120.2L335.33 118.37z" fill="#ffe900"/>
<path d="M308.7 92.09L310.18 92.53L311.67 93.14L312.64 97.5L313.59 101.52L312.12 100.98L310.64 100.57L309.68 96.5z" fill="#ff4900"/>
<path d="M337.46 118.75L338.96 120L340.47 121.27L341.32 122.84L342.17 124.17L340.67 123.17L339.18 122.18L338.32 120.59z" fill="#fff600"/>
<path d="M357.18 135.41L358.69 136.39L360.2 137.44L361.03 137L361.85 136.51L360.34 135.69L358.84 134.91L358.01 135.19z" fill="#ffff89"/>
<path d="M294.94 83.73L296.39 83.04L297.84 82.49L298.87 87.15L299.89 91.56L298.44 91.93L297 92.41L295.98 88.2z" fill="#ff0500"/>
<path d="M340.47 121.27L341.97 122.56L343.47 123.89L344.32 125.17L345.16 126.24L343.67 125.19L342.17 124.17L341.32 122.84z" fill="#ffff07"/>
<path d="M360.2 137.44L361.7 138.66L363.21 140.14L364.04 139.36L364.87 138.57L363.36 137.45L361.85 136.51L361.03 137z" fill="#ffff99"/>
<path d="M311.67 93.14L313.16 93.89L314.65 94.77L315.61 99L316.55 102.9L315.07 102.17L313.59 101.52L312.64 97.5z" fill="#ff4c00"/>
<path d="M343.47 123.89L344.98 125.27L346.48 126.71L347.32 127.67L348.16 128.46L346.66 127.33L345.16 126.24L344.32 125.17z" fill="#ffff1b"/>
<path d="M363.21 140.14L364.7 142.18L365.54 141.12L366.37 140.07L364.87 138.57L364.04 139.36z" fill="#ffffac"/>
<path d="M279.55 84.76L280.88 81.21L282.22 77.66L283.26 80.08L284.33 84L282.96 86.66L281.61 89.33L280.55 86.07z" fill="#e20000"/>
<path d="M346.48 126.71L347.99 128.21L349.49 129.73L350.33 130.35L351.16 130.82L349.66 129.63L348.16 128.46L347.32 127.67z" fill="#ffff32"/>
<path d="M314.65 94.77L316.15 95.74L317.65 96.77L318.59 100.82L319.52 104.56L318.04 103.71L316.55 102.9L315.61 99z" fill="#ff5400"/>
<path d="M349.49 129.73L350.99 131.28L352.5 132.83L353.33 133.09L354.17 133.24L352.66 132.03L351.16 130.82L350.33 130.35z" fill="#ffff4e"/>
<path d="M352.5 132.83L354.01 134.3L355.51 135.59L356.35 135.54L357.18 135.41L355.67 134.39L354.17 133.24L353.33 133.09z" fill="#ffff65"/>
<path d="M317.65 96.77L319.15 97.84L320.65 98.92L321.58 102.77L322.5 106.33L321.01 105.44L319.52 104.56L318.59 100.82z" fill="#ff5c00"/>
<path d="M297.84 82.49L299.3 82.1L300.77 81.92L301.8 86.7L302.81 91.24L301.35 91.32L299.89 91.56L298.87 87.15z" fill="#f40000"/>
<path d="M287.1 79.33L288.51 77.63L289.94 76.38L291.01 81.02L292.07 85.44L290.64 86.41L289.22 87.75L288.17 83.63z" fill="#d20000"/>
<path d="M355.51 135.59L357.02 136.82L358.53 138.14L359.37 137.82L360.2 137.44L358.69 136.39L357.18 135.41L356.35 135.54z" fill="#ffff79"/>
<path d="M361.54 141.63L363.03 144.32L363.87 143.25L364.7 142.18L363.21 140.14L362.38 140.9z" fill="#ffffb0"/>
<path d="M320.65 98.92L322.15 100.11L323.66 101.51L324.58 105.11L325.48 108.43L323.99 107.3L322.5 106.33L321.58 102.77z" fill="#ff6900"/>
<path d="M358.53 138.14L360.04 139.7L361.54 141.63L362.38 140.9L363.21 140.14L361.7 138.66L360.2 137.44L359.37 137.82z" fill="#ffff91"/>
<path d="M323.66 101.51L325.17 103.05L326.68 104.69L327.58 107.96L328.47 110.98L326.98 109.66L325.48 108.43L324.58 105.11z" fill="#ff7900"/>
<path d="M326.68 104.69L328.18 106.39L329.69 108.08L330.58 111L331.47 113.68L329.97 112.33L328.47 110.98L327.58 107.96z" fill="#ff8b00"/>
<path d="M329.69 108.08L331.2 109.73L332.71 111.31L333.59 113.89L334.46 116.26L332.96 115L331.47 113.68L330.58 111z" fill="#ffa000"/>
<path d="M300.77 81.92L302.25 81.97L303.73 82.14L304.75 86.95L305.75 91.53L304.27 91.33L302.81 91.24L301.8 86.7z" fill="#ea0000"/>
<path d="M332.71 111.31L334.22 112.86L335.73 114.41L336.6 116.67L337.46 118.75L335.96 117.51L334.46 116.26L333.59 113.89z" fill="#ffb200"/>
<path d="M335.73 114.41L337.24 115.96L338.75 117.54L339.61 119.49L340.47 121.27L338.96 120L337.46 118.75L336.6 116.67z" fill="#ffc500"/>
<path d="M338.75 117.54L340.26 119.16L341.77 120.82L342.62 122.43L343.47 123.89L341.97 122.56L340.47 121.27L339.61 119.49z" fill="#ffd700"/>
<path d="M341.77 120.82L343.28 122.54L344.79 124.35L345.64 125.59L346.48 126.71L344.98 125.27L343.47 123.89L342.62 122.43z" fill="#ffec00"/>
<path d="M359.87 143.04L361.35 146.49L362.2 145.39L363.03 144.32L361.54 141.63L360.71 142.33z" fill="#ffffb0"/>
<path d="M344.79 124.35L346.3 126.22L347.81 128.14L348.65 128.98L349.49 129.73L347.99 128.21L346.48 126.71L345.64 125.59z" fill="#ffff03"/>
<path d="M347.81 128.14L349.31 130.09L350.82 132.04L351.66 132.47L352.5 132.83L350.99 131.28L349.49 129.73L348.65 128.98z" fill="#ffff26"/>
<path d="M350.82 132.04L352.33 133.88L353.84 135.48L354.68 135.55L355.51 135.59L354.01 134.3L352.5 132.83L351.66 132.47z" fill="#ffff4a"/>
<path d="M289.94 76.38L291.38 75.23L292.83 74.18L293.89 79.08L294.94 83.73L293.5 84.54L292.07 85.44L291.01 81.02z" fill="#b50000"/>
<path d="M353.84 135.48L355.35 137L356.86 138.65L357.7 138.41L358.53 138.14L357.02 136.82L355.51 135.59L354.68 135.55z" fill="#ffff65"/>
<path d="M356.86 138.65L358.37 140.6L359.87 143.04L360.71 142.33L361.54 141.63L360.04 139.7L358.53 138.14L357.7 138.41z" fill="#ffff89"/>
<path d="M303.73 82.14L305.22 82.37L306.71 82.69L307.71 87.5L308.7 92.09L307.22 91.77L305.75 91.53L304.75 86.95z" fill="#e70000"/>
<path d="M282.22 77.66L283.58 74.31L284.96 71.36L286.02 74.8L287.1 79.33L285.71 81.51L284.33 84L283.26 80.08z" fill="#a50000"/>
<path d="M306.71 82.69L308.2 83.17L309.7 83.87L310.69 88.61L311.67 93.14L310.18 92.53L308.7 92.09L307.71 87.5z" fill="#e40000"/>
<path d="M358.19 144.53L359.67 148.8L360.51 147.63L361.35 146.49L359.87 143.04L359.03 143.78z" fill="#ffffb4"/>
<path d="M292.83 74.18L294.28 73.27L295.74 72.54L296.8 77.65L297.84 82.49L296.39 83.04L294.94 83.73L293.89 79.08z" fill="#9e0000"/>
<path d="M309.7 83.87L311.21 84.75L312.72 85.79L313.69 90.38L314.65 94.77L313.16 93.89L311.67 93.14L310.69 88.61z" fill="#ea0000"/>
<path d="M355.18 139.16L356.69 141.54L358.19 144.53L359.03 143.78L359.87 143.04L358.37 140.6L356.86 138.65L356.03 138.9z" fill="#ffff7d"/>
<path d="M352.16 135.32L353.67 137.16L355.18 139.16L356.03 138.9L356.86 138.65L355.35 137L353.84 135.48L353 135.4z" fill="#ffff52"/>
<path d="M349.13 131.14L350.64 133.39L352.16 135.32L353 135.4L353.84 135.48L352.33 133.88L350.82 132.04L349.98 131.6z" fill="#ffff2a"/>
<path d="M312.72 85.79L314.23 86.95L315.74 88.18L316.7 92.57L317.65 96.77L316.15 95.74L314.65 94.77L313.69 90.38z" fill="#f40000"/>
<path d="M346.11 126.38L347.62 128.76L349.13 131.14L349.98 131.6L350.82 132.04L349.31 130.09L347.81 128.14L346.96 127.28z" fill="#fffe00"/>
<path d="M343.08 121.74L344.6 124.03L346.11 126.38L346.96 127.28L347.81 128.14L346.3 126.22L344.79 124.35L343.94 123.07z" fill="#ffdf00"/>
<path d="M315.74 88.18L317.25 89.46L318.77 90.75L319.71 94.92L320.65 98.92L319.15 97.84L317.65 96.77L316.7 92.57z" fill="#ff0200"/>
<path d="M356.49 146.09L357.97 151.2L358.82 149.99L359.67 148.8L358.19 144.53L357.34 145.31z" fill="#ffffb8"/>
<path d="M340.05 117.44L341.56 119.54L343.08 121.74L343.94 123.07L344.79 124.35L343.28 122.54L341.77 120.82L340.91 119.16z" fill="#ffbf00"/>
<path d="M337.01 113.45L338.53 115.41L340.05 117.44L340.91 119.16L341.77 120.82L340.26 119.16L338.75 117.54L337.88 115.53z" fill="#ffa500"/>
<path d="M327.89 101.93L329.41 103.94L330.93 105.86L331.83 108.64L332.71 111.31L331.2 109.73L329.69 108.08L328.8 105.06z" fill="#ff5c00"/>
<path d="M330.93 105.86L332.45 107.75L333.97 109.63L334.85 112.06L335.73 114.41L334.22 112.86L332.71 111.31L331.83 108.64z" fill="#ff7300"/>
<path d="M333.97 109.63L335.49 111.53L337.01 113.45L337.88 115.53L338.75 117.54L337.24 115.96L335.73 114.41L334.85 112.06z" fill="#ff8e00"/>
<path d="M318.77 90.75L320.29 92.19L321.81 93.89L322.74 97.77L323.66 101.51L322.15 100.11L320.65 98.92L319.71 94.92z" fill="#ff1200"/>
<path d="M284.96 71.36L286.36 69.02L287.79 67.25L288.86 71.45L289.94 76.38L288.51 77.63L287.1 79.33L286.02 74.8z" fill="#740000"/>
<path d="M324.85 97.78L326.37 99.85L327.89 101.93L328.8 105.06L329.69 108.08L328.18 106.39L326.68 104.69L325.77 101.3z" fill="#ff4100"/>
<path d="M321.81 93.89L323.33 95.77L324.85 97.78L325.77 101.3L326.68 104.69L325.17 103.05L323.66 101.51L322.74 97.77z" fill="#ff2700"/>
<path d="M295.74 72.54L297.21 72.02L298.69 71.74L299.74 76.98L300.77 81.92L299.3 82.1L297.84 82.49L296.8 77.65z" fill="#8b0000"/>
<path d="M353.49 139.68L355 142.51L356.49 146.09L357.34 145.31L358.19 144.53L356.69 141.54L355.18 139.16L354.34 139.43z" fill="#ffff75"/>
<path d="M354.8 147.43L356.26 153.68L357.12 152.43L357.97 151.2L356.49 146.09L355.65 146.83z" fill="#ffffbc"/>
<path d="M350.46 135.12L351.98 137.31L353.49 139.68L354.34 139.43L355.18 139.16L353.67 137.16L352.16 135.32L351.31 135.25z" fill="#ffff3a"/>
<path d="M298.69 71.74L300.18 71.74L301.67 71.9L302.71 77.17L303.73 82.14L302.25 81.97L300.77 81.92L299.74 76.98z" fill="#810000"/>
<path d="M347.43 130.15L348.94 132.83L350.46 135.12L351.31 135.25L352.16 135.32L350.64 133.39L349.13 131.14L348.28 130.68z" fill="#ffff0b"/>
<path d="M344.4 124.47L345.91 127.31L347.43 130.15L348.28 130.68L349.13 131.14L347.62 128.76L346.11 126.38L345.25 125.47z" fill="#ffe100"/>
<path d="M287.79 67.25L289.22 65.6L290.66 64.09L291.74 68.92L292.83 74.18L291.38 75.23L289.94 76.38L288.86 71.45z" fill="#4f0000"/>
<path d="M351.79 139.73L353.3 143.11L354.8 147.43L355.65 146.83L356.49 146.09L355 142.51L353.49 139.68L352.64 139.83z" fill="#ffff69"/>
<path d="M301.67 71.9L303.17 72.12L304.67 72.46L305.7 77.73L306.71 82.69L305.22 82.37L303.73 82.14L302.71 77.17z" fill="#7b0000"/>
<path d="M341.36 118.93L342.88 121.67L344.4 124.47L345.25 125.47L346.11 126.38L344.6 124.03L343.08 121.74L342.22 120.4z" fill="#ffb700"/>
<path d="M338.31 113.79L339.83 116.3L341.36 118.93L342.22 120.4L343.08 121.74L341.56 119.54L340.05 117.44L339.18 115.68z" fill="#ff9300"/>
<path d="M348.76 134.36L350.28 136.93L351.79 139.73L352.64 139.83L353.49 139.68L351.98 137.31L350.46 135.12L349.61 134.88z" fill="#ffff22"/>
<path d="M335.25 109.03L336.78 111.37L338.31 113.79L339.18 115.68L340.05 117.44L338.53 115.41L337.01 113.45L336.13 111.32z" fill="#ff7100"/>
<path d="M304.67 72.46L306.18 73L307.69 73.8L308.71 78.99L309.7 83.87L308.2 83.17L306.71 82.69L305.7 77.73z" fill="#7e0000"/>
<path d="M332.19 104.48L333.72 106.74L335.25 109.03L336.13 111.32L337.01 113.45L335.49 111.53L333.97 109.63L333.09 107.15z" fill="#ff5100"/>
<path d="M329.13 99.99L330.66 102.24L332.19 104.48L333.09 107.15L333.97 109.63L332.45 107.75L330.93 105.86L330.04 103.03z" fill="#ff3400"/>
<path d="M345.72 128.45L347.24 131.64L348.76 134.36L349.61 134.88L350.46 135.12L348.94 132.83L347.43 130.15L346.57 129.47z" fill="#ffef00"/>
<path d="M307.69 73.8L309.21 74.84L310.74 76.05L311.73 81.08L312.72 85.79L311.21 84.75L309.7 83.87L308.71 78.99z" fill="#830000"/>
<path d="M326.07 95.28L327.6 97.69L329.13 99.99L330.04 103.03L330.93 105.86L329.41 103.94L327.89 101.93L326.98 98.72z" fill="#ff1500"/>
<path d="M290.66 64.09L292.12 62.75L293.58 61.63L294.66 67.01L295.74 72.54L294.28 73.27L292.83 74.18L291.74 68.92z" fill="#320000"/>
<path d="M322.99 90.31L324.53 92.79L326.07 95.28L326.98 98.72L327.89 101.93L326.37 99.85L324.85 97.78L323.93 94.17z" fill="#f40000"/>
<path d="M310.74 76.05L312.26 77.41L313.79 78.88L314.77 83.68L315.74 88.18L314.23 86.95L312.72 85.79L311.73 81.08z" fill="#900000"/>
<path d="M313.79 78.88L315.32 80.39L316.85 81.92L317.82 86.48L318.77 90.75L317.25 89.46L315.74 88.18L314.77 83.68z" fill="#a30000"/>
<path d="M342.67 121.64L344.2 125.05L345.72 128.45L346.57 129.47L347.43 130.15L345.91 127.31L344.4 124.47L343.54 123.27z" fill="#ffbf00"/>
<path d="M319.92 85.65L321.46 87.91L322.99 90.31L323.93 94.17L324.85 97.78L323.33 95.77L321.81 93.89L320.87 89.91z" fill="#d20000"/>
<path d="M316.85 81.92L318.38 83.63L319.92 85.65L320.87 89.91L321.81 93.89L320.29 92.19L318.77 90.75L317.82 86.48z" fill="#b80000"/>
<path d="M339.61 115.01L341.14 118.28L342.67 121.64L343.54 123.27L344.4 124.47L342.88 121.67L341.36 118.93L340.49 117.22z" fill="#ff8e00"/>
<path d="M293.58 61.63L295.05 60.78L296.54 60.24L297.62 66.04L298.69 71.74L297.21 72.02L295.74 72.54L294.66 67.01z" fill="#1a0000"/>
<path d="M336.55 108.87L338.08 111.86L339.61 115.01L340.49 117.22L341.36 118.93L339.83 116.3L338.31 113.79L337.43 111.61z" fill="#ff6100"/>
<path d="M333.47 103.21L335.01 105.99L336.55 108.87L337.43 111.61L338.31 113.79L336.78 111.37L335.25 109.03L334.36 106.42z" fill="#ff3700"/>
<path d="M296.54 60.24L298.04 60.05L299.54 60.06L300.61 66.13L301.67 71.9L300.18 71.74L298.69 71.74L297.62 66.04z" fill="#100000"/>
<path d="M330.39 97.81L331.93 100.49L333.47 103.21L334.36 106.42L335.25 109.03L333.72 106.74L332.19 104.48L331.29 101.47z" fill="#ff1000"/>
<path d="M327.3 92.47L328.84 95.15L330.39 97.81L331.29 101.47L332.19 104.48L330.66 102.24L329.13 99.99L328.22 96.56z" fill="#ea0000"/>
<path d="M299.54 60.06L301.05 60.16L302.56 60.41L303.63 66.67L304.67 72.46L303.17 72.12L301.67 71.9L300.61 66.13z" fill="#0b0000"/>
<path d="M324.2 86.87L325.75 89.75L327.3 92.47L328.22 96.56L329.13 99.99L327.6 97.69L326.07 95.28L325.14 91.43z" fill="#c50000"/>
<path d="M302.56 60.41L304.08 60.91L305.61 61.75L306.66 68.08L307.69 73.8L306.18 73L304.67 72.46L303.63 66.67z" fill="#0b0000"/>
<path d="M321.09 80.92L322.65 83.89L324.2 86.87L325.14 91.43L326.07 95.28L324.53 92.79L322.99 90.31L322.05 85.99z" fill="#9b0000"/>
<path d="M305.61 61.75L307.15 62.88L308.69 64.24L309.72 70.49L310.74 76.05L309.21 74.84L307.69 73.8L306.66 68.08z" fill="#120000"/>
<path d="M317.98 75.36L319.54 78.04L321.09 80.92L322.05 85.99L322.99 90.31L321.46 87.91L319.92 85.65L318.96 80.91z" fill="#740000"/>
<path d="M308.69 64.24L310.24 65.79L311.78 67.47L312.8 73.55L313.79 78.88L312.26 77.41L310.74 76.05L309.72 70.49z" fill="#250000"/>
<path d="M314.88 70.98L316.43 72.97L317.98 75.36L318.96 80.91L319.92 85.65L318.38 83.63L316.85 81.92L315.87 76.85z" fill="#510000"/>
<path d="M311.78 67.47L313.33 69.22L314.88 70.98L315.87 76.85L316.85 81.92L315.32 80.39L313.79 78.88L312.8 73.55z" fill="#370000"/>
</g>
</g>
<g id="axes_3">
<g id="patch_10">
<path d="M11.42 221.96L164.69 221.96L164.69 214.51L11.42 214.51z" style="fill: #ffffff"/>
</g>
<rect x="11.586" y="214.510" width="153.269" height="7.614" fill="url(#cbg0)"/>
<g id="matplotlib.axis_1">
<g id="xtick_32">
<g id="line2d_38">
<defs>
<path id="m56e8229252" d="M0 0L0 3.5" style="stroke: #000000; stroke-width: 0.8"/>
</defs>
<g>
<use href="#m56e8229252" x="53.370646" y="221.958621" style="stroke: #000000; stroke-width: 0.8"/>
</g>
</g>
<g id="text_38">
<text style="font-size: 10px; font-family: 'DejaVu Sans', 'Liberation Sans', sans-serif; text-anchor: middle" x="53.371" y="236.957" transform="rotate(-0 53.371 236.957)">0.2</text>
</g>
</g>
<g id="xtick_33">
<g id="line2d_39">
<g>
<use href="#m56e8229252" x="95.489075" y="221.958621" style="stroke: #000000; stroke-width: 0.8"/>
</g>
</g>
<g id="text_39">
<text style="font-size: 10px; font-family: 'DejaVu Sans', 'Liberation Sans', sans-serif; text-anchor: middle" x="95.489" y="236.957" transform="rotate(-0 95.489 236.957)">0.4</text>
</g>
</g>
<g id="xtick_34">
<g id="line2d_40">
<g>
<use href="#m56e8229252" x="137.607505" y="221.958621" style="stroke: #000000; stroke-width: 0.8"/>
</g>
</g>
<g id="text_40">
<text style="font-size: 10px; font-family: 'DejaVu Sans', 'Liberation Sans', sans-serif; text-anchor: middle" x="137.608" y="236.957" transform="rotate(-0 137.608 236.957)">0.6</text>
</g>
</g>
<g id="text_41">
<g transform="translate(84.855 250.635)">
<text>
<tspan x="0" y="-0.53125" style="font-style: oblique; font-size: 10px; font-family: 'DejaVu Sans', 'Liberation Sans', sans-serif">u</tspan>
</text>
</g>
</g>
</g>
<g id="matplotlib.axis_2"/>
<g id="LineCollection_1"/>
<g id="patch_11">
<path d="M11.42 221.96L11.42 218.23L11.42 214.51L164.69 214.51L164.69 218.23L164.69 221.96L11.42 221.96z" style="fill: none; stroke: #000000; stroke-width: 0.8; stroke-linejoin: miter; stroke-linecap: square"/>
</g>
</g>
<g id="axes_4">
<g id="patch_12">
<path d="M256.72 221.96L410.32 221.96L410.32 214.51L256.72 214.51z" style="fill: #ffffff"/>
</g>
<rect x="256.883" y="214.510" width="153.600" height="7.614" fill="url(#cbg1)"/>
<g id="matplotlib.axis_3">
<g id="xtick_35">
<g id="line2d_41">
<g>
<use href="#m56e8229252" x="256.717241" y="221.958621" style="stroke: #000000; stroke-width: 0.8"/>
</g>
</g>
<g id="text_42">
<text style="font-size: 10px; font-family: 'DejaVu Sans', 'Liberation Sans', sans-serif; text-anchor: middle" x="256.717" y="236.957" transform="rotate(-0 256.717 236.957)">0.00</text>
</g>
</g>
<g id="xtick_36">
<g id="line2d_42">
<g>
<use href="#m56e8229252" x="306.749815" y="221.958621" style="stroke: #000000; stroke-width: 0.8"/>
</g>
</g>
<g id="text_43">
<text style="font-size: 10px; font-family: 'DejaVu Sans', 'Liberation Sans', sans-serif; text-anchor: middle" x="306.750" y="236.957" transform="rotate(-0 306.750 236.957)">0.01</text>
</g>
</g>
<g id="xtick_37">
<g id="line2d_43">
<g>
<use href="#m56e8229252" x="356.782388" y="221.958621" style="stroke: #000000; stroke-width: 0.8"/>
</g>
</g>
<g id="text_44">
<text style="font-size: 10px; font-family: 'DejaVu Sans', 'Liberation Sans', sans-serif; text-anchor: middle" x="356.782" y="236.957" transform="rotate(-0 356.782 236.957)">0.02</text>
</g>
</g>
<g id="xtick_38">
<g id="line2d_44">
<g>
<use href="#m56e8229252" x="406.814961" y="221.958621" style="stroke: #000000; stroke-width: 0.8"/>
</g>
</g>
<g id="text_45">
<text style="font-size: 10px; font-family: 'DejaVu Sans', 'Liberation Sans', sans-serif; text-anchor: middle" x="406.815" y="236.957" transform="rotate(-0 406.815 236.957)">0.03</text>
</g>
</g>
<g id="text_46">
<g transform="translate(314.167 253.187)">
<text>
<tspan x="0" y="-0.976562" style="font-size: 10px; font-family: 'DejaVu Sans', 'Liberation Sans', sans-serif">|</tspan>
<tspan x="11.655273" y="-0.976562" style="font-size: 10px; font-family: 'DejaVu Sans', 'Liberation Sans', sans-serif">−</tspan>
<tspan x="35.267904" y="-0.976562" style="font-size: 10px; font-family: 'DejaVu Sans', 'Liberation Sans', sans-serif">|</tspan>
<tspan x="3.369141" y="-0.976562" style="font-style: oblique; font-size: 10px; font-family: 'DejaVu Sans', 'Liberation Sans', sans-serif">u</tspan>
<tspan x="21.982422" y="-0.976562" style="font-style: oblique; font-size: 10px; font-family: 'DejaVu Sans', 'Liberation Sans', sans-serif">u</tspan>
<tspan x="30.130697" y="-4.804688" style="font-size: 7px; font-family: 'DejaVu Sans', 'Liberation Sans', sans-serif">*</tspan>
</text>
</g>
</g>
</g>
<g id="matplotlib.axis_4"/>
<g id="LineCollection_2"/>
<g id="patch_13">
<path d="M256.72 221.96L256.72 218.23L256.72 214.51L410.32 214.51L410.32 218.23L410.32 221.96L256.72 221.96z" style="fill: none; stroke: #000000; stroke-width: 0.8; stroke-linejoin: miter; stroke-linecap: square"/>
</g>
</g>
</g>
<defs>
<clipPath id="p8c5aa8acc4">
<rect x="-6.041379" y="-13.953103" width="188.524138" height="188.524138"/>
</clipPath>
<clipPath id="pb81ff8636c">
<rect x="239.255172" y="-13.953103" width="188.524138" height="188.524138"/>
</clipPath>
</defs>
</svg>

</body></html>
